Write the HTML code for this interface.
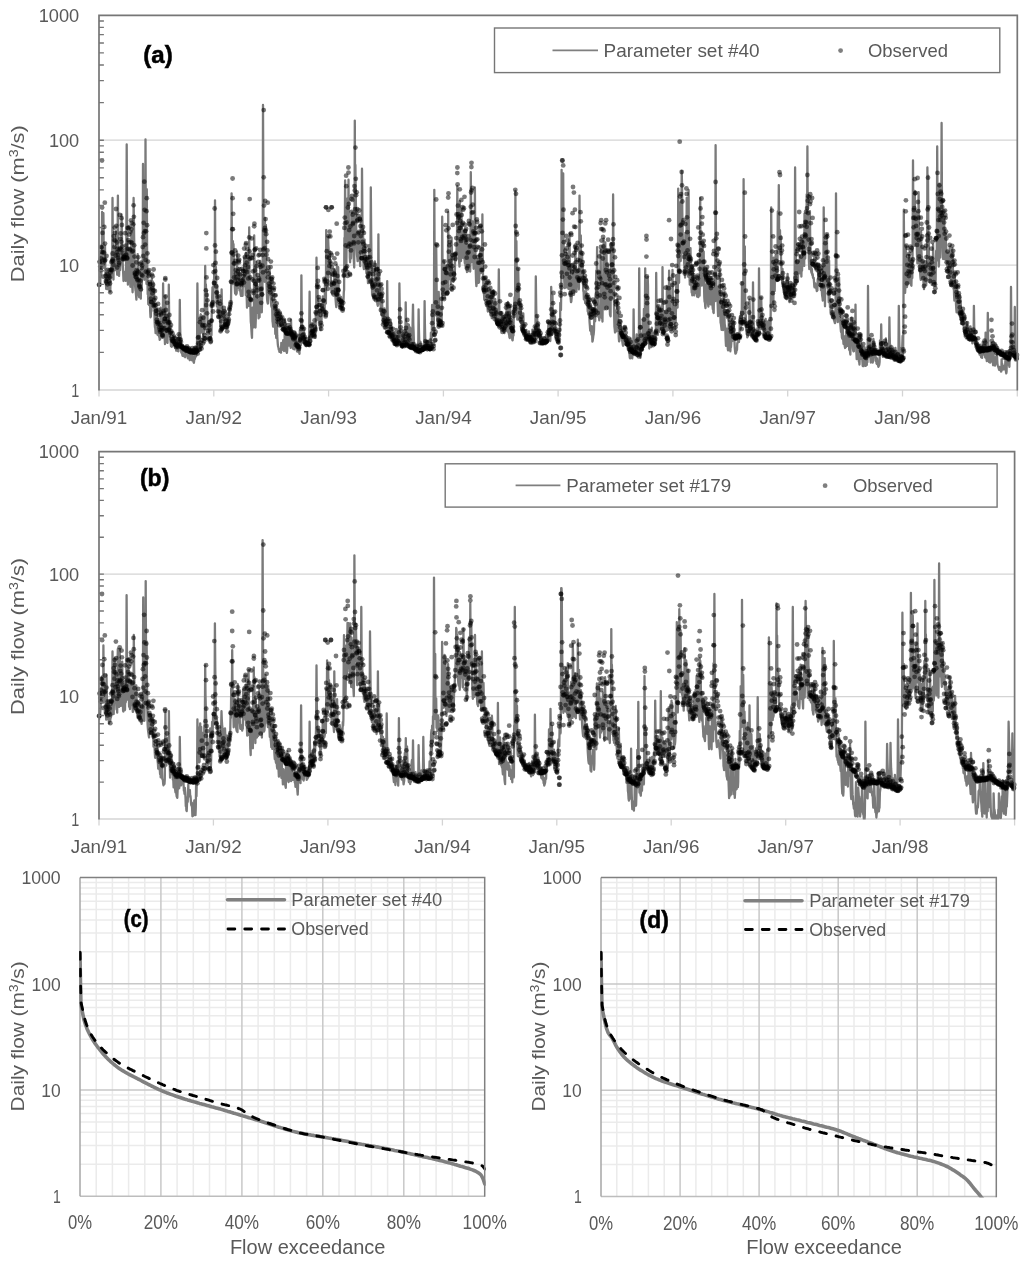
<!DOCTYPE html><html><head><meta charset="utf-8"><title>Figure</title><style>html,body{margin:0;padding:0;background:#fff}svg{display:block}text{font-family:"Liberation Sans",sans-serif}</style></head><body>
<svg width="1024" height="1263" viewBox="0 0 1024 1263">
<rect width="1024" height="1263" fill="#fff"/>
<line x1="99.0" x2="1017.3" y1="265.1" y2="265.1" stroke="#d4d4d4" stroke-width="1.2"/>
<line x1="99.0" x2="1017.3" y1="140.2" y2="140.2" stroke="#d4d4d4" stroke-width="1.2"/>
<line x1="99.0" x2="1017.3" y1="390.0" y2="390.0" stroke="#d4d4d4" stroke-width="1.4"/>
<line x1="99.0" x2="99.0" y1="390.0" y2="396.5" stroke="#d4d4d4" stroke-width="1.3"/>
<line x1="213.8" x2="213.8" y1="390.0" y2="396.5" stroke="#d4d4d4" stroke-width="1.3"/>
<line x1="328.6" x2="328.6" y1="390.0" y2="396.5" stroke="#d4d4d4" stroke-width="1.3"/>
<line x1="443.4" x2="443.4" y1="390.0" y2="396.5" stroke="#d4d4d4" stroke-width="1.3"/>
<line x1="558.1" x2="558.1" y1="390.0" y2="396.5" stroke="#d4d4d4" stroke-width="1.3"/>
<line x1="672.9" x2="672.9" y1="390.0" y2="396.5" stroke="#d4d4d4" stroke-width="1.3"/>
<line x1="787.7" x2="787.7" y1="390.0" y2="396.5" stroke="#d4d4d4" stroke-width="1.3"/>
<line x1="902.5" x2="902.5" y1="390.0" y2="396.5" stroke="#d4d4d4" stroke-width="1.3"/>
<line x1="1017.3" x2="1017.3" y1="390.0" y2="396.5" stroke="#d4d4d4" stroke-width="1.3"/>
<clipPath id="cpa"><rect x="99.0" y="15.3" width="918.3" height="375.3"/></clipPath>
<polyline clip-path="url(#cpa)" points="99,279.8 99.3,285.4 99.6,284.5 99.9,282.8 100.3,284 100.6,253.9 100.9,264 101.2,274.7 101.5,270.7 101.8,271.6 102.1,211.9 102.5,243.8 102.8,256.7 103.1,266.6 103.4,213.2 103.7,248.4 104,268.1 104.3,248.3 104.7,261.2 105,245.6 105.3,269.6 105.6,275.5 105.9,283.3 106.2,289 106.5,278.9 106.9,284.1 107.2,285.7 107.5,289.1 107.8,284.9 108.1,286.7 108.4,289.3 108.7,281.7 109.1,283.1 109.4,288.8 109.7,291.1 110,291.5 110.3,291.4 110.6,274 110.9,275.9 111.3,277.8 111.6,262.5 111.9,254.6 112.2,266.4 112.5,198 112.8,241.8 113.1,265.7 113.5,279.6 113.8,247 114.1,254.7 114.4,265.3 114.7,255.3 115,270.3 115.3,265.1 115.7,267.1 116,231.4 116.3,235.8 116.6,262.4 116.9,268 117.2,274.8 117.5,257.6 117.9,195.6 118.2,234.9 118.5,256.3 118.8,269.3 119.1,275.9 119.4,257.1 119.7,263.8 120.1,270.1 120.4,263.4 120.7,249.6 121,258.9 121.3,259.3 121.6,214.5 121.9,235.1 122.3,248.6 122.6,261.3 122.9,267.3 123.2,273.7 123.5,281 123.8,277.8 124.1,279.2 124.5,278.5 124.8,271.8 125.1,276.4 125.4,278.1 125.7,280.9 126,269.6 126.3,249.2 126.7,144.5 127,207.9 127.3,243.5 127.6,265.3 127.9,284.7 128.2,262.6 128.5,252.5 128.9,269.9 129.2,265 129.5,276.3 129.8,280 130.1,280.1 130.4,286.8 130.7,249.6 131.1,262.8 131.4,231.9 131.7,247.2 132,275 132.3,287.1 132.6,292.3 132.9,278.6 133.3,272.3 133.6,198 133.9,219.6 134.2,241.6 134.5,251.9 134.8,278.4 135.1,286 135.5,290.4 135.8,291.5 136.1,296 136.4,299.6 136.7,291.3 137,269.9 137.3,286 137.7,254.1 138,266.2 138.3,272.1 138.6,291.5 138.9,295.8 139.2,297.2 139.5,289 139.9,294.3 140.2,286.5 140.5,296.1 140.8,298.7 141.1,269.4 141.4,289 141.7,290.5 142.1,268.2 142.4,269.7 142.7,264.9 143,164 143.3,225 143.6,259.6 143.9,265.9 144.3,279.8 144.6,209.5 144.9,242.9 145.2,263 145.5,139.4 145.8,215 146.1,257.7 146.5,283.9 146.8,189.2 147.1,250.7 147.4,278.2 147.7,294.2 148,293.6 148.3,304.2 148.7,298.4 149,305 149.3,283 149.6,301.5 149.9,299.5 150.2,311.7 150.5,317.3 150.9,316.4 151.2,303.1 151.5,311.4 151.8,278.4 152.1,286.1 152.4,300 152.7,281.4 153.1,296.7 153.4,282.7 153.7,302.4 154,289.6 154.3,306.8 154.6,320.8 154.9,327 155.3,328.4 155.6,333.1 155.9,331 156.2,331.5 156.5,307.4 156.8,314.5 157.1,327.5 157.5,334.8 157.8,328.7 158.1,318.9 158.4,329.3 158.7,328.6 159,336.8 159.3,334.8 159.7,339.8 160,339.4 160.3,338.6 160.6,307.7 160.9,316.7 161.2,331.6 161.5,335.1 161.9,331.8 162.2,335.9 162.5,337.9 162.8,331.7 163.1,283.5 163.4,312.5 163.7,307.3 164.1,322.3 164.4,329.3 164.7,338.3 165,344.1 165.3,295.9 165.6,305.3 165.9,326.2 166.3,331.8 166.6,333.5 166.9,337.4 167.2,342.5 167.5,342.9 167.8,325.5 168.1,329.9 168.5,332.1 168.8,284.7 169.1,313.2 169.4,329 169.7,328.6 170,337 170.3,338.1 170.7,342.3 171,346.2 171.3,346.5 171.6,346.8 171.9,346.7 172.2,343.3 172.5,345.4 172.9,343.5 173.2,343.7 173.5,343.9 173.8,343.8 174.1,337.1 174.4,340.4 174.7,347 175.1,348 175.4,342.8 175.7,346.5 176,349 176.3,350.7 176.6,350.5 176.9,338.2 177.3,345.5 177.6,349.5 177.9,351.1 178.2,350.7 178.5,351.3 178.8,336.5 179.1,334.7 179.5,339.7 179.8,299.9 180.1,325 180.4,337.6 180.7,335.7 181,347.6 181.3,352.7 181.7,352 182,351.4 182.3,354.9 182.6,355.8 182.9,355.4 183.2,353.3 183.5,356.2 183.9,354.9 184.2,355.2 184.5,355.5 184.8,356.4 185.1,357.2 185.4,355.3 185.7,352.3 186.1,352.3 186.4,354.1 186.7,351.8 187,352.1 187.3,352.8 187.6,356.2 187.9,358.4 188.3,355.6 188.6,357.5 188.9,353.7 189.2,355.1 189.5,358.8 189.8,360.2 190.1,359.2 190.5,350.6 190.8,354.5 191.1,357.6 191.4,359.6 191.7,359.4 192,360.3 192.3,356.1 192.7,355 193,358.4 193.3,360.2 193.6,362.2 193.9,362.8 194.2,360.4 194.5,358.5 194.9,358.6 195.2,356 195.5,351.2 195.8,354.3 196.1,356.3 196.4,354.1 196.7,353 197.1,338.5 197.4,283.5 197.7,316 198,333.7 198.3,341 198.6,323.4 198.9,327.8 199.3,332.3 199.6,341.3 199.9,321.2 200.2,333 200.5,315.3 200.8,314.3 201.1,324.2 201.5,329.4 201.8,321.2 202.1,332.7 202.4,315.8 202.7,326.4 203,328.1 203.3,335 203.7,323.1 204,332.4 204.3,324 204.6,329 204.9,294.2 205.2,265.9 205.5,299.1 205.9,284.5 206.2,298.5 206.5,310.1 206.8,290.7 207.1,302.9 207.4,316.1 207.7,325.2 208.1,320.9 208.4,325.1 208.7,328.4 209,329.6 209.3,332.6 209.6,329.2 209.9,322.8 210.3,334 210.6,324.9 210.9,338.2 211.2,319.3 211.5,335.2 211.8,306.5 212.1,299.8 212.5,287.4 212.8,293 213.1,291 213.4,303.9 213.7,279.9 214,286.9 214.3,262.4 214.7,274.5 215,200.3 215.3,253 215.6,282.3 215.9,267 216.2,283.7 216.5,301.8 216.9,306.3 217.2,285.2 217.5,304.1 217.8,308.5 218.1,312.6 218.4,312.1 218.7,314.9 219.1,304.9 219.4,309 219.7,306.9 220,318.6 220.3,326.5 220.6,322.8 220.9,313.6 221.3,310.5 221.6,289.4 221.9,302 222.2,309.1 222.5,313.3 222.8,317.5 223.1,314.8 223.5,317 223.8,311.6 224.1,314.1 224.4,320.3 224.7,324.4 225,311.2 225.3,321.7 225.7,310.7 226,314.3 226.3,320.5 226.6,318.3 226.9,318.4 227.2,317.4 227.5,324.8 227.9,320.7 228.2,320.8 228.5,316.2 228.8,316.9 229.1,312.1 229.4,311.5 229.7,309.4 230.1,306.8 230.4,306.1 230.7,306.4 231,304.5 231.3,278.9 231.6,193.3 231.9,244.1 232.3,271.8 232.6,284 232.9,241.1 233.2,257.6 233.5,244.1 233.8,259 234.1,273.8 234.5,275.5 234.8,287.5 235.1,293.5 235.4,283.7 235.7,292.7 236,294.5 236.3,294.1 236.7,293.1 237,251.7 237.3,272.2 237.6,278 237.9,283.4 238.2,287.8 238.5,268.4 238.9,268.7 239.2,279 239.5,290.4 239.8,286.4 240.1,288 240.4,291.7 240.7,294.6 241.1,295.9 241.4,294.7 241.7,294.9 242,290.4 242.3,291.5 242.6,295.8 242.9,278.1 243.3,286.8 243.6,278.2 243.9,283 244.2,257.5 244.5,268.5 244.8,259.7 245.1,270.3 245.5,284.6 245.8,295.2 246.1,252.6 246.4,275.7 246.7,297.5 247,307.7 247.3,257.6 247.7,277 248,302.5 248.3,293.1 248.6,293.2 248.9,305.9 249.2,227.3 249.5,277.5 249.9,293.9 250.2,288.3 250.5,311.2 250.8,321.9 251.1,324.2 251.4,329.4 251.7,334.7 252,337.8 252.4,307.6 252.7,319.8 253,312.6 253.3,323.6 253.6,327.4 253.9,308.1 254.2,235.5 254.6,275.5 254.9,305.2 255.2,317.5 255.5,327.5 255.8,318.6 256.1,262 256.4,281.7 256.8,286.8 257.1,298.4 257.4,308.8 257.7,312.9 258,299.3 258.3,308.6 258.6,318.4 259,307.9 259.3,312.3 259.6,317.2 259.9,287.7 260.2,261 260.5,280.9 260.8,302.4 261.2,305.8 261.5,308.4 261.8,312.3 262.1,299.6 262.4,290.4 262.7,263.4 263,104.9 263.4,199.4 263.7,251.4 264,218.3 264.3,261.6 264.6,281.8 264.9,217.8 265.2,267 265.6,245.1 265.9,224.9 266.2,268.2 266.5,282.7 266.8,291.6 267.1,299.3 267.4,301.7 267.8,303.6 268.1,303.1 268.4,297.8 268.7,294.4 269,279.7 269.3,295.1 269.6,269.6 270,282.4 270.3,291.6 270.6,281.1 270.9,291 271.2,305.2 271.5,306.9 271.8,291.9 272.2,307.5 272.5,321 272.8,323.2 273.1,326.7 273.4,304.2 273.7,308.2 274,308.9 274.4,326.8 274.7,317.4 275,322.8 275.3,334 275.6,306.3 275.9,320.2 276.2,337.9 276.6,310.5 276.9,322.1 277.2,335.7 277.5,339.8 277.8,344.1 278.1,346.7 278.4,347.2 278.8,349.9 279.1,349.9 279.4,351.9 279.7,351.8 280,349.3 280.3,349 280.6,351.1 281,352.6 281.3,342.8 281.6,346.4 281.9,345.9 282.2,349.8 282.5,348.6 282.8,348.3 283.2,340.1 283.5,343.4 283.8,350.3 284.1,351 284.4,350.4 284.7,331.6 285,319.2 285.4,336.9 285.7,341.9 286,346.4 286.3,351.8 286.6,351.8 286.9,352.8 287.2,350.2 287.6,336.6 287.9,337.4 288.2,337.6 288.5,335.3 288.8,342.2 289.1,345.7 289.4,345.1 289.8,330.1 290.1,338.8 290.4,343.9 290.7,347.9 291,319.7 291.3,330.2 291.6,339.2 292,343.3 292.3,345.6 292.6,346.9 292.9,346.9 293.2,348.9 293.5,349 293.8,334.6 294.2,341.5 294.5,349.4 294.8,335.8 295.1,333.5 295.4,345 295.7,344.3 296,336.5 296.4,344.5 296.7,347.6 297,351.2 297.3,351.6 297.6,351.3 297.9,345 298.2,347.6 298.6,349.9 298.9,351.5 299.2,352.6 299.5,353.8 299.8,330.4 300.1,332.7 300.4,341.5 300.8,345.3 301.1,326.7 301.4,275.3 301.7,309.9 302,322.5 302.3,332.3 302.6,340.9 303,332.6 303.3,343.2 303.6,340.6 303.9,329 304.2,336.4 304.5,341.6 304.8,337.6 305.2,340.4 305.5,340.9 305.8,342.5 306.1,346.1 306.4,346.2 306.7,345.1 307,345.1 307.4,344.5 307.7,341.8 308,341.5 308.3,342.4 308.6,340.5 308.9,343.5 309.2,330.6 309.6,291.7 309.9,314.7 310.2,327.1 310.5,334.4 310.8,331.2 311.1,334.4 311.4,334.1 311.8,329.8 312.1,332.6 312.4,325.6 312.7,324.1 313,328.3 313.3,329.6 313.6,333.7 314,335.9 314.3,337.4 314.6,334.8 314.9,336.7 315.2,337.7 315.5,337.8 315.8,314.7 316.2,316.8 316.5,257.7 316.8,293 317.1,312.4 317.4,285.4 317.7,300.9 318,320 318.4,308.3 318.7,313.4 319,325 319.3,316.7 319.6,323.8 319.9,328.2 320.2,328.7 320.6,330.1 320.9,316.9 321.2,322.4 321.5,320.9 321.8,308.5 322.1,311.7 322.4,311.1 322.8,296.4 323.1,308.9 323.4,311.8 323.7,310.4 324,309.7 324.3,310.5 324.6,315.3 325,278.3 325.3,290.9 325.6,297.8 325.9,303.6 326.2,230.1 326.5,266.1 326.8,278.9 327.2,274.6 327.5,279.7 327.8,286 328.1,237 328.4,245.9 328.7,250.2 329,254.2 329.4,273.5 329.7,251.2 330,263.8 330.3,270.9 330.6,277.9 330.9,277.6 331.2,287.6 331.6,292.3 331.9,292.2 332.2,294.1 332.5,294.7 332.8,295.3 333.1,286 333.4,282.4 333.8,290.8 334.1,295.9 334.4,269.2 334.7,282.8 335,290.9 335.3,294.7 335.6,299.4 336,304.6 336.3,307.1 336.6,304.9 336.9,265.2 337.2,277.7 337.5,291.1 337.8,294.5 338.2,267.1 338.5,282.2 338.8,298.3 339.1,301.4 339.4,294.8 339.7,302 340,301.6 340.4,302.4 340.7,306.1 341,296.9 341.3,299.5 341.6,302.7 341.9,301.4 342.2,307.3 342.6,305.6 342.9,300.6 343.2,301.4 343.5,301.1 343.8,292.1 344.1,289.9 344.4,238 344.8,241.4 345.1,180.4 345.4,229.7 345.7,251.3 346,256.4 346.3,270.1 346.6,245 347,198.6 347.3,225.9 347.6,247.3 347.9,200 348.2,236.1 348.5,179.7 348.8,219.5 349.2,225.8 349.5,239.4 349.8,257.2 350.1,262.3 350.4,229.6 350.7,246.3 351,258.5 351.4,214.8 351.7,238.6 352,248.5 352.3,212.3 352.6,229.6 352.9,241.5 353.2,241 353.6,256.1 353.9,261.8 354.2,267.5 354.5,233.3 354.8,120.6 355.1,187.8 355.4,165 355.8,196.6 356.1,219.9 356.4,243.6 356.7,248.4 357,255.1 357.3,257.4 357.6,261.1 358,248.5 358.3,254.1 358.6,232 358.9,247.7 359.2,242.4 359.5,245.4 359.8,257.7 360.2,266.2 360.5,233 360.8,220.3 361.1,236.8 361.4,252.4 361.7,247.5 362,168.7 362.4,216.5 362.7,243.6 363,229 363.3,254.4 363.6,267.1 363.9,269.2 364.2,264.6 364.6,239.6 364.9,249.7 365.2,248.3 365.5,258.8 365.8,257.4 366.1,263 366.4,273.1 366.8,267.8 367.1,259.4 367.4,272.6 367.7,276.6 368,283.1 368.3,282.8 368.6,278.9 369,245.1 369.3,265.1 369.6,272.4 369.9,260.6 370.2,265.5 370.5,266.6 370.8,187.4 371.2,235.7 371.5,263 371.8,279.9 372.1,294.7 372.4,292.8 372.7,296.3 373,282.2 373.4,289.7 373.7,297.3 374,286.9 374.3,295.6 374.6,290.5 374.9,261.4 375.2,281 375.6,291.7 375.9,273 376.2,277.8 376.5,284.7 376.8,292.1 377.1,299.4 377.4,304.3 377.8,305.8 378.1,289.1 378.4,234.3 378.7,270.4 379,291.1 379.3,274.8 379.6,294.2 380,297.1 380.3,305 380.6,304.9 380.9,311.5 381.2,313.5 381.5,315.1 381.8,293.4 382.2,305.2 382.5,314 382.8,321.5 383.1,321.6 383.4,311.6 383.7,317.4 384,320.5 384.4,308.3 384.7,319.8 385,325 385.3,312.8 385.6,319.4 385.9,326.6 386.2,322.3 386.6,326.1 386.9,313.8 387.2,281.2 387.5,305.4 387.8,319.2 388.1,327.8 388.4,326.8 388.8,331.9 389.1,320.5 389.4,323.2 389.7,328.4 390,330.5 390.3,335.9 390.6,319.6 391,323.2 391.3,329 391.6,330.3 391.9,335.7 392.2,336.1 392.5,339.6 392.8,331.5 393.2,334.4 393.5,335.7 393.8,335.7 394.1,335.6 394.4,340.1 394.7,332.1 395,336.3 395.4,333.2 395.7,336.1 396,328.9 396.3,331.7 396.6,332.5 396.9,337.7 397.2,336.7 397.6,341.1 397.9,329.5 398.2,337.4 398.5,336.4 398.8,336.2 399.1,330.6 399.4,283.5 399.8,311.9 400.1,327.8 400.4,332.7 400.7,338.7 401,341.8 401.3,345.3 401.6,347.4 402,345.9 402.3,347.8 402.6,345.9 402.9,332.8 403.2,334.4 403.5,341.2 403.8,341.8 404.2,340.4 404.5,344.6 404.8,345.9 405.1,346.5 405.4,337.3 405.7,302.3 406,323.4 406.4,335.2 406.7,342.3 407,340.6 407.3,344.9 407.6,324 407.9,333.4 408.2,342.5 408.6,344.5 408.9,324.7 409.2,335.5 409.5,326.9 409.8,334.8 410.1,337 410.4,343.9 410.8,328.3 411.1,331 411.4,336.9 411.7,335.8 412,343.1 412.3,345.4 412.6,323.2 413,304.6 413.3,324.5 413.6,331.7 413.9,340.8 414.2,345.4 414.5,348.7 414.8,346.5 415.2,347.2 415.5,347.9 415.8,348.5 416.1,350.2 416.4,350 416.7,349.1 417,349.2 417.4,348.6 417.7,347.7 418,344.2 418.3,341.7 418.6,309.3 418.9,328.7 419.2,339.5 419.6,345.9 419.9,346.8 420.2,345.7 420.5,341.9 420.8,345.5 421.1,349 421.4,350.7 421.8,349.6 422.1,349.8 422.4,350.3 422.7,350.5 423,349.3 423.3,349.3 423.6,349.5 424,348 424.3,339.3 424.6,301.1 424.9,324 425.2,336.7 425.5,344.3 425.8,347.8 426.2,347.3 426.5,347.4 426.8,341.5 427.1,344.1 427.4,345.5 427.7,341 428,345.5 428.4,345.8 428.7,345.4 429,347.6 429.3,348.6 429.6,348.1 429.9,350.6 430.2,349.3 430.6,348 430.9,332.7 431.2,335.5 431.5,337.5 431.8,337.8 432.1,305 432.4,308.5 432.8,321.8 433.1,325.5 433.4,332.8 433.7,335.5 434,302.6 434.3,189.8 434.6,256.6 435,293 435.3,314.3 435.6,309.5 435.9,315.4 436.2,245.3 436.5,273.2 436.8,311.2 437.2,313.6 437.5,322.4 437.8,325.3 438.1,322.2 438.4,325.4 438.7,291.9 439,301.1 439.4,310.5 439.7,319.8 440,324.5 440.3,320.6 440.6,317.7 440.9,321.6 441.2,317.4 441.6,323 441.9,290.4 442.2,216.7 442.5,260 442.8,283.4 443.1,290.6 443.4,293.7 443.8,261 444.1,279.7 444.4,287.5 444.7,281.3 445,287.3 445.3,292.6 445.6,294.6 446,265.3 446.3,269.2 446.6,276.6 446.9,281.5 447.2,290.7 447.5,290.2 447.8,291 448.2,212.2 448.5,260.5 448.8,267.4 449.1,279.2 449.4,260.8 449.7,275.6 450,274.2 450.4,269.4 450.7,283.9 451,242.3 451.3,259.8 451.6,237.7 451.9,249.8 452.2,272.5 452.6,273.3 452.9,281.6 453.2,279.3 453.5,281.8 453.8,270.8 454.1,274 454.4,274.2 454.8,275.6 455.1,258.7 455.4,260.2 455.7,260.9 456,255.2 456.3,258.6 456.6,248.6 457,240.7 457.3,186.2 457.6,224.8 457.9,246.5 458.2,218.6 458.5,229.9 458.8,248.2 459.2,262.7 459.5,266.6 459.8,201 460.1,215.5 460.4,241.4 460.7,251.9 461,261 461.4,210.1 461.7,224 462,238 462.3,248.5 462.6,243.9 462.9,253 463.2,257.9 463.6,258.3 463.9,230.8 464.2,247.2 464.5,256.4 464.8,263.1 465.1,248.2 465.4,264.7 465.8,267.6 466.1,232.3 466.4,248.1 466.7,268.6 467,272.1 467.3,244.1 467.6,255.3 468,263.1 468.3,267.2 468.6,268.3 468.9,271.2 469.2,244.9 469.5,257.8 469.8,264.7 470.2,271.5 470.5,255.9 470.8,172.2 471.1,208.5 471.4,244.5 471.7,262 472,249.5 472.4,256.5 472.7,221.3 473,251.3 473.3,260.2 473.6,268.8 473.9,262.8 474.2,257.6 474.6,261.6 474.9,187.4 475.2,232.1 475.5,257 475.8,272.1 476.1,282.4 476.4,286.1 476.8,282.7 477.1,281.1 477.4,282.2 477.7,259.4 478,275.2 478.3,278.8 478.6,282.9 479,282.3 479.3,276.3 479.6,254.9 479.9,264.7 480.2,250.4 480.5,261 480.8,273.2 481.2,258.7 481.5,267 481.8,255.2 482.1,254.9 482.4,214.4 482.7,252.2 483,273.9 483.4,287.2 483.7,293 484,294.3 484.3,299.8 484.6,291 484.9,297.9 485.2,278.4 485.6,286.3 485.9,297.6 486.2,299.4 486.5,293.7 486.8,287.7 487.1,300.3 487.4,306.2 487.8,311.5 488.1,291.1 488.4,304 488.7,309.7 489,293.1 489.3,304.9 489.6,304.7 490,312.5 490.3,290.3 490.6,305.6 490.9,306.9 491.2,310.1 491.5,313.7 491.8,318.2 492.2,297.9 492.5,304.5 492.8,297.6 493.1,303.6 493.4,290.4 493.7,304.9 494,312.7 494.4,316.7 494.7,309 495,304.4 495.3,299.2 495.6,307.2 495.9,317.2 496.2,323 496.6,321.7 496.9,321.7 497.2,324.6 497.5,319.6 497.8,323.6 498.1,316.7 498.4,314.3 498.8,269.5 499.1,296.8 499.4,312.3 499.7,320.2 500,324.3 500.3,317.9 500.6,319.8 501,325.6 501.3,312 501.6,318.6 501.9,324.2 502.2,327.9 502.5,327.9 502.8,319.2 503.2,318.2 503.5,322.5 503.8,327 504.1,329.2 504.4,333.1 504.7,322.1 505,318 505.4,326.1 505.7,323.6 506,322.1 506.3,330.7 506.6,305.5 506.9,316.1 507.2,325.6 507.6,331.7 507.9,302 508.2,318.7 508.5,327.7 508.8,334 509.1,334 509.4,337.2 509.8,338.1 510.1,306.2 510.4,323.4 510.7,328 511,331.8 511.3,332.7 511.6,333.6 512,335.4 512.3,339.8 512.6,340.3 512.9,337.3 513.2,335.4 513.5,335.5 513.8,309.9 514.2,306.5 514.5,297.5 514.8,310.1 515.1,299.4 515.4,190.9 515.7,255 516,290.6 516.4,241.1 516.7,277.4 517,307.7 517.3,319.6 517.6,311.2 517.9,314.4 518.2,268.6 518.6,288.5 518.9,310.3 519.2,315.6 519.5,313.3 519.8,318.4 520.1,321.7 520.4,321.6 520.8,304.7 521.1,319.9 521.4,323.4 521.7,322.4 522,324.4 522.3,325.6 522.6,326.4 523,329.8 523.3,313.5 523.6,323.6 523.9,325.2 524.2,330.4 524.5,331.3 524.8,332.7 525.2,335.1 525.5,338 525.8,339.1 526.1,339.6 526.4,329.8 526.7,333.8 527,336.8 527.4,338.3 527.7,339.2 528,337.8 528.3,339.8 528.6,337.7 528.9,331.4 529.2,336.9 529.6,336.5 529.9,338.8 530.2,336.3 530.5,336.6 530.8,336.9 531.1,338.4 531.4,336.4 531.8,337 532.1,338 532.4,329.6 532.7,330.7 533,333.1 533.3,337.4 533.6,339.8 534,338.4 534.3,337.3 534.6,338 534.9,340.8 535.2,327 535.5,325.7 535.8,276.5 536.2,306 536.5,322.5 536.8,332.4 537.1,316.1 537.4,323.4 537.7,327.6 538,326.3 538.4,335.5 538.7,325.7 539,332.2 539.3,330.4 539.6,336.1 539.9,337.1 540.2,339.5 540.6,340.1 540.9,334.3 541.2,336.8 541.5,340.6 541.8,341.1 542.1,339.7 542.4,339.6 542.8,340.2 543.1,339.3 543.4,339.4 543.7,340.8 544,342 544.3,337.4 544.6,338.4 545,337.9 545.3,338.1 545.6,340.3 545.9,340.8 546.2,342.7 546.5,342.4 546.8,340.9 547.2,342.6 547.5,342.6 547.8,342.4 548.1,333.9 548.4,322.6 548.7,330 549,331.1 549.4,338.8 549.7,323.1 550,335.4 550.3,341 550.6,330.5 550.9,329.2 551.2,287 551.6,312.3 551.9,326.4 552.2,334.8 552.5,296.2 552.8,319.3 553.1,330.2 553.4,333.4 553.8,328.5 554.1,327.2 554.4,329.6 554.7,332.6 555,316.5 555.3,329.5 555.6,337.4 556,338.2 556.3,339.3 556.6,333.2 556.9,337.7 557.2,336.9 557.5,340.2 557.8,340.5 558.1,333.3 558.5,341.6 558.8,340.1 559.1,338.3 559.4,336.7 559.7,331.3 560,329.7 560.3,302.8 560.7,307.3 561,310.1 561.3,285.8 561.6,169.8 561.9,237.3 562.2,273.1 562.5,250 562.9,260 563.2,173.4 563.5,233.9 563.8,260.4 564.1,276.4 564.4,283.4 564.7,288.2 565.1,273.8 565.4,255.6 565.7,268.8 566,280.7 566.3,287.3 566.6,253.1 566.9,267.4 567.3,287.4 567.6,276 567.9,264.8 568.2,274.7 568.5,289.1 568.8,266.8 569.1,259.1 569.5,233.1 569.8,264.1 570.1,281.3 570.4,291.6 570.7,298.6 571,302.1 571.3,301.6 571.7,297.5 572,280.6 572.3,293.4 572.6,274 572.9,286.7 573.2,289.4 573.5,293.6 573.9,294.9 574.2,293.1 574.5,261.9 574.8,283.2 575.1,276.3 575.4,248 575.7,269.7 576.1,281.1 576.4,291.8 576.7,269.6 577,278.5 577.3,282.7 577.6,285.8 577.9,276.6 578.3,281.4 578.6,284.7 578.9,289.4 579.2,270.6 579.5,195.6 579.8,240.3 580.1,265 580.5,277.9 580.8,235.4 581.1,270.5 581.4,275.7 581.7,280.5 582,253.8 582.3,260.4 582.7,268.9 583,282.9 583.3,291.1 583.6,291.5 583.9,299.4 584.2,291.2 584.5,297.8 584.9,299.1 585.2,303.1 585.5,299.3 585.8,291.3 586.1,301.3 586.4,292.5 586.7,297.5 587.1,305.6 587.4,302.7 587.7,311.2 588,311.6 588.3,314.5 588.6,300.5 588.9,311.1 589.3,316.6 589.6,322.4 589.9,326.2 590.2,330.7 590.5,329.3 590.8,330.5 591.1,330.2 591.5,334.7 591.8,326.1 592.1,333.5 592.4,341.7 592.7,340.7 593,338.7 593.3,335.9 593.7,334 594,330.3 594.3,317.5 594.6,312.4 594.9,321.5 595.2,320.9 595.5,294.8 595.9,299.6 596.2,270.7 596.5,293.3 596.8,271.6 597.1,247.2 597.4,279 597.7,296.9 598.1,307.8 598.4,316.9 598.7,314.8 599,316.8 599.3,320.3 599.6,315.3 599.9,312.4 600.3,313.7 600.6,249.6 600.9,275.2 601.2,295.5 601.5,311.3 601.8,318.2 602.1,315.8 602.5,321.6 602.8,275.4 603.1,286.7 603.4,263.7 603.7,238.6 604,284.4 604.3,305.7 604.7,309.4 605,298.3 605.3,242.5 605.6,259.9 605.9,278.8 606.2,304.8 606.5,253.7 606.9,281.6 607.2,298.7 607.5,308.7 607.8,264.8 608.1,295 608.4,306.7 608.7,290.7 609.1,270.3 609.4,282.7 609.7,307.8 610,314.8 610.3,315.4 610.6,316.3 610.9,243 611.3,256.4 611.6,255.4 611.9,290.7 612.2,271.3 612.5,297.7 612.8,296.7 613.1,194.5 613.5,256.5 613.8,291.4 614.1,312.8 614.4,326.3 614.7,329 615,332.5 615.3,310.6 615.7,322.6 616,329.4 616.3,331.4 616.6,330.1 616.9,307 617.2,298.9 617.5,310.2 617.9,319.3 618.2,316.9 618.5,325.6 618.8,337.8 619.1,341.4 619.4,340.8 619.7,331 620.1,332.4 620.4,332.5 620.7,323.9 621,331.7 621.3,337.1 621.6,337.5 621.9,338.8 622.3,341.3 622.6,343.5 622.9,345.3 623.2,345.7 623.5,334.7 623.8,341.2 624.1,340.9 624.5,335.9 624.8,341.2 625.1,344 625.4,340 625.7,345 626,335.9 626.3,338.7 626.7,341 627,336.2 627.3,340.7 627.6,347.4 627.9,349.8 628.2,338.4 628.5,343 628.9,339.7 629.2,349.2 629.5,354.2 629.8,357.7 630.1,358.4 630.4,347.7 630.7,338.4 631.1,352.9 631.4,353.9 631.7,355.6 632,354.8 632.3,358.4 632.6,350.4 632.9,351.9 633.3,348.8 633.6,309.3 633.9,333 634.2,346.2 634.5,352.8 634.8,350.2 635.1,351.1 635.5,348.7 635.8,350.6 636.1,353.4 636.4,339.2 636.7,334.3 637,341.2 637.3,344.9 637.7,352.3 638,335.4 638.3,347.9 638.6,349.2 638.9,337.9 639.2,268.3 639.5,309.7 639.9,332.5 640.2,346 640.5,357.8 640.8,333.5 641.1,347.6 641.4,348.9 641.7,347.8 642.1,350 642.4,349.7 642.7,319.5 643,333.7 643.3,334.2 643.6,339 643.9,308.9 644.3,322.7 644.6,329.5 644.9,310.2 645.2,268.3 645.5,306.8 645.8,328.1 646.1,338.2 646.5,343.5 646.8,288.2 647.1,317.2 647.4,297.7 647.7,277 648,286 648.3,323.9 648.7,334 649,340.5 649.3,348.5 649.6,329.8 649.9,339.5 650.2,344.8 650.5,346.7 650.9,346.4 651.2,347 651.5,347 651.8,327.7 652.1,333.6 652.4,338.2 652.7,342.9 653.1,334.5 653.4,340 653.7,342.7 654,334.6 654.3,336.9 654.6,343.1 654.9,344.8 655.3,341.9 655.6,342.7 655.9,327.7 656.2,273 656.5,305.6 656.8,323.6 657.1,324.1 657.5,330.5 657.8,334.9 658.1,306.6 658.4,320.4 658.7,312.4 659,329 659.3,331.8 659.7,322.3 660,329.2 660.3,329.2 660.6,328.8 660.9,307.9 661.2,313.8 661.5,314.6 661.9,323.2 662.2,322.5 662.5,267.1 662.8,300.1 663.1,318.3 663.4,329 663.7,334.1 664.1,332.3 664.4,311.2 664.7,323.1 665,314.4 665.3,322.2 665.6,327.6 665.9,329.4 666.3,331.1 666.6,331.1 666.9,286 667.2,307.6 667.5,318.1 667.8,320.8 668.1,326.6 668.5,329.8 668.8,320.4 669.1,270.6 669.4,300.4 669.7,283.3 670,314.9 670.3,317.6 670.7,326.8 671,313.5 671.3,324 671.6,328.2 671.9,327.4 672.2,327.4 672.5,269.9 672.9,305.4 673.2,309.5 673.5,305.7 673.8,314.2 674.1,316.5 674.4,324.2 674.7,307.9 675.1,314 675.4,322.3 675.7,322 676,306.7 676.3,275.2 676.6,283.8 676.9,296.5 677.3,303 677.6,307.6 677.9,281.2 678.2,188.6 678.5,241.3 678.8,268.4 679.1,282.8 679.5,202.6 679.8,229.9 680.1,217.4 680.4,251 680.7,261.1 681,230.3 681.3,243.5 681.7,171 682,183.3 682.3,212.4 682.6,230.5 682.9,243.3 683.2,253.5 683.5,240.7 683.9,254.9 684.2,263.2 684.5,270.5 684.8,271 685.1,277.6 685.4,232.9 685.7,254.1 686.1,266 686.4,269.8 686.7,197.8 687,231.2 687.3,249.2 687.6,264.8 687.9,275.1 688.3,276.8 688.6,189.9 688.9,246.1 689.2,266.5 689.5,275.8 689.8,284.6 690.1,262.5 690.5,248.1 690.8,268.9 691.1,278.9 691.4,286.6 691.7,292.7 692,291.2 692.3,295.3 692.7,265.9 693,283.9 693.3,282.3 693.6,283.8 693.9,290.6 694.2,295.4 694.5,285.6 694.9,289.4 695.2,292.8 695.5,286.6 695.8,290 696.1,281 696.4,287.2 696.7,292.3 697.1,296.6 697.4,295.7 697.7,293.5 698,294.6 698.3,297.2 698.6,279 698.9,283.6 699.3,293.9 699.6,295.7 699.9,279.1 700.2,198 700.5,247.2 700.8,258.7 701.1,269.1 701.5,275.6 701.8,285.7 702.1,251 702.4,267.3 702.7,246.1 703,259.8 703.3,251.4 703.7,251.6 704,284.2 704.3,297.4 704.6,301.8 704.9,300.9 705.2,306.4 705.5,308 705.9,299.5 706.2,284.3 706.5,296.4 706.8,268.4 707.1,277 707.4,289.8 707.7,294.8 708.1,304.5 708.4,306.6 708.7,281.2 709,288.9 709.3,293.4 709.6,282.7 709.9,292.9 710.3,299.8 710.6,304.4 710.9,288.8 711.2,293.3 711.5,303.1 711.8,286.6 712.1,300.6 712.5,305.6 712.8,309.1 713.1,308.1 713.4,312.5 713.7,313 714,287.8 714.3,290.1 714.7,300 715,301.2 715.3,259.1 715.6,145.2 715.9,224.5 716.2,268.8 716.5,295.5 716.9,300.9 717.2,286.4 717.5,297.8 717.8,308.5 718.1,316.2 718.4,309.2 718.7,314.2 719.1,314.8 719.4,290.8 719.7,270.3 720,294.7 720.3,313 720.6,322.6 720.9,323.7 721.3,327.2 721.6,329.8 721.9,320.5 722.2,305.9 722.5,321.3 722.8,327.1 723.1,330.1 723.5,303 723.8,316.5 724.1,292.8 724.4,316.3 724.7,324.2 725,325.8 725.3,328.8 725.7,340.4 726,345.9 726.3,345.9 726.6,343.1 726.9,328.6 727.2,338.5 727.5,343.4 727.9,349.8 728.2,350.3 728.5,333.8 728.8,320.8 729.1,321.5 729.4,335.3 729.7,338.6 730.1,340.8 730.4,351.4 730.7,342.9 731,347.3 731.3,342.6 731.6,338 731.9,318.7 732.3,332.4 732.6,340.8 732.9,321.9 733.2,334.5 733.5,337.9 733.8,321.7 734.1,332.9 734.5,341.7 734.8,348.2 735.1,351.3 735.4,353.7 735.7,353.5 736,353 736.3,351.9 736.7,348.3 737,350 737.3,343 737.6,342.8 737.9,341.2 738.2,338.4 738.5,340.6 738.9,342 739.2,339.3 739.5,337.6 739.8,317.6 740.1,324.5 740.4,324.2 740.7,329 741.1,311.3 741.4,315.9 741.7,325.4 742,282.4 742.3,292.9 742.6,306 742.9,314.7 743.3,299.9 743.6,179.2 743.9,251.6 744.2,291.7 744.5,281.1 744.8,246.3 745.1,293.7 745.5,319.2 745.8,315.1 746.1,329 746.4,330.7 746.7,334.1 747,332.2 747.3,337.4 747.7,332.4 748,336.3 748.3,333.9 748.6,333.9 748.9,328 749.2,330.9 749.5,299.7 749.9,315 750.2,326.7 750.5,330.6 750.8,331.1 751.1,321.4 751.4,324.8 751.7,326.6 752.1,334.7 752.4,331.9 752.7,323.9 753,282.3 753.3,307.2 753.6,321 753.9,329.2 754.3,335.2 754.6,336.1 754.9,334.5 755.2,332.6 755.5,335.6 755.8,335.9 756.1,336.5 756.5,334.4 756.8,337.3 757.1,332.3 757.4,328.3 757.7,331.2 758,325 758.3,329.4 758.7,319.3 759,268.3 759.3,298.5 759.6,314.7 759.9,324.1 760.2,314.9 760.5,320.8 760.9,323 761.2,297.6 761.5,308.5 761.8,315.5 762.1,322.9 762.4,324.5 762.7,326.2 763.1,323.3 763.4,325.6 763.7,327 764,321.8 764.3,331.4 764.6,321.6 764.9,326.7 765.3,321.3 765.6,318.9 765.9,332.6 766.2,324.2 766.5,333.2 766.8,324.7 767.1,321.6 767.5,332.4 767.8,329.6 768.1,322.7 768.4,331.3 768.7,320.9 769,326.9 769.3,333.2 769.7,338.3 770,336.1 770.3,329.5 770.6,323.4 770.9,287.6 771.2,207.3 771.5,254.4 771.9,279.7 772.2,260.2 772.5,282.3 772.8,298.5 773.1,300.1 773.4,304.1 773.7,257.7 774.1,284.9 774.4,289.7 774.7,291.1 775,266.2 775.3,275.5 775.6,255.2 775.9,272 776.3,274.8 776.6,276.8 776.9,281.1 777.2,280.5 777.5,261.9 777.8,211.5 778.1,225.2 778.5,235.8 778.8,185.1 779.1,229.3 779.4,245.7 779.7,251.3 780,230.2 780.3,247.5 780.7,235.8 781,257.2 781.3,264.9 781.6,271.8 781.9,276.1 782.2,282.7 782.5,268.8 782.9,280.2 783.2,282.4 783.5,287.6 783.8,287.5 784.1,289.6 784.4,291 784.7,293.5 785.1,293.2 785.4,295.1 785.7,296.4 786,297.3 786.3,299 786.6,299.3 786.9,279 787.3,277.9 787.6,273.8 787.9,287.9 788.2,295.7 788.5,290.2 788.8,296.6 789.1,301.4 789.5,302 789.8,296 790.1,285.6 790.4,295.4 790.7,295 791,296.8 791.3,298.7 791.7,294.2 792,294.4 792.3,294.8 792.6,294.1 792.9,293.1 793.2,292.8 793.5,297.2 793.9,293.1 794.2,293.3 794.5,294.8 794.8,253.5 795.1,167.5 795.4,219 795.7,247.5 796.1,264.5 796.4,283.9 796.7,281 797,278.6 797.3,281 797.6,281.9 797.9,281.4 798.3,264.2 798.6,267.1 798.9,268.3 799.2,270.7 799.5,273.3 799.8,255.1 800.1,256.2 800.5,263.5 800.8,272.8 801.1,271.2 801.4,276.6 801.7,258.6 802,270.8 802.3,263.6 802.7,257 803,238.9 803.3,245.8 803.6,257.3 803.9,263.7 804.2,265.9 804.5,213.6 804.9,244.5 805.2,258.5 805.5,240.3 805.8,228.1 806.1,246.5 806.4,241.9 806.7,194.3 807.1,227.7 807.4,146.4 807.7,206.2 808,230.9 808.3,215.9 808.6,235.6 808.9,260.1 809.3,269.1 809.6,219.1 809.9,211.1 810.2,238.8 810.5,248.4 810.8,262.5 811.1,270.8 811.5,272.7 811.8,268.8 812.1,273.9 812.4,275.1 812.7,274.1 813,277.7 813.3,278.2 813.7,277.8 814,281.5 814.3,286.3 814.6,287.3 814.9,284.7 815.2,283.3 815.5,285.3 815.9,286.5 816.2,288.3 816.5,289.1 816.8,291.1 817.1,290.6 817.4,290.4 817.7,279.2 818.1,282.2 818.4,266.2 818.7,266.7 819,273 819.3,276.7 819.6,283 819.9,271.8 820.3,281.8 820.6,284.1 820.9,290.2 821.2,286.3 821.5,286.5 821.8,290.1 822.1,295.2 822.5,297.5 822.8,300.6 823.1,268.7 823.4,279.9 823.7,207.3 824,251.4 824.3,276.2 824.7,291.5 825,306.3 825.3,279.9 825.6,242.5 825.9,257.8 826.2,272.3 826.5,239.3 826.9,234.6 827.2,265.5 827.5,281 827.8,288.2 828.1,275.2 828.4,290.5 828.7,302.2 829.1,260.5 829.4,294.8 829.7,300.9 830,307.3 830.3,301.8 830.6,312.7 830.9,314.4 831.3,312.5 831.6,313 831.9,304.3 832.2,311.8 832.5,311.8 832.8,313.6 833.1,315.3 833.5,316.5 833.8,318.3 834.1,320.8 834.4,320.3 834.7,322.7 835,323.1 835.3,321.9 835.7,291.8 836,193.3 836.3,252.8 836.6,286.2 836.9,306.6 837.2,314.5 837.5,316.9 837.9,322.2 838.2,304.1 838.5,310.9 838.8,319.3 839.1,277.5 839.4,305.4 839.7,317.2 840.1,320.2 840.4,324.7 840.7,328.7 841,332 841.3,328.3 841.6,332.2 841.9,337.3 842.3,338.6 842.6,325 842.9,331.1 843.2,339.5 843.5,344 843.8,341.5 844.1,344 844.5,340.8 844.8,346.6 845.1,348 845.4,335.9 845.7,343.2 846,346.9 846.3,332.1 846.7,322.6 847,329.9 847.3,327 847.6,344.2 847.9,345.8 848.2,327.5 848.5,337.7 848.9,343.3 849.2,349.7 849.5,350.3 849.8,348.4 850.1,352.5 850.4,354.6 850.7,322.5 851.1,335.8 851.4,317.8 851.7,318 852,325.6 852.3,338.7 852.6,341.6 852.9,348.6 853.3,350.8 853.6,351.3 853.9,351.2 854.2,322.3 854.5,329.5 854.8,341 855.1,345.8 855.5,304.6 855.8,329.7 856.1,343.9 856.4,352.6 856.7,359.2 857,351.8 857.3,357.8 857.7,334.1 858,343.2 858.3,350.4 858.6,358.4 858.9,361.5 859.2,362.1 859.5,364.5 859.9,351.3 860.2,359.2 860.5,334.9 860.8,342.6 861.1,352.1 861.4,344.2 861.7,348.7 862.1,351.6 862.4,361 862.7,366 863,362.6 863.3,365.8 863.6,366.1 863.9,360.8 864.2,356.8 864.6,362.7 864.9,364.1 865.2,365.2 865.5,365.3 865.8,365.8 866.1,357 866.4,361.7 866.8,365 867.1,356.7 867.4,362.2 867.7,348.2 868,285.9 868.3,323.2 868.6,343.8 869,356.1 869.3,355.2 869.6,356.7 869.9,340.5 870.2,355.8 870.5,358.6 870.8,362.5 871.2,357.8 871.5,349.2 871.8,356.7 872.1,347.2 872.4,356.7 872.7,362.6 873,360.7 873.4,338.8 873.7,341.9 874,343.4 874.3,351.5 874.6,357.1 874.9,351.7 875.2,354.1 875.6,360.5 875.9,361.3 876.2,357.4 876.5,363.4 876.8,363.8 877.1,358.5 877.4,361.6 877.8,364.4 878.1,365.7 878.4,366.8 878.7,364.5 879,365.8 879.3,364.3 879.6,361.8 880,340.3 880.3,341.1 880.6,347.4 880.9,343.9 881.2,324.5 881.5,341.2 881.8,350 882.2,353.4 882.5,351.9 882.8,356.8 883.1,348.1 883.4,351.9 883.7,352.5 884,352.7 884.4,353.5 884.7,356.1 885,343.4 885.3,346.8 885.6,349.4 885.9,338.5 886.2,345.9 886.6,349.3 886.9,355.4 887.2,355.8 887.5,355.8 887.8,344.1 888.1,350 888.4,355.4 888.8,357.5 889.1,348.5 889.4,317.5 889.7,336.1 890,346.4 890.3,344.8 890.6,349 891,351.8 891.3,353.2 891.6,349.8 891.9,351.2 892.2,351.9 892.5,353.1 892.8,356.4 893.2,350.8 893.5,348.7 893.8,352.8 894.1,357.5 894.4,358.8 894.7,360.2 895,358.8 895.4,347.9 895.7,352.6 896,354.5 896.3,356.9 896.6,358.5 896.9,357.6 897.2,357.3 897.6,355.9 897.9,358.9 898.2,358.1 898.5,347.5 898.8,305.8 899.1,330.9 899.4,345 899.8,353.5 900.1,354 900.4,354.2 900.7,357.7 901,355.2 901.3,347.8 901.6,351.7 902,352.9 902.3,345.3 902.6,336 902.9,357.3 903.2,345.3 903.5,299.7 903.8,209.7 904.2,261.1 904.5,287.6 904.8,285.1 905.1,292.9 905.4,286.8 905.7,245.7 906,257.1 906.4,272.1 906.7,278.5 907,287 907.3,272.8 907.6,266.7 907.9,283.7 908.2,258.5 908.6,275.6 908.9,282.7 909.2,254.8 909.5,265.8 909.8,272.5 910.1,282 910.4,281.7 910.8,284.6 911.1,284.9 911.4,285.7 911.7,274 912,278.4 912.3,277.9 912.6,250.9 913,160.5 913.3,213.6 913.6,242.2 913.9,234.9 914.2,226.1 914.5,245.8 914.8,191 915.2,219.8 915.5,229.6 915.8,242 916.1,211.3 916.4,229.8 916.7,241.3 917,254.6 917.4,263.4 917.7,262.3 918,221.7 918.3,240.1 918.6,192.1 918.9,231.2 919.2,253.4 919.6,267.1 919.9,270.8 920.2,274 920.5,277.9 920.8,279.9 921.1,231.7 921.4,250.1 921.8,260.3 922.1,256.9 922.4,266.3 922.7,267 923,276.7 923.3,278.4 923.6,284.8 924,289.2 924.3,279.6 924.6,285.6 924.9,284.9 925.2,269.5 925.5,275.1 925.8,282.4 926.2,285.3 926.5,277.2 926.8,274.6 927.1,261.1 927.4,167.5 927.7,223.7 928,175.5 928.4,236.4 928.7,234.4 929,260.9 929.3,273.1 929.6,280.9 929.9,282.5 930.2,271.1 930.6,270.8 930.9,276.5 931.2,260.9 931.5,275.6 931.8,284.9 932.1,272 932.4,268.4 932.8,277.7 933.1,244.6 933.4,260.6 933.7,264.8 934,279.2 934.3,281.8 934.6,283.1 935,284 935.3,283.3 935.6,282.3 935.9,259.4 936.2,250.7 936.5,260.6 936.8,249.7 937.2,146.4 937.5,199.1 937.8,204 938.1,245 938.4,248.8 938.7,266.6 939,264.8 939.4,183.6 939.7,209.2 940,245.3 940.3,257.5 940.6,203.8 940.9,220.1 941.2,232.3 941.6,123 941.9,187.6 942.2,222.7 942.5,243.1 942.8,252.1 943.1,259 943.4,221.5 943.8,237.8 944.1,219.7 944.4,232.7 944.7,247.4 945,259.4 945.3,257.2 945.6,233.9 946,245.2 946.3,248.8 946.6,257.8 946.9,264.8 947.2,266.3 947.5,252.7 947.8,260.4 948.2,265 948.5,273.7 948.8,273.9 949.1,269.1 949.4,271.6 949.7,246.7 950,261.5 950.4,270.3 950.7,276.1 951,276.1 951.3,279.1 951.6,285.1 951.9,268.8 952.2,248.3 952.6,257.6 952.9,268.2 953.2,273.9 953.5,289 953.8,284.9 954.1,295.8 954.4,300.7 954.8,273.8 955.1,292.7 955.4,300.9 955.7,289.9 956,304.1 956.3,309 956.6,312.3 957,284.8 957.3,303 957.6,309.9 957.9,310.4 958.2,312.5 958.5,313.8 958.8,306.2 959.2,313.1 959.5,305.4 959.8,294.9 960.1,306.5 960.4,316.5 960.7,300.2 961,315.1 961.4,323.8 961.7,320.2 962,310 962.3,319.6 962.6,315.3 962.9,320.3 963.2,325 963.6,322.2 963.9,331 964.2,329.7 964.5,333.4 964.8,336.7 965.1,335.4 965.4,335.1 965.8,337.9 966.1,338.3 966.4,337 966.7,322.2 967,327.1 967.3,330.5 967.6,333.1 968,337.7 968.3,328.3 968.6,330.2 968.9,337.2 969.2,337.5 969.5,338 969.8,340.4 970.2,339.7 970.5,326.5 970.8,330.4 971.1,331.8 971.4,333.8 971.7,338.4 972,338.1 972.4,343.4 972.7,330.8 973,334.9 973.3,339.2 973.6,337.9 973.9,305.8 974.2,325.4 974.6,336.7 974.9,343.7 975.2,340.6 975.5,343.5 975.8,339 976.1,341.5 976.4,345.8 976.8,347.2 977.1,351.2 977.4,350.4 977.7,346.3 978,350.1 978.3,351.4 978.6,350.8 979,349.9 979.3,351.8 979.6,354.6 979.9,351 980.2,344.6 980.5,351.2 980.8,355.5 981.2,357.1 981.5,353.2 981.8,354.3 982.1,357.9 982.4,353.6 982.7,342 983,343.9 983.4,346 983.7,349.9 984,351.5 984.3,354.7 984.6,354.9 984.9,354 985.2,357.5 985.6,332.6 985.9,347.9 986.2,351.7 986.5,358.5 986.8,361.2 987.1,356.9 987.4,353.2 987.8,312.8 988.1,337.6 988.4,347 988.7,354.5 989,362 989.3,362.3 989.6,352.6 990,355.3 990.3,362.7 990.6,361.8 990.9,351.6 991.2,357.4 991.5,343.2 991.8,347.3 992.2,353.3 992.5,358.1 992.8,360.7 993.1,365.3 993.4,348.4 993.7,358.6 994,363.2 994.4,358.4 994.7,363.6 995,365.7 995.3,363.7 995.6,357.2 995.9,358.2 996.2,359.4 996.6,362 996.9,351.8 997.2,359.5 997.5,364.2 997.8,365.3 998.1,366.3 998.4,367.4 998.8,368.7 999.1,369.8 999.4,367 999.7,367.4 1000,368.1 1000.3,369.9 1000.6,369.8 1001,371.6 1001.3,371.5 1001.6,359.3 1001.9,365.5 1002.2,363.8 1002.5,366.9 1002.8,369.6 1003.2,366.8 1003.5,367.7 1003.8,368.8 1004.1,369.4 1004.4,365.7 1004.7,369 1005,368.5 1005.4,360.7 1005.7,366.4 1006,372.1 1006.3,373.4 1006.6,371.5 1006.9,356.4 1007.2,363.1 1007.6,356.7 1007.9,364.7 1008.2,354.8 1008.5,362.6 1008.8,364.1 1009.1,364.2 1009.4,366.8 1009.8,350 1010.1,358.5 1010.4,358.5 1010.7,346.3 1011,287 1011.3,321.6 1011.6,340 1012,349.4 1012.3,352.8 1012.6,353.2 1012.9,347.2 1013.2,348.5 1013.5,352.4 1013.8,345.9 1014.2,350.7 1014.5,345.8 1014.8,307 1015.1,331 1015.4,344.4 1015.7,352.5 1016,351.2 1016.4,355.9 1016.7,356.1 1017,353.7" fill="none" stroke="#7a7a7a" stroke-width="2.3" stroke-linejoin="round"/>
<g fill="#000" fill-opacity="0.52">
<circle cx="99" cy="284.7" r="2.4"/><circle cx="99.3" cy="285.1" r="2.4"/><circle cx="99.6" cy="262.1" r="2.4"/><circle cx="99.9" cy="261.5" r="2.4"/><circle cx="100.3" cy="266.6" r="2.4"/><circle cx="100.6" cy="270.1" r="2.4"/><circle cx="100.9" cy="258.4" r="2.4"/><circle cx="101.2" cy="246.9" r="2.4"/><circle cx="101.5" cy="247.6" r="2.4"/><circle cx="101.8" cy="251.9" r="2.4"/><circle cx="102.1" cy="207.6" r="2.4"/><circle cx="102.5" cy="232.9" r="2.4"/><circle cx="102.8" cy="252.3" r="2.4"/><circle cx="103.1" cy="263.5" r="2.4"/><circle cx="103.4" cy="276.7" r="2.4"/><circle cx="103.7" cy="259.5" r="2.4"/><circle cx="104" cy="252.6" r="2.4"/><circle cx="104.3" cy="226.9" r="2.4"/><circle cx="104.7" cy="260.7" r="2.4"/><circle cx="105" cy="243.6" r="2.4"/><circle cx="105.3" cy="260" r="2.4"/><circle cx="105.6" cy="275.9" r="2.4"/><circle cx="105.9" cy="280.9" r="2.4"/><circle cx="106.2" cy="282.5" r="2.4"/><circle cx="106.5" cy="255.9" r="2.4"/><circle cx="106.9" cy="274.2" r="2.4"/><circle cx="107.2" cy="278.9" r="2.4"/><circle cx="107.5" cy="284.3" r="2.4"/><circle cx="107.8" cy="270" r="2.4"/><circle cx="108.1" cy="274.4" r="2.4"/><circle cx="108.4" cy="278.1" r="2.4"/><circle cx="108.7" cy="275.9" r="2.4"/><circle cx="109.1" cy="281.3" r="2.4"/><circle cx="109.4" cy="270.4" r="2.4"/><circle cx="109.7" cy="277.2" r="2.4"/><circle cx="110" cy="283.5" r="2.4"/><circle cx="110.3" cy="292.3" r="2.4"/><circle cx="110.6" cy="272.5" r="2.4"/><circle cx="110.9" cy="270.1" r="2.4"/><circle cx="111.3" cy="262.1" r="2.4"/><circle cx="111.6" cy="269.1" r="2.4"/><circle cx="111.9" cy="270.2" r="2.4"/><circle cx="112.2" cy="261" r="2.4"/><circle cx="112.5" cy="253.5" r="2.4"/><circle cx="112.8" cy="259.3" r="2.4"/><circle cx="113.1" cy="260.9" r="2.4"/><circle cx="113.5" cy="264.9" r="2.4"/><circle cx="113.8" cy="236.1" r="2.4"/><circle cx="114.1" cy="240.1" r="2.4"/><circle cx="114.4" cy="246.9" r="2.4"/><circle cx="114.7" cy="227.6" r="2.4"/><circle cx="115" cy="232.9" r="2.4"/><circle cx="115.3" cy="240.6" r="2.4"/><circle cx="115.7" cy="255.6" r="2.4"/><circle cx="116" cy="209" r="2.4"/><circle cx="116.3" cy="225.8" r="2.4"/><circle cx="116.6" cy="242.5" r="2.4"/><circle cx="116.9" cy="252.3" r="2.4"/><circle cx="117.2" cy="267.5" r="2.4"/><circle cx="117.5" cy="248.8" r="2.4"/><circle cx="117.9" cy="254.8" r="2.4"/><circle cx="118.2" cy="257.8" r="2.4"/><circle cx="118.5" cy="259.7" r="2.4"/><circle cx="118.8" cy="264.7" r="2.4"/><circle cx="119.1" cy="262.8" r="2.4"/><circle cx="119.4" cy="249.7" r="2.4"/><circle cx="119.7" cy="214.9" r="2.4"/><circle cx="120.1" cy="248.4" r="2.4"/><circle cx="120.4" cy="238.8" r="2.4"/><circle cx="120.7" cy="233.5" r="2.4"/><circle cx="121" cy="249.4" r="2.4"/><circle cx="121.3" cy="241.8" r="2.4"/><circle cx="121.6" cy="218.2" r="2.4"/><circle cx="121.9" cy="225" r="2.4"/><circle cx="122.3" cy="246.4" r="2.4"/><circle cx="122.6" cy="253.1" r="2.4"/><circle cx="122.9" cy="258.8" r="2.4"/><circle cx="123.2" cy="259.4" r="2.4"/><circle cx="123.5" cy="257.1" r="2.4"/><circle cx="123.8" cy="257.7" r="2.4"/><circle cx="124.1" cy="256.3" r="2.4"/><circle cx="124.5" cy="258.9" r="2.4"/><circle cx="124.8" cy="257.2" r="2.4"/><circle cx="125.1" cy="233.2" r="2.4"/><circle cx="125.4" cy="250.1" r="2.4"/><circle cx="125.7" cy="254.9" r="2.4"/><circle cx="126" cy="245.7" r="2.4"/><circle cx="126.3" cy="254.4" r="2.4"/><circle cx="126.7" cy="258.2" r="2.4"/><circle cx="127" cy="257.5" r="2.4"/><circle cx="127.3" cy="258.5" r="2.4"/><circle cx="127.6" cy="227.9" r="2.4"/><circle cx="127.9" cy="248.8" r="2.4"/><circle cx="128.2" cy="240.1" r="2.4"/><circle cx="128.5" cy="228.2" r="2.4"/><circle cx="128.9" cy="242.4" r="2.4"/><circle cx="129.2" cy="234.6" r="2.4"/><circle cx="129.5" cy="248.8" r="2.4"/><circle cx="129.8" cy="227" r="2.4"/><circle cx="130.1" cy="250" r="2.4"/><circle cx="130.4" cy="231.7" r="2.4"/><circle cx="130.7" cy="242.1" r="2.4"/><circle cx="131.1" cy="220.3" r="2.4"/><circle cx="131.4" cy="229.1" r="2.4"/><circle cx="131.7" cy="222.9" r="2.4"/><circle cx="132" cy="242.9" r="2.4"/><circle cx="132.3" cy="251.7" r="2.4"/><circle cx="132.6" cy="265.5" r="2.4"/><circle cx="132.9" cy="250.7" r="2.4"/><circle cx="133.3" cy="224.3" r="2.4"/><circle cx="133.6" cy="205.3" r="2.4"/><circle cx="133.9" cy="216.8" r="2.4"/><circle cx="134.2" cy="245.3" r="2.4"/><circle cx="134.5" cy="256.6" r="2.4"/><circle cx="134.8" cy="273" r="2.4"/><circle cx="135.1" cy="274.6" r="2.4"/><circle cx="135.5" cy="273.6" r="2.4"/><circle cx="135.8" cy="276.8" r="2.4"/><circle cx="136.1" cy="277.2" r="2.4"/><circle cx="136.4" cy="262.3" r="2.4"/><circle cx="136.7" cy="270.2" r="2.4"/><circle cx="137" cy="273.7" r="2.4"/><circle cx="137.3" cy="279.3" r="2.4"/><circle cx="137.7" cy="280.6" r="2.4"/><circle cx="138" cy="271.2" r="2.4"/><circle cx="138.3" cy="257.3" r="2.4"/><circle cx="138.6" cy="272.3" r="2.4"/><circle cx="138.9" cy="280" r="2.4"/><circle cx="139.2" cy="285" r="2.4"/><circle cx="139.5" cy="286.4" r="2.4"/><circle cx="139.9" cy="286.9" r="2.4"/><circle cx="140.2" cy="264.2" r="2.4"/><circle cx="140.5" cy="280.8" r="2.4"/><circle cx="140.8" cy="289.3" r="2.4"/><circle cx="141.1" cy="262.7" r="2.4"/><circle cx="141.4" cy="274.7" r="2.4"/><circle cx="141.7" cy="268" r="2.4"/><circle cx="142.1" cy="265.5" r="2.4"/><circle cx="142.4" cy="275.6" r="2.4"/><circle cx="142.7" cy="247.1" r="2.4"/><circle cx="143" cy="237.2" r="2.4"/><circle cx="143.3" cy="255.9" r="2.4"/><circle cx="143.6" cy="222.8" r="2.4"/><circle cx="143.9" cy="232.9" r="2.4"/><circle cx="144.3" cy="181.7" r="2.4"/><circle cx="144.6" cy="209.8" r="2.4"/><circle cx="144.9" cy="231.1" r="2.4"/><circle cx="145.2" cy="244.6" r="2.4"/><circle cx="145.5" cy="259.9" r="2.4"/><circle cx="145.8" cy="271.7" r="2.4"/><circle cx="146.1" cy="231.3" r="2.4"/><circle cx="146.5" cy="211.2" r="2.4"/><circle cx="146.8" cy="198.2" r="2.4"/><circle cx="147.1" cy="225.2" r="2.4"/><circle cx="147.4" cy="253.3" r="2.4"/><circle cx="147.7" cy="272.6" r="2.4"/><circle cx="148" cy="261.6" r="2.4"/><circle cx="148.3" cy="271.6" r="2.4"/><circle cx="148.7" cy="276.2" r="2.4"/><circle cx="149" cy="270.2" r="2.4"/><circle cx="149.3" cy="274.3" r="2.4"/><circle cx="149.6" cy="281.8" r="2.4"/><circle cx="149.9" cy="284.6" r="2.4"/><circle cx="150.2" cy="284" r="2.4"/><circle cx="150.5" cy="289.3" r="2.4"/><circle cx="150.9" cy="298.7" r="2.4"/><circle cx="151.2" cy="301.9" r="2.4"/><circle cx="151.5" cy="302.2" r="2.4"/><circle cx="151.8" cy="274.6" r="2.4"/><circle cx="152.1" cy="288.4" r="2.4"/><circle cx="152.4" cy="293.4" r="2.4"/><circle cx="152.7" cy="276.3" r="2.4"/><circle cx="153.1" cy="284.7" r="2.4"/><circle cx="153.4" cy="290.3" r="2.4"/><circle cx="153.7" cy="304.9" r="2.4"/><circle cx="154" cy="306.2" r="2.4"/><circle cx="154.3" cy="300" r="2.4"/><circle cx="154.6" cy="304.6" r="2.4"/><circle cx="154.9" cy="291" r="2.4"/><circle cx="155.3" cy="298" r="2.4"/><circle cx="155.6" cy="305.2" r="2.4"/><circle cx="155.9" cy="310.8" r="2.4"/><circle cx="156.2" cy="313.8" r="2.4"/><circle cx="156.5" cy="310.7" r="2.4"/><circle cx="156.8" cy="319.7" r="2.4"/><circle cx="157.1" cy="322.2" r="2.4"/><circle cx="157.5" cy="322.2" r="2.4"/><circle cx="157.8" cy="323.9" r="2.4"/><circle cx="158.1" cy="303.9" r="2.4"/><circle cx="158.4" cy="309.8" r="2.4"/><circle cx="158.7" cy="315" r="2.4"/><circle cx="159" cy="323" r="2.4"/><circle cx="159.3" cy="327.4" r="2.4"/><circle cx="159.7" cy="329.8" r="2.4"/><circle cx="160" cy="331.8" r="2.4"/><circle cx="160.3" cy="325.2" r="2.4"/><circle cx="160.6" cy="312.7" r="2.4"/><circle cx="160.9" cy="314.3" r="2.4"/><circle cx="161.2" cy="330.5" r="2.4"/><circle cx="161.5" cy="327.6" r="2.4"/><circle cx="161.9" cy="330.5" r="2.4"/><circle cx="162.2" cy="334.9" r="2.4"/><circle cx="162.5" cy="335" r="2.4"/><circle cx="162.8" cy="335.9" r="2.4"/><circle cx="163.1" cy="328.4" r="2.4"/><circle cx="163.4" cy="311" r="2.4"/><circle cx="163.7" cy="313" r="2.4"/><circle cx="164.1" cy="321.5" r="2.4"/><circle cx="164.4" cy="328.2" r="2.4"/><circle cx="164.7" cy="318.8" r="2.4"/><circle cx="165" cy="318.9" r="2.4"/><circle cx="165.3" cy="279.6" r="2.4"/><circle cx="165.6" cy="296.5" r="2.4"/><circle cx="165.9" cy="310" r="2.4"/><circle cx="166.3" cy="316.1" r="2.4"/><circle cx="166.6" cy="330.5" r="2.4"/><circle cx="166.9" cy="330.5" r="2.4"/><circle cx="167.2" cy="302.8" r="2.4"/><circle cx="167.5" cy="318.9" r="2.4"/><circle cx="167.8" cy="321.7" r="2.4"/><circle cx="168.1" cy="323.1" r="2.4"/><circle cx="168.5" cy="329.8" r="2.4"/><circle cx="168.8" cy="322.5" r="2.4"/><circle cx="169.1" cy="329.4" r="2.4"/><circle cx="169.4" cy="315" r="2.4"/><circle cx="169.7" cy="322.5" r="2.4"/><circle cx="170" cy="327.5" r="2.4"/><circle cx="170.3" cy="333.1" r="2.4"/><circle cx="170.7" cy="332.3" r="2.4"/><circle cx="171" cy="325.1" r="2.4"/><circle cx="171.3" cy="331.3" r="2.4"/><circle cx="171.6" cy="336.6" r="2.4"/><circle cx="171.9" cy="339.5" r="2.4"/><circle cx="172.2" cy="341" r="2.4"/><circle cx="172.5" cy="333.5" r="2.4"/><circle cx="172.9" cy="339.2" r="2.4"/><circle cx="173.2" cy="341.3" r="2.4"/><circle cx="173.5" cy="341" r="2.4"/><circle cx="173.8" cy="341.7" r="2.4"/><circle cx="174.1" cy="336.6" r="2.4"/><circle cx="174.4" cy="338" r="2.4"/><circle cx="174.7" cy="343.7" r="2.4"/><circle cx="175.1" cy="344.7" r="2.4"/><circle cx="175.4" cy="341.5" r="2.4"/><circle cx="175.7" cy="344.3" r="2.4"/><circle cx="176" cy="342.6" r="2.4"/><circle cx="176.3" cy="347.1" r="2.4"/><circle cx="176.6" cy="345.6" r="2.4"/><circle cx="176.9" cy="344.9" r="2.4"/><circle cx="177.3" cy="345.8" r="2.4"/><circle cx="177.6" cy="345.3" r="2.4"/><circle cx="177.9" cy="347" r="2.4"/><circle cx="178.2" cy="339.2" r="2.4"/><circle cx="178.5" cy="344" r="2.4"/><circle cx="178.8" cy="334.3" r="2.4"/><circle cx="179.1" cy="338.8" r="2.4"/><circle cx="179.5" cy="342.4" r="2.4"/><circle cx="179.8" cy="344.4" r="2.4"/><circle cx="180.1" cy="345.7" r="2.4"/><circle cx="180.4" cy="346.5" r="2.4"/><circle cx="180.7" cy="339.7" r="2.4"/><circle cx="181" cy="342.1" r="2.4"/><circle cx="181.3" cy="346.6" r="2.4"/><circle cx="181.7" cy="346.3" r="2.4"/><circle cx="182" cy="346" r="2.4"/><circle cx="182.3" cy="347.6" r="2.4"/><circle cx="182.6" cy="347" r="2.4"/><circle cx="182.9" cy="348.4" r="2.4"/><circle cx="183.2" cy="347.8" r="2.4"/><circle cx="183.5" cy="348.2" r="2.4"/><circle cx="183.9" cy="348.2" r="2.4"/><circle cx="184.2" cy="348.7" r="2.4"/><circle cx="184.5" cy="349.5" r="2.4"/><circle cx="184.8" cy="350.2" r="2.4"/><circle cx="185.1" cy="347.9" r="2.4"/><circle cx="185.4" cy="348.9" r="2.4"/><circle cx="185.7" cy="350.8" r="2.4"/><circle cx="186.1" cy="347.8" r="2.4"/><circle cx="186.4" cy="349.9" r="2.4"/><circle cx="186.7" cy="348.6" r="2.4"/><circle cx="187" cy="346.5" r="2.4"/><circle cx="187.3" cy="350.7" r="2.4"/><circle cx="187.6" cy="349.7" r="2.4"/><circle cx="187.9" cy="351" r="2.4"/><circle cx="188.3" cy="349.9" r="2.4"/><circle cx="188.6" cy="348.2" r="2.4"/><circle cx="188.9" cy="349.1" r="2.4"/><circle cx="189.2" cy="351.6" r="2.4"/><circle cx="189.5" cy="351.8" r="2.4"/><circle cx="189.8" cy="351.2" r="2.4"/><circle cx="190.1" cy="351.8" r="2.4"/><circle cx="190.5" cy="350.9" r="2.4"/><circle cx="190.8" cy="352.6" r="2.4"/><circle cx="191.1" cy="352" r="2.4"/><circle cx="191.4" cy="350.5" r="2.4"/><circle cx="191.7" cy="351.2" r="2.4"/><circle cx="192" cy="351" r="2.4"/><circle cx="192.3" cy="348.2" r="2.4"/><circle cx="192.7" cy="351.1" r="2.4"/><circle cx="193" cy="352.1" r="2.4"/><circle cx="193.3" cy="352.5" r="2.4"/><circle cx="193.6" cy="352.4" r="2.4"/><circle cx="193.9" cy="352.6" r="2.4"/><circle cx="194.2" cy="349.6" r="2.4"/><circle cx="194.5" cy="350.5" r="2.4"/><circle cx="194.9" cy="352.4" r="2.4"/><circle cx="195.2" cy="347.9" r="2.4"/><circle cx="195.5" cy="350.3" r="2.4"/><circle cx="195.8" cy="352.4" r="2.4"/><circle cx="196.1" cy="348" r="2.4"/><circle cx="196.4" cy="349.7" r="2.4"/><circle cx="196.7" cy="351.6" r="2.4"/><circle cx="197.1" cy="351.2" r="2.4"/><circle cx="197.4" cy="350.8" r="2.4"/><circle cx="197.7" cy="353.6" r="2.4"/><circle cx="198" cy="337.7" r="2.4"/><circle cx="198.3" cy="343.2" r="2.4"/><circle cx="198.6" cy="337.1" r="2.4"/><circle cx="198.9" cy="344.7" r="2.4"/><circle cx="199.3" cy="349.4" r="2.4"/><circle cx="199.6" cy="349.7" r="2.4"/><circle cx="199.9" cy="322.2" r="2.4"/><circle cx="200.2" cy="347.1" r="2.4"/><circle cx="200.5" cy="318.7" r="2.4"/><circle cx="200.8" cy="342.6" r="2.4"/><circle cx="201.1" cy="345.8" r="2.4"/><circle cx="201.5" cy="348.5" r="2.4"/><circle cx="201.8" cy="340.4" r="2.4"/><circle cx="202.1" cy="310.2" r="2.4"/><circle cx="202.4" cy="325.7" r="2.4"/><circle cx="202.7" cy="325.1" r="2.4"/><circle cx="203" cy="343.3" r="2.4"/><circle cx="203.3" cy="317.8" r="2.4"/><circle cx="203.7" cy="338.2" r="2.4"/><circle cx="204" cy="341.3" r="2.4"/><circle cx="204.3" cy="335.1" r="2.4"/><circle cx="204.6" cy="338.7" r="2.4"/><circle cx="204.9" cy="325.4" r="2.4"/><circle cx="205.2" cy="338.3" r="2.4"/><circle cx="205.5" cy="328.2" r="2.4"/><circle cx="205.9" cy="290.3" r="2.4"/><circle cx="206.2" cy="305.1" r="2.4"/><circle cx="206.5" cy="277.4" r="2.4"/><circle cx="206.8" cy="295.1" r="2.4"/><circle cx="207.1" cy="313.3" r="2.4"/><circle cx="207.4" cy="300.3" r="2.4"/><circle cx="207.7" cy="333.4" r="2.4"/><circle cx="208.1" cy="331.1" r="2.4"/><circle cx="208.4" cy="337.9" r="2.4"/><circle cx="208.7" cy="339.3" r="2.4"/><circle cx="209" cy="325.3" r="2.4"/><circle cx="209.3" cy="322.5" r="2.4"/><circle cx="209.6" cy="329.9" r="2.4"/><circle cx="209.9" cy="338.7" r="2.4"/><circle cx="210.3" cy="338.4" r="2.4"/><circle cx="210.6" cy="342" r="2.4"/><circle cx="210.9" cy="341" r="2.4"/><circle cx="211.2" cy="320.6" r="2.4"/><circle cx="211.5" cy="305.5" r="2.4"/><circle cx="211.8" cy="320.8" r="2.4"/><circle cx="212.1" cy="304" r="2.4"/><circle cx="212.5" cy="305.4" r="2.4"/><circle cx="212.8" cy="302.3" r="2.4"/><circle cx="213.1" cy="311.5" r="2.4"/><circle cx="213.4" cy="265.1" r="2.4"/><circle cx="213.7" cy="272.2" r="2.4"/><circle cx="214" cy="283" r="2.4"/><circle cx="214.3" cy="283.1" r="2.4"/><circle cx="214.7" cy="208.5" r="2.4"/><circle cx="215" cy="245.4" r="2.4"/><circle cx="215.3" cy="271.1" r="2.4"/><circle cx="215.6" cy="263" r="2.4"/><circle cx="215.9" cy="251.7" r="2.4"/><circle cx="216.2" cy="286.4" r="2.4"/><circle cx="216.5" cy="292.8" r="2.4"/><circle cx="216.9" cy="292.3" r="2.4"/><circle cx="217.2" cy="278" r="2.4"/><circle cx="217.5" cy="296.8" r="2.4"/><circle cx="217.8" cy="302.4" r="2.4"/><circle cx="218.1" cy="311.5" r="2.4"/><circle cx="218.4" cy="316.4" r="2.4"/><circle cx="218.7" cy="317.1" r="2.4"/><circle cx="219.1" cy="296.4" r="2.4"/><circle cx="219.4" cy="300.9" r="2.4"/><circle cx="219.7" cy="312.2" r="2.4"/><circle cx="220" cy="303.8" r="2.4"/><circle cx="220.3" cy="316.4" r="2.4"/><circle cx="220.6" cy="331.3" r="2.4"/><circle cx="220.9" cy="330" r="2.4"/><circle cx="221.3" cy="321.3" r="2.4"/><circle cx="221.6" cy="326.7" r="2.4"/><circle cx="221.9" cy="328.8" r="2.4"/><circle cx="222.2" cy="328.7" r="2.4"/><circle cx="222.5" cy="327.7" r="2.4"/><circle cx="222.8" cy="327" r="2.4"/><circle cx="223.1" cy="312.6" r="2.4"/><circle cx="223.5" cy="315.2" r="2.4"/><circle cx="223.8" cy="307.9" r="2.4"/><circle cx="224.1" cy="311.2" r="2.4"/><circle cx="224.4" cy="319.1" r="2.4"/><circle cx="224.7" cy="324.7" r="2.4"/><circle cx="225" cy="323.8" r="2.4"/><circle cx="225.3" cy="324.7" r="2.4"/><circle cx="225.7" cy="327" r="2.4"/><circle cx="226" cy="320.7" r="2.4"/><circle cx="226.3" cy="325.2" r="2.4"/><circle cx="226.6" cy="327.3" r="2.4"/><circle cx="226.9" cy="326.9" r="2.4"/><circle cx="227.2" cy="331.3" r="2.4"/><circle cx="227.5" cy="324.8" r="2.4"/><circle cx="227.9" cy="323.9" r="2.4"/><circle cx="228.2" cy="322.7" r="2.4"/><circle cx="228.5" cy="321.1" r="2.4"/><circle cx="228.8" cy="319.4" r="2.4"/><circle cx="229.1" cy="314.2" r="2.4"/><circle cx="229.4" cy="308.6" r="2.4"/><circle cx="229.7" cy="309.8" r="2.4"/><circle cx="230.1" cy="306.8" r="2.4"/><circle cx="230.4" cy="304.4" r="2.4"/><circle cx="230.7" cy="302.4" r="2.4"/><circle cx="231" cy="281.6" r="2.4"/><circle cx="231.3" cy="282.1" r="2.4"/><circle cx="231.6" cy="253" r="2.4"/><circle cx="231.9" cy="252.3" r="2.4"/><circle cx="232.3" cy="229.2" r="2.4"/><circle cx="232.6" cy="198.2" r="2.4"/><circle cx="232.9" cy="229.2" r="2.4"/><circle cx="233.2" cy="213.8" r="2.4"/><circle cx="233.5" cy="254.5" r="2.4"/><circle cx="233.8" cy="263.4" r="2.4"/><circle cx="234.1" cy="277.3" r="2.4"/><circle cx="234.5" cy="263.5" r="2.4"/><circle cx="234.8" cy="281.4" r="2.4"/><circle cx="235.1" cy="250.5" r="2.4"/><circle cx="235.4" cy="260.9" r="2.4"/><circle cx="235.7" cy="270.1" r="2.4"/><circle cx="236" cy="273.8" r="2.4"/><circle cx="236.3" cy="277.4" r="2.4"/><circle cx="236.7" cy="284.4" r="2.4"/><circle cx="237" cy="283.9" r="2.4"/><circle cx="237.3" cy="283.6" r="2.4"/><circle cx="237.6" cy="271.2" r="2.4"/><circle cx="237.9" cy="279.8" r="2.4"/><circle cx="238.2" cy="255.6" r="2.4"/><circle cx="238.5" cy="261" r="2.4"/><circle cx="238.9" cy="262.4" r="2.4"/><circle cx="239.2" cy="259.8" r="2.4"/><circle cx="239.5" cy="269.1" r="2.4"/><circle cx="239.8" cy="274.2" r="2.4"/><circle cx="240.1" cy="275" r="2.4"/><circle cx="240.4" cy="279.3" r="2.4"/><circle cx="240.7" cy="283.4" r="2.4"/><circle cx="241.1" cy="283.4" r="2.4"/><circle cx="241.4" cy="285" r="2.4"/><circle cx="241.7" cy="283.4" r="2.4"/><circle cx="242" cy="269" r="2.4"/><circle cx="242.3" cy="281" r="2.4"/><circle cx="242.6" cy="279.8" r="2.4"/><circle cx="242.9" cy="270.8" r="2.4"/><circle cx="243.3" cy="271.1" r="2.4"/><circle cx="243.6" cy="276" r="2.4"/><circle cx="243.9" cy="282.6" r="2.4"/><circle cx="244.2" cy="248.6" r="2.4"/><circle cx="244.5" cy="274.3" r="2.4"/><circle cx="244.8" cy="257.1" r="2.4"/><circle cx="245.1" cy="265.3" r="2.4"/><circle cx="245.5" cy="270.7" r="2.4"/><circle cx="245.8" cy="244.7" r="2.4"/><circle cx="246.1" cy="243.1" r="2.4"/><circle cx="246.4" cy="254.5" r="2.4"/><circle cx="246.7" cy="262.7" r="2.4"/><circle cx="247" cy="271.9" r="2.4"/><circle cx="247.3" cy="248.9" r="2.4"/><circle cx="247.7" cy="256.8" r="2.4"/><circle cx="248" cy="267" r="2.4"/><circle cx="248.3" cy="278.4" r="2.4"/><circle cx="248.6" cy="291.9" r="2.4"/><circle cx="248.9" cy="296.2" r="2.4"/><circle cx="249.2" cy="237.4" r="2.4"/><circle cx="249.5" cy="251.3" r="2.4"/><circle cx="249.9" cy="258.8" r="2.4"/><circle cx="250.2" cy="277.5" r="2.4"/><circle cx="250.5" cy="299.1" r="2.4"/><circle cx="250.8" cy="299.6" r="2.4"/><circle cx="251.1" cy="300.1" r="2.4"/><circle cx="251.4" cy="257.7" r="2.4"/><circle cx="251.7" cy="238.4" r="2.4"/><circle cx="252" cy="258.2" r="2.4"/><circle cx="252.4" cy="279.5" r="2.4"/><circle cx="252.7" cy="254.9" r="2.4"/><circle cx="253" cy="271.3" r="2.4"/><circle cx="253.3" cy="291" r="2.4"/><circle cx="253.6" cy="293" r="2.4"/><circle cx="253.9" cy="280.9" r="2.4"/><circle cx="254.2" cy="226.3" r="2.4"/><circle cx="254.6" cy="250" r="2.4"/><circle cx="254.9" cy="270.5" r="2.4"/><circle cx="255.2" cy="249.3" r="2.4"/><circle cx="255.5" cy="283.7" r="2.4"/><circle cx="255.8" cy="284.3" r="2.4"/><circle cx="256.1" cy="248.3" r="2.4"/><circle cx="256.4" cy="266.2" r="2.4"/><circle cx="256.8" cy="287.4" r="2.4"/><circle cx="257.1" cy="290.4" r="2.4"/><circle cx="257.4" cy="296.3" r="2.4"/><circle cx="257.7" cy="275.1" r="2.4"/><circle cx="258" cy="280.6" r="2.4"/><circle cx="258.3" cy="261.9" r="2.4"/><circle cx="258.6" cy="255.3" r="2.4"/><circle cx="259" cy="278.4" r="2.4"/><circle cx="259.3" cy="280.4" r="2.4"/><circle cx="259.6" cy="254.6" r="2.4"/><circle cx="259.9" cy="264.6" r="2.4"/><circle cx="260.2" cy="249.9" r="2.4"/><circle cx="260.5" cy="266.9" r="2.4"/><circle cx="260.8" cy="289.4" r="2.4"/><circle cx="261.2" cy="302.8" r="2.4"/><circle cx="261.5" cy="288.7" r="2.4"/><circle cx="261.8" cy="294.4" r="2.4"/><circle cx="262.1" cy="294.5" r="2.4"/><circle cx="262.4" cy="265.7" r="2.4"/><circle cx="262.7" cy="255.1" r="2.4"/><circle cx="263" cy="272.3" r="2.4"/><circle cx="263.4" cy="249.4" r="2.4"/><circle cx="263.7" cy="177.3" r="2.4"/><circle cx="264" cy="205.6" r="2.4"/><circle cx="264.3" cy="230.4" r="2.4"/><circle cx="264.6" cy="248.2" r="2.4"/><circle cx="264.9" cy="228" r="2.4"/><circle cx="265.2" cy="201" r="2.4"/><circle cx="265.6" cy="219.1" r="2.4"/><circle cx="265.9" cy="230.4" r="2.4"/><circle cx="266.2" cy="234.2" r="2.4"/><circle cx="266.5" cy="254.8" r="2.4"/><circle cx="266.8" cy="270.8" r="2.4"/><circle cx="267.1" cy="241.8" r="2.4"/><circle cx="267.4" cy="250.5" r="2.4"/><circle cx="267.8" cy="277.3" r="2.4"/><circle cx="268.1" cy="259.1" r="2.4"/><circle cx="268.4" cy="267.5" r="2.4"/><circle cx="268.7" cy="273.5" r="2.4"/><circle cx="269" cy="283.6" r="2.4"/><circle cx="269.3" cy="286.4" r="2.4"/><circle cx="269.6" cy="290" r="2.4"/><circle cx="270" cy="292.3" r="2.4"/><circle cx="270.3" cy="287" r="2.4"/><circle cx="270.6" cy="267.1" r="2.4"/><circle cx="270.9" cy="261.6" r="2.4"/><circle cx="271.2" cy="278.6" r="2.4"/><circle cx="271.5" cy="282" r="2.4"/><circle cx="271.8" cy="279.4" r="2.4"/><circle cx="272.2" cy="277.4" r="2.4"/><circle cx="272.5" cy="288.4" r="2.4"/><circle cx="272.8" cy="294.6" r="2.4"/><circle cx="273.1" cy="298.9" r="2.4"/><circle cx="273.4" cy="283.6" r="2.4"/><circle cx="273.7" cy="290.1" r="2.4"/><circle cx="274" cy="288.1" r="2.4"/><circle cx="274.4" cy="300.9" r="2.4"/><circle cx="274.7" cy="295.3" r="2.4"/><circle cx="275" cy="305.8" r="2.4"/><circle cx="275.3" cy="308.4" r="2.4"/><circle cx="275.6" cy="295.3" r="2.4"/><circle cx="275.9" cy="306.8" r="2.4"/><circle cx="276.2" cy="314.4" r="2.4"/><circle cx="276.6" cy="303.4" r="2.4"/><circle cx="276.9" cy="311.4" r="2.4"/><circle cx="277.2" cy="316" r="2.4"/><circle cx="277.5" cy="319.2" r="2.4"/><circle cx="277.8" cy="322.2" r="2.4"/><circle cx="278.1" cy="310.6" r="2.4"/><circle cx="278.4" cy="314.2" r="2.4"/><circle cx="278.8" cy="319" r="2.4"/><circle cx="279.1" cy="321.1" r="2.4"/><circle cx="279.4" cy="325.3" r="2.4"/><circle cx="279.7" cy="313" r="2.4"/><circle cx="280" cy="314.3" r="2.4"/><circle cx="280.3" cy="317.3" r="2.4"/><circle cx="280.6" cy="317.6" r="2.4"/><circle cx="281" cy="320.6" r="2.4"/><circle cx="281.3" cy="324.8" r="2.4"/><circle cx="281.6" cy="324.2" r="2.4"/><circle cx="281.9" cy="325.4" r="2.4"/><circle cx="282.2" cy="317.4" r="2.4"/><circle cx="282.5" cy="320.4" r="2.4"/><circle cx="282.8" cy="329.3" r="2.4"/><circle cx="283.2" cy="329.4" r="2.4"/><circle cx="283.5" cy="329.1" r="2.4"/><circle cx="283.8" cy="321.2" r="2.4"/><circle cx="284.1" cy="328.6" r="2.4"/><circle cx="284.4" cy="330.5" r="2.4"/><circle cx="284.7" cy="324.1" r="2.4"/><circle cx="285" cy="328.2" r="2.4"/><circle cx="285.4" cy="330.2" r="2.4"/><circle cx="285.7" cy="331" r="2.4"/><circle cx="286" cy="332.8" r="2.4"/><circle cx="286.3" cy="332.3" r="2.4"/><circle cx="286.6" cy="333.6" r="2.4"/><circle cx="286.9" cy="333.4" r="2.4"/><circle cx="287.2" cy="333.6" r="2.4"/><circle cx="287.6" cy="328.1" r="2.4"/><circle cx="287.9" cy="333.6" r="2.4"/><circle cx="288.2" cy="325.2" r="2.4"/><circle cx="288.5" cy="328.6" r="2.4"/><circle cx="288.8" cy="329.1" r="2.4"/><circle cx="289.1" cy="333.9" r="2.4"/><circle cx="289.4" cy="319.8" r="2.4"/><circle cx="289.8" cy="327.4" r="2.4"/><circle cx="290.1" cy="332.9" r="2.4"/><circle cx="290.4" cy="329.4" r="2.4"/><circle cx="290.7" cy="331.3" r="2.4"/><circle cx="291" cy="333.1" r="2.4"/><circle cx="291.3" cy="334.8" r="2.4"/><circle cx="291.6" cy="331.9" r="2.4"/><circle cx="292" cy="333.8" r="2.4"/><circle cx="292.3" cy="334.8" r="2.4"/><circle cx="292.6" cy="336.9" r="2.4"/><circle cx="292.9" cy="335.7" r="2.4"/><circle cx="293.2" cy="338" r="2.4"/><circle cx="293.5" cy="339.3" r="2.4"/><circle cx="293.8" cy="332.5" r="2.4"/><circle cx="294.2" cy="337.7" r="2.4"/><circle cx="294.5" cy="336.3" r="2.4"/><circle cx="294.8" cy="333.5" r="2.4"/><circle cx="295.1" cy="338.5" r="2.4"/><circle cx="295.4" cy="336.9" r="2.4"/><circle cx="295.7" cy="345.1" r="2.4"/><circle cx="296" cy="335.6" r="2.4"/><circle cx="296.4" cy="343" r="2.4"/><circle cx="296.7" cy="344.1" r="2.4"/><circle cx="297" cy="345.2" r="2.4"/><circle cx="297.3" cy="346.5" r="2.4"/><circle cx="297.6" cy="345.8" r="2.4"/><circle cx="297.9" cy="345.6" r="2.4"/><circle cx="298.2" cy="347.2" r="2.4"/><circle cx="298.6" cy="346.7" r="2.4"/><circle cx="298.9" cy="349.1" r="2.4"/><circle cx="299.2" cy="347.4" r="2.4"/><circle cx="299.5" cy="335.9" r="2.4"/><circle cx="299.8" cy="340" r="2.4"/><circle cx="300.1" cy="340.5" r="2.4"/><circle cx="300.4" cy="339" r="2.4"/><circle cx="300.8" cy="320.1" r="2.4"/><circle cx="301.1" cy="328.8" r="2.4"/><circle cx="301.4" cy="313.3" r="2.4"/><circle cx="301.7" cy="320.8" r="2.4"/><circle cx="302" cy="327.2" r="2.4"/><circle cx="302.3" cy="326.8" r="2.4"/><circle cx="302.6" cy="335.2" r="2.4"/><circle cx="303" cy="337.7" r="2.4"/><circle cx="303.3" cy="338.5" r="2.4"/><circle cx="303.6" cy="334.3" r="2.4"/><circle cx="303.9" cy="328.8" r="2.4"/><circle cx="304.2" cy="338.7" r="2.4"/><circle cx="304.5" cy="341.8" r="2.4"/><circle cx="304.8" cy="337.1" r="2.4"/><circle cx="305.2" cy="342.2" r="2.4"/><circle cx="305.5" cy="342.6" r="2.4"/><circle cx="305.8" cy="344.5" r="2.4"/><circle cx="306.1" cy="344.3" r="2.4"/><circle cx="306.4" cy="343.3" r="2.4"/><circle cx="306.7" cy="343" r="2.4"/><circle cx="307" cy="339.4" r="2.4"/><circle cx="307.4" cy="343.7" r="2.4"/><circle cx="307.7" cy="343.1" r="2.4"/><circle cx="308" cy="344.1" r="2.4"/><circle cx="308.3" cy="344.7" r="2.4"/><circle cx="308.6" cy="344" r="2.4"/><circle cx="308.9" cy="344.2" r="2.4"/><circle cx="309.2" cy="345.1" r="2.4"/><circle cx="309.6" cy="344.2" r="2.4"/><circle cx="309.9" cy="341.4" r="2.4"/><circle cx="310.2" cy="340.8" r="2.4"/><circle cx="310.5" cy="337.6" r="2.4"/><circle cx="310.8" cy="336.4" r="2.4"/><circle cx="311.1" cy="326.1" r="2.4"/><circle cx="311.4" cy="332.9" r="2.4"/><circle cx="311.8" cy="332" r="2.4"/><circle cx="312.1" cy="330.6" r="2.4"/><circle cx="312.4" cy="335.1" r="2.4"/><circle cx="312.7" cy="324.4" r="2.4"/><circle cx="313" cy="331.3" r="2.4"/><circle cx="313.3" cy="330.8" r="2.4"/><circle cx="313.6" cy="334" r="2.4"/><circle cx="314" cy="335.2" r="2.4"/><circle cx="314.3" cy="336.5" r="2.4"/><circle cx="314.6" cy="320.4" r="2.4"/><circle cx="314.9" cy="327" r="2.4"/><circle cx="315.2" cy="330.4" r="2.4"/><circle cx="315.5" cy="328.8" r="2.4"/><circle cx="315.8" cy="312.2" r="2.4"/><circle cx="316.2" cy="313.5" r="2.4"/><circle cx="316.5" cy="306.9" r="2.4"/><circle cx="316.8" cy="306.8" r="2.4"/><circle cx="317.1" cy="286.8" r="2.4"/><circle cx="317.4" cy="284.8" r="2.4"/><circle cx="317.7" cy="267.9" r="2.4"/><circle cx="318" cy="280.9" r="2.4"/><circle cx="318.4" cy="287.1" r="2.4"/><circle cx="318.7" cy="297.1" r="2.4"/><circle cx="319" cy="305.1" r="2.4"/><circle cx="319.3" cy="300" r="2.4"/><circle cx="319.6" cy="311.2" r="2.4"/><circle cx="319.9" cy="304.9" r="2.4"/><circle cx="320.2" cy="311.1" r="2.4"/><circle cx="320.6" cy="315" r="2.4"/><circle cx="320.9" cy="322.8" r="2.4"/><circle cx="321.2" cy="328.9" r="2.4"/><circle cx="321.5" cy="325.3" r="2.4"/><circle cx="321.8" cy="305.6" r="2.4"/><circle cx="322.1" cy="308.3" r="2.4"/><circle cx="322.4" cy="309.3" r="2.4"/><circle cx="322.8" cy="290.2" r="2.4"/><circle cx="323.1" cy="290.1" r="2.4"/><circle cx="323.4" cy="300.4" r="2.4"/><circle cx="323.7" cy="300.8" r="2.4"/><circle cx="324" cy="311.9" r="2.4"/><circle cx="324.3" cy="278.8" r="2.4"/><circle cx="324.6" cy="281.7" r="2.4"/><circle cx="325" cy="280.5" r="2.4"/><circle cx="325.3" cy="312" r="2.4"/><circle cx="325.6" cy="316.4" r="2.4"/><circle cx="325.9" cy="314.9" r="2.4"/><circle cx="326.2" cy="312.8" r="2.4"/><circle cx="326.5" cy="284.3" r="2.4"/><circle cx="326.8" cy="251.2" r="2.4"/><circle cx="327.2" cy="257" r="2.4"/><circle cx="327.5" cy="281.5" r="2.4"/><circle cx="327.8" cy="288.8" r="2.4"/><circle cx="328.1" cy="273" r="2.4"/><circle cx="328.4" cy="209.9" r="2.4"/><circle cx="328.7" cy="236.2" r="2.4"/><circle cx="329" cy="257.8" r="2.4"/><circle cx="329.4" cy="265.9" r="2.4"/><circle cx="329.7" cy="231.7" r="2.4"/><circle cx="330" cy="261.5" r="2.4"/><circle cx="330.3" cy="236.4" r="2.4"/><circle cx="330.6" cy="253.2" r="2.4"/><circle cx="330.9" cy="263.6" r="2.4"/><circle cx="331.2" cy="284.6" r="2.4"/><circle cx="331.6" cy="255" r="2.4"/><circle cx="331.9" cy="267.1" r="2.4"/><circle cx="332.2" cy="274" r="2.4"/><circle cx="332.5" cy="282.7" r="2.4"/><circle cx="332.8" cy="292.4" r="2.4"/><circle cx="333.1" cy="274.8" r="2.4"/><circle cx="333.4" cy="270.6" r="2.4"/><circle cx="333.8" cy="283.6" r="2.4"/><circle cx="334.1" cy="283.4" r="2.4"/><circle cx="334.4" cy="258.3" r="2.4"/><circle cx="334.7" cy="273" r="2.4"/><circle cx="335" cy="274.7" r="2.4"/><circle cx="335.3" cy="263.5" r="2.4"/><circle cx="335.6" cy="280.9" r="2.4"/><circle cx="336" cy="290" r="2.4"/><circle cx="336.3" cy="293.5" r="2.4"/><circle cx="336.6" cy="294.4" r="2.4"/><circle cx="336.9" cy="294.7" r="2.4"/><circle cx="337.2" cy="253.6" r="2.4"/><circle cx="337.5" cy="275.9" r="2.4"/><circle cx="337.8" cy="289.4" r="2.4"/><circle cx="338.2" cy="290.2" r="2.4"/><circle cx="338.5" cy="290.2" r="2.4"/><circle cx="338.8" cy="299.1" r="2.4"/><circle cx="339.1" cy="281.9" r="2.4"/><circle cx="339.4" cy="299.8" r="2.4"/><circle cx="339.7" cy="302.1" r="2.4"/><circle cx="340" cy="305.1" r="2.4"/><circle cx="340.4" cy="306.9" r="2.4"/><circle cx="340.7" cy="308.2" r="2.4"/><circle cx="341" cy="300.9" r="2.4"/><circle cx="341.3" cy="301.7" r="2.4"/><circle cx="341.6" cy="302.2" r="2.4"/><circle cx="341.9" cy="305.7" r="2.4"/><circle cx="342.2" cy="308.6" r="2.4"/><circle cx="342.6" cy="310.6" r="2.4"/><circle cx="342.9" cy="308.8" r="2.4"/><circle cx="343.2" cy="302.8" r="2.4"/><circle cx="343.5" cy="270.9" r="2.4"/><circle cx="343.8" cy="275.7" r="2.4"/><circle cx="344.1" cy="274.9" r="2.4"/><circle cx="344.4" cy="227.9" r="2.4"/><circle cx="344.8" cy="217.6" r="2.4"/><circle cx="345.1" cy="223.2" r="2.4"/><circle cx="345.4" cy="269.7" r="2.4"/><circle cx="345.7" cy="245.5" r="2.4"/><circle cx="346" cy="267.8" r="2.4"/><circle cx="346.3" cy="186.2" r="2.4"/><circle cx="346.6" cy="222.4" r="2.4"/><circle cx="347" cy="266.4" r="2.4"/><circle cx="347.3" cy="271.8" r="2.4"/><circle cx="347.6" cy="275.9" r="2.4"/><circle cx="347.9" cy="207.5" r="2.4"/><circle cx="348.2" cy="246.6" r="2.4"/><circle cx="348.5" cy="172.6" r="2.4"/><circle cx="348.8" cy="203.9" r="2.4"/><circle cx="349.2" cy="230.1" r="2.4"/><circle cx="349.5" cy="243.7" r="2.4"/><circle cx="349.8" cy="273.8" r="2.4"/><circle cx="350.1" cy="274.8" r="2.4"/><circle cx="350.4" cy="226.5" r="2.4"/><circle cx="350.7" cy="244.6" r="2.4"/><circle cx="351" cy="250.4" r="2.4"/><circle cx="351.4" cy="198.9" r="2.4"/><circle cx="351.7" cy="211.8" r="2.4"/><circle cx="352" cy="196" r="2.4"/><circle cx="352.3" cy="199.9" r="2.4"/><circle cx="352.6" cy="214.7" r="2.4"/><circle cx="352.9" cy="224" r="2.4"/><circle cx="353.2" cy="222.8" r="2.4"/><circle cx="353.6" cy="242.1" r="2.4"/><circle cx="353.9" cy="243.4" r="2.4"/><circle cx="354.2" cy="236" r="2.4"/><circle cx="354.5" cy="186.1" r="2.4"/><circle cx="354.8" cy="190.5" r="2.4"/><circle cx="355.1" cy="209.1" r="2.4"/><circle cx="355.4" cy="147.6" r="2.4"/><circle cx="355.8" cy="178.8" r="2.4"/><circle cx="356.1" cy="195.2" r="2.4"/><circle cx="356.4" cy="213.1" r="2.4"/><circle cx="356.7" cy="192.3" r="2.4"/><circle cx="357" cy="221" r="2.4"/><circle cx="357.3" cy="209.1" r="2.4"/><circle cx="357.6" cy="220" r="2.4"/><circle cx="358" cy="233.3" r="2.4"/><circle cx="358.3" cy="242.3" r="2.4"/><circle cx="358.6" cy="216.1" r="2.4"/><circle cx="358.9" cy="232" r="2.4"/><circle cx="359.2" cy="210.5" r="2.4"/><circle cx="359.5" cy="218.9" r="2.4"/><circle cx="359.8" cy="218.8" r="2.4"/><circle cx="360.2" cy="220.4" r="2.4"/><circle cx="360.5" cy="226.1" r="2.4"/><circle cx="360.8" cy="236.1" r="2.4"/><circle cx="361.1" cy="252.4" r="2.4"/><circle cx="361.4" cy="258.3" r="2.4"/><circle cx="361.7" cy="258" r="2.4"/><circle cx="362" cy="258.1" r="2.4"/><circle cx="362.4" cy="231.2" r="2.4"/><circle cx="362.7" cy="241.9" r="2.4"/><circle cx="363" cy="227" r="2.4"/><circle cx="363.3" cy="243.8" r="2.4"/><circle cx="363.6" cy="251.2" r="2.4"/><circle cx="363.9" cy="232.9" r="2.4"/><circle cx="364.2" cy="248.2" r="2.4"/><circle cx="364.6" cy="261" r="2.4"/><circle cx="364.9" cy="251.3" r="2.4"/><circle cx="365.2" cy="257.2" r="2.4"/><circle cx="365.5" cy="259.3" r="2.4"/><circle cx="365.8" cy="245.9" r="2.4"/><circle cx="366.1" cy="263.2" r="2.4"/><circle cx="366.4" cy="265.1" r="2.4"/><circle cx="366.8" cy="259.2" r="2.4"/><circle cx="367.1" cy="266.9" r="2.4"/><circle cx="367.4" cy="268.2" r="2.4"/><circle cx="367.7" cy="276.2" r="2.4"/><circle cx="368" cy="277.1" r="2.4"/><circle cx="368.3" cy="257.4" r="2.4"/><circle cx="368.6" cy="273.5" r="2.4"/><circle cx="369" cy="250.3" r="2.4"/><circle cx="369.3" cy="263" r="2.4"/><circle cx="369.6" cy="265.4" r="2.4"/><circle cx="369.9" cy="257.2" r="2.4"/><circle cx="370.2" cy="273.9" r="2.4"/><circle cx="370.5" cy="281.1" r="2.4"/><circle cx="370.8" cy="282.1" r="2.4"/><circle cx="371.2" cy="262.2" r="2.4"/><circle cx="371.5" cy="266.5" r="2.4"/><circle cx="371.8" cy="279.9" r="2.4"/><circle cx="372.1" cy="283.8" r="2.4"/><circle cx="372.4" cy="285.3" r="2.4"/><circle cx="372.7" cy="287.5" r="2.4"/><circle cx="373" cy="274.2" r="2.4"/><circle cx="373.4" cy="270.4" r="2.4"/><circle cx="373.7" cy="286.3" r="2.4"/><circle cx="374" cy="295.4" r="2.4"/><circle cx="374.3" cy="296.9" r="2.4"/><circle cx="374.6" cy="298.6" r="2.4"/><circle cx="374.9" cy="264.9" r="2.4"/><circle cx="375.2" cy="284.4" r="2.4"/><circle cx="375.6" cy="297.3" r="2.4"/><circle cx="375.9" cy="300" r="2.4"/><circle cx="376.2" cy="270" r="2.4"/><circle cx="376.5" cy="279.7" r="2.4"/><circle cx="376.8" cy="269" r="2.4"/><circle cx="377.1" cy="290.4" r="2.4"/><circle cx="377.4" cy="269.2" r="2.4"/><circle cx="377.8" cy="278.6" r="2.4"/><circle cx="378.1" cy="284.6" r="2.4"/><circle cx="378.4" cy="299.5" r="2.4"/><circle cx="378.7" cy="274.1" r="2.4"/><circle cx="379" cy="294.8" r="2.4"/><circle cx="379.3" cy="299.1" r="2.4"/><circle cx="379.6" cy="293.7" r="2.4"/><circle cx="380" cy="271.3" r="2.4"/><circle cx="380.3" cy="285.3" r="2.4"/><circle cx="380.6" cy="297.2" r="2.4"/><circle cx="380.9" cy="310" r="2.4"/><circle cx="381.2" cy="284.4" r="2.4"/><circle cx="381.5" cy="289" r="2.4"/><circle cx="381.8" cy="296" r="2.4"/><circle cx="382.2" cy="293.4" r="2.4"/><circle cx="382.5" cy="301.2" r="2.4"/><circle cx="382.8" cy="314.4" r="2.4"/><circle cx="383.1" cy="324.6" r="2.4"/><circle cx="383.4" cy="310.8" r="2.4"/><circle cx="383.7" cy="320.3" r="2.4"/><circle cx="384" cy="322.5" r="2.4"/><circle cx="384.4" cy="311.5" r="2.4"/><circle cx="384.7" cy="318.3" r="2.4"/><circle cx="385" cy="327.6" r="2.4"/><circle cx="385.3" cy="322" r="2.4"/><circle cx="385.6" cy="324.7" r="2.4"/><circle cx="385.9" cy="327.2" r="2.4"/><circle cx="386.2" cy="324" r="2.4"/><circle cx="386.6" cy="320.9" r="2.4"/><circle cx="386.9" cy="323.9" r="2.4"/><circle cx="387.2" cy="332.2" r="2.4"/><circle cx="387.5" cy="332" r="2.4"/><circle cx="387.8" cy="332.6" r="2.4"/><circle cx="388.1" cy="318.9" r="2.4"/><circle cx="388.4" cy="321" r="2.4"/><circle cx="388.8" cy="331.9" r="2.4"/><circle cx="389.1" cy="332.8" r="2.4"/><circle cx="389.4" cy="333.2" r="2.4"/><circle cx="389.7" cy="335.9" r="2.4"/><circle cx="390" cy="336.7" r="2.4"/><circle cx="390.3" cy="323.9" r="2.4"/><circle cx="390.6" cy="327.3" r="2.4"/><circle cx="391" cy="329.1" r="2.4"/><circle cx="391.3" cy="333.1" r="2.4"/><circle cx="391.6" cy="335.5" r="2.4"/><circle cx="391.9" cy="337.1" r="2.4"/><circle cx="392.2" cy="339.6" r="2.4"/><circle cx="392.5" cy="335.9" r="2.4"/><circle cx="392.8" cy="328.8" r="2.4"/><circle cx="393.2" cy="334.4" r="2.4"/><circle cx="393.5" cy="341" r="2.4"/><circle cx="393.8" cy="338.8" r="2.4"/><circle cx="394.1" cy="340.5" r="2.4"/><circle cx="394.4" cy="341.1" r="2.4"/><circle cx="394.7" cy="343.7" r="2.4"/><circle cx="395" cy="343.8" r="2.4"/><circle cx="395.4" cy="340.3" r="2.4"/><circle cx="395.7" cy="343.5" r="2.4"/><circle cx="396" cy="344" r="2.4"/><circle cx="396.3" cy="337.1" r="2.4"/><circle cx="396.6" cy="343.4" r="2.4"/><circle cx="396.9" cy="345.2" r="2.4"/><circle cx="397.2" cy="344.1" r="2.4"/><circle cx="397.6" cy="340.8" r="2.4"/><circle cx="397.9" cy="341.2" r="2.4"/><circle cx="398.2" cy="337.1" r="2.4"/><circle cx="398.5" cy="341.2" r="2.4"/><circle cx="398.8" cy="343.3" r="2.4"/><circle cx="399.1" cy="332.4" r="2.4"/><circle cx="399.4" cy="342.8" r="2.4"/><circle cx="399.8" cy="317.8" r="2.4"/><circle cx="400.1" cy="309.4" r="2.4"/><circle cx="400.4" cy="322.1" r="2.4"/><circle cx="400.7" cy="327.3" r="2.4"/><circle cx="401" cy="330.8" r="2.4"/><circle cx="401.3" cy="344.1" r="2.4"/><circle cx="401.6" cy="345.7" r="2.4"/><circle cx="402" cy="345.3" r="2.4"/><circle cx="402.3" cy="346.1" r="2.4"/><circle cx="402.6" cy="345.5" r="2.4"/><circle cx="402.9" cy="335.5" r="2.4"/><circle cx="403.2" cy="340" r="2.4"/><circle cx="403.5" cy="342.9" r="2.4"/><circle cx="403.8" cy="345" r="2.4"/><circle cx="404.2" cy="346.2" r="2.4"/><circle cx="404.5" cy="336.4" r="2.4"/><circle cx="404.8" cy="331.5" r="2.4"/><circle cx="405.1" cy="339.4" r="2.4"/><circle cx="405.4" cy="342.4" r="2.4"/><circle cx="405.7" cy="344.9" r="2.4"/><circle cx="406" cy="327.9" r="2.4"/><circle cx="406.4" cy="333.9" r="2.4"/><circle cx="406.7" cy="343.8" r="2.4"/><circle cx="407" cy="345.5" r="2.4"/><circle cx="407.3" cy="320" r="2.4"/><circle cx="407.6" cy="342.3" r="2.4"/><circle cx="407.9" cy="345.4" r="2.4"/><circle cx="408.2" cy="336" r="2.4"/><circle cx="408.6" cy="338" r="2.4"/><circle cx="408.9" cy="346.6" r="2.4"/><circle cx="409.2" cy="335.2" r="2.4"/><circle cx="409.5" cy="339.6" r="2.4"/><circle cx="409.8" cy="346" r="2.4"/><circle cx="410.1" cy="347.2" r="2.4"/><circle cx="410.4" cy="346.7" r="2.4"/><circle cx="410.8" cy="347.2" r="2.4"/><circle cx="411.1" cy="347.6" r="2.4"/><circle cx="411.4" cy="347.9" r="2.4"/><circle cx="411.7" cy="344.2" r="2.4"/><circle cx="412" cy="347.1" r="2.4"/><circle cx="412.3" cy="345.9" r="2.4"/><circle cx="412.6" cy="347.1" r="2.4"/><circle cx="413" cy="347" r="2.4"/><circle cx="413.3" cy="348.3" r="2.4"/><circle cx="413.6" cy="344.1" r="2.4"/><circle cx="413.9" cy="347.7" r="2.4"/><circle cx="414.2" cy="347.3" r="2.4"/><circle cx="414.5" cy="348.8" r="2.4"/><circle cx="414.8" cy="348.3" r="2.4"/><circle cx="415.2" cy="349.1" r="2.4"/><circle cx="415.5" cy="349.7" r="2.4"/><circle cx="415.8" cy="349.5" r="2.4"/><circle cx="416.1" cy="351.1" r="2.4"/><circle cx="416.4" cy="349.3" r="2.4"/><circle cx="416.7" cy="347" r="2.4"/><circle cx="417" cy="345.8" r="2.4"/><circle cx="417.4" cy="349.5" r="2.4"/><circle cx="417.7" cy="351.3" r="2.4"/><circle cx="418" cy="349.3" r="2.4"/><circle cx="418.3" cy="351.6" r="2.4"/><circle cx="418.6" cy="350.9" r="2.4"/><circle cx="418.9" cy="351.1" r="2.4"/><circle cx="419.2" cy="351.1" r="2.4"/><circle cx="419.6" cy="350.9" r="2.4"/><circle cx="419.9" cy="352.2" r="2.4"/><circle cx="420.2" cy="350.5" r="2.4"/><circle cx="420.5" cy="344.9" r="2.4"/><circle cx="420.8" cy="350.1" r="2.4"/><circle cx="421.1" cy="347.1" r="2.4"/><circle cx="421.4" cy="349.8" r="2.4"/><circle cx="421.8" cy="350.2" r="2.4"/><circle cx="422.1" cy="349.8" r="2.4"/><circle cx="422.4" cy="349.8" r="2.4"/><circle cx="422.7" cy="349.5" r="2.4"/><circle cx="423" cy="349.3" r="2.4"/><circle cx="423.3" cy="348.1" r="2.4"/><circle cx="423.6" cy="349.3" r="2.4"/><circle cx="424" cy="347.5" r="2.4"/><circle cx="424.3" cy="347.5" r="2.4"/><circle cx="424.6" cy="348.6" r="2.4"/><circle cx="424.9" cy="348.8" r="2.4"/><circle cx="425.2" cy="346.4" r="2.4"/><circle cx="425.5" cy="341.2" r="2.4"/><circle cx="425.8" cy="346" r="2.4"/><circle cx="426.2" cy="348.1" r="2.4"/><circle cx="426.5" cy="342.3" r="2.4"/><circle cx="426.8" cy="346" r="2.4"/><circle cx="427.1" cy="348.1" r="2.4"/><circle cx="427.4" cy="349.3" r="2.4"/><circle cx="427.7" cy="342.4" r="2.4"/><circle cx="428" cy="346.2" r="2.4"/><circle cx="428.4" cy="346.4" r="2.4"/><circle cx="428.7" cy="348.7" r="2.4"/><circle cx="429" cy="348" r="2.4"/><circle cx="429.3" cy="348.2" r="2.4"/><circle cx="429.6" cy="348.3" r="2.4"/><circle cx="429.9" cy="348.9" r="2.4"/><circle cx="430.2" cy="349" r="2.4"/><circle cx="430.6" cy="340.6" r="2.4"/><circle cx="430.9" cy="348.7" r="2.4"/><circle cx="431.2" cy="344.4" r="2.4"/><circle cx="431.5" cy="346.9" r="2.4"/><circle cx="431.8" cy="348.1" r="2.4"/><circle cx="432.1" cy="323.2" r="2.4"/><circle cx="432.4" cy="314.8" r="2.4"/><circle cx="432.8" cy="311.4" r="2.4"/><circle cx="433.1" cy="344.2" r="2.4"/><circle cx="433.4" cy="349.2" r="2.4"/><circle cx="433.7" cy="346.1" r="2.4"/><circle cx="434" cy="329.2" r="2.4"/><circle cx="434.3" cy="334.9" r="2.4"/><circle cx="434.6" cy="334.3" r="2.4"/><circle cx="435" cy="340.6" r="2.4"/><circle cx="435.3" cy="339.9" r="2.4"/><circle cx="435.6" cy="332" r="2.4"/><circle cx="435.9" cy="302.4" r="2.4"/><circle cx="436.2" cy="199.5" r="2.4"/><circle cx="436.5" cy="244.3" r="2.4"/><circle cx="436.8" cy="279.9" r="2.4"/><circle cx="437.2" cy="245.4" r="2.4"/><circle cx="437.5" cy="313.1" r="2.4"/><circle cx="437.8" cy="306.7" r="2.4"/><circle cx="438.1" cy="313.6" r="2.4"/><circle cx="438.4" cy="320" r="2.4"/><circle cx="438.7" cy="326.5" r="2.4"/><circle cx="439" cy="323.7" r="2.4"/><circle cx="439.4" cy="325.1" r="2.4"/><circle cx="439.7" cy="321" r="2.4"/><circle cx="440" cy="322.1" r="2.4"/><circle cx="440.3" cy="325.2" r="2.4"/><circle cx="440.6" cy="314.5" r="2.4"/><circle cx="440.9" cy="321.7" r="2.4"/><circle cx="441.2" cy="324.9" r="2.4"/><circle cx="441.6" cy="298.8" r="2.4"/><circle cx="441.9" cy="307.8" r="2.4"/><circle cx="442.2" cy="325.7" r="2.4"/><circle cx="442.5" cy="323.1" r="2.4"/><circle cx="442.8" cy="289.6" r="2.4"/><circle cx="443.1" cy="283.1" r="2.4"/><circle cx="443.4" cy="293.7" r="2.4"/><circle cx="443.8" cy="297.4" r="2.4"/><circle cx="444.1" cy="299.1" r="2.4"/><circle cx="444.4" cy="261.5" r="2.4"/><circle cx="444.7" cy="269.1" r="2.4"/><circle cx="445" cy="269.4" r="2.4"/><circle cx="445.3" cy="282.1" r="2.4"/><circle cx="445.6" cy="225.2" r="2.4"/><circle cx="446" cy="272.7" r="2.4"/><circle cx="446.3" cy="230.3" r="2.4"/><circle cx="446.6" cy="273.2" r="2.4"/><circle cx="446.9" cy="293.8" r="2.4"/><circle cx="447.2" cy="293.1" r="2.4"/><circle cx="447.5" cy="292.6" r="2.4"/><circle cx="447.8" cy="266.4" r="2.4"/><circle cx="448.2" cy="197.5" r="2.4"/><circle cx="448.5" cy="228.3" r="2.4"/><circle cx="448.8" cy="251.7" r="2.4"/><circle cx="449.1" cy="236.8" r="2.4"/><circle cx="449.4" cy="245.3" r="2.4"/><circle cx="449.7" cy="241.9" r="2.4"/><circle cx="450" cy="261.1" r="2.4"/><circle cx="450.4" cy="265" r="2.4"/><circle cx="450.7" cy="274.4" r="2.4"/><circle cx="451" cy="269.4" r="2.4"/><circle cx="451.3" cy="288.6" r="2.4"/><circle cx="451.6" cy="285.8" r="2.4"/><circle cx="451.9" cy="289.6" r="2.4"/><circle cx="452.2" cy="266.2" r="2.4"/><circle cx="452.6" cy="255.2" r="2.4"/><circle cx="452.9" cy="258.2" r="2.4"/><circle cx="453.2" cy="279.8" r="2.4"/><circle cx="453.5" cy="287.7" r="2.4"/><circle cx="453.8" cy="273.4" r="2.4"/><circle cx="454.1" cy="274.5" r="2.4"/><circle cx="454.4" cy="278.6" r="2.4"/><circle cx="454.8" cy="254.4" r="2.4"/><circle cx="455.1" cy="255" r="2.4"/><circle cx="455.4" cy="258.9" r="2.4"/><circle cx="455.7" cy="253.7" r="2.4"/><circle cx="456" cy="244.4" r="2.4"/><circle cx="456.3" cy="238.1" r="2.4"/><circle cx="456.6" cy="214.5" r="2.4"/><circle cx="457" cy="223" r="2.4"/><circle cx="457.3" cy="173.1" r="2.4"/><circle cx="457.6" cy="184.4" r="2.4"/><circle cx="457.9" cy="205.7" r="2.4"/><circle cx="458.2" cy="214.2" r="2.4"/><circle cx="458.5" cy="217.7" r="2.4"/><circle cx="458.8" cy="231.1" r="2.4"/><circle cx="459.2" cy="216.6" r="2.4"/><circle cx="459.5" cy="227.8" r="2.4"/><circle cx="459.8" cy="189.3" r="2.4"/><circle cx="460.1" cy="220.8" r="2.4"/><circle cx="460.4" cy="228" r="2.4"/><circle cx="460.7" cy="239.2" r="2.4"/><circle cx="461" cy="240.9" r="2.4"/><circle cx="461.4" cy="200" r="2.4"/><circle cx="461.7" cy="215.1" r="2.4"/><circle cx="462" cy="224.7" r="2.4"/><circle cx="462.3" cy="236.9" r="2.4"/><circle cx="462.6" cy="207.1" r="2.4"/><circle cx="462.9" cy="223" r="2.4"/><circle cx="463.2" cy="209.7" r="2.4"/><circle cx="463.6" cy="237.8" r="2.4"/><circle cx="463.9" cy="208.2" r="2.4"/><circle cx="464.2" cy="235.8" r="2.4"/><circle cx="464.5" cy="196.8" r="2.4"/><circle cx="464.8" cy="224.7" r="2.4"/><circle cx="465.1" cy="231.1" r="2.4"/><circle cx="465.4" cy="230.6" r="2.4"/><circle cx="465.8" cy="239.7" r="2.4"/><circle cx="466.1" cy="228.8" r="2.4"/><circle cx="466.4" cy="242.6" r="2.4"/><circle cx="466.7" cy="257.7" r="2.4"/><circle cx="467" cy="268.4" r="2.4"/><circle cx="467.3" cy="239.6" r="2.4"/><circle cx="467.6" cy="253" r="2.4"/><circle cx="468" cy="266.1" r="2.4"/><circle cx="468.3" cy="236.2" r="2.4"/><circle cx="468.6" cy="252.2" r="2.4"/><circle cx="468.9" cy="220.9" r="2.4"/><circle cx="469.2" cy="223.6" r="2.4"/><circle cx="469.5" cy="224.7" r="2.4"/><circle cx="469.8" cy="246.7" r="2.4"/><circle cx="470.2" cy="245.6" r="2.4"/><circle cx="470.5" cy="239.8" r="2.4"/><circle cx="470.8" cy="206.7" r="2.4"/><circle cx="471.1" cy="192.5" r="2.4"/><circle cx="471.4" cy="167.1" r="2.4"/><circle cx="471.7" cy="190.3" r="2.4"/><circle cx="472" cy="212.8" r="2.4"/><circle cx="472.4" cy="188" r="2.4"/><circle cx="472.7" cy="204.7" r="2.4"/><circle cx="473" cy="212.1" r="2.4"/><circle cx="473.3" cy="231.4" r="2.4"/><circle cx="473.6" cy="240.9" r="2.4"/><circle cx="473.9" cy="233.5" r="2.4"/><circle cx="474.2" cy="247.2" r="2.4"/><circle cx="474.6" cy="257" r="2.4"/><circle cx="474.9" cy="232.7" r="2.4"/><circle cx="475.2" cy="241.1" r="2.4"/><circle cx="475.5" cy="233.3" r="2.4"/><circle cx="475.8" cy="249.9" r="2.4"/><circle cx="476.1" cy="227.8" r="2.4"/><circle cx="476.4" cy="239.8" r="2.4"/><circle cx="476.8" cy="219.5" r="2.4"/><circle cx="477.1" cy="222" r="2.4"/><circle cx="477.4" cy="239.3" r="2.4"/><circle cx="477.7" cy="246.8" r="2.4"/><circle cx="478" cy="257.1" r="2.4"/><circle cx="478.3" cy="262.7" r="2.4"/><circle cx="478.6" cy="232.3" r="2.4"/><circle cx="479" cy="247.6" r="2.4"/><circle cx="479.3" cy="262.8" r="2.4"/><circle cx="479.6" cy="227.8" r="2.4"/><circle cx="479.9" cy="255.5" r="2.4"/><circle cx="480.2" cy="226.3" r="2.4"/><circle cx="480.5" cy="225.6" r="2.4"/><circle cx="480.8" cy="255.1" r="2.4"/><circle cx="481.2" cy="260" r="2.4"/><circle cx="481.5" cy="270" r="2.4"/><circle cx="481.8" cy="231.3" r="2.4"/><circle cx="482.1" cy="249.4" r="2.4"/><circle cx="482.4" cy="270" r="2.4"/><circle cx="482.7" cy="262.2" r="2.4"/><circle cx="483" cy="278.4" r="2.4"/><circle cx="483.4" cy="287.7" r="2.4"/><circle cx="483.7" cy="289.7" r="2.4"/><circle cx="484" cy="290" r="2.4"/><circle cx="484.3" cy="291.5" r="2.4"/><circle cx="484.6" cy="278.2" r="2.4"/><circle cx="484.9" cy="244.5" r="2.4"/><circle cx="485.2" cy="266.6" r="2.4"/><circle cx="485.6" cy="277.7" r="2.4"/><circle cx="485.9" cy="285.2" r="2.4"/><circle cx="486.2" cy="290" r="2.4"/><circle cx="486.5" cy="301.1" r="2.4"/><circle cx="486.8" cy="303.3" r="2.4"/><circle cx="487.1" cy="305.1" r="2.4"/><circle cx="487.4" cy="282.6" r="2.4"/><circle cx="487.8" cy="296.3" r="2.4"/><circle cx="488.1" cy="281.5" r="2.4"/><circle cx="488.4" cy="289.4" r="2.4"/><circle cx="488.7" cy="302.8" r="2.4"/><circle cx="489" cy="283.2" r="2.4"/><circle cx="489.3" cy="302.3" r="2.4"/><circle cx="489.6" cy="308.4" r="2.4"/><circle cx="490" cy="305.5" r="2.4"/><circle cx="490.3" cy="288" r="2.4"/><circle cx="490.6" cy="297.4" r="2.4"/><circle cx="490.9" cy="301.8" r="2.4"/><circle cx="491.2" cy="311.3" r="2.4"/><circle cx="491.5" cy="314.4" r="2.4"/><circle cx="491.8" cy="297.1" r="2.4"/><circle cx="492.2" cy="292.2" r="2.4"/><circle cx="492.5" cy="293.1" r="2.4"/><circle cx="492.8" cy="294.7" r="2.4"/><circle cx="493.1" cy="308" r="2.4"/><circle cx="493.4" cy="292" r="2.4"/><circle cx="493.7" cy="308.7" r="2.4"/><circle cx="494" cy="314.1" r="2.4"/><circle cx="494.4" cy="316.3" r="2.4"/><circle cx="494.7" cy="319.1" r="2.4"/><circle cx="495" cy="293.5" r="2.4"/><circle cx="495.3" cy="303.4" r="2.4"/><circle cx="495.6" cy="310" r="2.4"/><circle cx="495.9" cy="312.3" r="2.4"/><circle cx="496.2" cy="313.7" r="2.4"/><circle cx="496.6" cy="319.9" r="2.4"/><circle cx="496.9" cy="321.6" r="2.4"/><circle cx="497.2" cy="322.8" r="2.4"/><circle cx="497.5" cy="323.6" r="2.4"/><circle cx="497.8" cy="324" r="2.4"/><circle cx="498.1" cy="323.6" r="2.4"/><circle cx="498.4" cy="324.6" r="2.4"/><circle cx="498.8" cy="320.6" r="2.4"/><circle cx="499.1" cy="323.7" r="2.4"/><circle cx="499.4" cy="325.5" r="2.4"/><circle cx="499.7" cy="327.3" r="2.4"/><circle cx="500" cy="301.3" r="2.4"/><circle cx="500.3" cy="313.3" r="2.4"/><circle cx="500.6" cy="321.7" r="2.4"/><circle cx="501" cy="324.4" r="2.4"/><circle cx="501.3" cy="313.5" r="2.4"/><circle cx="501.6" cy="320.7" r="2.4"/><circle cx="501.9" cy="327.6" r="2.4"/><circle cx="502.2" cy="329.5" r="2.4"/><circle cx="502.5" cy="331.9" r="2.4"/><circle cx="502.8" cy="321.7" r="2.4"/><circle cx="503.2" cy="317.5" r="2.4"/><circle cx="503.5" cy="324.1" r="2.4"/><circle cx="503.8" cy="328.7" r="2.4"/><circle cx="504.1" cy="330.5" r="2.4"/><circle cx="504.4" cy="317" r="2.4"/><circle cx="504.7" cy="327.8" r="2.4"/><circle cx="505" cy="319.4" r="2.4"/><circle cx="505.4" cy="326.2" r="2.4"/><circle cx="505.7" cy="316" r="2.4"/><circle cx="506" cy="307.6" r="2.4"/><circle cx="506.3" cy="323.4" r="2.4"/><circle cx="506.6" cy="304.3" r="2.4"/><circle cx="506.9" cy="313.7" r="2.4"/><circle cx="507.2" cy="322.4" r="2.4"/><circle cx="507.6" cy="324.3" r="2.4"/><circle cx="507.9" cy="304.2" r="2.4"/><circle cx="508.2" cy="320.3" r="2.4"/><circle cx="508.5" cy="306.3" r="2.4"/><circle cx="508.8" cy="313.5" r="2.4"/><circle cx="509.1" cy="316.3" r="2.4"/><circle cx="509.4" cy="317.7" r="2.4"/><circle cx="509.8" cy="322.5" r="2.4"/><circle cx="510.1" cy="305.8" r="2.4"/><circle cx="510.4" cy="294.8" r="2.4"/><circle cx="510.7" cy="320.1" r="2.4"/><circle cx="511" cy="323" r="2.4"/><circle cx="511.3" cy="327.8" r="2.4"/><circle cx="511.6" cy="328.2" r="2.4"/><circle cx="512" cy="328.8" r="2.4"/><circle cx="512.3" cy="330.6" r="2.4"/><circle cx="512.6" cy="331.2" r="2.4"/><circle cx="512.9" cy="326.9" r="2.4"/><circle cx="513.2" cy="331.2" r="2.4"/><circle cx="513.5" cy="312.1" r="2.4"/><circle cx="513.8" cy="316" r="2.4"/><circle cx="514.2" cy="313.3" r="2.4"/><circle cx="514.5" cy="310.6" r="2.4"/><circle cx="514.8" cy="306.8" r="2.4"/><circle cx="515.1" cy="308.6" r="2.4"/><circle cx="515.4" cy="303.9" r="2.4"/><circle cx="515.7" cy="226" r="2.4"/><circle cx="516" cy="193.8" r="2.4"/><circle cx="516.4" cy="232.3" r="2.4"/><circle cx="516.7" cy="260.5" r="2.4"/><circle cx="517" cy="234.5" r="2.4"/><circle cx="517.3" cy="259.7" r="2.4"/><circle cx="517.6" cy="290.3" r="2.4"/><circle cx="517.9" cy="288" r="2.4"/><circle cx="518.2" cy="268.8" r="2.4"/><circle cx="518.6" cy="285" r="2.4"/><circle cx="518.9" cy="288.8" r="2.4"/><circle cx="519.2" cy="302.8" r="2.4"/><circle cx="519.5" cy="303.9" r="2.4"/><circle cx="519.8" cy="300.3" r="2.4"/><circle cx="520.1" cy="312.8" r="2.4"/><circle cx="520.4" cy="319.4" r="2.4"/><circle cx="520.8" cy="305.3" r="2.4"/><circle cx="521.1" cy="308.2" r="2.4"/><circle cx="521.4" cy="316.8" r="2.4"/><circle cx="521.7" cy="321.9" r="2.4"/><circle cx="522" cy="326.5" r="2.4"/><circle cx="522.3" cy="328.8" r="2.4"/><circle cx="522.6" cy="329.8" r="2.4"/><circle cx="523" cy="330.7" r="2.4"/><circle cx="523.3" cy="330.8" r="2.4"/><circle cx="523.6" cy="331.9" r="2.4"/><circle cx="523.9" cy="326.2" r="2.4"/><circle cx="524.2" cy="333.1" r="2.4"/><circle cx="524.5" cy="334.6" r="2.4"/><circle cx="524.8" cy="331.5" r="2.4"/><circle cx="525.2" cy="324.3" r="2.4"/><circle cx="525.5" cy="334.4" r="2.4"/><circle cx="525.8" cy="336.4" r="2.4"/><circle cx="526.1" cy="339.3" r="2.4"/><circle cx="526.4" cy="336.8" r="2.4"/><circle cx="526.7" cy="338.4" r="2.4"/><circle cx="527" cy="336.1" r="2.4"/><circle cx="527.4" cy="338" r="2.4"/><circle cx="527.7" cy="337.8" r="2.4"/><circle cx="528" cy="339.7" r="2.4"/><circle cx="528.3" cy="339.5" r="2.4"/><circle cx="528.6" cy="337.3" r="2.4"/><circle cx="528.9" cy="335.2" r="2.4"/><circle cx="529.2" cy="338" r="2.4"/><circle cx="529.6" cy="339.1" r="2.4"/><circle cx="529.9" cy="337" r="2.4"/><circle cx="530.2" cy="341.7" r="2.4"/><circle cx="530.5" cy="337.7" r="2.4"/><circle cx="530.8" cy="341.5" r="2.4"/><circle cx="531.1" cy="342.7" r="2.4"/><circle cx="531.4" cy="338.8" r="2.4"/><circle cx="531.8" cy="339.8" r="2.4"/><circle cx="532.1" cy="336.8" r="2.4"/><circle cx="532.4" cy="340.3" r="2.4"/><circle cx="532.7" cy="335.2" r="2.4"/><circle cx="533" cy="340.4" r="2.4"/><circle cx="533.3" cy="342.2" r="2.4"/><circle cx="533.6" cy="341.6" r="2.4"/><circle cx="534" cy="333.5" r="2.4"/><circle cx="534.3" cy="339.8" r="2.4"/><circle cx="534.6" cy="331.4" r="2.4"/><circle cx="534.9" cy="326.7" r="2.4"/><circle cx="535.2" cy="333.5" r="2.4"/><circle cx="535.5" cy="341" r="2.4"/><circle cx="535.8" cy="334.7" r="2.4"/><circle cx="536.2" cy="327.9" r="2.4"/><circle cx="536.5" cy="337.1" r="2.4"/><circle cx="536.8" cy="330.4" r="2.4"/><circle cx="537.1" cy="316.1" r="2.4"/><circle cx="537.4" cy="325.3" r="2.4"/><circle cx="537.7" cy="332.7" r="2.4"/><circle cx="538" cy="323.7" r="2.4"/><circle cx="538.4" cy="335.3" r="2.4"/><circle cx="538.7" cy="330.7" r="2.4"/><circle cx="539" cy="334.5" r="2.4"/><circle cx="539.3" cy="331.3" r="2.4"/><circle cx="539.6" cy="335.9" r="2.4"/><circle cx="539.9" cy="343.1" r="2.4"/><circle cx="540.2" cy="342.8" r="2.4"/><circle cx="540.6" cy="333.4" r="2.4"/><circle cx="540.9" cy="339.9" r="2.4"/><circle cx="541.2" cy="338.3" r="2.4"/><circle cx="541.5" cy="341.7" r="2.4"/><circle cx="541.8" cy="343.4" r="2.4"/><circle cx="542.1" cy="342.6" r="2.4"/><circle cx="542.4" cy="343.2" r="2.4"/><circle cx="542.8" cy="341.8" r="2.4"/><circle cx="543.1" cy="342.6" r="2.4"/><circle cx="543.4" cy="343.1" r="2.4"/><circle cx="543.7" cy="341.4" r="2.4"/><circle cx="544" cy="342.9" r="2.4"/><circle cx="544.3" cy="338.4" r="2.4"/><circle cx="544.6" cy="341.2" r="2.4"/><circle cx="545" cy="341.4" r="2.4"/><circle cx="545.3" cy="343.1" r="2.4"/><circle cx="545.6" cy="342.1" r="2.4"/><circle cx="545.9" cy="342.1" r="2.4"/><circle cx="546.2" cy="341.4" r="2.4"/><circle cx="546.5" cy="341.1" r="2.4"/><circle cx="546.8" cy="340.9" r="2.4"/><circle cx="547.2" cy="335.9" r="2.4"/><circle cx="547.5" cy="340.4" r="2.4"/><circle cx="547.8" cy="332.3" r="2.4"/><circle cx="548.1" cy="321.7" r="2.4"/><circle cx="548.4" cy="321.8" r="2.4"/><circle cx="548.7" cy="333" r="2.4"/><circle cx="549" cy="330.3" r="2.4"/><circle cx="549.4" cy="334.5" r="2.4"/><circle cx="549.7" cy="323.1" r="2.4"/><circle cx="550" cy="329.8" r="2.4"/><circle cx="550.3" cy="333" r="2.4"/><circle cx="550.6" cy="329.8" r="2.4"/><circle cx="550.9" cy="334" r="2.4"/><circle cx="551.2" cy="309.5" r="2.4"/><circle cx="551.6" cy="328.4" r="2.4"/><circle cx="551.9" cy="314.2" r="2.4"/><circle cx="552.2" cy="324" r="2.4"/><circle cx="552.5" cy="321.8" r="2.4"/><circle cx="552.8" cy="315" r="2.4"/><circle cx="553.1" cy="303.2" r="2.4"/><circle cx="553.4" cy="293" r="2.4"/><circle cx="553.8" cy="312.4" r="2.4"/><circle cx="554.1" cy="322.6" r="2.4"/><circle cx="554.4" cy="331.1" r="2.4"/><circle cx="554.7" cy="330.3" r="2.4"/><circle cx="555" cy="311.6" r="2.4"/><circle cx="555.3" cy="328.6" r="2.4"/><circle cx="555.6" cy="323.3" r="2.4"/><circle cx="556" cy="331.4" r="2.4"/><circle cx="556.3" cy="333.7" r="2.4"/><circle cx="556.6" cy="336.8" r="2.4"/><circle cx="556.9" cy="338.9" r="2.4"/><circle cx="557.2" cy="334.5" r="2.4"/><circle cx="557.5" cy="331.9" r="2.4"/><circle cx="557.8" cy="341.1" r="2.4"/><circle cx="558.1" cy="341.8" r="2.4"/><circle cx="558.5" cy="342.6" r="2.4"/><circle cx="558.8" cy="339.7" r="2.4"/><circle cx="559.1" cy="334.9" r="2.4"/><circle cx="559.4" cy="330" r="2.4"/><circle cx="559.7" cy="324.3" r="2.4"/><circle cx="560" cy="320.5" r="2.4"/><circle cx="560.3" cy="292.6" r="2.4"/><circle cx="560.7" cy="295.5" r="2.4"/><circle cx="561" cy="285" r="2.4"/><circle cx="561.3" cy="287.5" r="2.4"/><circle cx="561.6" cy="272.7" r="2.4"/><circle cx="561.9" cy="255.3" r="2.4"/><circle cx="562.2" cy="276.8" r="2.4"/><circle cx="562.5" cy="232.9" r="2.4"/><circle cx="562.9" cy="219.6" r="2.4"/><circle cx="563.2" cy="165.4" r="2.4"/><circle cx="563.5" cy="209.7" r="2.4"/><circle cx="563.8" cy="242.2" r="2.4"/><circle cx="564.1" cy="260.7" r="2.4"/><circle cx="564.4" cy="263.6" r="2.4"/><circle cx="564.7" cy="294.2" r="2.4"/><circle cx="565.1" cy="263.8" r="2.4"/><circle cx="565.4" cy="250.7" r="2.4"/><circle cx="565.7" cy="253.9" r="2.4"/><circle cx="566" cy="262.9" r="2.4"/><circle cx="566.3" cy="236" r="2.4"/><circle cx="566.6" cy="248.5" r="2.4"/><circle cx="566.9" cy="273.8" r="2.4"/><circle cx="567.3" cy="240.3" r="2.4"/><circle cx="567.6" cy="257.2" r="2.4"/><circle cx="567.9" cy="262" r="2.4"/><circle cx="568.2" cy="265.3" r="2.4"/><circle cx="568.5" cy="244.9" r="2.4"/><circle cx="568.8" cy="265.1" r="2.4"/><circle cx="569.1" cy="244" r="2.4"/><circle cx="569.5" cy="268.4" r="2.4"/><circle cx="569.8" cy="277.5" r="2.4"/><circle cx="570.1" cy="284.7" r="2.4"/><circle cx="570.4" cy="293.2" r="2.4"/><circle cx="570.7" cy="294.8" r="2.4"/><circle cx="571" cy="233.3" r="2.4"/><circle cx="571.3" cy="234.9" r="2.4"/><circle cx="571.7" cy="265.6" r="2.4"/><circle cx="572" cy="272.4" r="2.4"/><circle cx="572.3" cy="271.3" r="2.4"/><circle cx="572.6" cy="255.5" r="2.4"/><circle cx="572.9" cy="265" r="2.4"/><circle cx="573.2" cy="291.7" r="2.4"/><circle cx="573.5" cy="268.9" r="2.4"/><circle cx="573.9" cy="192.6" r="2.4"/><circle cx="574.2" cy="226.7" r="2.4"/><circle cx="574.5" cy="252.9" r="2.4"/><circle cx="574.8" cy="267.3" r="2.4"/><circle cx="575.1" cy="247.1" r="2.4"/><circle cx="575.4" cy="227.1" r="2.4"/><circle cx="575.7" cy="245.6" r="2.4"/><circle cx="576.1" cy="249.9" r="2.4"/><circle cx="576.4" cy="262.1" r="2.4"/><circle cx="576.7" cy="248.1" r="2.4"/><circle cx="577" cy="271.2" r="2.4"/><circle cx="577.3" cy="277.5" r="2.4"/><circle cx="577.6" cy="243" r="2.4"/><circle cx="577.9" cy="259.9" r="2.4"/><circle cx="578.3" cy="270.5" r="2.4"/><circle cx="578.6" cy="278.8" r="2.4"/><circle cx="578.9" cy="280.7" r="2.4"/><circle cx="579.2" cy="280.4" r="2.4"/><circle cx="579.5" cy="280.3" r="2.4"/><circle cx="579.8" cy="278.3" r="2.4"/><circle cx="580.1" cy="260.6" r="2.4"/><circle cx="580.5" cy="212.2" r="2.4"/><circle cx="580.8" cy="221.3" r="2.4"/><circle cx="581.1" cy="252.7" r="2.4"/><circle cx="581.4" cy="264.8" r="2.4"/><circle cx="581.7" cy="245.6" r="2.4"/><circle cx="582" cy="265.4" r="2.4"/><circle cx="582.3" cy="253.5" r="2.4"/><circle cx="582.7" cy="262.1" r="2.4"/><circle cx="583" cy="272.1" r="2.4"/><circle cx="583.3" cy="278" r="2.4"/><circle cx="583.6" cy="280.8" r="2.4"/><circle cx="583.9" cy="282.8" r="2.4"/><circle cx="584.2" cy="271.5" r="2.4"/><circle cx="584.5" cy="278.4" r="2.4"/><circle cx="584.9" cy="275.8" r="2.4"/><circle cx="585.2" cy="285.6" r="2.4"/><circle cx="585.5" cy="283.6" r="2.4"/><circle cx="585.8" cy="279.9" r="2.4"/><circle cx="586.1" cy="281.1" r="2.4"/><circle cx="586.4" cy="286.9" r="2.4"/><circle cx="586.7" cy="297" r="2.4"/><circle cx="587.1" cy="288.4" r="2.4"/><circle cx="587.4" cy="295.2" r="2.4"/><circle cx="587.7" cy="304.3" r="2.4"/><circle cx="588" cy="302.1" r="2.4"/><circle cx="588.3" cy="297.4" r="2.4"/><circle cx="588.6" cy="299.5" r="2.4"/><circle cx="588.9" cy="303" r="2.4"/><circle cx="589.3" cy="306.8" r="2.4"/><circle cx="589.6" cy="300" r="2.4"/><circle cx="589.9" cy="305.4" r="2.4"/><circle cx="590.2" cy="307.6" r="2.4"/><circle cx="590.5" cy="313.6" r="2.4"/><circle cx="590.8" cy="315" r="2.4"/><circle cx="591.1" cy="317.5" r="2.4"/><circle cx="591.5" cy="317.4" r="2.4"/><circle cx="591.8" cy="311.5" r="2.4"/><circle cx="592.1" cy="314.2" r="2.4"/><circle cx="592.4" cy="309.1" r="2.4"/><circle cx="592.7" cy="310.6" r="2.4"/><circle cx="593" cy="299.6" r="2.4"/><circle cx="593.3" cy="309.5" r="2.4"/><circle cx="593.7" cy="310.9" r="2.4"/><circle cx="594" cy="313.3" r="2.4"/><circle cx="594.3" cy="301.6" r="2.4"/><circle cx="594.6" cy="302.3" r="2.4"/><circle cx="594.9" cy="309.8" r="2.4"/><circle cx="595.2" cy="315.2" r="2.4"/><circle cx="595.5" cy="304.2" r="2.4"/><circle cx="595.9" cy="311.4" r="2.4"/><circle cx="596.2" cy="263.5" r="2.4"/><circle cx="596.5" cy="283.4" r="2.4"/><circle cx="596.8" cy="288.4" r="2.4"/><circle cx="597.1" cy="293.5" r="2.4"/><circle cx="597.4" cy="296.6" r="2.4"/><circle cx="597.7" cy="312.9" r="2.4"/><circle cx="598.1" cy="287.1" r="2.4"/><circle cx="598.4" cy="271.8" r="2.4"/><circle cx="598.7" cy="273" r="2.4"/><circle cx="599" cy="283.8" r="2.4"/><circle cx="599.3" cy="256.4" r="2.4"/><circle cx="599.6" cy="277.3" r="2.4"/><circle cx="599.9" cy="295.4" r="2.4"/><circle cx="600.3" cy="278.8" r="2.4"/><circle cx="600.6" cy="223.1" r="2.4"/><circle cx="600.9" cy="247" r="2.4"/><circle cx="601.2" cy="229.1" r="2.4"/><circle cx="601.5" cy="240.6" r="2.4"/><circle cx="601.8" cy="251.5" r="2.4"/><circle cx="602.1" cy="283.2" r="2.4"/><circle cx="602.5" cy="229.1" r="2.4"/><circle cx="602.8" cy="258.5" r="2.4"/><circle cx="603.1" cy="236.9" r="2.4"/><circle cx="603.4" cy="246.5" r="2.4"/><circle cx="603.7" cy="230.4" r="2.4"/><circle cx="604" cy="252.6" r="2.4"/><circle cx="604.3" cy="293.8" r="2.4"/><circle cx="604.7" cy="297.3" r="2.4"/><circle cx="605" cy="284.5" r="2.4"/><circle cx="605.3" cy="223.4" r="2.4"/><circle cx="605.6" cy="250.7" r="2.4"/><circle cx="605.9" cy="270" r="2.4"/><circle cx="606.2" cy="284.6" r="2.4"/><circle cx="606.5" cy="308" r="2.4"/><circle cx="606.9" cy="272.3" r="2.4"/><circle cx="607.2" cy="264.7" r="2.4"/><circle cx="607.5" cy="287.5" r="2.4"/><circle cx="607.8" cy="250.5" r="2.4"/><circle cx="608.1" cy="239.7" r="2.4"/><circle cx="608.4" cy="251.5" r="2.4"/><circle cx="608.7" cy="251.9" r="2.4"/><circle cx="609.1" cy="275.7" r="2.4"/><circle cx="609.4" cy="285.9" r="2.4"/><circle cx="609.7" cy="271" r="2.4"/><circle cx="610" cy="279.3" r="2.4"/><circle cx="610.3" cy="284.9" r="2.4"/><circle cx="610.6" cy="291.2" r="2.4"/><circle cx="610.9" cy="298.5" r="2.4"/><circle cx="611.3" cy="244.9" r="2.4"/><circle cx="611.6" cy="249.2" r="2.4"/><circle cx="611.9" cy="264.9" r="2.4"/><circle cx="612.2" cy="264.5" r="2.4"/><circle cx="612.5" cy="272.2" r="2.4"/><circle cx="612.8" cy="243.9" r="2.4"/><circle cx="613.1" cy="239.1" r="2.4"/><circle cx="613.5" cy="224.3" r="2.4"/><circle cx="613.8" cy="250.7" r="2.4"/><circle cx="614.1" cy="270.4" r="2.4"/><circle cx="614.4" cy="283" r="2.4"/><circle cx="614.7" cy="293.8" r="2.4"/><circle cx="615" cy="257.3" r="2.4"/><circle cx="615.3" cy="276.9" r="2.4"/><circle cx="615.7" cy="301.8" r="2.4"/><circle cx="616" cy="304.4" r="2.4"/><circle cx="616.3" cy="295.3" r="2.4"/><circle cx="616.6" cy="301.1" r="2.4"/><circle cx="616.9" cy="287.1" r="2.4"/><circle cx="617.2" cy="280.2" r="2.4"/><circle cx="617.5" cy="289" r="2.4"/><circle cx="617.9" cy="303.6" r="2.4"/><circle cx="618.2" cy="308" r="2.4"/><circle cx="618.5" cy="287.9" r="2.4"/><circle cx="618.8" cy="312.3" r="2.4"/><circle cx="619.1" cy="324.2" r="2.4"/><circle cx="619.4" cy="297.9" r="2.4"/><circle cx="619.7" cy="321.2" r="2.4"/><circle cx="620.1" cy="327.5" r="2.4"/><circle cx="620.4" cy="321.7" r="2.4"/><circle cx="620.7" cy="315.8" r="2.4"/><circle cx="621" cy="331.3" r="2.4"/><circle cx="621.3" cy="333.2" r="2.4"/><circle cx="621.6" cy="333.2" r="2.4"/><circle cx="621.9" cy="334.4" r="2.4"/><circle cx="622.3" cy="335.2" r="2.4"/><circle cx="622.6" cy="335.8" r="2.4"/><circle cx="622.9" cy="336.9" r="2.4"/><circle cx="623.2" cy="336.7" r="2.4"/><circle cx="623.5" cy="330.2" r="2.4"/><circle cx="623.8" cy="337.2" r="2.4"/><circle cx="624.1" cy="337.2" r="2.4"/><circle cx="624.5" cy="327.9" r="2.4"/><circle cx="624.8" cy="327.1" r="2.4"/><circle cx="625.1" cy="336" r="2.4"/><circle cx="625.4" cy="329" r="2.4"/><circle cx="625.7" cy="332.8" r="2.4"/><circle cx="626" cy="340.3" r="2.4"/><circle cx="626.3" cy="340" r="2.4"/><circle cx="626.7" cy="344" r="2.4"/><circle cx="627" cy="341.6" r="2.4"/><circle cx="627.3" cy="344" r="2.4"/><circle cx="627.6" cy="344.5" r="2.4"/><circle cx="627.9" cy="344.7" r="2.4"/><circle cx="628.2" cy="343.8" r="2.4"/><circle cx="628.5" cy="338.3" r="2.4"/><circle cx="628.9" cy="343.4" r="2.4"/><circle cx="629.2" cy="346.9" r="2.4"/><circle cx="629.5" cy="349" r="2.4"/><circle cx="629.8" cy="349.7" r="2.4"/><circle cx="630.1" cy="351.8" r="2.4"/><circle cx="630.4" cy="350.2" r="2.4"/><circle cx="630.7" cy="342" r="2.4"/><circle cx="631.1" cy="347.1" r="2.4"/><circle cx="631.4" cy="349" r="2.4"/><circle cx="631.7" cy="349.9" r="2.4"/><circle cx="632" cy="350.7" r="2.4"/><circle cx="632.3" cy="351.4" r="2.4"/><circle cx="632.6" cy="352.1" r="2.4"/><circle cx="632.9" cy="352" r="2.4"/><circle cx="633.3" cy="352.6" r="2.4"/><circle cx="633.6" cy="346.6" r="2.4"/><circle cx="633.9" cy="350" r="2.4"/><circle cx="634.2" cy="351.6" r="2.4"/><circle cx="634.5" cy="353.8" r="2.4"/><circle cx="634.8" cy="351.7" r="2.4"/><circle cx="635.1" cy="353.6" r="2.4"/><circle cx="635.5" cy="352.2" r="2.4"/><circle cx="635.8" cy="352.6" r="2.4"/><circle cx="636.1" cy="353.2" r="2.4"/><circle cx="636.4" cy="347.2" r="2.4"/><circle cx="636.7" cy="340.8" r="2.4"/><circle cx="637" cy="348.2" r="2.4"/><circle cx="637.3" cy="355" r="2.4"/><circle cx="637.7" cy="354.7" r="2.4"/><circle cx="638" cy="339.5" r="2.4"/><circle cx="638.3" cy="345.3" r="2.4"/><circle cx="638.6" cy="348.8" r="2.4"/><circle cx="638.9" cy="356.4" r="2.4"/><circle cx="639.2" cy="353.1" r="2.4"/><circle cx="639.5" cy="354.5" r="2.4"/><circle cx="639.9" cy="353.7" r="2.4"/><circle cx="640.2" cy="327.5" r="2.4"/><circle cx="640.5" cy="327.2" r="2.4"/><circle cx="640.8" cy="335.7" r="2.4"/><circle cx="641.1" cy="349.5" r="2.4"/><circle cx="641.4" cy="348.9" r="2.4"/><circle cx="641.7" cy="349.5" r="2.4"/><circle cx="642.1" cy="347" r="2.4"/><circle cx="642.4" cy="345.6" r="2.4"/><circle cx="642.7" cy="345.6" r="2.4"/><circle cx="643" cy="345.2" r="2.4"/><circle cx="643.3" cy="345.7" r="2.4"/><circle cx="643.6" cy="343.9" r="2.4"/><circle cx="643.9" cy="319.5" r="2.4"/><circle cx="644.3" cy="335.7" r="2.4"/><circle cx="644.6" cy="340" r="2.4"/><circle cx="644.9" cy="343.4" r="2.4"/><circle cx="645.2" cy="343.4" r="2.4"/><circle cx="645.5" cy="341.1" r="2.4"/><circle cx="645.8" cy="339.1" r="2.4"/><circle cx="646.1" cy="295.9" r="2.4"/><circle cx="646.5" cy="239.6" r="2.4"/><circle cx="646.8" cy="276.5" r="2.4"/><circle cx="647.1" cy="303.2" r="2.4"/><circle cx="647.4" cy="298.1" r="2.4"/><circle cx="647.7" cy="315.6" r="2.4"/><circle cx="648" cy="333.3" r="2.4"/><circle cx="648.3" cy="337.4" r="2.4"/><circle cx="648.7" cy="333.6" r="2.4"/><circle cx="649" cy="336.9" r="2.4"/><circle cx="649.3" cy="338.8" r="2.4"/><circle cx="649.6" cy="322.8" r="2.4"/><circle cx="649.9" cy="330.6" r="2.4"/><circle cx="650.2" cy="338.6" r="2.4"/><circle cx="650.5" cy="341.5" r="2.4"/><circle cx="650.9" cy="340.4" r="2.4"/><circle cx="651.2" cy="343.2" r="2.4"/><circle cx="651.5" cy="339.7" r="2.4"/><circle cx="651.8" cy="337.5" r="2.4"/><circle cx="652.1" cy="342.8" r="2.4"/><circle cx="652.4" cy="343.2" r="2.4"/><circle cx="652.7" cy="342.7" r="2.4"/><circle cx="653.1" cy="343.2" r="2.4"/><circle cx="653.4" cy="345" r="2.4"/><circle cx="653.7" cy="337.5" r="2.4"/><circle cx="654" cy="340.4" r="2.4"/><circle cx="654.3" cy="343.8" r="2.4"/><circle cx="654.6" cy="343.8" r="2.4"/><circle cx="654.9" cy="340.4" r="2.4"/><circle cx="655.3" cy="338.7" r="2.4"/><circle cx="655.6" cy="332.2" r="2.4"/><circle cx="655.9" cy="333.1" r="2.4"/><circle cx="656.2" cy="331" r="2.4"/><circle cx="656.5" cy="313.6" r="2.4"/><circle cx="656.8" cy="323.7" r="2.4"/><circle cx="657.1" cy="314.6" r="2.4"/><circle cx="657.5" cy="317.7" r="2.4"/><circle cx="657.8" cy="317.7" r="2.4"/><circle cx="658.1" cy="317.9" r="2.4"/><circle cx="658.4" cy="306.4" r="2.4"/><circle cx="658.7" cy="300.9" r="2.4"/><circle cx="659" cy="309.7" r="2.4"/><circle cx="659.3" cy="319.6" r="2.4"/><circle cx="659.7" cy="310.6" r="2.4"/><circle cx="660" cy="323.4" r="2.4"/><circle cx="660.3" cy="318.3" r="2.4"/><circle cx="660.6" cy="322.8" r="2.4"/><circle cx="660.9" cy="300.5" r="2.4"/><circle cx="661.2" cy="310.2" r="2.4"/><circle cx="661.5" cy="315.8" r="2.4"/><circle cx="661.9" cy="324.1" r="2.4"/><circle cx="662.2" cy="328.7" r="2.4"/><circle cx="662.5" cy="329.3" r="2.4"/><circle cx="662.8" cy="334.1" r="2.4"/><circle cx="663.1" cy="332.2" r="2.4"/><circle cx="663.4" cy="331.2" r="2.4"/><circle cx="663.7" cy="332.6" r="2.4"/><circle cx="664.1" cy="302.7" r="2.4"/><circle cx="664.4" cy="320.1" r="2.4"/><circle cx="664.7" cy="325.5" r="2.4"/><circle cx="665" cy="319" r="2.4"/><circle cx="665.3" cy="321.9" r="2.4"/><circle cx="665.6" cy="287.7" r="2.4"/><circle cx="665.9" cy="301.8" r="2.4"/><circle cx="666.3" cy="311.9" r="2.4"/><circle cx="666.6" cy="335.7" r="2.4"/><circle cx="666.9" cy="338.6" r="2.4"/><circle cx="667.2" cy="338.4" r="2.4"/><circle cx="667.5" cy="338.5" r="2.4"/><circle cx="667.8" cy="340.5" r="2.4"/><circle cx="668.1" cy="340.7" r="2.4"/><circle cx="668.5" cy="319.9" r="2.4"/><circle cx="668.8" cy="288.2" r="2.4"/><circle cx="669.1" cy="309.7" r="2.4"/><circle cx="669.4" cy="296.9" r="2.4"/><circle cx="669.7" cy="278.9" r="2.4"/><circle cx="670" cy="326.6" r="2.4"/><circle cx="670.3" cy="318.8" r="2.4"/><circle cx="670.7" cy="324.2" r="2.4"/><circle cx="671" cy="324.3" r="2.4"/><circle cx="671.3" cy="328.9" r="2.4"/><circle cx="671.6" cy="331.3" r="2.4"/><circle cx="671.9" cy="313.3" r="2.4"/><circle cx="672.2" cy="265.1" r="2.4"/><circle cx="672.5" cy="285.1" r="2.4"/><circle cx="672.9" cy="301.3" r="2.4"/><circle cx="673.2" cy="275.5" r="2.4"/><circle cx="673.5" cy="299" r="2.4"/><circle cx="673.8" cy="317.5" r="2.4"/><circle cx="674.1" cy="328" r="2.4"/><circle cx="674.4" cy="317.5" r="2.4"/><circle cx="674.7" cy="283.1" r="2.4"/><circle cx="675.1" cy="304.2" r="2.4"/><circle cx="675.4" cy="327.3" r="2.4"/><circle cx="675.7" cy="331.7" r="2.4"/><circle cx="676" cy="324.4" r="2.4"/><circle cx="676.3" cy="265.8" r="2.4"/><circle cx="676.6" cy="291.5" r="2.4"/><circle cx="676.9" cy="301.2" r="2.4"/><circle cx="677.3" cy="291.5" r="2.4"/><circle cx="677.6" cy="245" r="2.4"/><circle cx="677.9" cy="250.5" r="2.4"/><circle cx="678.2" cy="256" r="2.4"/><circle cx="678.5" cy="246" r="2.4"/><circle cx="678.8" cy="252.1" r="2.4"/><circle cx="679.1" cy="270.7" r="2.4"/><circle cx="679.5" cy="271.8" r="2.4"/><circle cx="679.8" cy="271.5" r="2.4"/><circle cx="680.1" cy="196.5" r="2.4"/><circle cx="680.4" cy="225.5" r="2.4"/><circle cx="680.7" cy="234.6" r="2.4"/><circle cx="681" cy="194.1" r="2.4"/><circle cx="681.3" cy="224.7" r="2.4"/><circle cx="681.7" cy="172" r="2.4"/><circle cx="682" cy="185.3" r="2.4"/><circle cx="682.3" cy="201.5" r="2.4"/><circle cx="682.6" cy="243.1" r="2.4"/><circle cx="682.9" cy="222.7" r="2.4"/><circle cx="683.2" cy="243.1" r="2.4"/><circle cx="683.5" cy="220.2" r="2.4"/><circle cx="683.9" cy="241.6" r="2.4"/><circle cx="684.2" cy="257" r="2.4"/><circle cx="684.5" cy="271.4" r="2.4"/><circle cx="684.8" cy="273.6" r="2.4"/><circle cx="685.1" cy="271.8" r="2.4"/><circle cx="685.4" cy="224.1" r="2.4"/><circle cx="685.7" cy="253.3" r="2.4"/><circle cx="686.1" cy="267.3" r="2.4"/><circle cx="686.4" cy="188.5" r="2.4"/><circle cx="686.7" cy="193.9" r="2.4"/><circle cx="687" cy="217.3" r="2.4"/><circle cx="687.3" cy="232.2" r="2.4"/><circle cx="687.6" cy="250.3" r="2.4"/><circle cx="687.9" cy="264.5" r="2.4"/><circle cx="688.3" cy="255" r="2.4"/><circle cx="688.6" cy="258.8" r="2.4"/><circle cx="688.9" cy="271.3" r="2.4"/><circle cx="689.2" cy="259.3" r="2.4"/><circle cx="689.5" cy="257.1" r="2.4"/><circle cx="689.8" cy="273.5" r="2.4"/><circle cx="690.1" cy="238.8" r="2.4"/><circle cx="690.5" cy="260.6" r="2.4"/><circle cx="690.8" cy="258.7" r="2.4"/><circle cx="691.1" cy="269.6" r="2.4"/><circle cx="691.4" cy="267.1" r="2.4"/><circle cx="691.7" cy="273.2" r="2.4"/><circle cx="692" cy="280.8" r="2.4"/><circle cx="692.3" cy="266.2" r="2.4"/><circle cx="692.7" cy="279.2" r="2.4"/><circle cx="693" cy="270.1" r="2.4"/><circle cx="693.3" cy="275" r="2.4"/><circle cx="693.6" cy="277.3" r="2.4"/><circle cx="693.9" cy="281.8" r="2.4"/><circle cx="694.2" cy="288" r="2.4"/><circle cx="694.5" cy="279.3" r="2.4"/><circle cx="694.9" cy="286.5" r="2.4"/><circle cx="695.2" cy="288.1" r="2.4"/><circle cx="695.5" cy="285.2" r="2.4"/><circle cx="695.8" cy="283.3" r="2.4"/><circle cx="696.1" cy="264.5" r="2.4"/><circle cx="696.4" cy="262.9" r="2.4"/><circle cx="696.7" cy="263.7" r="2.4"/><circle cx="697.1" cy="277.5" r="2.4"/><circle cx="697.4" cy="284.9" r="2.4"/><circle cx="697.7" cy="275.6" r="2.4"/><circle cx="698" cy="278.5" r="2.4"/><circle cx="698.3" cy="227.4" r="2.4"/><circle cx="698.6" cy="255.1" r="2.4"/><circle cx="698.9" cy="255" r="2.4"/><circle cx="699.3" cy="261.5" r="2.4"/><circle cx="699.6" cy="268.8" r="2.4"/><circle cx="699.9" cy="238.1" r="2.4"/><circle cx="700.2" cy="243.1" r="2.4"/><circle cx="700.5" cy="208.4" r="2.4"/><circle cx="700.8" cy="232.6" r="2.4"/><circle cx="701.1" cy="250.3" r="2.4"/><circle cx="701.5" cy="198.5" r="2.4"/><circle cx="701.8" cy="223.7" r="2.4"/><circle cx="702.1" cy="242.7" r="2.4"/><circle cx="702.4" cy="217.1" r="2.4"/><circle cx="702.7" cy="234.7" r="2.4"/><circle cx="703" cy="244.6" r="2.4"/><circle cx="703.3" cy="261.9" r="2.4"/><circle cx="703.7" cy="240.8" r="2.4"/><circle cx="704" cy="245.9" r="2.4"/><circle cx="704.3" cy="261.7" r="2.4"/><circle cx="704.6" cy="269" r="2.4"/><circle cx="704.9" cy="270.5" r="2.4"/><circle cx="705.2" cy="273.3" r="2.4"/><circle cx="705.5" cy="275.2" r="2.4"/><circle cx="705.9" cy="276" r="2.4"/><circle cx="706.2" cy="277.1" r="2.4"/><circle cx="706.5" cy="278.5" r="2.4"/><circle cx="706.8" cy="280" r="2.4"/><circle cx="707.1" cy="267.1" r="2.4"/><circle cx="707.4" cy="271.7" r="2.4"/><circle cx="707.7" cy="275.5" r="2.4"/><circle cx="708.1" cy="279.8" r="2.4"/><circle cx="708.4" cy="282.6" r="2.4"/><circle cx="708.7" cy="280.7" r="2.4"/><circle cx="709" cy="282.6" r="2.4"/><circle cx="709.3" cy="282.6" r="2.4"/><circle cx="709.6" cy="272.9" r="2.4"/><circle cx="709.9" cy="277.9" r="2.4"/><circle cx="710.3" cy="279.9" r="2.4"/><circle cx="710.6" cy="285.6" r="2.4"/><circle cx="710.9" cy="288.1" r="2.4"/><circle cx="711.2" cy="278.2" r="2.4"/><circle cx="711.5" cy="284.1" r="2.4"/><circle cx="711.8" cy="272.5" r="2.4"/><circle cx="712.1" cy="280.3" r="2.4"/><circle cx="712.5" cy="283.4" r="2.4"/><circle cx="712.8" cy="285.5" r="2.4"/><circle cx="713.1" cy="283.7" r="2.4"/><circle cx="713.4" cy="254.1" r="2.4"/><circle cx="713.7" cy="240.8" r="2.4"/><circle cx="714" cy="250.8" r="2.4"/><circle cx="714.3" cy="267.1" r="2.4"/><circle cx="714.7" cy="275.2" r="2.4"/><circle cx="715" cy="274.1" r="2.4"/><circle cx="715.3" cy="212.7" r="2.4"/><circle cx="715.6" cy="182" r="2.4"/><circle cx="715.9" cy="212.8" r="2.4"/><circle cx="716.2" cy="238.3" r="2.4"/><circle cx="716.5" cy="255.2" r="2.4"/><circle cx="716.9" cy="233.9" r="2.4"/><circle cx="717.2" cy="253.1" r="2.4"/><circle cx="717.5" cy="260.6" r="2.4"/><circle cx="717.8" cy="277.5" r="2.4"/><circle cx="718.1" cy="248.6" r="2.4"/><circle cx="718.4" cy="266.3" r="2.4"/><circle cx="718.7" cy="249" r="2.4"/><circle cx="719.1" cy="264.1" r="2.4"/><circle cx="719.4" cy="269.9" r="2.4"/><circle cx="719.7" cy="262.5" r="2.4"/><circle cx="720" cy="274.7" r="2.4"/><circle cx="720.3" cy="286.5" r="2.4"/><circle cx="720.6" cy="291.8" r="2.4"/><circle cx="720.9" cy="293.9" r="2.4"/><circle cx="721.3" cy="302" r="2.4"/><circle cx="721.6" cy="302.6" r="2.4"/><circle cx="721.9" cy="279.9" r="2.4"/><circle cx="722.2" cy="286" r="2.4"/><circle cx="722.5" cy="300.2" r="2.4"/><circle cx="722.8" cy="295.3" r="2.4"/><circle cx="723.1" cy="306.7" r="2.4"/><circle cx="723.5" cy="285.1" r="2.4"/><circle cx="723.8" cy="303.4" r="2.4"/><circle cx="724.1" cy="288.5" r="2.4"/><circle cx="724.4" cy="293.4" r="2.4"/><circle cx="724.7" cy="300.9" r="2.4"/><circle cx="725" cy="311.1" r="2.4"/><circle cx="725.3" cy="313.7" r="2.4"/><circle cx="725.7" cy="295.7" r="2.4"/><circle cx="726" cy="303.9" r="2.4"/><circle cx="726.3" cy="305.8" r="2.4"/><circle cx="726.6" cy="314.4" r="2.4"/><circle cx="726.9" cy="305.4" r="2.4"/><circle cx="727.2" cy="311.5" r="2.4"/><circle cx="727.5" cy="300.9" r="2.4"/><circle cx="727.9" cy="311.7" r="2.4"/><circle cx="728.2" cy="317.3" r="2.4"/><circle cx="728.5" cy="315.9" r="2.4"/><circle cx="728.8" cy="304" r="2.4"/><circle cx="729.1" cy="310.2" r="2.4"/><circle cx="729.4" cy="315.7" r="2.4"/><circle cx="729.7" cy="320.1" r="2.4"/><circle cx="730.1" cy="306" r="2.4"/><circle cx="730.4" cy="324.9" r="2.4"/><circle cx="730.7" cy="328.7" r="2.4"/><circle cx="731" cy="331.8" r="2.4"/><circle cx="731.3" cy="328.3" r="2.4"/><circle cx="731.6" cy="330.8" r="2.4"/><circle cx="731.9" cy="315.1" r="2.4"/><circle cx="732.3" cy="322.2" r="2.4"/><circle cx="732.6" cy="326.6" r="2.4"/><circle cx="732.9" cy="333.8" r="2.4"/><circle cx="733.2" cy="336.7" r="2.4"/><circle cx="733.5" cy="329.9" r="2.4"/><circle cx="733.8" cy="318.1" r="2.4"/><circle cx="734.1" cy="323" r="2.4"/><circle cx="734.5" cy="336.1" r="2.4"/><circle cx="734.8" cy="337.9" r="2.4"/><circle cx="735.1" cy="338.5" r="2.4"/><circle cx="735.4" cy="336.2" r="2.4"/><circle cx="735.7" cy="337.9" r="2.4"/><circle cx="736" cy="338.3" r="2.4"/><circle cx="736.3" cy="338.2" r="2.4"/><circle cx="736.7" cy="336.7" r="2.4"/><circle cx="737" cy="337" r="2.4"/><circle cx="737.3" cy="334.4" r="2.4"/><circle cx="737.6" cy="334.8" r="2.4"/><circle cx="737.9" cy="336.4" r="2.4"/><circle cx="738.2" cy="336.4" r="2.4"/><circle cx="738.5" cy="336.6" r="2.4"/><circle cx="738.9" cy="336.8" r="2.4"/><circle cx="739.2" cy="336.8" r="2.4"/><circle cx="739.5" cy="336.8" r="2.4"/><circle cx="739.8" cy="337.7" r="2.4"/><circle cx="740.1" cy="335.9" r="2.4"/><circle cx="740.4" cy="322.3" r="2.4"/><circle cx="740.7" cy="320.1" r="2.4"/><circle cx="741.1" cy="316.8" r="2.4"/><circle cx="741.4" cy="322.4" r="2.4"/><circle cx="741.7" cy="329.1" r="2.4"/><circle cx="742" cy="283.4" r="2.4"/><circle cx="742.3" cy="313.2" r="2.4"/><circle cx="742.6" cy="322" r="2.4"/><circle cx="742.9" cy="323.4" r="2.4"/><circle cx="743.3" cy="322.2" r="2.4"/><circle cx="743.6" cy="321.9" r="2.4"/><circle cx="743.9" cy="319.3" r="2.4"/><circle cx="744.2" cy="264.5" r="2.4"/><circle cx="744.5" cy="273.7" r="2.4"/><circle cx="744.8" cy="192.7" r="2.4"/><circle cx="745.1" cy="236.5" r="2.4"/><circle cx="745.5" cy="270.9" r="2.4"/><circle cx="745.8" cy="290.7" r="2.4"/><circle cx="746.1" cy="307.6" r="2.4"/><circle cx="746.4" cy="324" r="2.4"/><circle cx="746.7" cy="325.9" r="2.4"/><circle cx="747" cy="303.6" r="2.4"/><circle cx="747.3" cy="322.9" r="2.4"/><circle cx="747.7" cy="326" r="2.4"/><circle cx="748" cy="330.7" r="2.4"/><circle cx="748.3" cy="333.9" r="2.4"/><circle cx="748.6" cy="326" r="2.4"/><circle cx="748.9" cy="331" r="2.4"/><circle cx="749.2" cy="312.5" r="2.4"/><circle cx="749.5" cy="297.8" r="2.4"/><circle cx="749.9" cy="322.5" r="2.4"/><circle cx="750.2" cy="327.7" r="2.4"/><circle cx="750.5" cy="328.7" r="2.4"/><circle cx="750.8" cy="321.7" r="2.4"/><circle cx="751.1" cy="327.3" r="2.4"/><circle cx="751.4" cy="331.4" r="2.4"/><circle cx="751.7" cy="323.5" r="2.4"/><circle cx="752.1" cy="334.1" r="2.4"/><circle cx="752.4" cy="335.3" r="2.4"/><circle cx="752.7" cy="336.5" r="2.4"/><circle cx="753" cy="317.1" r="2.4"/><circle cx="753.3" cy="299.6" r="2.4"/><circle cx="753.6" cy="329.7" r="2.4"/><circle cx="753.9" cy="336.6" r="2.4"/><circle cx="754.3" cy="337.9" r="2.4"/><circle cx="754.6" cy="338.5" r="2.4"/><circle cx="754.9" cy="331.5" r="2.4"/><circle cx="755.2" cy="337.7" r="2.4"/><circle cx="755.5" cy="339.6" r="2.4"/><circle cx="755.8" cy="339.9" r="2.4"/><circle cx="756.1" cy="339.3" r="2.4"/><circle cx="756.5" cy="340.6" r="2.4"/><circle cx="756.8" cy="334.5" r="2.4"/><circle cx="757.1" cy="335.1" r="2.4"/><circle cx="757.4" cy="334.1" r="2.4"/><circle cx="757.7" cy="335.4" r="2.4"/><circle cx="758" cy="321.5" r="2.4"/><circle cx="758.3" cy="324.1" r="2.4"/><circle cx="758.7" cy="331.9" r="2.4"/><circle cx="759" cy="333.3" r="2.4"/><circle cx="759.3" cy="333.6" r="2.4"/><circle cx="759.6" cy="310.3" r="2.4"/><circle cx="759.9" cy="325.9" r="2.4"/><circle cx="760.2" cy="321.3" r="2.4"/><circle cx="760.5" cy="327.5" r="2.4"/><circle cx="760.9" cy="323.2" r="2.4"/><circle cx="761.2" cy="297.7" r="2.4"/><circle cx="761.5" cy="309.5" r="2.4"/><circle cx="761.8" cy="317.6" r="2.4"/><circle cx="762.1" cy="324.4" r="2.4"/><circle cx="762.4" cy="315" r="2.4"/><circle cx="762.7" cy="325.7" r="2.4"/><circle cx="763.1" cy="321.5" r="2.4"/><circle cx="763.4" cy="328" r="2.4"/><circle cx="763.7" cy="325.1" r="2.4"/><circle cx="764" cy="329.7" r="2.4"/><circle cx="764.3" cy="333.9" r="2.4"/><circle cx="764.6" cy="336.5" r="2.4"/><circle cx="764.9" cy="334.7" r="2.4"/><circle cx="765.3" cy="335.8" r="2.4"/><circle cx="765.6" cy="337.5" r="2.4"/><circle cx="765.9" cy="337.1" r="2.4"/><circle cx="766.2" cy="337.8" r="2.4"/><circle cx="766.5" cy="338.4" r="2.4"/><circle cx="766.8" cy="337.9" r="2.4"/><circle cx="767.1" cy="338.1" r="2.4"/><circle cx="767.5" cy="337.6" r="2.4"/><circle cx="767.8" cy="333.3" r="2.4"/><circle cx="768.1" cy="335.9" r="2.4"/><circle cx="768.4" cy="337" r="2.4"/><circle cx="768.7" cy="337.7" r="2.4"/><circle cx="769" cy="339" r="2.4"/><circle cx="769.3" cy="339.7" r="2.4"/><circle cx="769.7" cy="337.6" r="2.4"/><circle cx="770" cy="337.5" r="2.4"/><circle cx="770.3" cy="338" r="2.4"/><circle cx="770.6" cy="319.2" r="2.4"/><circle cx="770.9" cy="328.7" r="2.4"/><circle cx="771.2" cy="336.1" r="2.4"/><circle cx="771.5" cy="306" r="2.4"/><circle cx="771.9" cy="210.6" r="2.4"/><circle cx="772.2" cy="251.6" r="2.4"/><circle cx="772.5" cy="277.2" r="2.4"/><circle cx="772.8" cy="293.2" r="2.4"/><circle cx="773.1" cy="236.4" r="2.4"/><circle cx="773.4" cy="262.1" r="2.4"/><circle cx="773.7" cy="269.3" r="2.4"/><circle cx="774.1" cy="302.7" r="2.4"/><circle cx="774.4" cy="309.8" r="2.4"/><circle cx="774.7" cy="306.3" r="2.4"/><circle cx="775" cy="263.8" r="2.4"/><circle cx="775.3" cy="275.6" r="2.4"/><circle cx="775.6" cy="246.5" r="2.4"/><circle cx="775.9" cy="252.2" r="2.4"/><circle cx="776.3" cy="260.8" r="2.4"/><circle cx="776.6" cy="267.8" r="2.4"/><circle cx="776.9" cy="270.6" r="2.4"/><circle cx="777.2" cy="279.5" r="2.4"/><circle cx="777.5" cy="279.2" r="2.4"/><circle cx="777.8" cy="279.3" r="2.4"/><circle cx="778.1" cy="279.3" r="2.4"/><circle cx="778.5" cy="278.2" r="2.4"/><circle cx="778.8" cy="276.2" r="2.4"/><circle cx="779.1" cy="276.3" r="2.4"/><circle cx="779.4" cy="262.4" r="2.4"/><circle cx="779.7" cy="247.9" r="2.4"/><circle cx="780" cy="175" r="2.4"/><circle cx="780.3" cy="213.6" r="2.4"/><circle cx="780.7" cy="237.9" r="2.4"/><circle cx="781" cy="253.3" r="2.4"/><circle cx="781.3" cy="263.8" r="2.4"/><circle cx="781.6" cy="278.4" r="2.4"/><circle cx="781.9" cy="250.4" r="2.4"/><circle cx="782.2" cy="245.6" r="2.4"/><circle cx="782.5" cy="262.7" r="2.4"/><circle cx="782.9" cy="273.2" r="2.4"/><circle cx="783.2" cy="277.5" r="2.4"/><circle cx="783.5" cy="283.5" r="2.4"/><circle cx="783.8" cy="285.1" r="2.4"/><circle cx="784.1" cy="286.3" r="2.4"/><circle cx="784.4" cy="288.2" r="2.4"/><circle cx="784.7" cy="290.7" r="2.4"/><circle cx="785.1" cy="292.5" r="2.4"/><circle cx="785.4" cy="294" r="2.4"/><circle cx="785.7" cy="296.7" r="2.4"/><circle cx="786" cy="294.6" r="2.4"/><circle cx="786.3" cy="297.5" r="2.4"/><circle cx="786.6" cy="286.6" r="2.4"/><circle cx="786.9" cy="282.1" r="2.4"/><circle cx="787.3" cy="288" r="2.4"/><circle cx="787.6" cy="278.7" r="2.4"/><circle cx="787.9" cy="287.1" r="2.4"/><circle cx="788.2" cy="287.8" r="2.4"/><circle cx="788.5" cy="289.8" r="2.4"/><circle cx="788.8" cy="291.4" r="2.4"/><circle cx="789.1" cy="292" r="2.4"/><circle cx="789.5" cy="296.7" r="2.4"/><circle cx="789.8" cy="285.6" r="2.4"/><circle cx="790.1" cy="287.4" r="2.4"/><circle cx="790.4" cy="283.1" r="2.4"/><circle cx="790.7" cy="294.3" r="2.4"/><circle cx="791" cy="295" r="2.4"/><circle cx="791.3" cy="300.5" r="2.4"/><circle cx="791.7" cy="288.3" r="2.4"/><circle cx="792" cy="288.7" r="2.4"/><circle cx="792.3" cy="293.3" r="2.4"/><circle cx="792.6" cy="284.9" r="2.4"/><circle cx="792.9" cy="286.3" r="2.4"/><circle cx="793.2" cy="290.4" r="2.4"/><circle cx="793.5" cy="292.9" r="2.4"/><circle cx="793.9" cy="296.1" r="2.4"/><circle cx="794.2" cy="294.1" r="2.4"/><circle cx="794.5" cy="302.9" r="2.4"/><circle cx="794.8" cy="284.6" r="2.4"/><circle cx="795.1" cy="289.8" r="2.4"/><circle cx="795.4" cy="277.9" r="2.4"/><circle cx="795.7" cy="281.1" r="2.4"/><circle cx="796.1" cy="273.4" r="2.4"/><circle cx="796.4" cy="281.2" r="2.4"/><circle cx="796.7" cy="254.2" r="2.4"/><circle cx="797" cy="262" r="2.4"/><circle cx="797.3" cy="250.8" r="2.4"/><circle cx="797.6" cy="261.3" r="2.4"/><circle cx="797.9" cy="249.3" r="2.4"/><circle cx="798.3" cy="244.6" r="2.4"/><circle cx="798.6" cy="244.3" r="2.4"/><circle cx="798.9" cy="247.3" r="2.4"/><circle cx="799.2" cy="212" r="2.4"/><circle cx="799.5" cy="226.4" r="2.4"/><circle cx="799.8" cy="238.8" r="2.4"/><circle cx="800.1" cy="245.3" r="2.4"/><circle cx="800.5" cy="247.2" r="2.4"/><circle cx="800.8" cy="250.1" r="2.4"/><circle cx="801.1" cy="256.6" r="2.4"/><circle cx="801.4" cy="226.2" r="2.4"/><circle cx="801.7" cy="241.3" r="2.4"/><circle cx="802" cy="236.7" r="2.4"/><circle cx="802.3" cy="242.5" r="2.4"/><circle cx="802.7" cy="246.7" r="2.4"/><circle cx="803" cy="247.4" r="2.4"/><circle cx="803.3" cy="252.9" r="2.4"/><circle cx="803.6" cy="254" r="2.4"/><circle cx="803.9" cy="252.7" r="2.4"/><circle cx="804.2" cy="252.9" r="2.4"/><circle cx="804.5" cy="225.4" r="2.4"/><circle cx="804.9" cy="234.4" r="2.4"/><circle cx="805.2" cy="236.6" r="2.4"/><circle cx="805.5" cy="221.9" r="2.4"/><circle cx="805.8" cy="235.4" r="2.4"/><circle cx="806.1" cy="211.7" r="2.4"/><circle cx="806.4" cy="222.6" r="2.4"/><circle cx="806.7" cy="226.8" r="2.4"/><circle cx="807.1" cy="208.1" r="2.4"/><circle cx="807.4" cy="175" r="2.4"/><circle cx="807.7" cy="200.8" r="2.4"/><circle cx="808" cy="213.1" r="2.4"/><circle cx="808.3" cy="196.5" r="2.4"/><circle cx="808.6" cy="239.6" r="2.4"/><circle cx="808.9" cy="249" r="2.4"/><circle cx="809.3" cy="252.3" r="2.4"/><circle cx="809.6" cy="197.5" r="2.4"/><circle cx="809.9" cy="204.2" r="2.4"/><circle cx="810.2" cy="194.2" r="2.4"/><circle cx="810.5" cy="201.7" r="2.4"/><circle cx="810.8" cy="223.2" r="2.4"/><circle cx="811.1" cy="243.7" r="2.4"/><circle cx="811.5" cy="239.1" r="2.4"/><circle cx="811.8" cy="243" r="2.4"/><circle cx="812.1" cy="261.1" r="2.4"/><circle cx="812.4" cy="263.6" r="2.4"/><circle cx="812.7" cy="264.2" r="2.4"/><circle cx="813" cy="264.3" r="2.4"/><circle cx="813.3" cy="252.8" r="2.4"/><circle cx="813.7" cy="254.8" r="2.4"/><circle cx="814" cy="260.8" r="2.4"/><circle cx="814.3" cy="265.7" r="2.4"/><circle cx="814.6" cy="265" r="2.4"/><circle cx="814.9" cy="253" r="2.4"/><circle cx="815.2" cy="259" r="2.4"/><circle cx="815.5" cy="263.6" r="2.4"/><circle cx="815.9" cy="267.1" r="2.4"/><circle cx="816.2" cy="254" r="2.4"/><circle cx="816.5" cy="267.9" r="2.4"/><circle cx="816.8" cy="269.4" r="2.4"/><circle cx="817.1" cy="250.4" r="2.4"/><circle cx="817.4" cy="257.5" r="2.4"/><circle cx="817.7" cy="265.3" r="2.4"/><circle cx="818.1" cy="264.6" r="2.4"/><circle cx="818.4" cy="253.6" r="2.4"/><circle cx="818.7" cy="271.4" r="2.4"/><circle cx="819" cy="265.7" r="2.4"/><circle cx="819.3" cy="274.8" r="2.4"/><circle cx="819.6" cy="278.4" r="2.4"/><circle cx="819.9" cy="269.3" r="2.4"/><circle cx="820.3" cy="274.7" r="2.4"/><circle cx="820.6" cy="285.1" r="2.4"/><circle cx="820.9" cy="285.2" r="2.4"/><circle cx="821.2" cy="267.8" r="2.4"/><circle cx="821.5" cy="271.5" r="2.4"/><circle cx="821.8" cy="279.7" r="2.4"/><circle cx="822.1" cy="279.7" r="2.4"/><circle cx="822.5" cy="285.3" r="2.4"/><circle cx="822.8" cy="286.4" r="2.4"/><circle cx="823.1" cy="260.4" r="2.4"/><circle cx="823.4" cy="265.2" r="2.4"/><circle cx="823.7" cy="273.4" r="2.4"/><circle cx="824" cy="278.2" r="2.4"/><circle cx="824.3" cy="277.4" r="2.4"/><circle cx="824.7" cy="276.6" r="2.4"/><circle cx="825" cy="276.4" r="2.4"/><circle cx="825.3" cy="243.2" r="2.4"/><circle cx="825.6" cy="219.9" r="2.4"/><circle cx="825.9" cy="237.3" r="2.4"/><circle cx="826.2" cy="252.6" r="2.4"/><circle cx="826.5" cy="261.7" r="2.4"/><circle cx="826.9" cy="234.5" r="2.4"/><circle cx="827.2" cy="236.5" r="2.4"/><circle cx="827.5" cy="251.8" r="2.4"/><circle cx="827.8" cy="257.7" r="2.4"/><circle cx="828.1" cy="280.4" r="2.4"/><circle cx="828.4" cy="285.6" r="2.4"/><circle cx="828.7" cy="293.5" r="2.4"/><circle cx="829.1" cy="284.2" r="2.4"/><circle cx="829.4" cy="292.9" r="2.4"/><circle cx="829.7" cy="291.3" r="2.4"/><circle cx="830" cy="284.6" r="2.4"/><circle cx="830.3" cy="292.3" r="2.4"/><circle cx="830.6" cy="277.6" r="2.4"/><circle cx="830.9" cy="290.7" r="2.4"/><circle cx="831.3" cy="300.5" r="2.4"/><circle cx="831.6" cy="288.4" r="2.4"/><circle cx="831.9" cy="300.8" r="2.4"/><circle cx="832.2" cy="306.7" r="2.4"/><circle cx="832.5" cy="312.5" r="2.4"/><circle cx="832.8" cy="314.6" r="2.4"/><circle cx="833.1" cy="316.7" r="2.4"/><circle cx="833.5" cy="317.3" r="2.4"/><circle cx="833.8" cy="293.6" r="2.4"/><circle cx="834.1" cy="292.9" r="2.4"/><circle cx="834.4" cy="305.1" r="2.4"/><circle cx="834.7" cy="304.8" r="2.4"/><circle cx="835" cy="278" r="2.4"/><circle cx="835.3" cy="289.8" r="2.4"/><circle cx="835.7" cy="280.5" r="2.4"/><circle cx="836" cy="255.4" r="2.4"/><circle cx="836.3" cy="256.2" r="2.4"/><circle cx="836.6" cy="270.7" r="2.4"/><circle cx="836.9" cy="279.6" r="2.4"/><circle cx="837.2" cy="232.2" r="2.4"/><circle cx="837.5" cy="256.3" r="2.4"/><circle cx="837.9" cy="274.2" r="2.4"/><circle cx="838.2" cy="284.6" r="2.4"/><circle cx="838.5" cy="301.5" r="2.4"/><circle cx="838.8" cy="301.5" r="2.4"/><circle cx="839.1" cy="290.6" r="2.4"/><circle cx="839.4" cy="298.6" r="2.4"/><circle cx="839.7" cy="304" r="2.4"/><circle cx="840.1" cy="309.2" r="2.4"/><circle cx="840.4" cy="311.2" r="2.4"/><circle cx="840.7" cy="313.1" r="2.4"/><circle cx="841" cy="310.1" r="2.4"/><circle cx="841.3" cy="299.4" r="2.4"/><circle cx="841.6" cy="311.4" r="2.4"/><circle cx="841.9" cy="316.3" r="2.4"/><circle cx="842.3" cy="311.8" r="2.4"/><circle cx="842.6" cy="312" r="2.4"/><circle cx="842.9" cy="320.4" r="2.4"/><circle cx="843.2" cy="322.8" r="2.4"/><circle cx="843.5" cy="323.6" r="2.4"/><circle cx="843.8" cy="321.6" r="2.4"/><circle cx="844.1" cy="323.9" r="2.4"/><circle cx="844.5" cy="325.6" r="2.4"/><circle cx="844.8" cy="326.5" r="2.4"/><circle cx="845.1" cy="326.2" r="2.4"/><circle cx="845.4" cy="322.2" r="2.4"/><circle cx="845.7" cy="327.2" r="2.4"/><circle cx="846" cy="315.5" r="2.4"/><circle cx="846.3" cy="321.7" r="2.4"/><circle cx="846.7" cy="316.1" r="2.4"/><circle cx="847" cy="320" r="2.4"/><circle cx="847.3" cy="323" r="2.4"/><circle cx="847.6" cy="328.2" r="2.4"/><circle cx="847.9" cy="331.9" r="2.4"/><circle cx="848.2" cy="331" r="2.4"/><circle cx="848.5" cy="328.6" r="2.4"/><circle cx="848.9" cy="333.3" r="2.4"/><circle cx="849.2" cy="332.5" r="2.4"/><circle cx="849.5" cy="335.5" r="2.4"/><circle cx="849.8" cy="334.3" r="2.4"/><circle cx="850.1" cy="333.5" r="2.4"/><circle cx="850.4" cy="325.2" r="2.4"/><circle cx="850.7" cy="327.4" r="2.4"/><circle cx="851.1" cy="325.7" r="2.4"/><circle cx="851.4" cy="335.4" r="2.4"/><circle cx="851.7" cy="319" r="2.4"/><circle cx="852" cy="336" r="2.4"/><circle cx="852.3" cy="334.1" r="2.4"/><circle cx="852.6" cy="329.3" r="2.4"/><circle cx="852.9" cy="335.5" r="2.4"/><circle cx="853.3" cy="339.1" r="2.4"/><circle cx="853.6" cy="328.2" r="2.4"/><circle cx="853.9" cy="322.5" r="2.4"/><circle cx="854.2" cy="329.3" r="2.4"/><circle cx="854.5" cy="333.3" r="2.4"/><circle cx="854.8" cy="339.6" r="2.4"/><circle cx="855.1" cy="340.5" r="2.4"/><circle cx="855.5" cy="340.3" r="2.4"/><circle cx="855.8" cy="339.9" r="2.4"/><circle cx="856.1" cy="341.8" r="2.4"/><circle cx="856.4" cy="340.1" r="2.4"/><circle cx="856.7" cy="341.3" r="2.4"/><circle cx="857" cy="341.2" r="2.4"/><circle cx="857.3" cy="341.6" r="2.4"/><circle cx="857.7" cy="328.6" r="2.4"/><circle cx="858" cy="342" r="2.4"/><circle cx="858.3" cy="344.9" r="2.4"/><circle cx="858.6" cy="346.1" r="2.4"/><circle cx="858.9" cy="346.8" r="2.4"/><circle cx="859.2" cy="338.1" r="2.4"/><circle cx="859.5" cy="334.2" r="2.4"/><circle cx="859.9" cy="347.2" r="2.4"/><circle cx="860.2" cy="336.5" r="2.4"/><circle cx="860.5" cy="334.8" r="2.4"/><circle cx="860.8" cy="339.6" r="2.4"/><circle cx="861.1" cy="350.5" r="2.4"/><circle cx="861.4" cy="351" r="2.4"/><circle cx="861.7" cy="351.5" r="2.4"/><circle cx="862.1" cy="352.6" r="2.4"/><circle cx="862.4" cy="354.6" r="2.4"/><circle cx="862.7" cy="354.3" r="2.4"/><circle cx="863" cy="352.1" r="2.4"/><circle cx="863.3" cy="344.1" r="2.4"/><circle cx="863.6" cy="348.2" r="2.4"/><circle cx="863.9" cy="354.2" r="2.4"/><circle cx="864.2" cy="352.8" r="2.4"/><circle cx="864.6" cy="354.1" r="2.4"/><circle cx="864.9" cy="356.9" r="2.4"/><circle cx="865.2" cy="356.4" r="2.4"/><circle cx="865.5" cy="357.6" r="2.4"/><circle cx="865.8" cy="355.5" r="2.4"/><circle cx="866.1" cy="358" r="2.4"/><circle cx="866.4" cy="351.2" r="2.4"/><circle cx="866.8" cy="351.6" r="2.4"/><circle cx="867.1" cy="353.2" r="2.4"/><circle cx="867.4" cy="354.4" r="2.4"/><circle cx="867.7" cy="355.7" r="2.4"/><circle cx="868" cy="354.7" r="2.4"/><circle cx="868.3" cy="352.8" r="2.4"/><circle cx="868.6" cy="347.7" r="2.4"/><circle cx="869" cy="339.4" r="2.4"/><circle cx="869.3" cy="349.2" r="2.4"/><circle cx="869.6" cy="353.6" r="2.4"/><circle cx="869.9" cy="339.6" r="2.4"/><circle cx="870.2" cy="346.6" r="2.4"/><circle cx="870.5" cy="352.2" r="2.4"/><circle cx="870.8" cy="354.4" r="2.4"/><circle cx="871.2" cy="349.8" r="2.4"/><circle cx="871.5" cy="335.2" r="2.4"/><circle cx="871.8" cy="349.3" r="2.4"/><circle cx="872.1" cy="352.3" r="2.4"/><circle cx="872.4" cy="352.3" r="2.4"/><circle cx="872.7" cy="353.7" r="2.4"/><circle cx="873" cy="353.5" r="2.4"/><circle cx="873.4" cy="343" r="2.4"/><circle cx="873.7" cy="344.9" r="2.4"/><circle cx="874" cy="351.7" r="2.4"/><circle cx="874.3" cy="346.8" r="2.4"/><circle cx="874.6" cy="349.8" r="2.4"/><circle cx="874.9" cy="351" r="2.4"/><circle cx="875.2" cy="353.5" r="2.4"/><circle cx="875.6" cy="352" r="2.4"/><circle cx="875.9" cy="352.9" r="2.4"/><circle cx="876.2" cy="350.4" r="2.4"/><circle cx="876.5" cy="353.1" r="2.4"/><circle cx="876.8" cy="352.3" r="2.4"/><circle cx="877.1" cy="352.5" r="2.4"/><circle cx="877.4" cy="352.9" r="2.4"/><circle cx="877.8" cy="352.1" r="2.4"/><circle cx="878.1" cy="352.9" r="2.4"/><circle cx="878.4" cy="353.5" r="2.4"/><circle cx="878.7" cy="351.9" r="2.4"/><circle cx="879" cy="353.4" r="2.4"/><circle cx="879.3" cy="353.8" r="2.4"/><circle cx="879.6" cy="352.3" r="2.4"/><circle cx="880" cy="353" r="2.4"/><circle cx="880.3" cy="352.5" r="2.4"/><circle cx="880.6" cy="350.9" r="2.4"/><circle cx="880.9" cy="351.9" r="2.4"/><circle cx="881.2" cy="343.9" r="2.4"/><circle cx="881.5" cy="343.5" r="2.4"/><circle cx="881.8" cy="347.4" r="2.4"/><circle cx="882.2" cy="348.8" r="2.4"/><circle cx="882.5" cy="351.1" r="2.4"/><circle cx="882.8" cy="343.1" r="2.4"/><circle cx="883.1" cy="350.3" r="2.4"/><circle cx="883.4" cy="353.8" r="2.4"/><circle cx="883.7" cy="353.4" r="2.4"/><circle cx="884" cy="353.3" r="2.4"/><circle cx="884.4" cy="355.4" r="2.4"/><circle cx="884.7" cy="353.6" r="2.4"/><circle cx="885" cy="341" r="2.4"/><circle cx="885.3" cy="355.3" r="2.4"/><circle cx="885.6" cy="354.5" r="2.4"/><circle cx="885.9" cy="344" r="2.4"/><circle cx="886.2" cy="350.2" r="2.4"/><circle cx="886.6" cy="356.4" r="2.4"/><circle cx="886.9" cy="355.6" r="2.4"/><circle cx="887.2" cy="356.7" r="2.4"/><circle cx="887.5" cy="353.2" r="2.4"/><circle cx="887.8" cy="348.8" r="2.4"/><circle cx="888.1" cy="356.1" r="2.4"/><circle cx="888.4" cy="356.3" r="2.4"/><circle cx="888.8" cy="352.1" r="2.4"/><circle cx="889.1" cy="355.5" r="2.4"/><circle cx="889.4" cy="350.3" r="2.4"/><circle cx="889.7" cy="356.7" r="2.4"/><circle cx="890" cy="356.7" r="2.4"/><circle cx="890.3" cy="353.8" r="2.4"/><circle cx="890.6" cy="354" r="2.4"/><circle cx="891" cy="357.6" r="2.4"/><circle cx="891.3" cy="347.3" r="2.4"/><circle cx="891.6" cy="350" r="2.4"/><circle cx="891.9" cy="352.6" r="2.4"/><circle cx="892.2" cy="355.2" r="2.4"/><circle cx="892.5" cy="357.3" r="2.4"/><circle cx="892.8" cy="356.2" r="2.4"/><circle cx="893.2" cy="351.6" r="2.4"/><circle cx="893.5" cy="355.3" r="2.4"/><circle cx="893.8" cy="355.9" r="2.4"/><circle cx="894.1" cy="357.7" r="2.4"/><circle cx="894.4" cy="357.6" r="2.4"/><circle cx="894.7" cy="359.5" r="2.4"/><circle cx="895" cy="358.8" r="2.4"/><circle cx="895.4" cy="351.8" r="2.4"/><circle cx="895.7" cy="355.9" r="2.4"/><circle cx="896" cy="358.1" r="2.4"/><circle cx="896.3" cy="357.4" r="2.4"/><circle cx="896.6" cy="357.9" r="2.4"/><circle cx="896.9" cy="359.8" r="2.4"/><circle cx="897.2" cy="358.6" r="2.4"/><circle cx="897.6" cy="354.6" r="2.4"/><circle cx="897.9" cy="354.3" r="2.4"/><circle cx="898.2" cy="358.7" r="2.4"/><circle cx="898.5" cy="360.6" r="2.4"/><circle cx="898.8" cy="360.8" r="2.4"/><circle cx="899.1" cy="359.7" r="2.4"/><circle cx="899.4" cy="359.9" r="2.4"/><circle cx="899.8" cy="360.9" r="2.4"/><circle cx="900.1" cy="360.1" r="2.4"/><circle cx="900.4" cy="361.3" r="2.4"/><circle cx="900.7" cy="361" r="2.4"/><circle cx="901" cy="356.8" r="2.4"/><circle cx="901.3" cy="357.2" r="2.4"/><circle cx="901.6" cy="356.5" r="2.4"/><circle cx="902" cy="358.3" r="2.4"/><circle cx="902.3" cy="359.7" r="2.4"/><circle cx="902.6" cy="359.7" r="2.4"/><circle cx="902.9" cy="358.2" r="2.4"/><circle cx="903.2" cy="349.5" r="2.4"/><circle cx="903.5" cy="358" r="2.4"/><circle cx="903.8" cy="351.4" r="2.4"/><circle cx="904.2" cy="306" r="2.4"/><circle cx="904.5" cy="332.2" r="2.4"/><circle cx="904.8" cy="326.6" r="2.4"/><circle cx="905.1" cy="316.7" r="2.4"/><circle cx="905.4" cy="235.7" r="2.4"/><circle cx="905.7" cy="211.3" r="2.4"/><circle cx="906" cy="235.4" r="2.4"/><circle cx="906.4" cy="245.7" r="2.4"/><circle cx="906.7" cy="274" r="2.4"/><circle cx="907" cy="283.4" r="2.4"/><circle cx="907.3" cy="264.8" r="2.4"/><circle cx="907.6" cy="247.9" r="2.4"/><circle cx="907.9" cy="234.7" r="2.4"/><circle cx="908.2" cy="256.2" r="2.4"/><circle cx="908.6" cy="271.2" r="2.4"/><circle cx="908.9" cy="276.1" r="2.4"/><circle cx="909.2" cy="253.9" r="2.4"/><circle cx="909.5" cy="266.1" r="2.4"/><circle cx="909.8" cy="272.1" r="2.4"/><circle cx="910.1" cy="259.7" r="2.4"/><circle cx="910.4" cy="246.6" r="2.4"/><circle cx="910.8" cy="250.5" r="2.4"/><circle cx="911.1" cy="264.3" r="2.4"/><circle cx="911.4" cy="272.3" r="2.4"/><circle cx="911.7" cy="248.1" r="2.4"/><circle cx="912" cy="261.8" r="2.4"/><circle cx="912.3" cy="268.5" r="2.4"/><circle cx="912.6" cy="266.1" r="2.4"/><circle cx="913" cy="259.5" r="2.4"/><circle cx="913.3" cy="217.9" r="2.4"/><circle cx="913.6" cy="227.3" r="2.4"/><circle cx="913.9" cy="210.1" r="2.4"/><circle cx="914.2" cy="208.2" r="2.4"/><circle cx="914.5" cy="217.7" r="2.4"/><circle cx="914.8" cy="179.2" r="2.4"/><circle cx="915.2" cy="193.3" r="2.4"/><circle cx="915.5" cy="193" r="2.4"/><circle cx="915.8" cy="218.8" r="2.4"/><circle cx="916.1" cy="225.9" r="2.4"/><circle cx="916.4" cy="234.2" r="2.4"/><circle cx="916.7" cy="238" r="2.4"/><circle cx="917" cy="244.9" r="2.4"/><circle cx="917.4" cy="234.6" r="2.4"/><circle cx="917.7" cy="234" r="2.4"/><circle cx="918" cy="202" r="2.4"/><circle cx="918.3" cy="211.2" r="2.4"/><circle cx="918.6" cy="217.7" r="2.4"/><circle cx="918.9" cy="240.2" r="2.4"/><circle cx="919.2" cy="256.4" r="2.4"/><circle cx="919.6" cy="259.5" r="2.4"/><circle cx="919.9" cy="266.8" r="2.4"/><circle cx="920.2" cy="269.7" r="2.4"/><circle cx="920.5" cy="270.3" r="2.4"/><circle cx="920.8" cy="217.7" r="2.4"/><circle cx="921.1" cy="238.8" r="2.4"/><circle cx="921.4" cy="223.8" r="2.4"/><circle cx="921.8" cy="228.8" r="2.4"/><circle cx="922.1" cy="236.4" r="2.4"/><circle cx="922.4" cy="246.8" r="2.4"/><circle cx="922.7" cy="261.4" r="2.4"/><circle cx="923" cy="267" r="2.4"/><circle cx="923.3" cy="278.2" r="2.4"/><circle cx="923.6" cy="269" r="2.4"/><circle cx="924" cy="286" r="2.4"/><circle cx="924.3" cy="266.6" r="2.4"/><circle cx="924.6" cy="248.4" r="2.4"/><circle cx="924.9" cy="271.1" r="2.4"/><circle cx="925.2" cy="262.4" r="2.4"/><circle cx="925.5" cy="266.6" r="2.4"/><circle cx="925.8" cy="279.6" r="2.4"/><circle cx="926.2" cy="245.7" r="2.4"/><circle cx="926.5" cy="257.1" r="2.4"/><circle cx="926.8" cy="222.5" r="2.4"/><circle cx="927.1" cy="235.6" r="2.4"/><circle cx="927.4" cy="240.5" r="2.4"/><circle cx="927.7" cy="209.4" r="2.4"/><circle cx="928" cy="177.7" r="2.4"/><circle cx="928.4" cy="207.5" r="2.4"/><circle cx="928.7" cy="233.6" r="2.4"/><circle cx="929" cy="227.5" r="2.4"/><circle cx="929.3" cy="264.8" r="2.4"/><circle cx="929.6" cy="274.1" r="2.4"/><circle cx="929.9" cy="280.9" r="2.4"/><circle cx="930.2" cy="237.8" r="2.4"/><circle cx="930.6" cy="258" r="2.4"/><circle cx="930.9" cy="268.6" r="2.4"/><circle cx="931.2" cy="274.6" r="2.4"/><circle cx="931.5" cy="248.7" r="2.4"/><circle cx="931.8" cy="262.3" r="2.4"/><circle cx="932.1" cy="258.6" r="2.4"/><circle cx="932.4" cy="242" r="2.4"/><circle cx="932.8" cy="268.5" r="2.4"/><circle cx="933.1" cy="267.9" r="2.4"/><circle cx="933.4" cy="272.5" r="2.4"/><circle cx="933.7" cy="282.2" r="2.4"/><circle cx="934" cy="284.4" r="2.4"/><circle cx="934.3" cy="292.1" r="2.4"/><circle cx="934.6" cy="291.8" r="2.4"/><circle cx="935" cy="284.5" r="2.4"/><circle cx="935.3" cy="288.2" r="2.4"/><circle cx="935.6" cy="239.9" r="2.4"/><circle cx="935.9" cy="238.3" r="2.4"/><circle cx="936.2" cy="238.4" r="2.4"/><circle cx="936.5" cy="238.2" r="2.4"/><circle cx="936.8" cy="231" r="2.4"/><circle cx="937.2" cy="231.4" r="2.4"/><circle cx="937.5" cy="172.9" r="2.4"/><circle cx="937.8" cy="194" r="2.4"/><circle cx="938.1" cy="208.9" r="2.4"/><circle cx="938.4" cy="220.1" r="2.4"/><circle cx="938.7" cy="236.1" r="2.4"/><circle cx="939" cy="210.4" r="2.4"/><circle cx="939.4" cy="185.3" r="2.4"/><circle cx="939.7" cy="199" r="2.4"/><circle cx="940" cy="216.4" r="2.4"/><circle cx="940.3" cy="220.1" r="2.4"/><circle cx="940.6" cy="191.6" r="2.4"/><circle cx="940.9" cy="212.6" r="2.4"/><circle cx="941.2" cy="193.7" r="2.4"/><circle cx="941.6" cy="201.7" r="2.4"/><circle cx="941.9" cy="215.6" r="2.4"/><circle cx="942.2" cy="206.9" r="2.4"/><circle cx="942.5" cy="213" r="2.4"/><circle cx="942.8" cy="200.5" r="2.4"/><circle cx="943.1" cy="200.6" r="2.4"/><circle cx="943.4" cy="211.3" r="2.4"/><circle cx="943.8" cy="217.6" r="2.4"/><circle cx="944.1" cy="222.4" r="2.4"/><circle cx="944.4" cy="228.8" r="2.4"/><circle cx="944.7" cy="233.7" r="2.4"/><circle cx="945" cy="210.6" r="2.4"/><circle cx="945.3" cy="215" r="2.4"/><circle cx="945.6" cy="217.8" r="2.4"/><circle cx="946" cy="231.6" r="2.4"/><circle cx="946.3" cy="238.5" r="2.4"/><circle cx="946.6" cy="262.3" r="2.4"/><circle cx="946.9" cy="269.2" r="2.4"/><circle cx="947.2" cy="271.3" r="2.4"/><circle cx="947.5" cy="251.6" r="2.4"/><circle cx="947.8" cy="271.2" r="2.4"/><circle cx="948.2" cy="276.9" r="2.4"/><circle cx="948.5" cy="276.8" r="2.4"/><circle cx="948.8" cy="262.6" r="2.4"/><circle cx="949.1" cy="267.8" r="2.4"/><circle cx="949.4" cy="235.6" r="2.4"/><circle cx="949.7" cy="244.9" r="2.4"/><circle cx="950" cy="265.7" r="2.4"/><circle cx="950.4" cy="272.4" r="2.4"/><circle cx="950.7" cy="281.6" r="2.4"/><circle cx="951" cy="283.3" r="2.4"/><circle cx="951.3" cy="284.9" r="2.4"/><circle cx="951.6" cy="285" r="2.4"/><circle cx="951.9" cy="256.3" r="2.4"/><circle cx="952.2" cy="245.8" r="2.4"/><circle cx="952.6" cy="255" r="2.4"/><circle cx="952.9" cy="261.9" r="2.4"/><circle cx="953.2" cy="250.8" r="2.4"/><circle cx="953.5" cy="265.1" r="2.4"/><circle cx="953.8" cy="276.4" r="2.4"/><circle cx="954.1" cy="282.3" r="2.4"/><circle cx="954.4" cy="260.6" r="2.4"/><circle cx="954.8" cy="264.3" r="2.4"/><circle cx="955.1" cy="272.7" r="2.4"/><circle cx="955.4" cy="286.9" r="2.4"/><circle cx="955.7" cy="274.2" r="2.4"/><circle cx="956" cy="281.6" r="2.4"/><circle cx="956.3" cy="286" r="2.4"/><circle cx="956.6" cy="292.2" r="2.4"/><circle cx="957" cy="294.9" r="2.4"/><circle cx="957.3" cy="297" r="2.4"/><circle cx="957.6" cy="272.3" r="2.4"/><circle cx="957.9" cy="287.2" r="2.4"/><circle cx="958.2" cy="285.4" r="2.4"/><circle cx="958.5" cy="301.7" r="2.4"/><circle cx="958.8" cy="293.2" r="2.4"/><circle cx="959.2" cy="301.6" r="2.4"/><circle cx="959.5" cy="297.2" r="2.4"/><circle cx="959.8" cy="307.5" r="2.4"/><circle cx="960.1" cy="312.4" r="2.4"/><circle cx="960.4" cy="314.2" r="2.4"/><circle cx="960.7" cy="312.4" r="2.4"/><circle cx="961" cy="315.9" r="2.4"/><circle cx="961.4" cy="318.8" r="2.4"/><circle cx="961.7" cy="313" r="2.4"/><circle cx="962" cy="319.6" r="2.4"/><circle cx="962.3" cy="323.2" r="2.4"/><circle cx="962.6" cy="313" r="2.4"/><circle cx="962.9" cy="308.9" r="2.4"/><circle cx="963.2" cy="323.1" r="2.4"/><circle cx="963.6" cy="319.3" r="2.4"/><circle cx="963.9" cy="315.5" r="2.4"/><circle cx="964.2" cy="318.9" r="2.4"/><circle cx="964.5" cy="317.4" r="2.4"/><circle cx="964.8" cy="329" r="2.4"/><circle cx="965.1" cy="331.3" r="2.4"/><circle cx="965.4" cy="332.4" r="2.4"/><circle cx="965.8" cy="331.9" r="2.4"/><circle cx="966.1" cy="334.5" r="2.4"/><circle cx="966.4" cy="334.8" r="2.4"/><circle cx="966.7" cy="329.8" r="2.4"/><circle cx="967" cy="323.1" r="2.4"/><circle cx="967.3" cy="326.9" r="2.4"/><circle cx="967.6" cy="331.7" r="2.4"/><circle cx="968" cy="336.9" r="2.4"/><circle cx="968.3" cy="336.5" r="2.4"/><circle cx="968.6" cy="338.5" r="2.4"/><circle cx="968.9" cy="337.6" r="2.4"/><circle cx="969.2" cy="338.9" r="2.4"/><circle cx="969.5" cy="337.2" r="2.4"/><circle cx="969.8" cy="336.2" r="2.4"/><circle cx="970.2" cy="339.5" r="2.4"/><circle cx="970.5" cy="335.1" r="2.4"/><circle cx="970.8" cy="330.4" r="2.4"/><circle cx="971.1" cy="333.3" r="2.4"/><circle cx="971.4" cy="335.7" r="2.4"/><circle cx="971.7" cy="336.8" r="2.4"/><circle cx="972" cy="337.9" r="2.4"/><circle cx="972.4" cy="339.3" r="2.4"/><circle cx="972.7" cy="339.3" r="2.4"/><circle cx="973" cy="338.8" r="2.4"/><circle cx="973.3" cy="329.6" r="2.4"/><circle cx="973.6" cy="338.1" r="2.4"/><circle cx="973.9" cy="337.6" r="2.4"/><circle cx="974.2" cy="337.7" r="2.4"/><circle cx="974.6" cy="338.7" r="2.4"/><circle cx="974.9" cy="339.4" r="2.4"/><circle cx="975.2" cy="332.2" r="2.4"/><circle cx="975.5" cy="331.9" r="2.4"/><circle cx="975.8" cy="339.3" r="2.4"/><circle cx="976.1" cy="343.1" r="2.4"/><circle cx="976.4" cy="345.4" r="2.4"/><circle cx="976.8" cy="343.7" r="2.4"/><circle cx="977.1" cy="347.3" r="2.4"/><circle cx="977.4" cy="345.4" r="2.4"/><circle cx="977.7" cy="349.1" r="2.4"/><circle cx="978" cy="338.3" r="2.4"/><circle cx="978.3" cy="346.5" r="2.4"/><circle cx="978.6" cy="349" r="2.4"/><circle cx="979" cy="350.2" r="2.4"/><circle cx="979.3" cy="351.3" r="2.4"/><circle cx="979.6" cy="349.5" r="2.4"/><circle cx="979.9" cy="351.6" r="2.4"/><circle cx="980.2" cy="348.8" r="2.4"/><circle cx="980.5" cy="351.2" r="2.4"/><circle cx="980.8" cy="348.2" r="2.4"/><circle cx="981.2" cy="350.2" r="2.4"/><circle cx="981.5" cy="348.4" r="2.4"/><circle cx="981.8" cy="350.9" r="2.4"/><circle cx="982.1" cy="348" r="2.4"/><circle cx="982.4" cy="349.2" r="2.4"/><circle cx="982.7" cy="349.7" r="2.4"/><circle cx="983" cy="350.8" r="2.4"/><circle cx="983.4" cy="351" r="2.4"/><circle cx="983.7" cy="349.6" r="2.4"/><circle cx="984" cy="350.3" r="2.4"/><circle cx="984.3" cy="345.7" r="2.4"/><circle cx="984.6" cy="340.7" r="2.4"/><circle cx="984.9" cy="348.7" r="2.4"/><circle cx="985.2" cy="342.6" r="2.4"/><circle cx="985.6" cy="348" r="2.4"/><circle cx="985.9" cy="349.8" r="2.4"/><circle cx="986.2" cy="350.7" r="2.4"/><circle cx="986.5" cy="349.7" r="2.4"/><circle cx="986.8" cy="349.8" r="2.4"/><circle cx="987.1" cy="349.1" r="2.4"/><circle cx="987.4" cy="349.9" r="2.4"/><circle cx="987.8" cy="349.5" r="2.4"/><circle cx="988.1" cy="348.1" r="2.4"/><circle cx="988.4" cy="350.2" r="2.4"/><circle cx="988.7" cy="349.9" r="2.4"/><circle cx="989" cy="348.8" r="2.4"/><circle cx="989.3" cy="348.5" r="2.4"/><circle cx="989.6" cy="347.8" r="2.4"/><circle cx="990" cy="348.6" r="2.4"/><circle cx="990.3" cy="348.4" r="2.4"/><circle cx="990.6" cy="349.9" r="2.4"/><circle cx="990.9" cy="348" r="2.4"/><circle cx="991.2" cy="348.7" r="2.4"/><circle cx="991.5" cy="330.6" r="2.4"/><circle cx="991.8" cy="340.8" r="2.4"/><circle cx="992.2" cy="346.4" r="2.4"/><circle cx="992.5" cy="336.3" r="2.4"/><circle cx="992.8" cy="347.9" r="2.4"/><circle cx="993.1" cy="343.2" r="2.4"/><circle cx="993.4" cy="346.6" r="2.4"/><circle cx="993.7" cy="347.6" r="2.4"/><circle cx="994" cy="347.4" r="2.4"/><circle cx="994.4" cy="349.5" r="2.4"/><circle cx="994.7" cy="344.3" r="2.4"/><circle cx="995" cy="350.2" r="2.4"/><circle cx="995.3" cy="350.6" r="2.4"/><circle cx="995.6" cy="346.2" r="2.4"/><circle cx="995.9" cy="349.8" r="2.4"/><circle cx="996.2" cy="350" r="2.4"/><circle cx="996.6" cy="353.3" r="2.4"/><circle cx="996.9" cy="347.8" r="2.4"/><circle cx="997.2" cy="350.2" r="2.4"/><circle cx="997.5" cy="349.9" r="2.4"/><circle cx="997.8" cy="351.7" r="2.4"/><circle cx="998.1" cy="352.7" r="2.4"/><circle cx="998.4" cy="352.2" r="2.4"/><circle cx="998.8" cy="351.9" r="2.4"/><circle cx="999.1" cy="351.6" r="2.4"/><circle cx="999.4" cy="353.1" r="2.4"/><circle cx="999.7" cy="352.4" r="2.4"/><circle cx="1000" cy="352.3" r="2.4"/><circle cx="1000.3" cy="354.1" r="2.4"/><circle cx="1000.6" cy="353.1" r="2.4"/><circle cx="1001" cy="354.1" r="2.4"/><circle cx="1001.3" cy="354.9" r="2.4"/><circle cx="1001.6" cy="350.9" r="2.4"/><circle cx="1001.9" cy="352.9" r="2.4"/><circle cx="1002.2" cy="354.1" r="2.4"/><circle cx="1002.5" cy="354.7" r="2.4"/><circle cx="1002.8" cy="354.3" r="2.4"/><circle cx="1003.2" cy="355.1" r="2.4"/><circle cx="1003.5" cy="354.7" r="2.4"/><circle cx="1003.8" cy="354.3" r="2.4"/><circle cx="1004.1" cy="357.7" r="2.4"/><circle cx="1004.4" cy="355.5" r="2.4"/><circle cx="1004.7" cy="355.5" r="2.4"/><circle cx="1005" cy="356.6" r="2.4"/><circle cx="1005.4" cy="352.4" r="2.4"/><circle cx="1005.7" cy="357.6" r="2.4"/><circle cx="1006" cy="356.8" r="2.4"/><circle cx="1006.3" cy="357.8" r="2.4"/><circle cx="1006.6" cy="356.8" r="2.4"/><circle cx="1006.9" cy="353.8" r="2.4"/><circle cx="1007.2" cy="357.3" r="2.4"/><circle cx="1007.6" cy="352.3" r="2.4"/><circle cx="1007.9" cy="357.5" r="2.4"/><circle cx="1008.2" cy="358.4" r="2.4"/><circle cx="1008.5" cy="358.5" r="2.4"/><circle cx="1008.8" cy="359.5" r="2.4"/><circle cx="1009.1" cy="358.1" r="2.4"/><circle cx="1009.4" cy="357.6" r="2.4"/><circle cx="1009.8" cy="351.2" r="2.4"/><circle cx="1010.1" cy="353.3" r="2.4"/><circle cx="1010.4" cy="354.7" r="2.4"/><circle cx="1010.7" cy="354.1" r="2.4"/><circle cx="1011" cy="347.8" r="2.4"/><circle cx="1011.3" cy="341.6" r="2.4"/><circle cx="1011.6" cy="336.3" r="2.4"/><circle cx="1012" cy="323.6" r="2.4"/><circle cx="1012.3" cy="334.7" r="2.4"/><circle cx="1012.6" cy="342.3" r="2.4"/><circle cx="1012.9" cy="347" r="2.4"/><circle cx="1013.2" cy="355.3" r="2.4"/><circle cx="1013.5" cy="354.9" r="2.4"/><circle cx="1013.8" cy="350.2" r="2.4"/><circle cx="1014.2" cy="352.8" r="2.4"/><circle cx="1014.5" cy="356.1" r="2.4"/><circle cx="1014.8" cy="356.5" r="2.4"/><circle cx="1015.1" cy="354.3" r="2.4"/><circle cx="1015.4" cy="357.1" r="2.4"/><circle cx="1015.7" cy="356.9" r="2.4"/><circle cx="1016" cy="359.4" r="2.4"/><circle cx="1016.4" cy="358.7" r="2.4"/><circle cx="1016.7" cy="358.1" r="2.4"/><circle cx="1017" cy="355" r="2.4"/><circle cx="102" cy="160.5" r="2.4"/><circle cx="263.7" cy="110.1" r="2.4"/><circle cx="104.8" cy="202.7" r="2.4"/><circle cx="206.3" cy="233.1" r="2.4"/><circle cx="206.3" cy="248.4" r="2.4"/><circle cx="232.6" cy="178.5" r="2.4"/><circle cx="249.7" cy="199.1" r="2.4"/><circle cx="254.4" cy="223.7" r="2.4"/><circle cx="267.7" cy="202.7" r="2.4"/><circle cx="153.6" cy="269.5" r="2.4"/><circle cx="165.3" cy="278.1" r="2.4"/><circle cx="325.9" cy="207.3" r="2.4"/><circle cx="331.7" cy="207.3" r="2.4"/><circle cx="326.2" cy="207.3" r="2.4"/><circle cx="331.6" cy="207.3" r="2.4"/><circle cx="336.7" cy="223.7" r="2.4"/><circle cx="348.4" cy="167.5" r="2.4"/><circle cx="346.1" cy="175.7" r="2.4"/><circle cx="448.5" cy="193.3" r="2.4"/><circle cx="446.9" cy="210.9" r="2.4"/><circle cx="452.7" cy="224.9" r="2.4"/><circle cx="457.4" cy="167.5" r="2.4"/><circle cx="471.5" cy="162.8" r="2.4"/><circle cx="515.3" cy="189.8" r="2.4"/><circle cx="562.2" cy="160.5" r="2.4"/><circle cx="560.5" cy="348" r="2.4"/><circle cx="560.5" cy="355" r="2.4"/><circle cx="562.5" cy="160.5" r="2.4"/><circle cx="573" cy="187" r="2.4"/><circle cx="572.6" cy="213.2" r="2.4"/><circle cx="574.9" cy="209.7" r="2.4"/><circle cx="601.2" cy="220.2" r="2.4"/><circle cx="606.1" cy="220.2" r="2.4"/><circle cx="646.4" cy="235.9" r="2.4"/><circle cx="646.4" cy="256.6" r="2.4"/><circle cx="669.1" cy="220.2" r="2.4"/><circle cx="671" cy="239" r="2.4"/><circle cx="679.7" cy="141.7" r="2.4"/><circle cx="779.5" cy="172.2" r="2.4"/><circle cx="560.9" cy="348" r="2.4"/><circle cx="560.9" cy="355" r="2.4"/><circle cx="667.5" cy="344.5" r="2.4"/><circle cx="675.7" cy="335.1" r="2.4"/><circle cx="667.5" cy="337.4" r="2.4"/><circle cx="812.1" cy="198" r="2.4"/><circle cx="812.6" cy="217.9" r="2.4"/><circle cx="905.9" cy="200.3" r="2.4"/><circle cx="917.6" cy="178" r="2.4"/><circle cx="847.7" cy="307.4" r="2.4"/><circle cx="852.4" cy="310.9" r="2.4"/><circle cx="991.4" cy="319.8" r="2.4"/>
</g>
<path d="M99.0 390.5V15.3H1017.3V390.5" fill="none" stroke="#767676" stroke-width="1.7"/>
<path d="M99.0 352.4h4.9M99.0 330.4h4.9M99.0 314.8h4.9M99.0 302.7h4.9M99.0 292.8h4.9M99.0 284.4h4.9M99.0 277.2h4.9M99.0 270.8h4.9M99.0 227.5h4.9M99.0 205.5h4.9M99.0 189.9h4.9M99.0 177.8h4.9M99.0 167.9h4.9M99.0 159.5h4.9M99.0 152.3h4.9M99.0 145.9h4.9M99.0 102.6h4.9M99.0 80.6h4.9M99.0 65.0h4.9M99.0 52.9h4.9M99.0 43.0h4.9M99.0 34.6h4.9M99.0 27.4h4.9M99.0 21.0h4.9M99.0 265.1h4.9M99.0 140.2h4.9" stroke="#767676" stroke-width="1.4" fill="none"/>
<text x="79.2" y="21.9" font-size="18" text-anchor="end" textLength="40.5" lengthAdjust="spacingAndGlyphs" fill="#595959">1000</text>
<text x="79.2" y="146.8" font-size="18" text-anchor="end" textLength="30.3" lengthAdjust="spacingAndGlyphs" fill="#595959">100</text>
<text x="79.2" y="271.7" font-size="18" text-anchor="end" textLength="20.2" lengthAdjust="spacingAndGlyphs" fill="#595959">10</text>
<text x="79.2" y="396.6" font-size="18" text-anchor="end" textLength="8" lengthAdjust="spacingAndGlyphs" fill="#595959">1</text>
<text x="99.0" y="423.6" font-size="18.5" text-anchor="middle" textLength="56.5" lengthAdjust="spacingAndGlyphs" fill="#595959">Jan/91</text>
<text x="213.8" y="423.6" font-size="18.5" text-anchor="middle" textLength="56.5" lengthAdjust="spacingAndGlyphs" fill="#595959">Jan/92</text>
<text x="328.6" y="423.6" font-size="18.5" text-anchor="middle" textLength="56.5" lengthAdjust="spacingAndGlyphs" fill="#595959">Jan/93</text>
<text x="443.4" y="423.6" font-size="18.5" text-anchor="middle" textLength="56.5" lengthAdjust="spacingAndGlyphs" fill="#595959">Jan/94</text>
<text x="558.1" y="423.6" font-size="18.5" text-anchor="middle" textLength="56.5" lengthAdjust="spacingAndGlyphs" fill="#595959">Jan/95</text>
<text x="672.9" y="423.6" font-size="18.5" text-anchor="middle" textLength="56.5" lengthAdjust="spacingAndGlyphs" fill="#595959">Jan/96</text>
<text x="787.7" y="423.6" font-size="18.5" text-anchor="middle" textLength="56.5" lengthAdjust="spacingAndGlyphs" fill="#595959">Jan/97</text>
<text x="902.5" y="423.6" font-size="18.5" text-anchor="middle" textLength="56.5" lengthAdjust="spacingAndGlyphs" fill="#595959">Jan/98</text>
<g transform="translate(23.6 203.7) rotate(-90)"><text x="0" y="0" font-size="18.5" text-anchor="middle" textLength="157" lengthAdjust="spacingAndGlyphs" fill="#595959">Daily flow (m<tspan font-size="12" dy="-6">3</tspan><tspan dy="6">/s)</tspan></text></g>
<text x="143.3" y="62.8" font-size="23.5" textLength="29.5" lengthAdjust="spacingAndGlyphs" font-weight="bold" fill="#000" stroke="#000" stroke-width="0.5">(a)</text>
<rect x="494.5" y="28" width="505.29999999999995" height="44.599999999999994" fill="#fff" stroke="#767676" stroke-width="1.4"/>
<line x1="552.5" x2="598" y1="50.3" y2="50.3" stroke="#7f7f7f" stroke-width="1.7"/>
<text x="603.6" y="56.9" font-size="18.5" textLength="156" lengthAdjust="spacingAndGlyphs" fill="#595959">Parameter set #40</text>
<circle cx="840.6" cy="50.599999999999994" r="2.4" fill="#7f7f7f"/>
<text x="868" y="56.9" font-size="18.5" textLength="80" lengthAdjust="spacingAndGlyphs" fill="#595959">Observed</text>
<line x1="99.0" x2="1014.6" y1="696.6" y2="696.6" stroke="#d4d4d4" stroke-width="1.2"/>
<line x1="99.0" x2="1014.6" y1="574.1" y2="574.1" stroke="#d4d4d4" stroke-width="1.2"/>
<line x1="99.0" x2="1014.6" y1="819.0" y2="819.0" stroke="#d4d4d4" stroke-width="1.4"/>
<line x1="99.0" x2="99.0" y1="819.0" y2="825.5" stroke="#d4d4d4" stroke-width="1.3"/>
<line x1="213.4" x2="213.4" y1="819.0" y2="825.5" stroke="#d4d4d4" stroke-width="1.3"/>
<line x1="327.9" x2="327.9" y1="819.0" y2="825.5" stroke="#d4d4d4" stroke-width="1.3"/>
<line x1="442.4" x2="442.4" y1="819.0" y2="825.5" stroke="#d4d4d4" stroke-width="1.3"/>
<line x1="556.8" x2="556.8" y1="819.0" y2="825.5" stroke="#d4d4d4" stroke-width="1.3"/>
<line x1="671.2" x2="671.2" y1="819.0" y2="825.5" stroke="#d4d4d4" stroke-width="1.3"/>
<line x1="785.7" x2="785.7" y1="819.0" y2="825.5" stroke="#d4d4d4" stroke-width="1.3"/>
<line x1="900.1" x2="900.1" y1="819.0" y2="825.5" stroke="#d4d4d4" stroke-width="1.3"/>
<line x1="1014.6" x2="1014.6" y1="819.0" y2="825.5" stroke="#d4d4d4" stroke-width="1.3"/>
<clipPath id="cpb"><rect x="99.0" y="451.7" width="915.6" height="367.90000000000003"/></clipPath>
<polyline clip-path="url(#cpb)" points="99,720.1 99.3,714.8 99.6,713.4 99.9,716.7 100.3,712 100.6,707.8 100.9,701.1 101.2,693.6 101.5,687.2 101.8,702.7 102.1,676.5 102.4,685.4 102.8,686.4 103.1,702.7 103.4,645.5 103.7,680 104,684.2 104.3,686.7 104.6,701.7 105,692.3 105.3,699.6 105.6,703.5 105.9,712.9 106.2,719.7 106.5,674.7 106.8,691 107.1,708.3 107.5,716.4 107.8,716.5 108.1,719.3 108.4,718.3 108.7,718.7 109,723.4 109.3,722.3 109.7,712.3 110,721 110.3,720.6 110.6,713.1 110.9,717.8 111.2,712.9 111.5,715.7 111.8,710.3 112.2,697.9 112.5,651.4 112.8,684.2 113.1,702 113.4,712.4 113.7,714.1 114,696.5 114.4,700.7 114.7,658.5 115,680.9 115.3,690.7 115.6,686.4 115.9,696.1 116.2,703.9 116.5,709.5 116.9,706.7 117.2,712.7 117.5,673.1 117.8,649.1 118.1,678.9 118.4,695.1 118.7,704.9 119.1,706.9 119.4,703.1 119.7,648.9 120,666.9 120.3,664.8 120.6,692.1 120.9,705.9 121.2,697.3 121.6,697.9 121.9,702 122.2,661.6 122.5,681.6 122.8,702.7 123.1,710.8 123.4,711.5 123.8,689.5 124.1,694.8 124.4,700.2 124.7,706.5 125,710.2 125.3,692 125.6,702.6 125.9,700.8 126.3,684.2 126.6,595.2 126.9,648.6 127.2,673.1 127.5,681.7 127.8,699.7 128.1,682.6 128.5,667.4 128.8,692.9 129.1,706.7 129.4,706.8 129.7,705.6 130,709.1 130.3,682.7 130.6,689.3 131,680.6 131.3,693.1 131.6,703.5 131.9,697.1 132.2,704.7 132.5,706.3 132.8,711.9 133.2,711.5 133.5,697.6 133.8,635 134.1,665.3 134.4,685.8 134.7,693.2 135,706.3 135.3,706.1 135.7,705.7 136,706.3 136.3,685.4 136.6,699.8 136.9,708.7 137.2,712.7 137.5,717.6 137.9,715.4 138.2,717.9 138.5,711.8 138.8,713.6 139.1,703.1 139.4,715.7 139.7,720 140,706 140.4,717.8 140.7,716.5 141,709.5 141.3,721.3 141.6,723.9 141.9,719 142.2,717.8 142.6,721 142.9,696.5 143.2,597.5 143.5,657.4 143.8,691.2 144.1,709.1 144.4,720.8 144.7,698 145.1,704.1 145.4,663.6 145.7,581.1 146,650.5 146.3,689.5 146.6,641.4 146.9,676.1 147.3,708.4 147.6,724.4 147.9,729 148.2,731.5 148.5,733.7 148.8,735.9 149.1,737.4 149.4,717.3 149.8,714.7 150.1,723.9 150.4,732.3 150.7,732.8 151,716.2 151.3,727.8 151.6,732.6 152,725.8 152.3,720.7 152.6,719.2 152.9,726.9 153.2,733.3 153.5,746.7 153.8,744.9 154.1,746.5 154.5,746.1 154.8,753.2 155.1,757.8 155.4,757.3 155.7,755.4 156,754 156.3,749.5 156.7,757.6 157,744.4 157.3,757.8 157.6,761.1 157.9,763.3 158.2,768.6 158.5,759.6 158.8,762.8 159.2,766 159.5,769.7 159.8,769.9 160.1,774.2 160.4,773.2 160.7,777.3 161,777.3 161.4,771.3 161.7,757.6 162,770.8 162.3,778.8 162.6,779.3 162.9,780.1 163.2,784 163.5,785.3 163.9,782.9 164.2,779.9 164.5,784 164.8,779.4 165.1,745.7 165.4,712.3 165.7,742 166.1,757.3 166.4,765.5 166.7,738 167,750.9 167.3,759.3 167.6,760.1 167.9,762.3 168.2,762.6 168.6,756.9 168.9,711.2 169.2,739.8 169.5,756.7 169.8,767.6 170.1,777.7 170.4,764.8 170.8,770.5 171.1,771.9 171.4,754.9 171.7,763.4 172,774.1 172.3,773.3 172.6,769.2 172.9,779.6 173.3,780.3 173.6,787.4 173.9,766.6 174.2,763.2 174.5,779 174.8,779.4 175.1,789.4 175.5,792.4 175.8,773.3 176.1,782 176.4,794.4 176.7,796.5 177,796.9 177.3,797.8 177.7,788.1 178,772.3 178.3,785.3 178.6,788.7 178.9,774.3 179.2,788.2 179.5,782.6 179.8,737 180.2,763.1 180.5,776.6 180.8,783.9 181.1,785.4 181.4,782.6 181.7,777.6 182,779.7 182.4,781.3 182.7,781.9 183,781 183.3,780.8 183.6,785.1 183.9,790.9 184.2,790 184.5,793.8 184.9,788 185.2,792 185.5,797.6 185.8,806.2 186.1,805 186.4,810.4 186.7,811.1 187.1,801.7 187.4,797.4 187.7,801.9 188,793.8 188.3,784.5 188.6,793.9 188.9,796.4 189.2,792.4 189.6,791.3 189.9,790.2 190.2,796.5 190.5,795.9 190.8,799.9 191.1,803.9 191.4,805.4 191.8,802.6 192.1,808.1 192.4,816.3 192.7,815.9 193,804.6 193.3,810.4 193.6,815.5 193.9,809.5 194.3,800.4 194.6,806.6 194.9,807.8 195.2,810.9 195.5,815.2 195.8,807.1 196.1,783.9 196.5,796.3 196.8,779.5 197.1,770.7 197.4,719.4 197.7,734.3 198,730.1 198.3,727.4 198.6,748.3 199,748 199.3,762.4 199.6,761.6 199.9,733 200.2,723.4 200.5,729.7 200.8,750.6 201.2,726.8 201.5,756.9 201.8,732.5 202.1,740.3 202.4,740.8 202.7,757 203,734 203.3,750.3 203.7,742 204,757.7 204.3,725.3 204.6,734.9 204.9,714.3 205.2,665.5 205.5,694.9 205.9,711.3 206.2,721.2 206.5,731.8 206.8,735.9 207.1,762.6 207.4,738.3 207.7,759.4 208,755 208.4,751.2 208.7,752.3 209,750.6 209.3,760.1 209.6,752.1 209.9,749 210.2,728.5 210.6,742.7 210.9,767.2 211.2,758 211.5,733.4 211.8,740 212.1,722 212.4,734 212.7,730.2 213.1,714.5 213.4,724.2 213.7,721.8 214,708.8 214.3,724 214.6,698.9 214.9,623.3 215.3,670.8 215.6,696.6 215.9,712.3 216.2,723.2 216.5,720.7 216.8,719.3 217.1,722.9 217.4,726.9 217.8,741.6 218.1,737.7 218.4,746.1 218.7,738.2 219,752.2 219.3,735.8 219.6,756.5 220,757 220.3,754.8 220.6,743.3 220.9,736.2 221.2,725 221.5,711.2 221.8,719.8 222.1,724.8 222.5,728.1 222.8,738.1 223.1,749.1 223.4,728.8 223.7,737.4 224,742.3 224.3,729.8 224.7,740.4 225,728.5 225.3,735 225.6,748.3 225.9,736.3 226.2,747.3 226.5,755.5 226.8,735.6 227.2,757.8 227.5,750.5 227.8,740.9 228.1,740.9 228.4,746.1 228.7,745 229,741.2 229.4,742.7 229.7,735.8 230,737.4 230.3,728.1 230.6,711 230.9,718 231.2,688.2 231.5,695.8 231.9,686 232.2,650.2 232.5,688.9 232.8,710.1 233.1,698.9 233.4,716.1 233.7,727.3 234.1,711.6 234.4,713.9 234.7,698.7 235,711.6 235.3,721.2 235.6,720.6 235.9,724.6 236.2,728.1 236.6,730.5 236.9,731.4 237.2,725.7 237.5,732.2 237.8,684.2 238.1,710.1 238.4,716.4 238.8,722.4 239.1,705.4 239.4,715.4 239.7,718.2 240,724 240.3,728.8 240.6,728 240.9,727 241.3,725.5 241.6,728.5 241.9,728.3 242.2,730.7 242.5,724.6 242.8,728.9 243.1,689.7 243.5,701.6 243.8,713.8 244.1,688.7 244.4,701.5 244.7,706.4 245,712.1 245.3,719.9 245.6,703.2 246,725.5 246.3,684.3 246.6,706.5 246.9,727.7 247.2,735.7 247.5,731.7 247.8,733.7 248.2,735 248.5,670.2 248.8,685.2 249.1,723.1 249.4,720.6 249.7,726.1 250,735.1 250.3,748.1 250.7,755.1 251,710.4 251.3,713.6 251.6,743.1 251.9,739.1 252.2,724.3 252.5,732.6 252.9,748.3 253.2,688.1 253.5,708.4 253.8,667.3 254.1,703.7 254.4,677.2 254.7,713 255,732.2 255.4,743.1 255.7,698.9 256,720.5 256.3,716.7 256.6,733.6 256.9,737.6 257.2,708.7 257.6,728.3 257.9,736 258.2,735.8 258.5,720.5 258.8,731.4 259.1,734.5 259.4,689.3 259.7,699.9 260.1,707.8 260.4,713.2 260.7,721.8 261,731.5 261.3,732.5 261.6,733.6 261.9,737.5 262.3,687.4 262.6,540.1 262.9,627.9 263.2,676.3 263.5,704.9 263.8,731.7 264.1,731.2 264.4,730.6 264.8,724.1 265.1,723 265.4,674.9 265.7,680.7 266,705.3 266.3,708.7 266.6,716 267,715.9 267.3,722.7 267.6,724.1 267.9,727.1 268.2,685.3 268.5,705.8 268.8,711 269.1,721.1 269.5,729.5 269.8,736.9 270.1,724 270.4,726.3 270.7,739.8 271,741.6 271.3,747.1 271.7,730.3 272,738.9 272.3,748.9 272.6,747 272.9,730.4 273.2,742.7 273.5,727.5 273.8,740.6 274.2,750 274.5,755.2 274.8,759.1 275.1,757.9 275.4,752.8 275.7,760.8 276,762.8 276.4,757.3 276.7,762.1 277,766.9 277.3,768.6 277.6,746.6 277.9,756.6 278.2,761.9 278.5,768.9 278.9,776.7 279.2,752.8 279.5,759.7 279.8,771.9 280.1,771.7 280.4,767.6 280.7,774.2 281.1,773.5 281.4,777.9 281.7,753.6 282,771.5 282.3,770.1 282.6,778.4 282.9,784.4 283.2,769.1 283.6,769.5 283.9,776.9 284.2,784.1 284.5,781 284.8,780.6 285.1,783.6 285.4,786 285.8,787.8 286.1,756.5 286.4,775 286.7,779.1 287,772.6 287.3,751.5 287.6,766.9 287.9,780.4 288.3,781.2 288.6,782.1 288.9,754.9 289.2,770.6 289.5,780.7 289.8,769.9 290.1,773.4 290.5,779.2 290.8,778.8 291.1,781.2 291.4,778.4 291.7,778.3 292,771.3 292.3,774.7 292.6,779.2 293,779.9 293.3,778.8 293.6,776.1 293.9,779.9 294.2,773 294.5,775.7 294.8,782.4 295.2,783.2 295.5,786.8 295.8,778.3 296.1,774.4 296.4,780.8 296.7,783.3 297,785.8 297.3,789.6 297.7,794.6 298,787.9 298.3,772.8 298.6,780.4 298.9,775.8 299.2,781.5 299.5,780.5 299.9,779.4 300.2,780.9 300.5,783.2 300.8,740.1 301.1,705.3 301.4,742.4 301.7,762.4 302,773.2 302.4,770.7 302.7,778.9 303,779.4 303.3,777.5 303.6,780.5 303.9,778.9 304.2,766.1 304.6,770.8 304.9,773.2 305.2,774.8 305.5,773.7 305.8,773.5 306.1,775.9 306.4,775.5 306.7,779.9 307.1,772.7 307.4,774.2 307.7,778.5 308,772.3 308.3,776.8 308.6,774.5 308.9,774.8 309.3,762.2 309.6,721.7 309.9,744 310.2,754.8 310.5,759.9 310.8,763.9 311.1,757.4 311.4,758.3 311.8,755.2 312.1,757.1 312.4,765.8 312.7,751.2 313,765.1 313.3,758.7 313.6,750.3 314,761.4 314.3,741.8 314.6,760.9 314.9,751.6 315.2,749.4 315.5,740.8 315.8,740.1 316.1,725.6 316.5,665.5 316.8,701.2 317.1,718 317.4,728.9 317.7,739.1 318,738.4 318.3,739.2 318.7,737.7 319,730.6 319.3,737.3 319.6,737.8 319.9,744.4 320.2,749 320.5,755.4 320.8,740.9 321.2,749 321.5,739.5 321.8,746.5 322.1,745.9 322.4,737.6 322.7,723.8 323,719.4 323.4,740.2 323.7,731.8 324,717.1 324.3,737.3 324.6,735.9 324.9,734.2 325.2,733.1 325.5,731.5 325.9,733 326.2,688.6 326.5,702 326.8,704.1 327.1,660.3 327.4,693.7 327.7,711.9 328.1,665.4 328.4,681.6 328.7,690.5 329,680.1 329.3,695.9 329.6,692.8 329.9,705 330.3,709.3 330.6,686.3 330.9,701.3 331.2,707.7 331.5,718.4 331.8,724.6 332.1,720.1 332.4,713.6 332.8,717.8 333.1,725.1 333.4,726.4 333.7,728.2 334,732 334.3,671.5 334.6,699.2 335,710.5 335.3,704.7 335.6,713 335.9,724 336.2,724.6 336.5,729.4 336.8,729.4 337.1,699.2 337.5,722.6 337.8,732.4 338.1,731.8 338.4,728.7 338.7,734.8 339,740 339.3,735.2 339.7,725 340,728.2 340.3,730.8 340.6,729.8 340.9,738.2 341.2,739.8 341.5,736.6 341.8,728.6 342.2,733.2 342.5,730.3 342.8,722.1 343.1,725.8 343.4,719.3 343.7,665 344,635.1 344.4,665.8 344.7,690.7 345,645.5 345.3,678.5 345.6,696 345.9,668 346.2,673.7 346.5,654.1 346.9,673 347.2,647.4 347.5,622.9 347.8,641.6 348.1,664.8 348.4,668.1 348.7,623.1 349.1,654.9 349.4,671.5 349.7,667.7 350,681.6 350.3,623.5 350.6,654.5 350.9,675.5 351.2,687 351.6,637.7 351.9,667.9 352.2,676.3 352.5,684.4 352.8,682.9 353.1,688.3 353.4,688.2 353.8,696.2 354.1,663.3 354.4,555.3 354.7,619.7 355,635.2 355.3,651.4 355.6,661.4 355.9,623.9 356.3,643.2 356.6,657.2 356.9,676.5 357.2,685.1 357.5,684.6 357.8,647.5 358.1,660.7 358.5,674.2 358.8,679.9 359.1,656.5 359.4,667.5 359.7,662.9 360,674.1 360.3,687.5 360.6,687.5 361,676.7 361.3,606.9 361.6,649.3 361.9,673.4 362.2,666.6 362.5,675.7 362.8,680.5 363.2,688.3 363.5,690.5 363.8,698.9 364.1,698.5 364.4,701.9 364.7,701 365,684.7 365.3,696.8 365.7,698.4 366,699.5 366.3,701.2 366.6,699.2 366.9,705.3 367.2,705.4 367.5,699.2 367.9,701.4 368.2,705.2 368.5,706.5 368.8,703.5 369.1,711.4 369.4,709.7 369.7,694.3 370,631.5 370.4,671.5 370.7,694.3 371,708.1 371.3,712.8 371.6,716.4 371.9,722.3 372.2,711.1 372.6,714.2 372.9,715.8 373.2,724.7 373.5,727.4 373.8,724.3 374.1,705.9 374.4,707.2 374.7,723.7 375.1,728.2 375.4,716.5 375.7,715.5 376,725.5 376.3,727.7 376.6,734.1 376.9,717.5 377.3,727.4 377.6,722 377.9,671.3 378.2,702.6 378.5,718.6 378.8,714.9 379.1,706 379.4,717.7 379.8,731.3 380.1,731.1 380.4,734.2 380.7,727.5 381,735.3 381.3,741.8 381.6,727.5 382,741.3 382.3,744.6 382.6,739.3 382.9,736.8 383.2,746.6 383.5,752.3 383.8,745.6 384.1,746.6 384.5,739.1 384.8,746.1 385.1,754.6 385.4,755.6 385.7,754.4 386,741.9 386.3,749.5 386.7,713.5 387,736.1 387.3,749.1 387.6,757.3 387.9,759.2 388.2,761.4 388.5,762 388.8,765.3 389.2,763.3 389.5,758.8 389.8,762.2 390.1,763.9 390.4,763.1 390.7,765.8 391,763.3 391.4,759 391.7,767.3 392,771.2 392.3,771.3 392.6,764.8 392.9,770.6 393.2,775.3 393.5,778.5 393.9,782 394.2,772.6 394.5,770.2 394.8,779.2 395.1,780.7 395.4,785 395.7,780.6 396.1,780.3 396.4,765.4 396.7,772.4 397,780.9 397.3,765.3 397.6,774.7 397.9,779.4 398.2,785.7 398.6,770 398.9,718.2 399.2,749.2 399.5,748.8 399.8,759.9 400.1,766.7 400.4,770 400.8,774.8 401.1,768 401.4,774.3 401.7,779.5 402,771.5 402.3,773.6 402.6,775 402.9,776.4 403.3,780.9 403.6,784.3 403.9,782.3 404.2,780.8 404.5,767.4 404.8,753 405.1,763.7 405.5,763 405.8,738.1 406.1,759.8 406.4,771.8 406.7,767.1 407,746.3 407.3,756.9 407.6,764.5 408,773.4 408.3,770.2 408.6,779.6 408.9,782.2 409.2,780 409.5,780.2 409.8,782.7 410.2,784 410.5,773.3 410.8,774.6 411.1,781.8 411.4,768.6 411.7,762.2 412,760 412.3,768.9 412.7,760.9 413,740.5 413.3,759.6 413.6,770 413.9,775.5 414.2,774.7 414.5,776.2 414.9,777.8 415.2,777.9 415.5,772.1 415.8,777.5 416.1,776.1 416.4,779.2 416.7,780 417,779.5 417.4,780 417.7,780.4 418,777.8 418.3,771.5 418.6,745.2 418.9,761 419.2,769.8 419.6,775 419.9,775 420.2,771.8 420.5,774.7 420.8,774.1 421.1,776.9 421.4,770.5 421.7,771.9 422.1,774.2 422.4,777.1 422.7,777.3 423,769.5 423.3,737 423.6,756.5 423.9,767.3 424.3,773.8 424.6,778.4 424.9,779.4 425.2,778.9 425.5,776.4 425.8,773.9 426.1,773.9 426.4,774.7 426.8,777.2 427.1,769.5 427.4,773.3 427.7,777.2 428,776.5 428.3,778.1 428.6,776.2 429,777.3 429.3,771.9 429.6,761.5 429.9,774 430.2,773.7 430.5,770.3 430.8,758 431.1,733.8 431.5,729.8 431.8,750.7 432.1,725.7 432.4,737.4 432.7,742 433,716.3 433.3,738.9 433.7,687.7 434,577.6 434.3,643.7 434.6,680.6 434.9,702.8 435.2,653.9 435.5,719.2 435.8,713.3 436.2,698.3 436.5,727.6 436.8,728.1 437.1,720.1 437.4,731.2 437.7,722.5 438,715.3 438.4,717.6 438.7,730.5 439,724.9 439.3,742.7 439.6,747.3 439.9,726.5 440.2,747.6 440.5,723.6 440.9,754.1 441.2,740.8 441.5,732.2 441.8,701.2 442.1,642 442.4,677.3 442.7,696.6 443.1,707.9 443.4,687.7 443.7,694.3 444,700.6 444.3,707.4 444.6,654.8 444.9,665 445.2,665 445.6,682.5 445.9,703.8 446.2,708.8 446.5,715.9 446.8,700.2 447.1,703.8 447.4,712 447.8,666.9 448.1,664.2 448.4,687.6 448.7,696.4 449,689.1 449.3,691.7 449.6,711.7 449.9,702 450.3,686.8 450.6,708.4 450.9,708.2 451.2,704.5 451.5,705.4 451.8,709.9 452.1,704.1 452.5,689.6 452.8,708.8 453.1,690.6 453.4,699.4 453.7,710.7 454,696 454.3,684.4 454.6,687.6 455,675.2 455.3,674.6 455.6,659.1 455.9,671.6 456.2,628 456.5,629.2 456.8,639.3 457.2,634.8 457.5,653.7 457.8,671.5 458.1,680.4 458.4,683.5 458.7,685.7 459,682.4 459.3,683.1 459.7,689.8 460,685.6 460.3,659.9 460.6,662.5 460.9,672.5 461.2,677.7 461.5,664.9 461.9,674.4 462.2,654.8 462.5,675.2 462.8,687.4 463.1,685.4 463.4,628.7 463.7,654.3 464,674 464.4,672.5 464.7,676.9 465,678.8 465.3,665.2 465.6,661 465.9,675.4 466.2,683.4 466.6,692 466.9,700.2 467.2,684.9 467.5,690.8 467.8,661.2 468.1,661.6 468.4,668.8 468.7,680.2 469.1,637.2 469.4,651 469.7,646.1 470,654.6 470.3,603.4 470.6,649.7 470.9,665.7 471.3,622.4 471.6,653.5 471.9,667.2 472.2,684.9 472.5,690.4 472.8,698.8 473.1,695.9 473.4,696.7 473.8,690.8 474.1,693.8 474.4,696.8 474.7,690.6 475,635 475.3,668.5 475.6,687.3 476,655.5 476.3,672.1 476.6,692.7 476.9,695.5 477.2,702.1 477.5,704.6 477.8,702.3 478.1,706.2 478.5,681.7 478.8,693.7 479.1,693.6 479.4,666.5 479.7,692.2 480,698.7 480.3,697 480.7,703.3 481,704.6 481.3,710.4 481.6,692.7 481.9,651.4 482.2,682.9 482.5,701.1 482.9,709.1 483.2,709.3 483.5,682.8 483.8,696 484.1,697.8 484.4,710.4 484.7,714.6 485,708.4 485.4,715.9 485.7,720.7 486,728.2 486.3,708.6 486.6,723 486.9,728.5 487.2,717.6 487.6,729.1 487.9,736 488.2,739.7 488.5,742.3 488.8,743.6 489.1,728.7 489.4,734.4 489.7,737.5 490.1,737.8 490.4,741.3 490.7,735.1 491,734.5 491.3,735.9 491.6,728.3 491.9,715.7 492.3,723.9 492.6,738.9 492.9,743.7 493.2,747.9 493.5,747.8 493.8,751.6 494.1,751.9 494.4,746.3 494.8,743.2 495.1,749.6 495.4,748.1 495.7,747.2 496,750.6 496.3,751.6 496.6,755 497,755.5 497.3,755 497.6,746 497.9,703 498.2,729.4 498.5,744.7 498.8,754.2 499.1,764.2 499.5,763 499.8,763.4 500.1,737.4 500.4,747.6 500.7,756.8 501,758.5 501.3,765.7 501.7,760.4 502,767.6 502.3,762.9 502.6,771.1 502.9,774.3 503.2,752.9 503.5,738.2 503.8,765.2 504.2,772.4 504.5,779.3 504.8,782.2 505.1,784.2 505.4,750.9 505.7,760.9 506,760.2 506.4,762.1 506.7,763.2 507,769.3 507.3,767.9 507.6,769.5 507.9,762.7 508.2,766.3 508.5,763 508.9,768.6 509.2,775.9 509.5,765.8 509.8,771.8 510.1,769.5 510.4,770.9 510.7,771.8 511.1,779.2 511.4,778.8 511.7,775.2 512,775.3 512.3,782.3 512.6,760.3 512.9,767.7 513.2,766.2 513.6,765.9 513.9,777.4 514.2,725.4 514.5,741.1 514.8,606.9 515.1,654.6 515.4,699.4 515.8,697.5 516.1,726.6 516.4,698.4 516.7,731.3 517,705.8 517.3,745.1 517.6,754 517.9,756 518.3,756.2 518.6,755.3 518.9,749.2 519.2,750.4 519.5,743.8 519.8,747.7 520.1,747 520.5,748.2 520.8,750.1 521.1,755.7 521.4,754.6 521.7,757.7 522,753.9 522.3,760.8 522.6,755.7 523,757.5 523.3,758.7 523.6,760.1 523.9,761.6 524.2,764.4 524.5,760.3 524.8,763.2 525.2,763.9 525.5,763.5 525.8,767.7 526.1,765 526.4,768.2 526.7,767.2 527,765.8 527.3,764.4 527.7,765.5 528,765.6 528.3,769.7 528.6,771.2 528.9,768.9 529.2,763 529.5,766.8 529.9,770 530.2,771.4 530.5,772.5 530.8,774.5 531.1,776.4 531.4,765.8 531.7,770.2 532,770.5 532.4,769.6 532.7,772.7 533,775.2 533.3,767.6 533.6,772.7 533.9,773.8 534.2,772.4 534.6,762.8 534.9,714.7 535.2,743 535.5,758.3 535.8,767.1 536.1,758.9 536.4,761.8 536.7,767 537.1,769.1 537.4,765.9 537.7,767.5 538,760.7 538.3,757.4 538.6,766.4 538.9,765.4 539.3,761.3 539.6,767.2 539.9,769.8 540.2,772.7 540.5,774.4 540.8,773.9 541.1,776.5 541.4,778.1 541.8,778.2 542.1,768.1 542.4,776 542.7,779.7 543,776.3 543.3,777.4 543.6,783 544,783.6 544.3,785.6 544.6,784.3 544.9,783.5 545.2,782 545.5,778 545.8,777.8 546.1,778.8 546.5,766 546.8,768.9 547.1,765.9 547.4,762.4 547.7,755.1 548,756.5 548.3,756.4 548.7,758.4 549,729.4 549.3,734.2 549.6,744.2 549.9,753.5 550.2,741.5 550.5,708.8 550.8,733.5 551.2,747.4 551.5,753.6 551.8,725.8 552.1,744.3 552.4,750 552.7,753.9 553,760.8 553.4,760 553.7,758 554,749.7 554.3,758.5 554.6,760.9 554.9,752.6 555.2,763.7 555.5,762.6 555.9,763.9 556.2,761 556.5,756.6 556.8,763.5 557.1,767.3 557.4,763.6 557.7,759.8 558.1,744 558.4,740.7 558.7,739.3 559,744.5 559.3,746.3 559.6,726.8 559.9,729.6 560.2,728.8 560.6,733.4 560.9,705.6 561.2,588.1 561.5,588.1 561.8,593.9 562.1,647.1 562.4,666.9 562.8,702.1 563.1,709.3 563.4,712.8 563.7,705.6 564,706.5 564.3,709.8 564.6,680.2 564.9,704.7 565.3,701.9 565.6,711.5 565.9,668.2 566.2,689.1 566.5,700.4 566.8,711.1 567.1,713.7 567.5,702.8 567.8,663.1 568.1,691.6 568.4,707.5 568.7,717 569,720.5 569.3,720.2 569.6,725 570,692.4 570.3,710.7 570.6,716.9 570.9,719.9 571.2,681.9 571.5,689 571.8,709.4 572.2,713.8 572.5,717.9 572.8,644 573.1,656.3 573.4,680 573.7,694.2 574,706.6 574.3,714.8 574.7,716.7 575,673.2 575.3,690 575.6,708.2 575.9,718.3 576.2,680.8 576.5,685.3 576.9,699.2 577.2,686 577.5,701.8 577.8,639.7 578.1,678.8 578.4,700.5 578.7,700.4 579,669.8 579.4,698.5 579.7,714.1 580,719.5 580.3,718.6 580.6,701.3 580.9,690.2 581.2,701.6 581.6,710.6 581.9,719.4 582.2,727 582.5,729.7 582.8,733.4 583.1,736.2 583.4,735.1 583.7,736.5 584.1,734.8 584.4,737.4 584.7,721 585,724.2 585.3,731.6 585.6,724.5 585.9,733.4 586.3,739.1 586.6,738.8 586.9,724 587.2,734.4 587.5,744.9 587.8,752.1 588.1,756.7 588.4,760.9 588.8,763.2 589.1,759.4 589.4,763.8 589.7,743.1 590,752.9 590.3,760.6 590.6,770.8 591,758.7 591.3,771.7 591.6,757.2 591.9,756.4 592.2,756 592.5,758.9 592.8,749.8 593.1,753.9 593.5,759.2 593.8,764.4 594.1,769.8 594.4,763.4 594.7,715.8 595,728.8 595.3,731.3 595.7,737.1 596,736.2 596.3,749.3 596.6,740.1 596.9,683.5 597.2,708.2 597.5,727.5 597.8,689.7 598.2,722.5 598.5,686.6 598.8,718.9 599.1,684.9 599.4,704 599.7,731.3 600,737.5 600.4,698.3 600.7,721.2 601,732.7 601.3,706.2 601.6,715.7 601.9,715 602.2,727.8 602.5,730.7 602.9,692.3 603.2,711.6 603.5,729.7 603.8,730.3 604.1,734.8 604.4,740.8 604.7,733 605.1,677.2 605.4,710.4 605.7,725.9 606,713.3 606.3,717.7 606.6,724.6 606.9,707.3 607.2,706.8 607.6,726.9 607.9,739.4 608.2,737.1 608.5,738.7 608.8,728.1 609.1,727.4 609.4,736.4 609.8,743 610.1,721.6 610.4,729.7 610.7,733.9 611,717.6 611.3,629.1 611.6,682.8 611.9,664.7 612.3,690.3 612.6,701.5 612.9,721.2 613.2,730.7 613.5,740.1 613.8,740.2 614.1,742.8 614.5,742.2 614.8,734.6 615.1,741.5 615.4,745.1 615.7,705.9 616,731.4 616.3,738.7 616.6,745.3 617,751.3 617.3,753.8 617.6,754.1 617.9,753.6 618.2,732 618.5,745.7 618.8,728.5 619.2,744.7 619.5,748.2 619.8,752.8 620.1,745.2 620.4,748.7 620.7,744 621,757 621.3,760.5 621.7,761.2 622,760.7 622.3,765.6 622.6,768.3 622.9,766.8 623.2,772.1 623.5,774 623.9,760.3 624.2,764.4 624.5,768.6 624.8,773.1 625.1,771.4 625.4,766.9 625.7,771.7 626,774 626.4,782.8 626.7,781.2 627,770.1 627.3,778.5 627.6,779.5 627.9,791 628.2,792.4 628.6,798.9 628.9,800.5 629.2,798.7 629.5,799.2 629.8,771.8 630.1,789.2 630.4,798 630.7,795.8 631.1,748.7 631.4,777.2 631.7,793.3 632,803.2 632.3,809.1 632.6,808.6 632.9,804 633.3,801.7 633.6,805.3 633.9,810.7 634.2,803.2 634.5,803.5 634.8,784.1 635.1,780.2 635.5,799.4 635.8,805.8 636.1,805 636.4,795.3 636.7,786.9 637,775.6 637.3,749.8 637.6,770 638,779 638.3,701.8 638.6,746.5 638.9,770.1 639.2,783.3 639.5,792.6 639.8,774.3 640.2,791 640.5,794.5 640.8,795.6 641.1,791 641.4,786.6 641.7,790.8 642,790.7 642.3,778.9 642.7,782.5 643,770.8 643.3,777.3 643.6,779.2 643.9,784.4 644.2,762.9 644.5,676 644.9,726.1 645.2,752.2 645.5,766.5 645.8,729.5 646.1,748.8 646.4,758.9 646.7,764.3 647,762.5 647.4,762.7 647.7,764.4 648,765.9 648.3,763.5 648.6,765.8 648.9,764.2 649.2,769 649.6,764.4 649.9,757.6 650.2,766.4 650.5,758.1 650.8,771.5 651.1,767.1 651.4,767.9 651.7,760.9 652.1,757 652.4,768.9 652.7,766.9 653,766.4 653.3,765.3 653.6,760.3 653.9,752.3 654.3,758.5 654.6,752.6 654.9,744.8 655.2,700.6 655.5,727 655.8,741.6 656.1,735.5 656.4,747.2 656.8,749.3 657.1,753.8 657.4,746.8 657.7,746.8 658,740.8 658.3,747.3 658.6,754.3 659,752.4 659.3,750.9 659.6,746.3 659.9,756 660.2,744.4 660.5,740.6 660.8,691.2 661.1,720.8 661.5,737.1 661.8,746.9 662.1,757.3 662.4,737.6 662.7,740.9 663,749.9 663.3,748.5 663.7,754.9 664,753.1 664.3,741.9 664.6,755.7 664.9,756.6 665.2,751.8 665.5,753.1 665.8,744.4 666.2,756.2 666.5,754.9 666.8,757.2 667.1,757.8 667.4,759.2 667.7,768.4 668,763.6 668.4,747.9 668.7,707.4 669,744.1 669.3,744.8 669.6,746.3 669.9,753.4 670.2,741.5 670.5,704.5 670.9,723.2 671.2,739.4 671.5,700.6 671.8,720.7 672.1,703 672.4,724.4 672.7,736 673.1,716.6 673.4,736.4 673.7,739.1 674,743.2 674.3,748 674.6,743.1 674.9,744.6 675.2,741.9 675.6,734.1 675.9,699.3 676.2,703.4 676.5,708.1 676.8,622.1 677.1,671.9 677.4,698 677.8,712.5 678.1,694.9 678.4,670.5 678.7,667.2 679,675.5 679.3,609.2 679.6,657.2 679.9,682.5 680.3,692.2 680.6,630.1 680.9,663.5 681.2,675.2 681.5,683.7 681.8,691.4 682.1,694.9 682.5,695 682.8,699.4 683.1,700.9 683.4,702.2 683.7,710.6 684,697.8 684.3,702.2 684.6,648.2 685,665.3 685.3,687.9 685.6,693.9 685.9,705.4 686.2,660.5 686.5,678.4 686.8,704.3 687.2,680.8 687.5,698.1 687.8,710.7 688.1,669.9 688.4,688.5 688.7,709.8 689,715.8 689.3,720.4 689.7,704.3 690,711 690.3,714.7 690.6,709.4 690.9,710.3 691.2,712.3 691.5,717.6 691.9,711.5 692.2,714.8 692.5,716 692.8,715.3 693.1,718.9 693.4,719.5 693.7,710.5 694,709.5 694.4,692.1 694.7,703 695,709 695.3,715.6 695.6,689.6 695.9,696.5 696.2,713.8 696.6,675.9 696.9,695.7 697.2,708.7 697.5,714.5 697.8,715.3 698.1,677 698.4,692.9 698.7,709 699.1,717.7 699.4,721.9 699.7,658.5 700,672.5 700.3,660.8 700.6,668.6 700.9,690.8 701.3,706.3 701.6,717.9 701.9,720.5 702.2,697.5 702.5,717 702.8,725.8 703.1,730 703.4,736.8 703.8,736.3 704.1,733.6 704.4,738.9 704.7,739.2 705,741 705.3,726.1 705.6,733.9 706,732 706.3,718 706.6,728.6 706.9,708.6 707.2,714.1 707.5,726.7 707.8,734.2 708.1,712.3 708.5,726.2 708.8,743.7 709.1,749.1 709.4,739.3 709.7,734.6 710,726.5 710.3,731.5 710.7,745.2 711,745.5 711.3,744 711.6,749.3 711.9,715.2 712.2,732.1 712.5,737.6 712.8,737.8 713.2,741.3 713.5,663.3 713.8,696 714.1,662.7 714.4,594 714.7,666.1 715,706 715.4,729.7 715.7,724.5 716,730 716.3,741.4 716.6,743.5 716.9,747.1 717.2,742.4 717.5,744.9 717.9,742.7 718.2,744.8 718.5,740.5 718.8,745.7 719.1,743.4 719.4,748.7 719.7,749 720.1,755.3 720.4,758.4 720.7,750 721,742.9 721.3,747.6 721.6,718.9 721.9,732.5 722.2,749.2 722.6,733.4 722.9,745.8 723.2,752 723.5,766 723.8,767.6 724.1,770.2 724.4,760.1 724.8,752.4 725.1,768 725.4,766.7 725.7,762 726,764.9 726.3,771.1 726.6,776.1 726.9,777.1 727.3,779.5 727.6,742 727.9,753.2 728.2,776 728.5,781.2 728.8,789.3 729.1,798.1 729.5,795.6 729.8,794.1 730.1,790.8 730.4,795.6 730.7,758.5 731,780.2 731.3,790.8 731.6,794.2 732,750.1 732.3,756.7 732.6,756.6 732.9,776 733.2,786.8 733.5,788.9 733.8,788.3 734.2,794.6 734.5,792.1 734.8,797.9 735.1,792.3 735.4,758.9 735.7,780.8 736,789.5 736.3,787.4 736.7,789 737,765.8 737.3,774.9 737.6,784.8 737.9,787.1 738.2,782 738.5,753.5 738.9,762.6 739.2,764.3 739.5,763.5 739.8,730.8 740.1,740 740.4,748.2 740.7,686.2 741,711.1 741.4,727.1 741.7,727 742,599.8 742.3,674.3 742.6,712.8 742.9,720.8 743.2,674.8 743.6,705.4 743.9,729.7 744.2,751.6 744.5,711.7 744.8,728.1 745.1,732.7 745.4,744.2 745.7,747 746.1,756.6 746.4,754.8 746.7,750.3 747,754.5 747.3,734 747.6,722.8 747.9,744.7 748.3,751.9 748.6,754.2 748.9,753.2 749.2,747.1 749.5,705.3 749.8,730.3 750.1,744.1 750.4,752.3 750.8,756.2 751.1,735.3 751.4,734.2 751.7,746 752,754.9 752.3,755.7 752.6,751.8 753,746.1 753.3,755 753.6,763 753.9,762.5 754.2,765.2 754.5,756.3 754.8,753.7 755.1,761.1 755.5,764 755.8,753.7 756.1,748.5 756.4,747.9 756.7,750.3 757,756.7 757.3,742.5 757.7,697.1 758,724.3 758.3,739.3 758.6,744.4 758.9,748.8 759.2,747.5 759.5,742.3 759.8,734.2 760.2,745.7 760.5,746.9 760.8,753.7 761.1,749.9 761.4,759.5 761.7,763.6 762,765.1 762.4,752.4 762.7,751.8 763,761.3 763.3,751.9 763.6,761.7 763.9,765.7 764.2,755.1 764.5,767.4 764.9,753.6 765.2,762.9 765.5,765 765.8,753.9 766.1,759.4 766.4,754.7 766.7,756 767.1,753.3 767.4,749.6 767.7,758.2 768,765.1 768.3,753.6 768.6,722.1 768.9,637.3 769.2,687 769.6,713.7 769.9,723.2 770.2,710.7 770.5,724.1 770.8,733.1 771.1,726.3 771.4,684.4 771.8,691 772.1,692 772.4,715.4 772.7,720.2 773,715.1 773.3,712.8 773.6,716.7 773.9,692.3 774.3,705.1 774.6,707.2 774.9,712.9 775.2,710.9 775.5,710.9 775.8,712.5 776.1,690.1 776.5,603.4 776.8,654.2 777.1,635.6 777.4,677.2 777.7,684.8 778,689.8 778.3,672.8 778.6,680 779,702.4 779.3,708.8 779.6,708.8 779.9,709.7 780.2,711 780.5,714.4 780.8,711.4 781.2,712.5 781.5,719.5 781.8,720.4 782.1,724.2 782.4,721.6 782.7,721 783,724 783.3,721.6 783.7,720.6 784,725 784.3,726.4 784.6,727.5 784.9,719.4 785.2,722.2 785.5,725.2 785.9,723.8 786.2,716.3 786.5,723.4 786.8,724.3 787.1,726.2 787.4,726.4 787.7,718.2 788.1,718.6 788.4,724.4 788.7,727.6 789,730.9 789.3,721 789.6,723.4 789.9,717.4 790.2,721.2 790.6,716.7 790.9,719.3 791.2,707.1 791.5,714.8 791.8,705.1 792.1,729.9 792.4,682.5 792.8,606.9 793.1,652.3 793.4,677.5 793.7,692.6 794,707.3 794.3,705.2 794.6,702.6 794.9,700.5 795.3,691.3 795.6,686.9 795.9,690.4 796.2,692.3 796.5,692.7 796.8,692.7 797.1,699.9 797.5,700.4 797.8,703.1 798.1,706.3 798.4,703.7 798.7,706.8 799,708.2 799.3,708.4 799.6,703 800,679.9 800.3,686.3 800.6,664.7 800.9,675.6 801.2,680.7 801.5,697.4 801.8,699 802.2,697.8 802.5,697.9 802.8,704 803.1,708.5 803.4,683.8 803.7,684.5 804,671.1 804.3,681 804.7,697.6 805,681.2 805.3,636.3 805.6,601 805.9,622.1 806.2,636.4 806.5,652.3 806.9,679.5 807.2,683.5 807.5,687.6 807.8,697.9 808.1,628.9 808.4,665.6 808.7,668.8 809,687.3 809.4,695.3 809.7,700.1 810,695 810.3,697 810.6,696.8 810.9,702.3 811.2,699.3 811.6,699.6 811.9,703.8 812.2,702.9 812.5,710.4 812.8,710.9 813.1,713.4 813.4,714.5 813.7,709.2 814.1,694.8 814.4,684.7 814.7,695.6 815,701.8 815.3,701.6 815.6,705.5 815.9,710 816.3,712.8 816.6,707.8 816.9,714.3 817.2,714.2 817.5,716.6 817.8,718 818.1,721.6 818.4,720.9 818.8,719.7 819.1,718.4 819.4,711 819.7,712.5 820,716.7 820.3,713.5 820.6,713.2 821,716.6 821.3,719.2 821.6,725 821.9,722.2 822.2,709.7 822.5,647.9 822.8,685.5 823.1,706.9 823.5,720 823.8,705.3 824.1,718.3 824.4,724.2 824.7,658.1 825,703.1 825.3,721.1 825.7,715.5 826,722.8 826.3,726.8 826.6,729.9 826.9,731.8 827.2,731.2 827.5,728.1 827.8,732.3 828.2,720.5 828.5,716.5 828.8,723.3 829.1,732.5 829.4,736 829.7,738.4 830,739.9 830.4,742.7 830.7,744.1 831,746 831.3,747.7 831.6,748 831.9,726.4 832.2,726.8 832.5,733 832.9,735.6 833.2,738.9 833.5,727.1 833.8,640.9 834.1,684.8 834.4,704.3 834.7,718.2 835.1,739.5 835.4,698.2 835.7,718.4 836,732.8 836.3,746.8 836.6,756.6 836.9,755.2 837.2,756.6 837.6,760 837.9,760 838.2,762.3 838.5,763 838.8,764.6 839.1,737.6 839.4,756.1 839.8,756.2 840.1,763.3 840.4,767.9 840.7,771.2 841,749.4 841.3,768 841.6,778.3 841.9,786.8 842.3,793.6 842.6,792.6 842.9,793.7 843.2,795.7 843.5,791.6 843.8,749.5 844.1,764.2 844.5,766.2 844.8,765.5 845.1,774.6 845.4,784.6 845.7,784.8 846,773.7 846.3,772.7 846.6,777.6 847,777.5 847.3,781.1 847.6,781.8 847.9,786.6 848.2,761.9 848.5,771.9 848.8,766.3 849.2,775.7 849.5,757.9 849.8,773.3 850.1,744.4 850.4,773.7 850.7,788.7 851,796.4 851.3,799 851.7,767 852,764.8 852.3,786.5 852.6,794.9 852.9,796.9 853.2,804.1 853.5,805.1 853.9,808.6 854.2,802.8 854.5,802.6 854.8,811.4 855.1,815.6 855.4,816.3 855.7,796.8 856,782.1 856.4,796.6 856.7,805.8 857,815.8 857.3,813.5 857.6,816.6 857.9,804.6 858.2,787.6 858.6,792.8 858.9,797.6 859.2,802.1 859.5,798.6 859.8,809.9 860.1,816.5 860.4,813.4 860.7,811.6 861.1,811.8 861.4,796.6 861.7,804.3 862,788.5 862.3,790 862.6,799.8 862.9,811.6 863.3,814.6 863.6,815.2 863.9,819.3 864.2,819.3 864.5,819.9 864.8,816 865.1,796.4 865.4,721.7 865.8,766.5 866.1,784.3 866.4,795.5 866.7,794.5 867,793 867.3,797.9 867.6,798.4 868,780.4 868.3,787.4 868.6,788.4 868.9,790.4 869.2,774.6 869.5,779.8 869.8,789.5 870.1,792.2 870.5,788.8 870.8,777.4 871.1,790.3 871.4,788.5 871.7,791.8 872,793.4 872.3,795.8 872.7,794.5 873,803.1 873.3,807.7 873.6,803.4 873.9,798.6 874.2,780 874.5,794.3 874.8,797.4 875.2,809.7 875.5,812.3 875.8,811.5 876.1,812.5 876.4,817.5 876.7,813.7 877,813.1 877.4,810.8 877.7,772.9 878,792 878.3,792.3 878.6,804.5 878.9,811.4 879.2,807.7 879.5,807.9 879.9,792.4 880.2,790.1 880.5,787.5 880.8,785 881.1,783.6 881.4,781.6 881.7,784.2 882.1,782.4 882.4,779.2 882.7,782.6 883,782.5 883.3,776 883.6,772.7 883.9,775.4 884.2,781.9 884.6,781.5 884.9,784.1 885.2,781 885.5,775.5 885.8,778.6 886.1,777.8 886.4,778.6 886.8,769.7 887.1,744 887.4,759.5 887.7,768.1 888,773.3 888.3,781.4 888.6,781 888.9,775 889.3,774.5 889.6,775.7 889.9,776.1 890.2,769.9 890.5,742.8 890.8,759.1 891.1,768.2 891.5,773.6 891.8,787.1 892.1,783.8 892.4,783.7 892.7,784.3 893,778.7 893.3,785.6 893.6,786.2 894,778.4 894.3,783.2 894.6,789.7 894.9,774.8 895.2,779.6 895.5,779.1 895.8,779.5 896.2,785.8 896.5,782.7 896.8,782.6 897.1,779.3 897.4,786.7 897.7,766.3 898,719.4 898.3,747.4 898.7,762.8 899,771.9 899.3,779.1 899.6,780.9 899.9,776.5 900.2,779.9 900.5,777.8 900.9,763.3 901.2,761.4 901.5,758.6 901.8,750.7 902.1,697.4 902.4,612.7 902.7,663.4 903,664.8 903.4,670.3 903.7,663.8 904,696.6 904.3,699.4 904.6,704 904.9,702.6 905.2,707.5 905.6,688.8 905.9,708.6 906.2,707.5 906.5,703.6 906.8,699.1 907.1,706 907.4,706.8 907.7,698.3 908.1,686.6 908.4,689.6 908.7,693.7 909,694.9 909.3,685.8 909.6,695.1 909.9,695.7 910.3,688.3 910.6,679.8 910.9,592.8 911.2,644.4 911.5,656.6 911.8,668.8 912.1,688.6 912.4,651.9 912.8,615.6 913.1,652.2 913.4,663 913.7,675.8 914,684.8 914.3,687.3 914.6,689.3 915,690.3 915.3,692.8 915.6,698.2 915.9,645.9 916.2,659.3 916.5,642.8 916.8,672.2 917.1,682.3 917.5,623.3 917.8,659.4 918.1,679.8 918.4,658.5 918.7,685.3 919,693.5 919.3,677.9 919.7,674.4 920,696.2 920.3,700 920.6,700.6 920.9,706.5 921.2,711.1 921.5,684.1 921.8,693.4 922.2,708.5 922.5,710.7 922.8,697.2 923.1,679.8 923.4,686.8 923.7,690.3 924,701.1 924.4,660.8 924.7,677.7 925,677.7 925.3,601 925.6,653.5 925.9,634.4 926.2,669.4 926.5,671.2 926.9,686.4 927.2,688.4 927.5,697 927.8,700.8 928.1,693 928.4,705 928.7,711.4 929.1,713.7 929.4,706.8 929.7,689.5 930,671 930.3,690.2 930.6,706.8 930.9,709.7 931.2,714.3 931.6,714 931.9,718.5 932.2,687.7 932.5,701.4 932.8,711.2 933.1,686.6 933.4,686.2 933.8,700.5 934.1,680.7 934.4,579.9 934.7,642.7 935,676.8 935.3,631.5 935.6,656.3 935.9,683.8 936.3,695.4 936.6,685.1 936.9,693.5 937.2,644.4 937.5,666.5 937.8,692.8 938.1,692.7 938.5,697.7 938.8,641.1 939.1,563.5 939.4,626.3 939.7,660.3 940,676.3 940.3,644.3 940.7,668.5 941,669.5 941.3,676.1 941.6,682.6 941.9,686.8 942.2,681 942.5,645.7 942.8,661.2 943.2,667.8 943.5,674.2 943.8,677.5 944.1,682.4 944.4,674.2 944.7,685.3 945,689.4 945.4,683 945.7,682.1 946,695.9 946.3,697.2 946.6,698.5 946.9,708.1 947.2,689.8 947.5,700.9 947.9,691.2 948.2,709.4 948.5,704.2 948.8,703.1 949.1,708.3 949.4,710.4 949.7,676.5 950.1,686.9 950.4,700.9 950.7,694.4 951,701.5 951.3,702.4 951.6,709.9 951.9,711.6 952.2,698.9 952.6,702.6 952.9,710.9 953.2,706.3 953.5,714.4 953.8,721.7 954.1,721.5 954.4,723.6 954.8,725.4 955.1,695.8 955.4,711.7 955.7,724.9 956,732.3 956.3,731.6 956.6,738.1 956.9,737.6 957.3,725.2 957.6,734.8 957.9,741.4 958.2,745.2 958.5,742.7 958.8,746.6 959.1,746.9 959.5,752.1 959.8,754.3 960.1,758.2 960.4,756.8 960.7,757.7 961,763.6 961.3,762.7 961.6,756.5 962,762.3 962.3,760.9 962.6,762.4 962.9,768.4 963.2,767.8 963.5,772.7 963.8,773.3 964.2,760.6 964.5,768.5 964.8,772.3 965.1,778 965.4,778.6 965.7,781 966,781 966.3,782.8 966.7,785.5 967,776.3 967.3,780.4 967.6,780.4 967.9,783.9 968.2,783 968.5,771 968.9,770.7 969.2,774 969.5,779.5 969.8,781.9 970.1,784.5 970.4,789.4 970.7,794 971,753 971.4,765.6 971.7,776.2 972,778.9 972.3,786.1 972.6,798.1 972.9,802.3 973.2,798.9 973.6,787.4 973.9,796.9 974.2,799.9 974.5,776.8 974.8,777.2 975.1,788 975.4,801.9 975.7,809 976.1,813.6 976.4,809.9 976.7,813.7 977,809.5 977.3,807.5 977.6,806.1 977.9,807.3 978.3,801.5 978.6,791.2 978.9,790.8 979.2,790 979.5,792.9 979.8,780.6 980.1,783.8 980.4,781.4 980.8,794.4 981.1,801.5 981.4,805 981.7,811.5 982,811.7 982.3,816.7 982.6,791.8 983,798.7 983.3,763.1 983.6,774.3 983.9,797.4 984.2,805.6 984.5,813.5 984.8,811.1 985.1,780.3 985.5,793.9 985.8,801.6 986.1,807 986.4,810.5 986.7,817.5 987,803.3 987.3,806.9 987.7,811.3 988,761 988.3,782.8 988.6,786.8 988.9,794.2 989.2,800.7 989.5,807.2 989.8,775.5 990.2,786.2 990.5,798.2 990.8,810.2 991.1,814.3 991.4,816.6 991.7,817.5 992,815.5 992.4,820 992.7,824.5 993,821.6 993.3,826.9 993.6,793.3 993.9,801.5 994.2,812 994.5,809.6 994.9,813 995.2,816.6 995.5,818.3 995.8,820.7 996.1,815.4 996.4,821.5 996.7,824.2 997.1,819.6 997.4,821.3 997.7,826.6 998,825.1 998.3,809.6 998.6,818.3 998.9,793.4 999.2,800.1 999.6,817.3 999.9,805.7 1000.2,813.9 1000.5,815.8 1000.8,818.2 1001.1,814.5 1001.4,805.4 1001.8,796.5 1002.1,811 1002.4,809.3 1002.7,780.1 1003,793.5 1003.3,806.7 1003.6,807.1 1003.9,813.6 1004.3,798.2 1004.6,806.7 1004.9,790.4 1005.2,802.1 1005.5,807.6 1005.8,814.9 1006.1,807.9 1006.5,793.1 1006.8,806.7 1007.1,799.4 1007.4,792.3 1007.7,779.7 1008,775.8 1008.3,754.7 1008.6,721.7 1009,738.7 1009.3,748.4 1009.6,754.3 1009.9,772 1010.2,762.7 1010.5,759.8 1010.8,762.6 1011.2,762.6 1011.5,758.5 1011.8,770.5 1012.1,754.8 1012.4,733.4 1012.7,746.4 1013,753.8 1013.3,758.4 1013.7,785.6 1014,784.8 1014.3,778.4" fill="none" stroke="#7a7a7a" stroke-width="2.3" stroke-linejoin="round"/>
<g fill="#000" fill-opacity="0.52">
<circle cx="99" cy="715.8" r="2.4"/><circle cx="99.3" cy="716.2" r="2.4"/><circle cx="99.6" cy="693.7" r="2.4"/><circle cx="99.9" cy="693" r="2.4"/><circle cx="100.3" cy="698" r="2.4"/><circle cx="100.6" cy="701.4" r="2.4"/><circle cx="100.9" cy="690" r="2.4"/><circle cx="101.2" cy="678.7" r="2.4"/><circle cx="101.5" cy="679.4" r="2.4"/><circle cx="101.8" cy="683.6" r="2.4"/><circle cx="102.1" cy="640.2" r="2.4"/><circle cx="102.4" cy="665" r="2.4"/><circle cx="102.8" cy="684" r="2.4"/><circle cx="103.1" cy="695" r="2.4"/><circle cx="103.4" cy="708" r="2.4"/><circle cx="103.7" cy="691.1" r="2.4"/><circle cx="104" cy="684.3" r="2.4"/><circle cx="104.3" cy="659.2" r="2.4"/><circle cx="104.6" cy="692.3" r="2.4"/><circle cx="105" cy="675.5" r="2.4"/><circle cx="105.3" cy="691.6" r="2.4"/><circle cx="105.6" cy="707.2" r="2.4"/><circle cx="105.9" cy="712" r="2.4"/><circle cx="106.2" cy="713.6" r="2.4"/><circle cx="106.5" cy="687.6" r="2.4"/><circle cx="106.8" cy="705.5" r="2.4"/><circle cx="107.1" cy="710.1" r="2.4"/><circle cx="107.5" cy="715.4" r="2.4"/><circle cx="107.8" cy="701.4" r="2.4"/><circle cx="108.1" cy="705.7" r="2.4"/><circle cx="108.4" cy="709.3" r="2.4"/><circle cx="108.7" cy="707.2" r="2.4"/><circle cx="109" cy="712.5" r="2.4"/><circle cx="109.3" cy="701.8" r="2.4"/><circle cx="109.7" cy="708.4" r="2.4"/><circle cx="110" cy="714.6" r="2.4"/><circle cx="110.3" cy="723.2" r="2.4"/><circle cx="110.6" cy="703.8" r="2.4"/><circle cx="110.9" cy="701.4" r="2.4"/><circle cx="111.2" cy="693.6" r="2.4"/><circle cx="111.5" cy="700.5" r="2.4"/><circle cx="111.8" cy="701.6" r="2.4"/><circle cx="112.2" cy="692.5" r="2.4"/><circle cx="112.5" cy="685.2" r="2.4"/><circle cx="112.8" cy="690.9" r="2.4"/><circle cx="113.1" cy="692.5" r="2.4"/><circle cx="113.4" cy="696.3" r="2.4"/><circle cx="113.7" cy="668.1" r="2.4"/><circle cx="114" cy="672" r="2.4"/><circle cx="114.4" cy="678.7" r="2.4"/><circle cx="114.7" cy="659.8" r="2.4"/><circle cx="115" cy="665" r="2.4"/><circle cx="115.3" cy="672.5" r="2.4"/><circle cx="115.6" cy="687.2" r="2.4"/><circle cx="115.9" cy="641.6" r="2.4"/><circle cx="116.2" cy="658.1" r="2.4"/><circle cx="116.5" cy="674.4" r="2.4"/><circle cx="116.9" cy="684" r="2.4"/><circle cx="117.2" cy="698.9" r="2.4"/><circle cx="117.5" cy="680.5" r="2.4"/><circle cx="117.8" cy="686.4" r="2.4"/><circle cx="118.1" cy="689.4" r="2.4"/><circle cx="118.4" cy="691.3" r="2.4"/><circle cx="118.7" cy="696.2" r="2.4"/><circle cx="119.1" cy="694.3" r="2.4"/><circle cx="119.4" cy="681.5" r="2.4"/><circle cx="119.7" cy="647.3" r="2.4"/><circle cx="120" cy="680.2" r="2.4"/><circle cx="120.3" cy="670.8" r="2.4"/><circle cx="120.6" cy="665.6" r="2.4"/><circle cx="120.9" cy="681.2" r="2.4"/><circle cx="121.2" cy="673.7" r="2.4"/><circle cx="121.6" cy="650.6" r="2.4"/><circle cx="121.9" cy="657.3" r="2.4"/><circle cx="122.2" cy="678.2" r="2.4"/><circle cx="122.5" cy="684.8" r="2.4"/><circle cx="122.8" cy="690.4" r="2.4"/><circle cx="123.1" cy="691" r="2.4"/><circle cx="123.4" cy="688.7" r="2.4"/><circle cx="123.8" cy="689.3" r="2.4"/><circle cx="124.1" cy="687.9" r="2.4"/><circle cx="124.4" cy="690.5" r="2.4"/><circle cx="124.7" cy="688.8" r="2.4"/><circle cx="125" cy="665.3" r="2.4"/><circle cx="125.3" cy="681.8" r="2.4"/><circle cx="125.6" cy="686.6" r="2.4"/><circle cx="125.9" cy="677.6" r="2.4"/><circle cx="126.3" cy="686.1" r="2.4"/><circle cx="126.6" cy="689.8" r="2.4"/><circle cx="126.9" cy="689.1" r="2.4"/><circle cx="127.2" cy="690.1" r="2.4"/><circle cx="127.5" cy="660.1" r="2.4"/><circle cx="127.8" cy="680.6" r="2.4"/><circle cx="128.1" cy="672" r="2.4"/><circle cx="128.5" cy="660.4" r="2.4"/><circle cx="128.8" cy="674.3" r="2.4"/><circle cx="129.1" cy="666.6" r="2.4"/><circle cx="129.4" cy="680.6" r="2.4"/><circle cx="129.7" cy="659.2" r="2.4"/><circle cx="130" cy="681.7" r="2.4"/><circle cx="130.3" cy="663.8" r="2.4"/><circle cx="130.6" cy="674" r="2.4"/><circle cx="131" cy="652.6" r="2.4"/><circle cx="131.3" cy="661.3" r="2.4"/><circle cx="131.6" cy="655.2" r="2.4"/><circle cx="131.9" cy="674.9" r="2.4"/><circle cx="132.2" cy="683.4" r="2.4"/><circle cx="132.5" cy="697" r="2.4"/><circle cx="132.8" cy="682.4" r="2.4"/><circle cx="133.2" cy="656.6" r="2.4"/><circle cx="133.5" cy="637.9" r="2.4"/><circle cx="133.8" cy="649.2" r="2.4"/><circle cx="134.1" cy="677.1" r="2.4"/><circle cx="134.4" cy="688.2" r="2.4"/><circle cx="134.7" cy="704.4" r="2.4"/><circle cx="135" cy="705.9" r="2.4"/><circle cx="135.3" cy="704.9" r="2.4"/><circle cx="135.7" cy="708.1" r="2.4"/><circle cx="136" cy="708.5" r="2.4"/><circle cx="136.3" cy="693.8" r="2.4"/><circle cx="136.6" cy="701.6" r="2.4"/><circle cx="136.9" cy="705" r="2.4"/><circle cx="137.2" cy="710.5" r="2.4"/><circle cx="137.5" cy="711.8" r="2.4"/><circle cx="137.9" cy="702.5" r="2.4"/><circle cx="138.2" cy="688.9" r="2.4"/><circle cx="138.5" cy="703.6" r="2.4"/><circle cx="138.8" cy="711.1" r="2.4"/><circle cx="139.1" cy="716" r="2.4"/><circle cx="139.4" cy="717.4" r="2.4"/><circle cx="139.7" cy="717.9" r="2.4"/><circle cx="140" cy="695.7" r="2.4"/><circle cx="140.4" cy="712" r="2.4"/><circle cx="140.7" cy="720.3" r="2.4"/><circle cx="141" cy="694.2" r="2.4"/><circle cx="141.3" cy="705.9" r="2.4"/><circle cx="141.6" cy="699.4" r="2.4"/><circle cx="141.9" cy="696.9" r="2.4"/><circle cx="142.2" cy="706.8" r="2.4"/><circle cx="142.6" cy="678.9" r="2.4"/><circle cx="142.9" cy="669.2" r="2.4"/><circle cx="143.2" cy="687.6" r="2.4"/><circle cx="143.5" cy="655.1" r="2.4"/><circle cx="143.8" cy="665" r="2.4"/><circle cx="144.1" cy="614.8" r="2.4"/><circle cx="144.4" cy="642.4" r="2.4"/><circle cx="144.7" cy="663.2" r="2.4"/><circle cx="145.1" cy="676.5" r="2.4"/><circle cx="145.4" cy="691.5" r="2.4"/><circle cx="145.7" cy="703.1" r="2.4"/><circle cx="146" cy="663.4" r="2.4"/><circle cx="146.3" cy="643.7" r="2.4"/><circle cx="146.6" cy="631" r="2.4"/><circle cx="146.9" cy="657.5" r="2.4"/><circle cx="147.3" cy="685" r="2.4"/><circle cx="147.6" cy="704" r="2.4"/><circle cx="147.9" cy="693.2" r="2.4"/><circle cx="148.2" cy="702.9" r="2.4"/><circle cx="148.5" cy="707.5" r="2.4"/><circle cx="148.8" cy="701.6" r="2.4"/><circle cx="149.1" cy="705.6" r="2.4"/><circle cx="149.4" cy="712.9" r="2.4"/><circle cx="149.8" cy="715.7" r="2.4"/><circle cx="150.1" cy="715.1" r="2.4"/><circle cx="150.4" cy="720.3" r="2.4"/><circle cx="150.7" cy="729.5" r="2.4"/><circle cx="151" cy="732.7" r="2.4"/><circle cx="151.3" cy="732.9" r="2.4"/><circle cx="151.6" cy="705.9" r="2.4"/><circle cx="152" cy="719.4" r="2.4"/><circle cx="152.3" cy="724.3" r="2.4"/><circle cx="152.6" cy="707.5" r="2.4"/><circle cx="152.9" cy="715.8" r="2.4"/><circle cx="153.2" cy="721.3" r="2.4"/><circle cx="153.5" cy="735.6" r="2.4"/><circle cx="153.8" cy="736.9" r="2.4"/><circle cx="154.1" cy="730.8" r="2.4"/><circle cx="154.5" cy="735.3" r="2.4"/><circle cx="154.8" cy="722" r="2.4"/><circle cx="155.1" cy="728.8" r="2.4"/><circle cx="155.4" cy="735.9" r="2.4"/><circle cx="155.7" cy="741.3" r="2.4"/><circle cx="156" cy="744.3" r="2.4"/><circle cx="156.3" cy="741.3" r="2.4"/><circle cx="156.7" cy="750" r="2.4"/><circle cx="157" cy="752.5" r="2.4"/><circle cx="157.3" cy="752.5" r="2.4"/><circle cx="157.6" cy="754.2" r="2.4"/><circle cx="157.9" cy="734.6" r="2.4"/><circle cx="158.2" cy="740.4" r="2.4"/><circle cx="158.5" cy="745.5" r="2.4"/><circle cx="158.8" cy="753.3" r="2.4"/><circle cx="159.2" cy="757.6" r="2.4"/><circle cx="159.5" cy="760" r="2.4"/><circle cx="159.8" cy="761.9" r="2.4"/><circle cx="160.1" cy="755.4" r="2.4"/><circle cx="160.4" cy="743.2" r="2.4"/><circle cx="160.7" cy="744.8" r="2.4"/><circle cx="161" cy="760.7" r="2.4"/><circle cx="161.4" cy="757.8" r="2.4"/><circle cx="161.7" cy="760.7" r="2.4"/><circle cx="162" cy="765" r="2.4"/><circle cx="162.3" cy="765.1" r="2.4"/><circle cx="162.6" cy="766" r="2.4"/><circle cx="162.9" cy="758.6" r="2.4"/><circle cx="163.2" cy="741.6" r="2.4"/><circle cx="163.5" cy="743.6" r="2.4"/><circle cx="163.9" cy="751.8" r="2.4"/><circle cx="164.2" cy="758.4" r="2.4"/><circle cx="164.5" cy="749.2" r="2.4"/><circle cx="164.8" cy="749.3" r="2.4"/><circle cx="165.1" cy="710.8" r="2.4"/><circle cx="165.4" cy="727.4" r="2.4"/><circle cx="165.7" cy="740.5" r="2.4"/><circle cx="166.1" cy="746.6" r="2.4"/><circle cx="166.4" cy="760.7" r="2.4"/><circle cx="166.7" cy="760.7" r="2.4"/><circle cx="167" cy="733.5" r="2.4"/><circle cx="167.3" cy="749.3" r="2.4"/><circle cx="167.6" cy="752" r="2.4"/><circle cx="167.9" cy="753.4" r="2.4"/><circle cx="168.2" cy="760" r="2.4"/><circle cx="168.6" cy="752.9" r="2.4"/><circle cx="168.9" cy="759.6" r="2.4"/><circle cx="169.2" cy="745.5" r="2.4"/><circle cx="169.5" cy="752.8" r="2.4"/><circle cx="169.8" cy="757.7" r="2.4"/><circle cx="170.1" cy="763.2" r="2.4"/><circle cx="170.4" cy="762.5" r="2.4"/><circle cx="170.8" cy="755.4" r="2.4"/><circle cx="171.1" cy="761.5" r="2.4"/><circle cx="171.4" cy="766.6" r="2.4"/><circle cx="171.7" cy="769.5" r="2.4"/><circle cx="172" cy="771" r="2.4"/><circle cx="172.3" cy="763.6" r="2.4"/><circle cx="172.6" cy="769.2" r="2.4"/><circle cx="172.9" cy="771.3" r="2.4"/><circle cx="173.3" cy="771" r="2.4"/><circle cx="173.6" cy="771.6" r="2.4"/><circle cx="173.9" cy="766.7" r="2.4"/><circle cx="174.2" cy="768" r="2.4"/><circle cx="174.5" cy="773.6" r="2.4"/><circle cx="174.8" cy="774.6" r="2.4"/><circle cx="175.1" cy="771.5" r="2.4"/><circle cx="175.5" cy="774.2" r="2.4"/><circle cx="175.8" cy="772.5" r="2.4"/><circle cx="176.1" cy="776.9" r="2.4"/><circle cx="176.4" cy="775.5" r="2.4"/><circle cx="176.7" cy="774.8" r="2.4"/><circle cx="177" cy="775.7" r="2.4"/><circle cx="177.3" cy="775.2" r="2.4"/><circle cx="177.7" cy="776.9" r="2.4"/><circle cx="178" cy="769.3" r="2.4"/><circle cx="178.3" cy="773.9" r="2.4"/><circle cx="178.6" cy="764.4" r="2.4"/><circle cx="178.9" cy="768.8" r="2.4"/><circle cx="179.2" cy="772.4" r="2.4"/><circle cx="179.5" cy="774.3" r="2.4"/><circle cx="179.8" cy="775.5" r="2.4"/><circle cx="180.2" cy="776.4" r="2.4"/><circle cx="180.5" cy="769.7" r="2.4"/><circle cx="180.8" cy="772" r="2.4"/><circle cx="181.1" cy="776.5" r="2.4"/><circle cx="181.4" cy="776.1" r="2.4"/><circle cx="181.7" cy="775.9" r="2.4"/><circle cx="182" cy="777.5" r="2.4"/><circle cx="182.4" cy="776.8" r="2.4"/><circle cx="182.7" cy="778.3" r="2.4"/><circle cx="183" cy="777.6" r="2.4"/><circle cx="183.3" cy="778.1" r="2.4"/><circle cx="183.6" cy="778" r="2.4"/><circle cx="183.9" cy="778.5" r="2.4"/><circle cx="184.2" cy="779.3" r="2.4"/><circle cx="184.5" cy="780" r="2.4"/><circle cx="184.9" cy="777.7" r="2.4"/><circle cx="185.2" cy="778.7" r="2.4"/><circle cx="185.5" cy="780.6" r="2.4"/><circle cx="185.8" cy="777.6" r="2.4"/><circle cx="186.1" cy="779.7" r="2.4"/><circle cx="186.4" cy="778.4" r="2.4"/><circle cx="186.7" cy="776.3" r="2.4"/><circle cx="187.1" cy="780.5" r="2.4"/><circle cx="187.4" cy="779.5" r="2.4"/><circle cx="187.7" cy="780.7" r="2.4"/><circle cx="188" cy="779.6" r="2.4"/><circle cx="188.3" cy="778.1" r="2.4"/><circle cx="188.6" cy="778.9" r="2.4"/><circle cx="188.9" cy="781.4" r="2.4"/><circle cx="189.2" cy="781.5" r="2.4"/><circle cx="189.6" cy="781" r="2.4"/><circle cx="189.9" cy="781.6" r="2.4"/><circle cx="190.2" cy="780.7" r="2.4"/><circle cx="190.5" cy="782.3" r="2.4"/><circle cx="190.8" cy="781.8" r="2.4"/><circle cx="191.1" cy="780.3" r="2.4"/><circle cx="191.4" cy="781" r="2.4"/><circle cx="191.8" cy="780.8" r="2.4"/><circle cx="192.1" cy="778.1" r="2.4"/><circle cx="192.4" cy="780.9" r="2.4"/><circle cx="192.7" cy="781.8" r="2.4"/><circle cx="193" cy="782.3" r="2.4"/><circle cx="193.3" cy="782.2" r="2.4"/><circle cx="193.6" cy="782.4" r="2.4"/><circle cx="193.9" cy="779.3" r="2.4"/><circle cx="194.3" cy="780.3" r="2.4"/><circle cx="194.6" cy="782.2" r="2.4"/><circle cx="194.9" cy="777.7" r="2.4"/><circle cx="195.2" cy="780.1" r="2.4"/><circle cx="195.5" cy="782.1" r="2.4"/><circle cx="195.8" cy="777.9" r="2.4"/><circle cx="196.1" cy="779.5" r="2.4"/><circle cx="196.5" cy="781.4" r="2.4"/><circle cx="196.8" cy="781" r="2.4"/><circle cx="197.1" cy="780.6" r="2.4"/><circle cx="197.4" cy="783.3" r="2.4"/><circle cx="197.7" cy="767.7" r="2.4"/><circle cx="198" cy="773.1" r="2.4"/><circle cx="198.3" cy="767.1" r="2.4"/><circle cx="198.6" cy="774.6" r="2.4"/><circle cx="199" cy="779.2" r="2.4"/><circle cx="199.3" cy="779.5" r="2.4"/><circle cx="199.6" cy="752.6" r="2.4"/><circle cx="199.9" cy="777" r="2.4"/><circle cx="200.2" cy="749.1" r="2.4"/><circle cx="200.5" cy="772.5" r="2.4"/><circle cx="200.8" cy="775.6" r="2.4"/><circle cx="201.2" cy="778.4" r="2.4"/><circle cx="201.5" cy="770.3" r="2.4"/><circle cx="201.8" cy="740.7" r="2.4"/><circle cx="202.1" cy="755.9" r="2.4"/><circle cx="202.4" cy="755.4" r="2.4"/><circle cx="202.7" cy="773.3" r="2.4"/><circle cx="203" cy="748.2" r="2.4"/><circle cx="203.3" cy="768.2" r="2.4"/><circle cx="203.7" cy="771.3" r="2.4"/><circle cx="204" cy="765.2" r="2.4"/><circle cx="204.3" cy="768.7" r="2.4"/><circle cx="204.6" cy="755.7" r="2.4"/><circle cx="204.9" cy="768.4" r="2.4"/><circle cx="205.2" cy="758.4" r="2.4"/><circle cx="205.5" cy="721.2" r="2.4"/><circle cx="205.9" cy="735.8" r="2.4"/><circle cx="206.2" cy="708.7" r="2.4"/><circle cx="206.5" cy="726" r="2.4"/><circle cx="206.8" cy="743.8" r="2.4"/><circle cx="207.1" cy="731.1" r="2.4"/><circle cx="207.4" cy="763.5" r="2.4"/><circle cx="207.7" cy="761.3" r="2.4"/><circle cx="208" cy="768" r="2.4"/><circle cx="208.4" cy="769.3" r="2.4"/><circle cx="208.7" cy="755.6" r="2.4"/><circle cx="209" cy="752.9" r="2.4"/><circle cx="209.3" cy="760.1" r="2.4"/><circle cx="209.6" cy="768.7" r="2.4"/><circle cx="209.9" cy="768.4" r="2.4"/><circle cx="210.2" cy="771.9" r="2.4"/><circle cx="210.6" cy="771" r="2.4"/><circle cx="210.9" cy="750.9" r="2.4"/><circle cx="211.2" cy="736.2" r="2.4"/><circle cx="211.5" cy="751.2" r="2.4"/><circle cx="211.8" cy="734.7" r="2.4"/><circle cx="212.1" cy="736" r="2.4"/><circle cx="212.4" cy="733" r="2.4"/><circle cx="212.7" cy="742" r="2.4"/><circle cx="213.1" cy="696.5" r="2.4"/><circle cx="213.4" cy="703.5" r="2.4"/><circle cx="213.7" cy="714.1" r="2.4"/><circle cx="214" cy="714.2" r="2.4"/><circle cx="214.3" cy="641.1" r="2.4"/><circle cx="214.6" cy="677.2" r="2.4"/><circle cx="214.9" cy="702.5" r="2.4"/><circle cx="215.3" cy="694.5" r="2.4"/><circle cx="215.6" cy="683.4" r="2.4"/><circle cx="215.9" cy="717.4" r="2.4"/><circle cx="216.2" cy="723.7" r="2.4"/><circle cx="216.5" cy="723.3" r="2.4"/><circle cx="216.8" cy="709.2" r="2.4"/><circle cx="217.1" cy="727.6" r="2.4"/><circle cx="217.4" cy="733.1" r="2.4"/><circle cx="217.8" cy="742.1" r="2.4"/><circle cx="218.1" cy="746.8" r="2.4"/><circle cx="218.4" cy="747.5" r="2.4"/><circle cx="218.7" cy="727.2" r="2.4"/><circle cx="219" cy="731.7" r="2.4"/><circle cx="219.3" cy="742.7" r="2.4"/><circle cx="219.6" cy="734.5" r="2.4"/><circle cx="220" cy="746.8" r="2.4"/><circle cx="220.3" cy="761.4" r="2.4"/><circle cx="220.6" cy="760.1" r="2.4"/><circle cx="220.9" cy="751.6" r="2.4"/><circle cx="221.2" cy="756.9" r="2.4"/><circle cx="221.5" cy="759" r="2.4"/><circle cx="221.8" cy="758.9" r="2.4"/><circle cx="222.1" cy="758" r="2.4"/><circle cx="222.5" cy="757.3" r="2.4"/><circle cx="222.8" cy="743.1" r="2.4"/><circle cx="223.1" cy="745.7" r="2.4"/><circle cx="223.4" cy="738.5" r="2.4"/><circle cx="223.7" cy="741.8" r="2.4"/><circle cx="224" cy="749.5" r="2.4"/><circle cx="224.3" cy="755" r="2.4"/><circle cx="224.7" cy="754.1" r="2.4"/><circle cx="225" cy="755" r="2.4"/><circle cx="225.3" cy="757.3" r="2.4"/><circle cx="225.6" cy="751.1" r="2.4"/><circle cx="225.9" cy="755.5" r="2.4"/><circle cx="226.2" cy="757.5" r="2.4"/><circle cx="226.5" cy="757.1" r="2.4"/><circle cx="226.8" cy="761.5" r="2.4"/><circle cx="227.2" cy="755.1" r="2.4"/><circle cx="227.5" cy="754.2" r="2.4"/><circle cx="227.8" cy="753" r="2.4"/><circle cx="228.1" cy="751.5" r="2.4"/><circle cx="228.4" cy="749.8" r="2.4"/><circle cx="228.7" cy="744.7" r="2.4"/><circle cx="229" cy="739.2" r="2.4"/><circle cx="229.4" cy="740.4" r="2.4"/><circle cx="229.7" cy="737.4" r="2.4"/><circle cx="230" cy="735.1" r="2.4"/><circle cx="230.3" cy="733.1" r="2.4"/><circle cx="230.6" cy="712.7" r="2.4"/><circle cx="230.9" cy="713.3" r="2.4"/><circle cx="231.2" cy="684.7" r="2.4"/><circle cx="231.5" cy="684" r="2.4"/><circle cx="231.9" cy="661.3" r="2.4"/><circle cx="232.2" cy="631" r="2.4"/><circle cx="232.5" cy="661.4" r="2.4"/><circle cx="232.8" cy="646.3" r="2.4"/><circle cx="233.1" cy="686.2" r="2.4"/><circle cx="233.4" cy="694.9" r="2.4"/><circle cx="233.7" cy="708.6" r="2.4"/><circle cx="234.1" cy="695" r="2.4"/><circle cx="234.4" cy="712.5" r="2.4"/><circle cx="234.7" cy="682.3" r="2.4"/><circle cx="235" cy="692.4" r="2.4"/><circle cx="235.3" cy="701.5" r="2.4"/><circle cx="235.6" cy="705.1" r="2.4"/><circle cx="235.9" cy="708.7" r="2.4"/><circle cx="236.2" cy="715.5" r="2.4"/><circle cx="236.6" cy="715" r="2.4"/><circle cx="236.9" cy="714.7" r="2.4"/><circle cx="237.2" cy="702.5" r="2.4"/><circle cx="237.5" cy="711" r="2.4"/><circle cx="237.8" cy="687.3" r="2.4"/><circle cx="238.1" cy="692.5" r="2.4"/><circle cx="238.4" cy="693.9" r="2.4"/><circle cx="238.8" cy="691.4" r="2.4"/><circle cx="239.1" cy="700.5" r="2.4"/><circle cx="239.4" cy="705.5" r="2.4"/><circle cx="239.7" cy="706.3" r="2.4"/><circle cx="240" cy="710.5" r="2.4"/><circle cx="240.3" cy="714.5" r="2.4"/><circle cx="240.6" cy="714.5" r="2.4"/><circle cx="240.9" cy="716.1" r="2.4"/><circle cx="241.3" cy="714.5" r="2.4"/><circle cx="241.6" cy="700.3" r="2.4"/><circle cx="241.9" cy="712.2" r="2.4"/><circle cx="242.2" cy="711" r="2.4"/><circle cx="242.5" cy="702.2" r="2.4"/><circle cx="242.8" cy="702.4" r="2.4"/><circle cx="243.1" cy="707.3" r="2.4"/><circle cx="243.5" cy="713.8" r="2.4"/><circle cx="243.8" cy="680.4" r="2.4"/><circle cx="244.1" cy="705.6" r="2.4"/><circle cx="244.4" cy="688.7" r="2.4"/><circle cx="244.7" cy="696.8" r="2.4"/><circle cx="245" cy="702" r="2.4"/><circle cx="245.3" cy="676.6" r="2.4"/><circle cx="245.6" cy="675" r="2.4"/><circle cx="246" cy="686.2" r="2.4"/><circle cx="246.3" cy="694.2" r="2.4"/><circle cx="246.6" cy="703.2" r="2.4"/><circle cx="246.9" cy="680.7" r="2.4"/><circle cx="247.2" cy="688.5" r="2.4"/><circle cx="247.5" cy="698.4" r="2.4"/><circle cx="247.8" cy="709.6" r="2.4"/><circle cx="248.2" cy="722.8" r="2.4"/><circle cx="248.5" cy="727.1" r="2.4"/><circle cx="248.8" cy="669.4" r="2.4"/><circle cx="249.1" cy="683" r="2.4"/><circle cx="249.4" cy="690.4" r="2.4"/><circle cx="249.7" cy="708.7" r="2.4"/><circle cx="250" cy="729.9" r="2.4"/><circle cx="250.3" cy="730.4" r="2.4"/><circle cx="250.7" cy="730.9" r="2.4"/><circle cx="251" cy="689.3" r="2.4"/><circle cx="251.3" cy="670.4" r="2.4"/><circle cx="251.6" cy="689.8" r="2.4"/><circle cx="251.9" cy="710.7" r="2.4"/><circle cx="252.2" cy="686.6" r="2.4"/><circle cx="252.5" cy="702.6" r="2.4"/><circle cx="252.9" cy="722" r="2.4"/><circle cx="253.2" cy="723.9" r="2.4"/><circle cx="253.5" cy="712.1" r="2.4"/><circle cx="253.8" cy="658.5" r="2.4"/><circle cx="254.1" cy="681.8" r="2.4"/><circle cx="254.4" cy="701.9" r="2.4"/><circle cx="254.7" cy="681.1" r="2.4"/><circle cx="255" cy="714.8" r="2.4"/><circle cx="255.4" cy="715.4" r="2.4"/><circle cx="255.7" cy="680.1" r="2.4"/><circle cx="256" cy="697.6" r="2.4"/><circle cx="256.3" cy="718.4" r="2.4"/><circle cx="256.6" cy="721.4" r="2.4"/><circle cx="256.9" cy="727.2" r="2.4"/><circle cx="257.2" cy="706.4" r="2.4"/><circle cx="257.6" cy="711.8" r="2.4"/><circle cx="257.9" cy="693.4" r="2.4"/><circle cx="258.2" cy="686.9" r="2.4"/><circle cx="258.5" cy="709.6" r="2.4"/><circle cx="258.8" cy="711.5" r="2.4"/><circle cx="259.1" cy="686.2" r="2.4"/><circle cx="259.4" cy="696" r="2.4"/><circle cx="259.7" cy="681.6" r="2.4"/><circle cx="260.1" cy="698.3" r="2.4"/><circle cx="260.4" cy="720.4" r="2.4"/><circle cx="260.7" cy="733.6" r="2.4"/><circle cx="261" cy="719.7" r="2.4"/><circle cx="261.3" cy="725.3" r="2.4"/><circle cx="261.6" cy="725.4" r="2.4"/><circle cx="261.9" cy="697.1" r="2.4"/><circle cx="262.3" cy="686.7" r="2.4"/><circle cx="262.6" cy="703.6" r="2.4"/><circle cx="262.9" cy="681.2" r="2.4"/><circle cx="263.2" cy="610.5" r="2.4"/><circle cx="263.5" cy="638.3" r="2.4"/><circle cx="263.8" cy="662.6" r="2.4"/><circle cx="264.1" cy="680" r="2.4"/><circle cx="264.4" cy="660.2" r="2.4"/><circle cx="264.8" cy="633.7" r="2.4"/><circle cx="265.1" cy="651.5" r="2.4"/><circle cx="265.4" cy="662.6" r="2.4"/><circle cx="265.7" cy="666.3" r="2.4"/><circle cx="266" cy="686.4" r="2.4"/><circle cx="266.3" cy="702.2" r="2.4"/><circle cx="266.6" cy="673.8" r="2.4"/><circle cx="267" cy="682.2" r="2.4"/><circle cx="267.3" cy="708.5" r="2.4"/><circle cx="267.6" cy="690.6" r="2.4"/><circle cx="267.9" cy="698.9" r="2.4"/><circle cx="268.2" cy="704.8" r="2.4"/><circle cx="268.5" cy="714.7" r="2.4"/><circle cx="268.8" cy="717.5" r="2.4"/><circle cx="269.1" cy="721" r="2.4"/><circle cx="269.5" cy="723.2" r="2.4"/><circle cx="269.8" cy="718.1" r="2.4"/><circle cx="270.1" cy="698.6" r="2.4"/><circle cx="270.4" cy="693.1" r="2.4"/><circle cx="270.7" cy="709.8" r="2.4"/><circle cx="271" cy="713.1" r="2.4"/><circle cx="271.3" cy="710.6" r="2.4"/><circle cx="271.7" cy="708.6" r="2.4"/><circle cx="272" cy="719.4" r="2.4"/><circle cx="272.3" cy="725.5" r="2.4"/><circle cx="272.6" cy="729.7" r="2.4"/><circle cx="272.9" cy="714.7" r="2.4"/><circle cx="273.2" cy="721.1" r="2.4"/><circle cx="273.5" cy="719.1" r="2.4"/><circle cx="273.8" cy="731.6" r="2.4"/><circle cx="274.2" cy="726.1" r="2.4"/><circle cx="274.5" cy="736.4" r="2.4"/><circle cx="274.8" cy="739" r="2.4"/><circle cx="275.1" cy="726.1" r="2.4"/><circle cx="275.4" cy="737.4" r="2.4"/><circle cx="275.7" cy="744.9" r="2.4"/><circle cx="276" cy="734.1" r="2.4"/><circle cx="276.4" cy="741.9" r="2.4"/><circle cx="276.7" cy="746.5" r="2.4"/><circle cx="277" cy="749.6" r="2.4"/><circle cx="277.3" cy="752.6" r="2.4"/><circle cx="277.6" cy="741.2" r="2.4"/><circle cx="277.9" cy="744.7" r="2.4"/><circle cx="278.2" cy="749.4" r="2.4"/><circle cx="278.5" cy="751.4" r="2.4"/><circle cx="278.9" cy="755.6" r="2.4"/><circle cx="279.2" cy="743.6" r="2.4"/><circle cx="279.5" cy="744.8" r="2.4"/><circle cx="279.8" cy="747.8" r="2.4"/><circle cx="280.1" cy="748.1" r="2.4"/><circle cx="280.4" cy="750.9" r="2.4"/><circle cx="280.7" cy="755.1" r="2.4"/><circle cx="281.1" cy="754.5" r="2.4"/><circle cx="281.4" cy="755.7" r="2.4"/><circle cx="281.7" cy="747.8" r="2.4"/><circle cx="282" cy="750.8" r="2.4"/><circle cx="282.3" cy="759.5" r="2.4"/><circle cx="282.6" cy="759.6" r="2.4"/><circle cx="282.9" cy="759.3" r="2.4"/><circle cx="283.2" cy="751.6" r="2.4"/><circle cx="283.6" cy="758.8" r="2.4"/><circle cx="283.9" cy="760.7" r="2.4"/><circle cx="284.2" cy="754.4" r="2.4"/><circle cx="284.5" cy="758.4" r="2.4"/><circle cx="284.8" cy="760.4" r="2.4"/><circle cx="285.1" cy="761.2" r="2.4"/><circle cx="285.4" cy="763" r="2.4"/><circle cx="285.8" cy="762.5" r="2.4"/><circle cx="286.1" cy="763.7" r="2.4"/><circle cx="286.4" cy="763.6" r="2.4"/><circle cx="286.7" cy="763.7" r="2.4"/><circle cx="287" cy="758.3" r="2.4"/><circle cx="287.3" cy="763.7" r="2.4"/><circle cx="287.6" cy="755.5" r="2.4"/><circle cx="287.9" cy="758.8" r="2.4"/><circle cx="288.3" cy="759.3" r="2.4"/><circle cx="288.6" cy="764" r="2.4"/><circle cx="288.9" cy="750.2" r="2.4"/><circle cx="289.2" cy="757.6" r="2.4"/><circle cx="289.5" cy="763" r="2.4"/><circle cx="289.8" cy="759.6" r="2.4"/><circle cx="290.1" cy="761.5" r="2.4"/><circle cx="290.5" cy="763.2" r="2.4"/><circle cx="290.8" cy="764.9" r="2.4"/><circle cx="291.1" cy="762" r="2.4"/><circle cx="291.4" cy="763.9" r="2.4"/><circle cx="291.7" cy="764.9" r="2.4"/><circle cx="292" cy="766.9" r="2.4"/><circle cx="292.3" cy="765.8" r="2.4"/><circle cx="292.6" cy="768" r="2.4"/><circle cx="293" cy="769.3" r="2.4"/><circle cx="293.3" cy="762.6" r="2.4"/><circle cx="293.6" cy="767.7" r="2.4"/><circle cx="293.9" cy="766.3" r="2.4"/><circle cx="294.2" cy="763.6" r="2.4"/><circle cx="294.5" cy="768.5" r="2.4"/><circle cx="294.8" cy="766.9" r="2.4"/><circle cx="295.2" cy="775" r="2.4"/><circle cx="295.5" cy="765.7" r="2.4"/><circle cx="295.8" cy="772.9" r="2.4"/><circle cx="296.1" cy="774" r="2.4"/><circle cx="296.4" cy="775.1" r="2.4"/><circle cx="296.7" cy="776.4" r="2.4"/><circle cx="297" cy="775.7" r="2.4"/><circle cx="297.3" cy="775.5" r="2.4"/><circle cx="297.7" cy="777.1" r="2.4"/><circle cx="298" cy="776.5" r="2.4"/><circle cx="298.3" cy="778.9" r="2.4"/><circle cx="298.6" cy="777.2" r="2.4"/><circle cx="298.9" cy="766" r="2.4"/><circle cx="299.2" cy="770" r="2.4"/><circle cx="299.5" cy="770.4" r="2.4"/><circle cx="299.9" cy="769" r="2.4"/><circle cx="300.2" cy="750.5" r="2.4"/><circle cx="300.5" cy="759" r="2.4"/><circle cx="300.8" cy="743.8" r="2.4"/><circle cx="301.1" cy="751.2" r="2.4"/><circle cx="301.4" cy="757.4" r="2.4"/><circle cx="301.7" cy="757.1" r="2.4"/><circle cx="302" cy="765.3" r="2.4"/><circle cx="302.4" cy="767.8" r="2.4"/><circle cx="302.7" cy="768.5" r="2.4"/><circle cx="303" cy="764.4" r="2.4"/><circle cx="303.3" cy="759" r="2.4"/><circle cx="303.6" cy="768.7" r="2.4"/><circle cx="303.9" cy="771.8" r="2.4"/><circle cx="304.2" cy="767.1" r="2.4"/><circle cx="304.6" cy="772.2" r="2.4"/><circle cx="304.9" cy="772.5" r="2.4"/><circle cx="305.2" cy="774.4" r="2.4"/><circle cx="305.5" cy="774.2" r="2.4"/><circle cx="305.8" cy="773.3" r="2.4"/><circle cx="306.1" cy="772.9" r="2.4"/><circle cx="306.4" cy="769.4" r="2.4"/><circle cx="306.7" cy="773.6" r="2.4"/><circle cx="307.1" cy="773" r="2.4"/><circle cx="307.4" cy="774" r="2.4"/><circle cx="307.7" cy="774.5" r="2.4"/><circle cx="308" cy="773.9" r="2.4"/><circle cx="308.3" cy="774.1" r="2.4"/><circle cx="308.6" cy="775" r="2.4"/><circle cx="308.9" cy="774.1" r="2.4"/><circle cx="309.3" cy="771.4" r="2.4"/><circle cx="309.6" cy="770.7" r="2.4"/><circle cx="309.9" cy="767.6" r="2.4"/><circle cx="310.2" cy="766.5" r="2.4"/><circle cx="310.5" cy="756.4" r="2.4"/><circle cx="310.8" cy="763" r="2.4"/><circle cx="311.1" cy="762.2" r="2.4"/><circle cx="311.4" cy="760.8" r="2.4"/><circle cx="311.8" cy="765.1" r="2.4"/><circle cx="312.1" cy="754.7" r="2.4"/><circle cx="312.4" cy="761.5" r="2.4"/><circle cx="312.7" cy="761" r="2.4"/><circle cx="313" cy="764.1" r="2.4"/><circle cx="313.3" cy="765.3" r="2.4"/><circle cx="313.6" cy="766.5" r="2.4"/><circle cx="314" cy="750.7" r="2.4"/><circle cx="314.3" cy="757.3" r="2.4"/><circle cx="314.6" cy="760.6" r="2.4"/><circle cx="314.9" cy="759" r="2.4"/><circle cx="315.2" cy="742.7" r="2.4"/><circle cx="315.5" cy="744" r="2.4"/><circle cx="315.8" cy="737.5" r="2.4"/><circle cx="316.1" cy="737.4" r="2.4"/><circle cx="316.5" cy="717.8" r="2.4"/><circle cx="316.8" cy="715.9" r="2.4"/><circle cx="317.1" cy="699.4" r="2.4"/><circle cx="317.4" cy="712.1" r="2.4"/><circle cx="317.7" cy="718.2" r="2.4"/><circle cx="318" cy="728" r="2.4"/><circle cx="318.3" cy="735.8" r="2.4"/><circle cx="318.7" cy="730.8" r="2.4"/><circle cx="319" cy="741.8" r="2.4"/><circle cx="319.3" cy="735.6" r="2.4"/><circle cx="319.6" cy="741.7" r="2.4"/><circle cx="319.9" cy="745.4" r="2.4"/><circle cx="320.2" cy="753.1" r="2.4"/><circle cx="320.5" cy="759.1" r="2.4"/><circle cx="320.8" cy="755.6" r="2.4"/><circle cx="321.2" cy="736.3" r="2.4"/><circle cx="321.5" cy="738.9" r="2.4"/><circle cx="321.8" cy="739.9" r="2.4"/><circle cx="322.1" cy="721.1" r="2.4"/><circle cx="322.4" cy="721.1" r="2.4"/><circle cx="322.7" cy="731.2" r="2.4"/><circle cx="323" cy="731.5" r="2.4"/><circle cx="323.4" cy="742.4" r="2.4"/><circle cx="323.7" cy="709.9" r="2.4"/><circle cx="324" cy="712.9" r="2.4"/><circle cx="324.3" cy="711.7" r="2.4"/><circle cx="324.6" cy="742.5" r="2.4"/><circle cx="324.9" cy="746.8" r="2.4"/><circle cx="325.2" cy="745.4" r="2.4"/><circle cx="325.5" cy="743.3" r="2.4"/><circle cx="325.9" cy="715.4" r="2.4"/><circle cx="326.2" cy="682.9" r="2.4"/><circle cx="326.5" cy="688.6" r="2.4"/><circle cx="326.8" cy="712.7" r="2.4"/><circle cx="327.1" cy="719.8" r="2.4"/><circle cx="327.4" cy="704.3" r="2.4"/><circle cx="327.7" cy="642.5" r="2.4"/><circle cx="328.1" cy="668.2" r="2.4"/><circle cx="328.4" cy="689.4" r="2.4"/><circle cx="328.7" cy="697.4" r="2.4"/><circle cx="329" cy="663.9" r="2.4"/><circle cx="329.3" cy="693" r="2.4"/><circle cx="329.6" cy="668.4" r="2.4"/><circle cx="329.9" cy="684.9" r="2.4"/><circle cx="330.3" cy="695.1" r="2.4"/><circle cx="330.6" cy="715.6" r="2.4"/><circle cx="330.9" cy="686.6" r="2.4"/><circle cx="331.2" cy="698.5" r="2.4"/><circle cx="331.5" cy="705.3" r="2.4"/><circle cx="331.8" cy="713.8" r="2.4"/><circle cx="332.1" cy="723.3" r="2.4"/><circle cx="332.4" cy="706" r="2.4"/><circle cx="332.8" cy="701.9" r="2.4"/><circle cx="333.1" cy="714.7" r="2.4"/><circle cx="333.4" cy="714.5" r="2.4"/><circle cx="333.7" cy="689.9" r="2.4"/><circle cx="334" cy="704.3" r="2.4"/><circle cx="334.3" cy="705.9" r="2.4"/><circle cx="334.6" cy="695" r="2.4"/><circle cx="335" cy="712.1" r="2.4"/><circle cx="335.3" cy="721" r="2.4"/><circle cx="335.6" cy="724.4" r="2.4"/><circle cx="335.9" cy="725.2" r="2.4"/><circle cx="336.2" cy="725.6" r="2.4"/><circle cx="336.5" cy="685.3" r="2.4"/><circle cx="336.8" cy="707.2" r="2.4"/><circle cx="337.1" cy="720.4" r="2.4"/><circle cx="337.5" cy="721.2" r="2.4"/><circle cx="337.8" cy="721.2" r="2.4"/><circle cx="338.1" cy="729.9" r="2.4"/><circle cx="338.4" cy="713.1" r="2.4"/><circle cx="338.7" cy="730.6" r="2.4"/><circle cx="339" cy="732.8" r="2.4"/><circle cx="339.3" cy="735.8" r="2.4"/><circle cx="339.7" cy="737.6" r="2.4"/><circle cx="340" cy="738.8" r="2.4"/><circle cx="340.3" cy="731.7" r="2.4"/><circle cx="340.6" cy="732.5" r="2.4"/><circle cx="340.9" cy="733" r="2.4"/><circle cx="341.2" cy="736.3" r="2.4"/><circle cx="341.5" cy="739.2" r="2.4"/><circle cx="341.8" cy="741.2" r="2.4"/><circle cx="342.2" cy="739.4" r="2.4"/><circle cx="342.5" cy="733.5" r="2.4"/><circle cx="342.8" cy="702.2" r="2.4"/><circle cx="343.1" cy="707" r="2.4"/><circle cx="343.4" cy="706.2" r="2.4"/><circle cx="343.7" cy="660.1" r="2.4"/><circle cx="344" cy="650" r="2.4"/><circle cx="344.4" cy="655.5" r="2.4"/><circle cx="344.7" cy="701.1" r="2.4"/><circle cx="345" cy="677.4" r="2.4"/><circle cx="345.3" cy="699.2" r="2.4"/><circle cx="345.6" cy="619.3" r="2.4"/><circle cx="345.9" cy="654.7" r="2.4"/><circle cx="346.2" cy="697.8" r="2.4"/><circle cx="346.5" cy="703.2" r="2.4"/><circle cx="346.9" cy="707.1" r="2.4"/><circle cx="347.2" cy="640.1" r="2.4"/><circle cx="347.5" cy="678.5" r="2.4"/><circle cx="347.8" cy="605.9" r="2.4"/><circle cx="348.1" cy="636.5" r="2.4"/><circle cx="348.4" cy="662.2" r="2.4"/><circle cx="348.7" cy="675.6" r="2.4"/><circle cx="349.1" cy="705.1" r="2.4"/><circle cx="349.4" cy="706.1" r="2.4"/><circle cx="349.7" cy="658.7" r="2.4"/><circle cx="350" cy="676.4" r="2.4"/><circle cx="350.3" cy="682.1" r="2.4"/><circle cx="350.6" cy="631.7" r="2.4"/><circle cx="350.9" cy="644.3" r="2.4"/><circle cx="351.2" cy="628.9" r="2.4"/><circle cx="351.6" cy="632.7" r="2.4"/><circle cx="351.9" cy="647.2" r="2.4"/><circle cx="352.2" cy="656.3" r="2.4"/><circle cx="352.5" cy="655.1" r="2.4"/><circle cx="352.8" cy="674" r="2.4"/><circle cx="353.1" cy="675.3" r="2.4"/><circle cx="353.4" cy="668" r="2.4"/><circle cx="353.8" cy="619.1" r="2.4"/><circle cx="354.1" cy="623.4" r="2.4"/><circle cx="354.4" cy="641.6" r="2.4"/><circle cx="354.7" cy="581.4" r="2.4"/><circle cx="355" cy="612" r="2.4"/><circle cx="355.3" cy="628.1" r="2.4"/><circle cx="355.6" cy="645.6" r="2.4"/><circle cx="355.9" cy="625.2" r="2.4"/><circle cx="356.3" cy="653.3" r="2.4"/><circle cx="356.6" cy="641.7" r="2.4"/><circle cx="356.9" cy="652.4" r="2.4"/><circle cx="357.2" cy="665.4" r="2.4"/><circle cx="357.5" cy="674.2" r="2.4"/><circle cx="357.8" cy="648.5" r="2.4"/><circle cx="358.1" cy="664.1" r="2.4"/><circle cx="358.5" cy="643" r="2.4"/><circle cx="358.8" cy="651.3" r="2.4"/><circle cx="359.1" cy="651.2" r="2.4"/><circle cx="359.4" cy="652.8" r="2.4"/><circle cx="359.7" cy="658.3" r="2.4"/><circle cx="360" cy="668.1" r="2.4"/><circle cx="360.3" cy="684.1" r="2.4"/><circle cx="360.6" cy="689.9" r="2.4"/><circle cx="361" cy="689.6" r="2.4"/><circle cx="361.3" cy="689.7" r="2.4"/><circle cx="361.6" cy="663.4" r="2.4"/><circle cx="361.9" cy="673.8" r="2.4"/><circle cx="362.2" cy="659.3" r="2.4"/><circle cx="362.5" cy="675.7" r="2.4"/><circle cx="362.8" cy="682.9" r="2.4"/><circle cx="363.2" cy="665" r="2.4"/><circle cx="363.5" cy="680" r="2.4"/><circle cx="363.8" cy="692.5" r="2.4"/><circle cx="364.1" cy="683" r="2.4"/><circle cx="364.4" cy="688.8" r="2.4"/><circle cx="364.7" cy="690.9" r="2.4"/><circle cx="365" cy="677.7" r="2.4"/><circle cx="365.3" cy="694.7" r="2.4"/><circle cx="365.7" cy="696.6" r="2.4"/><circle cx="366" cy="690.8" r="2.4"/><circle cx="366.3" cy="698.4" r="2.4"/><circle cx="366.6" cy="699.6" r="2.4"/><circle cx="366.9" cy="707.4" r="2.4"/><circle cx="367.2" cy="708.4" r="2.4"/><circle cx="367.5" cy="689" r="2.4"/><circle cx="367.9" cy="704.8" r="2.4"/><circle cx="368.2" cy="682" r="2.4"/><circle cx="368.5" cy="694.5" r="2.4"/><circle cx="368.8" cy="696.8" r="2.4"/><circle cx="369.1" cy="688.8" r="2.4"/><circle cx="369.4" cy="705.2" r="2.4"/><circle cx="369.7" cy="712.3" r="2.4"/><circle cx="370" cy="713.2" r="2.4"/><circle cx="370.4" cy="693.8" r="2.4"/><circle cx="370.7" cy="697.9" r="2.4"/><circle cx="371" cy="711.1" r="2.4"/><circle cx="371.3" cy="714.9" r="2.4"/><circle cx="371.6" cy="716.3" r="2.4"/><circle cx="371.9" cy="718.5" r="2.4"/><circle cx="372.2" cy="705.5" r="2.4"/><circle cx="372.6" cy="701.8" r="2.4"/><circle cx="372.9" cy="717.3" r="2.4"/><circle cx="373.2" cy="726.2" r="2.4"/><circle cx="373.5" cy="727.8" r="2.4"/><circle cx="373.8" cy="729.4" r="2.4"/><circle cx="374.1" cy="696.4" r="2.4"/><circle cx="374.4" cy="715.5" r="2.4"/><circle cx="374.7" cy="728.1" r="2.4"/><circle cx="375.1" cy="730.8" r="2.4"/><circle cx="375.4" cy="701.3" r="2.4"/><circle cx="375.7" cy="710.9" r="2.4"/><circle cx="376" cy="700.4" r="2.4"/><circle cx="376.3" cy="721.4" r="2.4"/><circle cx="376.6" cy="700.6" r="2.4"/><circle cx="376.9" cy="709.8" r="2.4"/><circle cx="377.3" cy="715.7" r="2.4"/><circle cx="377.6" cy="730.3" r="2.4"/><circle cx="377.9" cy="705.4" r="2.4"/><circle cx="378.2" cy="725.7" r="2.4"/><circle cx="378.5" cy="729.9" r="2.4"/><circle cx="378.8" cy="724.6" r="2.4"/><circle cx="379.1" cy="702.6" r="2.4"/><circle cx="379.4" cy="716.4" r="2.4"/><circle cx="379.8" cy="728" r="2.4"/><circle cx="380.1" cy="740.6" r="2.4"/><circle cx="380.4" cy="715.5" r="2.4"/><circle cx="380.7" cy="720" r="2.4"/><circle cx="381" cy="726.9" r="2.4"/><circle cx="381.3" cy="724.4" r="2.4"/><circle cx="381.6" cy="731.9" r="2.4"/><circle cx="382" cy="744.9" r="2.4"/><circle cx="382.3" cy="754.9" r="2.4"/><circle cx="382.6" cy="741.4" r="2.4"/><circle cx="382.9" cy="750.7" r="2.4"/><circle cx="383.2" cy="752.9" r="2.4"/><circle cx="383.5" cy="742.1" r="2.4"/><circle cx="383.8" cy="748.7" r="2.4"/><circle cx="384.1" cy="757.8" r="2.4"/><circle cx="384.5" cy="752.3" r="2.4"/><circle cx="384.8" cy="755" r="2.4"/><circle cx="385.1" cy="757.4" r="2.4"/><circle cx="385.4" cy="754.3" r="2.4"/><circle cx="385.7" cy="751.2" r="2.4"/><circle cx="386" cy="754.2" r="2.4"/><circle cx="386.3" cy="762.4" r="2.4"/><circle cx="386.7" cy="762.2" r="2.4"/><circle cx="387" cy="762.7" r="2.4"/><circle cx="387.3" cy="749.3" r="2.4"/><circle cx="387.6" cy="751.4" r="2.4"/><circle cx="387.9" cy="762" r="2.4"/><circle cx="388.2" cy="763" r="2.4"/><circle cx="388.5" cy="763.3" r="2.4"/><circle cx="388.8" cy="765.9" r="2.4"/><circle cx="389.2" cy="766.7" r="2.4"/><circle cx="389.5" cy="754.2" r="2.4"/><circle cx="389.8" cy="757.5" r="2.4"/><circle cx="390.1" cy="759.3" r="2.4"/><circle cx="390.4" cy="763.2" r="2.4"/><circle cx="390.7" cy="765.6" r="2.4"/><circle cx="391" cy="767.2" r="2.4"/><circle cx="391.4" cy="769.6" r="2.4"/><circle cx="391.7" cy="766" r="2.4"/><circle cx="392" cy="759" r="2.4"/><circle cx="392.3" cy="764.5" r="2.4"/><circle cx="392.6" cy="771" r="2.4"/><circle cx="392.9" cy="768.8" r="2.4"/><circle cx="393.2" cy="770.4" r="2.4"/><circle cx="393.5" cy="771" r="2.4"/><circle cx="393.9" cy="773.6" r="2.4"/><circle cx="394.2" cy="773.7" r="2.4"/><circle cx="394.5" cy="770.3" r="2.4"/><circle cx="394.8" cy="773.4" r="2.4"/><circle cx="395.1" cy="773.9" r="2.4"/><circle cx="395.4" cy="767.2" r="2.4"/><circle cx="395.7" cy="773.3" r="2.4"/><circle cx="396.1" cy="775.1" r="2.4"/><circle cx="396.4" cy="774" r="2.4"/><circle cx="396.7" cy="770.8" r="2.4"/><circle cx="397" cy="771.2" r="2.4"/><circle cx="397.3" cy="767.1" r="2.4"/><circle cx="397.6" cy="771.1" r="2.4"/><circle cx="397.9" cy="773.2" r="2.4"/><circle cx="398.2" cy="762.5" r="2.4"/><circle cx="398.6" cy="772.7" r="2.4"/><circle cx="398.9" cy="748.2" r="2.4"/><circle cx="399.2" cy="740" r="2.4"/><circle cx="399.5" cy="752.4" r="2.4"/><circle cx="399.8" cy="757.6" r="2.4"/><circle cx="400.1" cy="760.9" r="2.4"/><circle cx="400.4" cy="774" r="2.4"/><circle cx="400.8" cy="775.6" r="2.4"/><circle cx="401.1" cy="775.2" r="2.4"/><circle cx="401.4" cy="776" r="2.4"/><circle cx="401.7" cy="775.4" r="2.4"/><circle cx="402" cy="765.6" r="2.4"/><circle cx="402.3" cy="770" r="2.4"/><circle cx="402.6" cy="772.8" r="2.4"/><circle cx="402.9" cy="774.9" r="2.4"/><circle cx="403.3" cy="776.1" r="2.4"/><circle cx="403.6" cy="766.5" r="2.4"/><circle cx="403.9" cy="761.6" r="2.4"/><circle cx="404.2" cy="769.4" r="2.4"/><circle cx="404.5" cy="772.3" r="2.4"/><circle cx="404.8" cy="774.8" r="2.4"/><circle cx="405.1" cy="758.1" r="2.4"/><circle cx="405.5" cy="764" r="2.4"/><circle cx="405.8" cy="773.8" r="2.4"/><circle cx="406.1" cy="775.4" r="2.4"/><circle cx="406.4" cy="750.3" r="2.4"/><circle cx="406.7" cy="772.3" r="2.4"/><circle cx="407" cy="775.3" r="2.4"/><circle cx="407.3" cy="766" r="2.4"/><circle cx="407.6" cy="768" r="2.4"/><circle cx="408" cy="776.5" r="2.4"/><circle cx="408.3" cy="765.3" r="2.4"/><circle cx="408.6" cy="769.6" r="2.4"/><circle cx="408.9" cy="775.8" r="2.4"/><circle cx="409.2" cy="777" r="2.4"/><circle cx="409.5" cy="776.5" r="2.4"/><circle cx="409.8" cy="777" r="2.4"/><circle cx="410.2" cy="777.4" r="2.4"/><circle cx="410.5" cy="777.7" r="2.4"/><circle cx="410.8" cy="774.1" r="2.4"/><circle cx="411.1" cy="777" r="2.4"/><circle cx="411.4" cy="775.7" r="2.4"/><circle cx="411.7" cy="777" r="2.4"/><circle cx="412" cy="776.9" r="2.4"/><circle cx="412.3" cy="778.1" r="2.4"/><circle cx="412.7" cy="774" r="2.4"/><circle cx="413" cy="777.5" r="2.4"/><circle cx="413.3" cy="777.1" r="2.4"/><circle cx="413.6" cy="778.6" r="2.4"/><circle cx="413.9" cy="778.2" r="2.4"/><circle cx="414.2" cy="778.9" r="2.4"/><circle cx="414.5" cy="779.5" r="2.4"/><circle cx="414.9" cy="779.3" r="2.4"/><circle cx="415.2" cy="780.9" r="2.4"/><circle cx="415.5" cy="779.1" r="2.4"/><circle cx="415.8" cy="776.9" r="2.4"/><circle cx="416.1" cy="775.6" r="2.4"/><circle cx="416.4" cy="779.3" r="2.4"/><circle cx="416.7" cy="781" r="2.4"/><circle cx="417" cy="779.1" r="2.4"/><circle cx="417.4" cy="781.4" r="2.4"/><circle cx="417.7" cy="780.7" r="2.4"/><circle cx="418" cy="780.9" r="2.4"/><circle cx="418.3" cy="780.8" r="2.4"/><circle cx="418.6" cy="780.6" r="2.4"/><circle cx="418.9" cy="781.9" r="2.4"/><circle cx="419.2" cy="780.3" r="2.4"/><circle cx="419.6" cy="774.7" r="2.4"/><circle cx="419.9" cy="779.9" r="2.4"/><circle cx="420.2" cy="777" r="2.4"/><circle cx="420.5" cy="779.6" r="2.4"/><circle cx="420.8" cy="780" r="2.4"/><circle cx="421.1" cy="779.6" r="2.4"/><circle cx="421.4" cy="779.6" r="2.4"/><circle cx="421.7" cy="779.3" r="2.4"/><circle cx="422.1" cy="779.1" r="2.4"/><circle cx="422.4" cy="778" r="2.4"/><circle cx="422.7" cy="779.1" r="2.4"/><circle cx="423" cy="777.3" r="2.4"/><circle cx="423.3" cy="777.3" r="2.4"/><circle cx="423.6" cy="778.4" r="2.4"/><circle cx="423.9" cy="778.6" r="2.4"/><circle cx="424.3" cy="776.3" r="2.4"/><circle cx="424.6" cy="771.2" r="2.4"/><circle cx="424.9" cy="775.8" r="2.4"/><circle cx="425.2" cy="777.9" r="2.4"/><circle cx="425.5" cy="772.2" r="2.4"/><circle cx="425.8" cy="775.8" r="2.4"/><circle cx="426.1" cy="777.9" r="2.4"/><circle cx="426.4" cy="779.1" r="2.4"/><circle cx="426.8" cy="772.3" r="2.4"/><circle cx="427.1" cy="776" r="2.4"/><circle cx="427.4" cy="776.2" r="2.4"/><circle cx="427.7" cy="778.5" r="2.4"/><circle cx="428" cy="777.8" r="2.4"/><circle cx="428.3" cy="778" r="2.4"/><circle cx="428.6" cy="778.1" r="2.4"/><circle cx="429" cy="778.7" r="2.4"/><circle cx="429.3" cy="778.8" r="2.4"/><circle cx="429.6" cy="770.5" r="2.4"/><circle cx="429.9" cy="778.5" r="2.4"/><circle cx="430.2" cy="774.3" r="2.4"/><circle cx="430.5" cy="776.8" r="2.4"/><circle cx="430.8" cy="777.9" r="2.4"/><circle cx="431.1" cy="753.5" r="2.4"/><circle cx="431.5" cy="745.3" r="2.4"/><circle cx="431.8" cy="742" r="2.4"/><circle cx="432.1" cy="774.1" r="2.4"/><circle cx="432.4" cy="779" r="2.4"/><circle cx="432.7" cy="775.9" r="2.4"/><circle cx="433" cy="759.4" r="2.4"/><circle cx="433.3" cy="765" r="2.4"/><circle cx="433.7" cy="764.4" r="2.4"/><circle cx="434" cy="770.6" r="2.4"/><circle cx="434.3" cy="769.9" r="2.4"/><circle cx="434.6" cy="762.1" r="2.4"/><circle cx="434.9" cy="733.2" r="2.4"/><circle cx="435.2" cy="632.3" r="2.4"/><circle cx="435.5" cy="676.2" r="2.4"/><circle cx="435.8" cy="711.1" r="2.4"/><circle cx="436.2" cy="677.3" r="2.4"/><circle cx="436.5" cy="743.6" r="2.4"/><circle cx="436.8" cy="737.3" r="2.4"/><circle cx="437.1" cy="744.1" r="2.4"/><circle cx="437.4" cy="750.3" r="2.4"/><circle cx="437.7" cy="756.8" r="2.4"/><circle cx="438" cy="754" r="2.4"/><circle cx="438.4" cy="755.3" r="2.4"/><circle cx="438.7" cy="751.3" r="2.4"/><circle cx="439" cy="752.4" r="2.4"/><circle cx="439.3" cy="755.5" r="2.4"/><circle cx="439.6" cy="745" r="2.4"/><circle cx="439.9" cy="752" r="2.4"/><circle cx="440.2" cy="755.1" r="2.4"/><circle cx="440.5" cy="729.6" r="2.4"/><circle cx="440.9" cy="738.4" r="2.4"/><circle cx="441.2" cy="756" r="2.4"/><circle cx="441.5" cy="753.5" r="2.4"/><circle cx="441.8" cy="720.6" r="2.4"/><circle cx="442.1" cy="714.2" r="2.4"/><circle cx="442.4" cy="724.6" r="2.4"/><circle cx="442.7" cy="728.2" r="2.4"/><circle cx="443.1" cy="729.9" r="2.4"/><circle cx="443.4" cy="693" r="2.4"/><circle cx="443.7" cy="700.5" r="2.4"/><circle cx="444" cy="700.8" r="2.4"/><circle cx="444.3" cy="713.2" r="2.4"/><circle cx="444.6" cy="657.4" r="2.4"/><circle cx="444.9" cy="704" r="2.4"/><circle cx="445.2" cy="662.5" r="2.4"/><circle cx="445.6" cy="704.5" r="2.4"/><circle cx="445.9" cy="724.7" r="2.4"/><circle cx="446.2" cy="724" r="2.4"/><circle cx="446.5" cy="723.5" r="2.4"/><circle cx="446.8" cy="697.9" r="2.4"/><circle cx="447.1" cy="630.3" r="2.4"/><circle cx="447.4" cy="660.5" r="2.4"/><circle cx="447.8" cy="683.4" r="2.4"/><circle cx="448.1" cy="668.8" r="2.4"/><circle cx="448.4" cy="677.2" r="2.4"/><circle cx="448.7" cy="673.8" r="2.4"/><circle cx="449" cy="692.6" r="2.4"/><circle cx="449.3" cy="696.4" r="2.4"/><circle cx="449.6" cy="705.7" r="2.4"/><circle cx="449.9" cy="700.7" r="2.4"/><circle cx="450.3" cy="719.6" r="2.4"/><circle cx="450.6" cy="716.9" r="2.4"/><circle cx="450.9" cy="720.6" r="2.4"/><circle cx="451.2" cy="697.6" r="2.4"/><circle cx="451.5" cy="686.9" r="2.4"/><circle cx="451.8" cy="689.8" r="2.4"/><circle cx="452.1" cy="710.9" r="2.4"/><circle cx="452.5" cy="718.7" r="2.4"/><circle cx="452.8" cy="704.7" r="2.4"/><circle cx="453.1" cy="705.7" r="2.4"/><circle cx="453.4" cy="709.8" r="2.4"/><circle cx="453.7" cy="686.1" r="2.4"/><circle cx="454" cy="686.7" r="2.4"/><circle cx="454.3" cy="690.5" r="2.4"/><circle cx="454.6" cy="685.4" r="2.4"/><circle cx="455" cy="676.3" r="2.4"/><circle cx="455.3" cy="670.1" r="2.4"/><circle cx="455.6" cy="647" r="2.4"/><circle cx="455.9" cy="655.3" r="2.4"/><circle cx="456.2" cy="606.4" r="2.4"/><circle cx="456.5" cy="617.4" r="2.4"/><circle cx="456.8" cy="638.3" r="2.4"/><circle cx="457.2" cy="646.6" r="2.4"/><circle cx="457.5" cy="650.1" r="2.4"/><circle cx="457.8" cy="663.2" r="2.4"/><circle cx="458.1" cy="649" r="2.4"/><circle cx="458.4" cy="660" r="2.4"/><circle cx="458.7" cy="622.2" r="2.4"/><circle cx="459" cy="653.1" r="2.4"/><circle cx="459.3" cy="660.2" r="2.4"/><circle cx="459.7" cy="671.1" r="2.4"/><circle cx="460" cy="672.8" r="2.4"/><circle cx="460.3" cy="632.8" r="2.4"/><circle cx="460.6" cy="647.5" r="2.4"/><circle cx="460.9" cy="656.9" r="2.4"/><circle cx="461.2" cy="668.9" r="2.4"/><circle cx="461.5" cy="639.7" r="2.4"/><circle cx="461.9" cy="655.3" r="2.4"/><circle cx="462.2" cy="642.2" r="2.4"/><circle cx="462.5" cy="669.8" r="2.4"/><circle cx="462.8" cy="640.8" r="2.4"/><circle cx="463.1" cy="667.9" r="2.4"/><circle cx="463.4" cy="629.6" r="2.4"/><circle cx="463.7" cy="656.9" r="2.4"/><circle cx="464" cy="663.3" r="2.4"/><circle cx="464.4" cy="662.7" r="2.4"/><circle cx="464.7" cy="671.7" r="2.4"/><circle cx="465" cy="661" r="2.4"/><circle cx="465.3" cy="674.5" r="2.4"/><circle cx="465.6" cy="689.3" r="2.4"/><circle cx="465.9" cy="699.8" r="2.4"/><circle cx="466.2" cy="671.5" r="2.4"/><circle cx="466.6" cy="684.7" r="2.4"/><circle cx="466.9" cy="697.5" r="2.4"/><circle cx="467.2" cy="668.3" r="2.4"/><circle cx="467.5" cy="683.9" r="2.4"/><circle cx="467.8" cy="653.2" r="2.4"/><circle cx="468.1" cy="655.9" r="2.4"/><circle cx="468.4" cy="656.9" r="2.4"/><circle cx="468.7" cy="678.5" r="2.4"/><circle cx="469.1" cy="677.4" r="2.4"/><circle cx="469.4" cy="671.8" r="2.4"/><circle cx="469.7" cy="639.3" r="2.4"/><circle cx="470" cy="625.4" r="2.4"/><circle cx="470.3" cy="600.5" r="2.4"/><circle cx="470.6" cy="623.2" r="2.4"/><circle cx="470.9" cy="645.3" r="2.4"/><circle cx="471.3" cy="621" r="2.4"/><circle cx="471.6" cy="637.4" r="2.4"/><circle cx="471.9" cy="644.6" r="2.4"/><circle cx="472.2" cy="663.6" r="2.4"/><circle cx="472.5" cy="672.8" r="2.4"/><circle cx="472.8" cy="665.6" r="2.4"/><circle cx="473.1" cy="679.1" r="2.4"/><circle cx="473.4" cy="688.6" r="2.4"/><circle cx="473.8" cy="664.8" r="2.4"/><circle cx="474.1" cy="673" r="2.4"/><circle cx="474.4" cy="665.4" r="2.4"/><circle cx="474.7" cy="681.7" r="2.4"/><circle cx="475" cy="660" r="2.4"/><circle cx="475.3" cy="671.8" r="2.4"/><circle cx="475.6" cy="651.9" r="2.4"/><circle cx="476" cy="654.3" r="2.4"/><circle cx="476.3" cy="671.3" r="2.4"/><circle cx="476.6" cy="678.6" r="2.4"/><circle cx="476.9" cy="688.7" r="2.4"/><circle cx="477.2" cy="694.2" r="2.4"/><circle cx="477.5" cy="664.4" r="2.4"/><circle cx="477.8" cy="679.4" r="2.4"/><circle cx="478.1" cy="694.3" r="2.4"/><circle cx="478.5" cy="660" r="2.4"/><circle cx="478.8" cy="687.2" r="2.4"/><circle cx="479.1" cy="658.5" r="2.4"/><circle cx="479.4" cy="657.8" r="2.4"/><circle cx="479.7" cy="686.7" r="2.4"/><circle cx="480" cy="691.6" r="2.4"/><circle cx="480.3" cy="701.4" r="2.4"/><circle cx="480.7" cy="663.4" r="2.4"/><circle cx="481" cy="681.1" r="2.4"/><circle cx="481.3" cy="701.4" r="2.4"/><circle cx="481.6" cy="693.7" r="2.4"/><circle cx="481.9" cy="709.6" r="2.4"/><circle cx="482.2" cy="718.7" r="2.4"/><circle cx="482.5" cy="720.7" r="2.4"/><circle cx="482.9" cy="721" r="2.4"/><circle cx="483.2" cy="722.5" r="2.4"/><circle cx="483.5" cy="709.4" r="2.4"/><circle cx="483.8" cy="676.4" r="2.4"/><circle cx="484.1" cy="698" r="2.4"/><circle cx="484.4" cy="709" r="2.4"/><circle cx="484.7" cy="716.2" r="2.4"/><circle cx="485" cy="721" r="2.4"/><circle cx="485.4" cy="731.8" r="2.4"/><circle cx="485.7" cy="734" r="2.4"/><circle cx="486" cy="735.7" r="2.4"/><circle cx="486.3" cy="713.7" r="2.4"/><circle cx="486.6" cy="727.2" r="2.4"/><circle cx="486.9" cy="712.7" r="2.4"/><circle cx="487.2" cy="720.4" r="2.4"/><circle cx="487.6" cy="733.5" r="2.4"/><circle cx="487.9" cy="714.3" r="2.4"/><circle cx="488.2" cy="733" r="2.4"/><circle cx="488.5" cy="739" r="2.4"/><circle cx="488.8" cy="736.1" r="2.4"/><circle cx="489.1" cy="719" r="2.4"/><circle cx="489.4" cy="728.2" r="2.4"/><circle cx="489.7" cy="732.6" r="2.4"/><circle cx="490.1" cy="741.8" r="2.4"/><circle cx="490.4" cy="744.9" r="2.4"/><circle cx="490.7" cy="727.9" r="2.4"/><circle cx="491" cy="723.2" r="2.4"/><circle cx="491.3" cy="724" r="2.4"/><circle cx="491.6" cy="725.6" r="2.4"/><circle cx="491.9" cy="738.7" r="2.4"/><circle cx="492.3" cy="723" r="2.4"/><circle cx="492.6" cy="739.3" r="2.4"/><circle cx="492.9" cy="744.6" r="2.4"/><circle cx="493.2" cy="746.8" r="2.4"/><circle cx="493.5" cy="749.5" r="2.4"/><circle cx="493.8" cy="724.4" r="2.4"/><circle cx="494.1" cy="734.1" r="2.4"/><circle cx="494.4" cy="740.6" r="2.4"/><circle cx="494.8" cy="742.9" r="2.4"/><circle cx="495.1" cy="744.2" r="2.4"/><circle cx="495.4" cy="750.3" r="2.4"/><circle cx="495.7" cy="752" r="2.4"/><circle cx="496" cy="753.1" r="2.4"/><circle cx="496.3" cy="753.9" r="2.4"/><circle cx="496.6" cy="754.3" r="2.4"/><circle cx="497" cy="753.9" r="2.4"/><circle cx="497.3" cy="754.9" r="2.4"/><circle cx="497.6" cy="751" r="2.4"/><circle cx="497.9" cy="754" r="2.4"/><circle cx="498.2" cy="755.8" r="2.4"/><circle cx="498.5" cy="757.5" r="2.4"/><circle cx="498.8" cy="732" r="2.4"/><circle cx="499.1" cy="743.8" r="2.4"/><circle cx="499.5" cy="752" r="2.4"/><circle cx="499.8" cy="754.6" r="2.4"/><circle cx="500.1" cy="744.1" r="2.4"/><circle cx="500.4" cy="751.1" r="2.4"/><circle cx="500.7" cy="757.8" r="2.4"/><circle cx="501" cy="759.7" r="2.4"/><circle cx="501.3" cy="762" r="2.4"/><circle cx="501.7" cy="752.1" r="2.4"/><circle cx="502" cy="747.9" r="2.4"/><circle cx="502.3" cy="754.4" r="2.4"/><circle cx="502.6" cy="758.9" r="2.4"/><circle cx="502.9" cy="760.7" r="2.4"/><circle cx="503.2" cy="747.4" r="2.4"/><circle cx="503.5" cy="758.1" r="2.4"/><circle cx="503.8" cy="749.8" r="2.4"/><circle cx="504.2" cy="756.5" r="2.4"/><circle cx="504.5" cy="746.4" r="2.4"/><circle cx="504.8" cy="738.3" r="2.4"/><circle cx="505.1" cy="753.7" r="2.4"/><circle cx="505.4" cy="735" r="2.4"/><circle cx="505.7" cy="744.2" r="2.4"/><circle cx="506" cy="752.8" r="2.4"/><circle cx="506.4" cy="754.6" r="2.4"/><circle cx="506.7" cy="734.9" r="2.4"/><circle cx="507" cy="750.7" r="2.4"/><circle cx="507.3" cy="736.9" r="2.4"/><circle cx="507.6" cy="744" r="2.4"/><circle cx="507.9" cy="746.8" r="2.4"/><circle cx="508.2" cy="748.2" r="2.4"/><circle cx="508.5" cy="752.9" r="2.4"/><circle cx="508.9" cy="736.5" r="2.4"/><circle cx="509.2" cy="725.7" r="2.4"/><circle cx="509.5" cy="750.5" r="2.4"/><circle cx="509.8" cy="753.4" r="2.4"/><circle cx="510.1" cy="758" r="2.4"/><circle cx="510.4" cy="758.4" r="2.4"/><circle cx="510.7" cy="759" r="2.4"/><circle cx="511.1" cy="760.8" r="2.4"/><circle cx="511.4" cy="761.3" r="2.4"/><circle cx="511.7" cy="757.1" r="2.4"/><circle cx="512" cy="761.4" r="2.4"/><circle cx="512.3" cy="742.6" r="2.4"/><circle cx="512.6" cy="746.4" r="2.4"/><circle cx="512.9" cy="743.8" r="2.4"/><circle cx="513.2" cy="741.2" r="2.4"/><circle cx="513.6" cy="737.5" r="2.4"/><circle cx="513.9" cy="739.2" r="2.4"/><circle cx="514.2" cy="734.6" r="2.4"/><circle cx="514.5" cy="658.2" r="2.4"/><circle cx="514.8" cy="626.6" r="2.4"/><circle cx="515.1" cy="664.4" r="2.4"/><circle cx="515.4" cy="692.1" r="2.4"/><circle cx="515.8" cy="666.6" r="2.4"/><circle cx="516.1" cy="691.3" r="2.4"/><circle cx="516.4" cy="721.3" r="2.4"/><circle cx="516.7" cy="719" r="2.4"/><circle cx="517" cy="700.2" r="2.4"/><circle cx="517.3" cy="716.1" r="2.4"/><circle cx="517.6" cy="719.8" r="2.4"/><circle cx="517.9" cy="733.5" r="2.4"/><circle cx="518.3" cy="734.6" r="2.4"/><circle cx="518.6" cy="731.1" r="2.4"/><circle cx="518.9" cy="743.3" r="2.4"/><circle cx="519.2" cy="749.8" r="2.4"/><circle cx="519.5" cy="736" r="2.4"/><circle cx="519.8" cy="738.8" r="2.4"/><circle cx="520.1" cy="747.3" r="2.4"/><circle cx="520.5" cy="752.3" r="2.4"/><circle cx="520.8" cy="756.8" r="2.4"/><circle cx="521.1" cy="759" r="2.4"/><circle cx="521.4" cy="760" r="2.4"/><circle cx="521.7" cy="760.9" r="2.4"/><circle cx="522" cy="761" r="2.4"/><circle cx="522.3" cy="762" r="2.4"/><circle cx="522.6" cy="756.5" r="2.4"/><circle cx="523" cy="763.2" r="2.4"/><circle cx="523.3" cy="764.7" r="2.4"/><circle cx="523.6" cy="761.7" r="2.4"/><circle cx="523.9" cy="754.6" r="2.4"/><circle cx="524.2" cy="764.5" r="2.4"/><circle cx="524.5" cy="766.5" r="2.4"/><circle cx="524.8" cy="769.3" r="2.4"/><circle cx="525.2" cy="766.8" r="2.4"/><circle cx="525.5" cy="768.5" r="2.4"/><circle cx="525.8" cy="766.2" r="2.4"/><circle cx="526.1" cy="768" r="2.4"/><circle cx="526.4" cy="767.8" r="2.4"/><circle cx="526.7" cy="769.7" r="2.4"/><circle cx="527" cy="769.5" r="2.4"/><circle cx="527.3" cy="767.4" r="2.4"/><circle cx="527.7" cy="765.2" r="2.4"/><circle cx="528" cy="768.1" r="2.4"/><circle cx="528.3" cy="769.1" r="2.4"/><circle cx="528.6" cy="767" r="2.4"/><circle cx="528.9" cy="771.6" r="2.4"/><circle cx="529.2" cy="767.7" r="2.4"/><circle cx="529.5" cy="771.5" r="2.4"/><circle cx="529.9" cy="772.6" r="2.4"/><circle cx="530.2" cy="768.8" r="2.4"/><circle cx="530.5" cy="769.8" r="2.4"/><circle cx="530.8" cy="766.9" r="2.4"/><circle cx="531.1" cy="770.3" r="2.4"/><circle cx="531.4" cy="765.3" r="2.4"/><circle cx="531.7" cy="770.4" r="2.4"/><circle cx="532" cy="772.1" r="2.4"/><circle cx="532.4" cy="771.6" r="2.4"/><circle cx="532.7" cy="763.6" r="2.4"/><circle cx="533" cy="769.8" r="2.4"/><circle cx="533.3" cy="761.6" r="2.4"/><circle cx="533.6" cy="757" r="2.4"/><circle cx="533.9" cy="763.6" r="2.4"/><circle cx="534.2" cy="771" r="2.4"/><circle cx="534.6" cy="764.8" r="2.4"/><circle cx="534.9" cy="758.1" r="2.4"/><circle cx="535.2" cy="767.1" r="2.4"/><circle cx="535.5" cy="760.6" r="2.4"/><circle cx="535.8" cy="746.5" r="2.4"/><circle cx="536.1" cy="755.6" r="2.4"/><circle cx="536.4" cy="762.8" r="2.4"/><circle cx="536.7" cy="754" r="2.4"/><circle cx="537.1" cy="765.4" r="2.4"/><circle cx="537.4" cy="760.9" r="2.4"/><circle cx="537.7" cy="764.6" r="2.4"/><circle cx="538" cy="761.5" r="2.4"/><circle cx="538.3" cy="766" r="2.4"/><circle cx="538.6" cy="773" r="2.4"/><circle cx="538.9" cy="772.7" r="2.4"/><circle cx="539.3" cy="763.5" r="2.4"/><circle cx="539.6" cy="769.9" r="2.4"/><circle cx="539.9" cy="768.3" r="2.4"/><circle cx="540.2" cy="771.7" r="2.4"/><circle cx="540.5" cy="773.3" r="2.4"/><circle cx="540.8" cy="772.5" r="2.4"/><circle cx="541.1" cy="773.1" r="2.4"/><circle cx="541.4" cy="771.8" r="2.4"/><circle cx="541.8" cy="772.5" r="2.4"/><circle cx="542.1" cy="773" r="2.4"/><circle cx="542.4" cy="771.4" r="2.4"/><circle cx="542.7" cy="772.8" r="2.4"/><circle cx="543" cy="768.5" r="2.4"/><circle cx="543.3" cy="771.2" r="2.4"/><circle cx="543.6" cy="771.4" r="2.4"/><circle cx="544" cy="773" r="2.4"/><circle cx="544.3" cy="772.1" r="2.4"/><circle cx="544.6" cy="772" r="2.4"/><circle cx="544.9" cy="771.4" r="2.4"/><circle cx="545.2" cy="771.1" r="2.4"/><circle cx="545.5" cy="770.9" r="2.4"/><circle cx="545.8" cy="765.9" r="2.4"/><circle cx="546.1" cy="770.4" r="2.4"/><circle cx="546.5" cy="762.4" r="2.4"/><circle cx="546.8" cy="752.1" r="2.4"/><circle cx="547.1" cy="752.2" r="2.4"/><circle cx="547.4" cy="763.2" r="2.4"/><circle cx="547.7" cy="760.5" r="2.4"/><circle cx="548" cy="764.6" r="2.4"/><circle cx="548.3" cy="753.5" r="2.4"/><circle cx="548.7" cy="760" r="2.4"/><circle cx="549" cy="763.1" r="2.4"/><circle cx="549.3" cy="760" r="2.4"/><circle cx="549.6" cy="764.1" r="2.4"/><circle cx="549.9" cy="740.1" r="2.4"/><circle cx="550.2" cy="758.6" r="2.4"/><circle cx="550.5" cy="744.7" r="2.4"/><circle cx="550.8" cy="754.3" r="2.4"/><circle cx="551.2" cy="752.1" r="2.4"/><circle cx="551.5" cy="745.4" r="2.4"/><circle cx="551.8" cy="733.9" r="2.4"/><circle cx="552.1" cy="723.9" r="2.4"/><circle cx="552.4" cy="742.9" r="2.4"/><circle cx="552.7" cy="752.9" r="2.4"/><circle cx="553" cy="761.3" r="2.4"/><circle cx="553.4" cy="760.5" r="2.4"/><circle cx="553.7" cy="742.1" r="2.4"/><circle cx="554" cy="758.8" r="2.4"/><circle cx="554.3" cy="753.7" r="2.4"/><circle cx="554.6" cy="761.6" r="2.4"/><circle cx="554.9" cy="763.8" r="2.4"/><circle cx="555.2" cy="766.9" r="2.4"/><circle cx="555.5" cy="768.9" r="2.4"/><circle cx="555.9" cy="764.6" r="2.4"/><circle cx="556.2" cy="762.1" r="2.4"/><circle cx="556.5" cy="771.1" r="2.4"/><circle cx="556.8" cy="771.8" r="2.4"/><circle cx="557.1" cy="772.5" r="2.4"/><circle cx="557.4" cy="769.7" r="2.4"/><circle cx="557.7" cy="765" r="2.4"/><circle cx="558.1" cy="760.2" r="2.4"/><circle cx="558.4" cy="754.6" r="2.4"/><circle cx="558.7" cy="750.8" r="2.4"/><circle cx="559" cy="723.6" r="2.4"/><circle cx="559.3" cy="726.4" r="2.4"/><circle cx="559.6" cy="716.1" r="2.4"/><circle cx="559.9" cy="718.5" r="2.4"/><circle cx="560.2" cy="704.1" r="2.4"/><circle cx="560.6" cy="687" r="2.4"/><circle cx="560.9" cy="708" r="2.4"/><circle cx="561.2" cy="665" r="2.4"/><circle cx="561.5" cy="651.9" r="2.4"/><circle cx="561.8" cy="598.9" r="2.4"/><circle cx="562.1" cy="642.3" r="2.4"/><circle cx="562.4" cy="674.1" r="2.4"/><circle cx="562.8" cy="692.3" r="2.4"/><circle cx="563.1" cy="695.1" r="2.4"/><circle cx="563.4" cy="725.1" r="2.4"/><circle cx="563.7" cy="695.3" r="2.4"/><circle cx="564" cy="682.5" r="2.4"/><circle cx="564.3" cy="685.6" r="2.4"/><circle cx="564.6" cy="694.4" r="2.4"/><circle cx="564.9" cy="668.1" r="2.4"/><circle cx="565.3" cy="680.2" r="2.4"/><circle cx="565.6" cy="705.1" r="2.4"/><circle cx="565.9" cy="672.3" r="2.4"/><circle cx="566.2" cy="688.8" r="2.4"/><circle cx="566.5" cy="693.5" r="2.4"/><circle cx="566.8" cy="696.8" r="2.4"/><circle cx="567.1" cy="676.8" r="2.4"/><circle cx="567.5" cy="696.6" r="2.4"/><circle cx="567.8" cy="675.9" r="2.4"/><circle cx="568.1" cy="699.8" r="2.4"/><circle cx="568.4" cy="708.8" r="2.4"/><circle cx="568.7" cy="715.8" r="2.4"/><circle cx="569" cy="724.1" r="2.4"/><circle cx="569.3" cy="725.6" r="2.4"/><circle cx="569.6" cy="665.4" r="2.4"/><circle cx="570" cy="667" r="2.4"/><circle cx="570.3" cy="697.1" r="2.4"/><circle cx="570.6" cy="703.7" r="2.4"/><circle cx="570.9" cy="702.7" r="2.4"/><circle cx="571.2" cy="687.2" r="2.4"/><circle cx="571.5" cy="696.5" r="2.4"/><circle cx="571.8" cy="722.6" r="2.4"/><circle cx="572.2" cy="700.3" r="2.4"/><circle cx="572.5" cy="625.5" r="2.4"/><circle cx="572.8" cy="658.9" r="2.4"/><circle cx="573.1" cy="684.6" r="2.4"/><circle cx="573.4" cy="698.7" r="2.4"/><circle cx="573.7" cy="678.9" r="2.4"/><circle cx="574" cy="659.3" r="2.4"/><circle cx="574.3" cy="677.4" r="2.4"/><circle cx="574.7" cy="681.6" r="2.4"/><circle cx="575" cy="693.6" r="2.4"/><circle cx="575.3" cy="679.9" r="2.4"/><circle cx="575.6" cy="702.5" r="2.4"/><circle cx="575.9" cy="708.7" r="2.4"/><circle cx="576.2" cy="674.9" r="2.4"/><circle cx="576.5" cy="691.4" r="2.4"/><circle cx="576.9" cy="701.8" r="2.4"/><circle cx="577.2" cy="710" r="2.4"/><circle cx="577.5" cy="711.8" r="2.4"/><circle cx="577.8" cy="711.6" r="2.4"/><circle cx="578.1" cy="711.5" r="2.4"/><circle cx="578.4" cy="709.6" r="2.4"/><circle cx="578.7" cy="692.1" r="2.4"/><circle cx="579" cy="644.7" r="2.4"/><circle cx="579.4" cy="653.6" r="2.4"/><circle cx="579.7" cy="684.4" r="2.4"/><circle cx="580" cy="696.2" r="2.4"/><circle cx="580.3" cy="677.5" r="2.4"/><circle cx="580.6" cy="696.8" r="2.4"/><circle cx="580.9" cy="685.2" r="2.4"/><circle cx="581.2" cy="693.6" r="2.4"/><circle cx="581.6" cy="703.4" r="2.4"/><circle cx="581.9" cy="709.2" r="2.4"/><circle cx="582.2" cy="711.9" r="2.4"/><circle cx="582.5" cy="713.9" r="2.4"/><circle cx="582.8" cy="702.8" r="2.4"/><circle cx="583.1" cy="709.6" r="2.4"/><circle cx="583.4" cy="707.1" r="2.4"/><circle cx="583.7" cy="716.7" r="2.4"/><circle cx="584.1" cy="714.7" r="2.4"/><circle cx="584.4" cy="711.1" r="2.4"/><circle cx="584.7" cy="712.3" r="2.4"/><circle cx="585" cy="718" r="2.4"/><circle cx="585.3" cy="727.9" r="2.4"/><circle cx="585.6" cy="719.4" r="2.4"/><circle cx="585.9" cy="726.1" r="2.4"/><circle cx="586.3" cy="735" r="2.4"/><circle cx="586.6" cy="732.8" r="2.4"/><circle cx="586.9" cy="728.2" r="2.4"/><circle cx="587.2" cy="730.3" r="2.4"/><circle cx="587.5" cy="733.7" r="2.4"/><circle cx="587.8" cy="737.5" r="2.4"/><circle cx="588.1" cy="730.8" r="2.4"/><circle cx="588.4" cy="736.1" r="2.4"/><circle cx="588.8" cy="738.2" r="2.4"/><circle cx="589.1" cy="744.1" r="2.4"/><circle cx="589.4" cy="745.5" r="2.4"/><circle cx="589.7" cy="747.9" r="2.4"/><circle cx="590" cy="747.8" r="2.4"/><circle cx="590.3" cy="742.1" r="2.4"/><circle cx="590.6" cy="744.7" r="2.4"/><circle cx="591" cy="739.7" r="2.4"/><circle cx="591.3" cy="741.2" r="2.4"/><circle cx="591.6" cy="730.4" r="2.4"/><circle cx="591.9" cy="740.1" r="2.4"/><circle cx="592.2" cy="741.5" r="2.4"/><circle cx="592.5" cy="743.8" r="2.4"/><circle cx="592.8" cy="732.4" r="2.4"/><circle cx="593.1" cy="733.1" r="2.4"/><circle cx="593.5" cy="740.4" r="2.4"/><circle cx="593.8" cy="745.6" r="2.4"/><circle cx="594.1" cy="734.9" r="2.4"/><circle cx="594.4" cy="742" r="2.4"/><circle cx="594.7" cy="695" r="2.4"/><circle cx="595" cy="714.5" r="2.4"/><circle cx="595.3" cy="719.4" r="2.4"/><circle cx="595.7" cy="724.4" r="2.4"/><circle cx="596" cy="727.4" r="2.4"/><circle cx="596.3" cy="743.4" r="2.4"/><circle cx="596.6" cy="718.1" r="2.4"/><circle cx="596.9" cy="703.1" r="2.4"/><circle cx="597.2" cy="704.3" r="2.4"/><circle cx="597.5" cy="714.9" r="2.4"/><circle cx="597.8" cy="688" r="2.4"/><circle cx="598.2" cy="708.5" r="2.4"/><circle cx="598.5" cy="726.3" r="2.4"/><circle cx="598.8" cy="710" r="2.4"/><circle cx="599.1" cy="655.4" r="2.4"/><circle cx="599.4" cy="678.9" r="2.4"/><circle cx="599.7" cy="661.3" r="2.4"/><circle cx="600" cy="672.5" r="2.4"/><circle cx="600.4" cy="683.2" r="2.4"/><circle cx="600.7" cy="714.3" r="2.4"/><circle cx="601" cy="661.3" r="2.4"/><circle cx="601.3" cy="690.1" r="2.4"/><circle cx="601.6" cy="668.9" r="2.4"/><circle cx="601.9" cy="678.3" r="2.4"/><circle cx="602.2" cy="662.6" r="2.4"/><circle cx="602.5" cy="684.3" r="2.4"/><circle cx="602.9" cy="724.7" r="2.4"/><circle cx="603.2" cy="728.1" r="2.4"/><circle cx="603.5" cy="715.6" r="2.4"/><circle cx="603.8" cy="655.7" r="2.4"/><circle cx="604.1" cy="682.5" r="2.4"/><circle cx="604.4" cy="701.4" r="2.4"/><circle cx="604.7" cy="715.7" r="2.4"/><circle cx="605.1" cy="738.6" r="2.4"/><circle cx="605.4" cy="703.7" r="2.4"/><circle cx="605.7" cy="696.2" r="2.4"/><circle cx="606" cy="718.6" r="2.4"/><circle cx="606.3" cy="682.2" r="2.4"/><circle cx="606.6" cy="671.6" r="2.4"/><circle cx="606.9" cy="683.3" r="2.4"/><circle cx="607.2" cy="683.6" r="2.4"/><circle cx="607.6" cy="706.9" r="2.4"/><circle cx="607.9" cy="717" r="2.4"/><circle cx="608.2" cy="702.4" r="2.4"/><circle cx="608.5" cy="710.4" r="2.4"/><circle cx="608.8" cy="715.9" r="2.4"/><circle cx="609.1" cy="722.2" r="2.4"/><circle cx="609.4" cy="729.3" r="2.4"/><circle cx="609.8" cy="676.7" r="2.4"/><circle cx="610.1" cy="681" r="2.4"/><circle cx="610.4" cy="696.3" r="2.4"/><circle cx="610.7" cy="695.9" r="2.4"/><circle cx="611" cy="703.5" r="2.4"/><circle cx="611.3" cy="675.8" r="2.4"/><circle cx="611.6" cy="671.1" r="2.4"/><circle cx="611.9" cy="656.5" r="2.4"/><circle cx="612.3" cy="682.5" r="2.4"/><circle cx="612.6" cy="701.8" r="2.4"/><circle cx="612.9" cy="714.1" r="2.4"/><circle cx="613.2" cy="724.7" r="2.4"/><circle cx="613.5" cy="688.9" r="2.4"/><circle cx="613.8" cy="708.2" r="2.4"/><circle cx="614.1" cy="732.5" r="2.4"/><circle cx="614.5" cy="735.1" r="2.4"/><circle cx="614.8" cy="726.2" r="2.4"/><circle cx="615.1" cy="731.8" r="2.4"/><circle cx="615.4" cy="718.2" r="2.4"/><circle cx="615.7" cy="711.4" r="2.4"/><circle cx="616" cy="720" r="2.4"/><circle cx="616.3" cy="734.3" r="2.4"/><circle cx="616.6" cy="738.7" r="2.4"/><circle cx="617" cy="719" r="2.4"/><circle cx="617.3" cy="742.8" r="2.4"/><circle cx="617.6" cy="754.5" r="2.4"/><circle cx="617.9" cy="728.7" r="2.4"/><circle cx="618.2" cy="751.6" r="2.4"/><circle cx="618.5" cy="757.7" r="2.4"/><circle cx="618.8" cy="752" r="2.4"/><circle cx="619.2" cy="746.3" r="2.4"/><circle cx="619.5" cy="761.5" r="2.4"/><circle cx="619.8" cy="763.3" r="2.4"/><circle cx="620.1" cy="763.3" r="2.4"/><circle cx="620.4" cy="764.5" r="2.4"/><circle cx="620.7" cy="765.3" r="2.4"/><circle cx="621" cy="765.9" r="2.4"/><circle cx="621.3" cy="766.9" r="2.4"/><circle cx="621.7" cy="766.7" r="2.4"/><circle cx="622" cy="760.3" r="2.4"/><circle cx="622.3" cy="767.2" r="2.4"/><circle cx="622.6" cy="767.2" r="2.4"/><circle cx="622.9" cy="758.1" r="2.4"/><circle cx="623.2" cy="757.3" r="2.4"/><circle cx="623.5" cy="766.1" r="2.4"/><circle cx="623.9" cy="759.2" r="2.4"/><circle cx="624.2" cy="763" r="2.4"/><circle cx="624.5" cy="770.3" r="2.4"/><circle cx="624.8" cy="770" r="2.4"/><circle cx="625.1" cy="773.9" r="2.4"/><circle cx="625.4" cy="771.6" r="2.4"/><circle cx="625.7" cy="773.9" r="2.4"/><circle cx="626" cy="774.4" r="2.4"/><circle cx="626.4" cy="774.6" r="2.4"/><circle cx="626.7" cy="773.7" r="2.4"/><circle cx="627" cy="768.3" r="2.4"/><circle cx="627.3" cy="773.3" r="2.4"/><circle cx="627.6" cy="776.7" r="2.4"/><circle cx="627.9" cy="778.8" r="2.4"/><circle cx="628.2" cy="779.5" r="2.4"/><circle cx="628.6" cy="781.5" r="2.4"/><circle cx="628.9" cy="780" r="2.4"/><circle cx="629.2" cy="772" r="2.4"/><circle cx="629.5" cy="777" r="2.4"/><circle cx="629.8" cy="778.8" r="2.4"/><circle cx="630.1" cy="779.7" r="2.4"/><circle cx="630.4" cy="780.5" r="2.4"/><circle cx="630.7" cy="781.2" r="2.4"/><circle cx="631.1" cy="781.9" r="2.4"/><circle cx="631.4" cy="781.7" r="2.4"/><circle cx="631.7" cy="782.3" r="2.4"/><circle cx="632" cy="776.5" r="2.4"/><circle cx="632.3" cy="779.8" r="2.4"/><circle cx="632.6" cy="781.4" r="2.4"/><circle cx="632.9" cy="783.5" r="2.4"/><circle cx="633.3" cy="781.5" r="2.4"/><circle cx="633.6" cy="783.4" r="2.4"/><circle cx="633.9" cy="781.9" r="2.4"/><circle cx="634.2" cy="782.4" r="2.4"/><circle cx="634.5" cy="782.9" r="2.4"/><circle cx="634.8" cy="777" r="2.4"/><circle cx="635.1" cy="770.8" r="2.4"/><circle cx="635.5" cy="778.1" r="2.4"/><circle cx="635.8" cy="784.7" r="2.4"/><circle cx="636.1" cy="784.3" r="2.4"/><circle cx="636.4" cy="769.5" r="2.4"/><circle cx="636.7" cy="775.2" r="2.4"/><circle cx="637" cy="778.6" r="2.4"/><circle cx="637.3" cy="786.1" r="2.4"/><circle cx="637.6" cy="782.9" r="2.4"/><circle cx="638" cy="784.2" r="2.4"/><circle cx="638.3" cy="783.4" r="2.4"/><circle cx="638.6" cy="757.7" r="2.4"/><circle cx="638.9" cy="757.4" r="2.4"/><circle cx="639.2" cy="765.8" r="2.4"/><circle cx="639.5" cy="779.3" r="2.4"/><circle cx="639.8" cy="778.7" r="2.4"/><circle cx="640.2" cy="779.3" r="2.4"/><circle cx="640.5" cy="776.8" r="2.4"/><circle cx="640.8" cy="775.5" r="2.4"/><circle cx="641.1" cy="775.5" r="2.4"/><circle cx="641.4" cy="775.1" r="2.4"/><circle cx="641.7" cy="775.6" r="2.4"/><circle cx="642" cy="773.9" r="2.4"/><circle cx="642.3" cy="749.9" r="2.4"/><circle cx="642.7" cy="765.8" r="2.4"/><circle cx="643" cy="770" r="2.4"/><circle cx="643.3" cy="773.3" r="2.4"/><circle cx="643.6" cy="773.3" r="2.4"/><circle cx="643.9" cy="771.1" r="2.4"/><circle cx="644.2" cy="769.1" r="2.4"/><circle cx="644.5" cy="726.7" r="2.4"/><circle cx="644.9" cy="671.6" r="2.4"/><circle cx="645.2" cy="707.7" r="2.4"/><circle cx="645.5" cy="733.9" r="2.4"/><circle cx="645.8" cy="729" r="2.4"/><circle cx="646.1" cy="746.1" r="2.4"/><circle cx="646.4" cy="763.4" r="2.4"/><circle cx="646.7" cy="767.5" r="2.4"/><circle cx="647" cy="763.7" r="2.4"/><circle cx="647.4" cy="766.9" r="2.4"/><circle cx="647.7" cy="768.8" r="2.4"/><circle cx="648" cy="753.1" r="2.4"/><circle cx="648.3" cy="760.8" r="2.4"/><circle cx="648.6" cy="768.6" r="2.4"/><circle cx="648.9" cy="771.4" r="2.4"/><circle cx="649.2" cy="770.4" r="2.4"/><circle cx="649.6" cy="773.1" r="2.4"/><circle cx="649.9" cy="769.7" r="2.4"/><circle cx="650.2" cy="767.5" r="2.4"/><circle cx="650.5" cy="772.7" r="2.4"/><circle cx="650.8" cy="773.2" r="2.4"/><circle cx="651.1" cy="772.6" r="2.4"/><circle cx="651.4" cy="773.1" r="2.4"/><circle cx="651.7" cy="774.9" r="2.4"/><circle cx="652.1" cy="767.5" r="2.4"/><circle cx="652.4" cy="770.4" r="2.4"/><circle cx="652.7" cy="773.7" r="2.4"/><circle cx="653" cy="773.7" r="2.4"/><circle cx="653.3" cy="770.4" r="2.4"/><circle cx="653.6" cy="768.7" r="2.4"/><circle cx="653.9" cy="762.3" r="2.4"/><circle cx="654.3" cy="763.2" r="2.4"/><circle cx="654.6" cy="761.2" r="2.4"/><circle cx="654.9" cy="744.1" r="2.4"/><circle cx="655.2" cy="754" r="2.4"/><circle cx="655.5" cy="745.1" r="2.4"/><circle cx="655.8" cy="748.1" r="2.4"/><circle cx="656.1" cy="748.1" r="2.4"/><circle cx="656.4" cy="748.4" r="2.4"/><circle cx="656.8" cy="737.1" r="2.4"/><circle cx="657.1" cy="731.7" r="2.4"/><circle cx="657.4" cy="740.3" r="2.4"/><circle cx="657.7" cy="750" r="2.4"/><circle cx="658" cy="741.2" r="2.4"/><circle cx="658.3" cy="753.7" r="2.4"/><circle cx="658.6" cy="748.7" r="2.4"/><circle cx="659" cy="753.2" r="2.4"/><circle cx="659.3" cy="731.3" r="2.4"/><circle cx="659.6" cy="740.8" r="2.4"/><circle cx="659.9" cy="746.3" r="2.4"/><circle cx="660.2" cy="754.4" r="2.4"/><circle cx="660.5" cy="758.9" r="2.4"/><circle cx="660.8" cy="759.5" r="2.4"/><circle cx="661.1" cy="764.2" r="2.4"/><circle cx="661.5" cy="762.4" r="2.4"/><circle cx="661.8" cy="761.4" r="2.4"/><circle cx="662.1" cy="762.7" r="2.4"/><circle cx="662.4" cy="733.4" r="2.4"/><circle cx="662.7" cy="750.5" r="2.4"/><circle cx="663" cy="755.8" r="2.4"/><circle cx="663.3" cy="749.4" r="2.4"/><circle cx="663.7" cy="752.3" r="2.4"/><circle cx="664" cy="718.8" r="2.4"/><circle cx="664.3" cy="732.6" r="2.4"/><circle cx="664.6" cy="742.4" r="2.4"/><circle cx="664.9" cy="765.7" r="2.4"/><circle cx="665.2" cy="768.6" r="2.4"/><circle cx="665.5" cy="768.4" r="2.4"/><circle cx="665.8" cy="768.5" r="2.4"/><circle cx="666.2" cy="770.5" r="2.4"/><circle cx="666.5" cy="770.7" r="2.4"/><circle cx="666.8" cy="750.3" r="2.4"/><circle cx="667.1" cy="719.2" r="2.4"/><circle cx="667.4" cy="740.3" r="2.4"/><circle cx="667.7" cy="727.8" r="2.4"/><circle cx="668" cy="710.1" r="2.4"/><circle cx="668.4" cy="756.9" r="2.4"/><circle cx="668.7" cy="749.2" r="2.4"/><circle cx="669" cy="754.5" r="2.4"/><circle cx="669.3" cy="754.6" r="2.4"/><circle cx="669.6" cy="759.2" r="2.4"/><circle cx="669.9" cy="761.4" r="2.4"/><circle cx="670.2" cy="743.8" r="2.4"/><circle cx="670.5" cy="696.5" r="2.4"/><circle cx="670.9" cy="716.2" r="2.4"/><circle cx="671.2" cy="732.1" r="2.4"/><circle cx="671.5" cy="706.7" r="2.4"/><circle cx="671.8" cy="729.8" r="2.4"/><circle cx="672.1" cy="747.9" r="2.4"/><circle cx="672.4" cy="758.2" r="2.4"/><circle cx="672.7" cy="747.9" r="2.4"/><circle cx="673.1" cy="714.2" r="2.4"/><circle cx="673.4" cy="734.9" r="2.4"/><circle cx="673.7" cy="757.5" r="2.4"/><circle cx="674" cy="761.8" r="2.4"/><circle cx="674.3" cy="754.7" r="2.4"/><circle cx="674.6" cy="697.3" r="2.4"/><circle cx="674.9" cy="722.4" r="2.4"/><circle cx="675.2" cy="731.9" r="2.4"/><circle cx="675.6" cy="722.4" r="2.4"/><circle cx="675.9" cy="676.9" r="2.4"/><circle cx="676.2" cy="682.3" r="2.4"/><circle cx="676.5" cy="687.6" r="2.4"/><circle cx="676.8" cy="677.8" r="2.4"/><circle cx="677.1" cy="683.8" r="2.4"/><circle cx="677.4" cy="702.1" r="2.4"/><circle cx="677.8" cy="703.1" r="2.4"/><circle cx="678.1" cy="702.9" r="2.4"/><circle cx="678.4" cy="629.3" r="2.4"/><circle cx="678.7" cy="657.8" r="2.4"/><circle cx="679" cy="666.6" r="2.4"/><circle cx="679.3" cy="627" r="2.4"/><circle cx="679.6" cy="657" r="2.4"/><circle cx="679.9" cy="605.3" r="2.4"/><circle cx="680.3" cy="618.3" r="2.4"/><circle cx="680.6" cy="634.3" r="2.4"/><circle cx="680.9" cy="675" r="2.4"/><circle cx="681.2" cy="655" r="2.4"/><circle cx="681.5" cy="675" r="2.4"/><circle cx="681.8" cy="652.5" r="2.4"/><circle cx="682.1" cy="673.5" r="2.4"/><circle cx="682.5" cy="688.6" r="2.4"/><circle cx="682.8" cy="702.7" r="2.4"/><circle cx="683.1" cy="704.9" r="2.4"/><circle cx="683.4" cy="703.1" r="2.4"/><circle cx="683.7" cy="656.4" r="2.4"/><circle cx="684" cy="685" r="2.4"/><circle cx="684.3" cy="698.7" r="2.4"/><circle cx="684.6" cy="621.4" r="2.4"/><circle cx="685" cy="626.8" r="2.4"/><circle cx="685.3" cy="649.7" r="2.4"/><circle cx="685.6" cy="664.3" r="2.4"/><circle cx="685.9" cy="682" r="2.4"/><circle cx="686.2" cy="696" r="2.4"/><circle cx="686.5" cy="686.7" r="2.4"/><circle cx="686.8" cy="690.4" r="2.4"/><circle cx="687.2" cy="702.6" r="2.4"/><circle cx="687.5" cy="690.8" r="2.4"/><circle cx="687.8" cy="688.7" r="2.4"/><circle cx="688.1" cy="704.8" r="2.4"/><circle cx="688.4" cy="670.8" r="2.4"/><circle cx="688.7" cy="692.2" r="2.4"/><circle cx="689" cy="690.3" r="2.4"/><circle cx="689.3" cy="701" r="2.4"/><circle cx="689.7" cy="698.5" r="2.4"/><circle cx="690" cy="704.5" r="2.4"/><circle cx="690.3" cy="711.9" r="2.4"/><circle cx="690.6" cy="697.7" r="2.4"/><circle cx="690.9" cy="710.4" r="2.4"/><circle cx="691.2" cy="701.5" r="2.4"/><circle cx="691.5" cy="706.3" r="2.4"/><circle cx="691.9" cy="708.5" r="2.4"/><circle cx="692.2" cy="712.9" r="2.4"/><circle cx="692.5" cy="719" r="2.4"/><circle cx="692.8" cy="710.5" r="2.4"/><circle cx="693.1" cy="717.5" r="2.4"/><circle cx="693.4" cy="719.1" r="2.4"/><circle cx="693.7" cy="716.3" r="2.4"/><circle cx="694" cy="714.4" r="2.4"/><circle cx="694.4" cy="696" r="2.4"/><circle cx="694.7" cy="694.5" r="2.4"/><circle cx="695" cy="695.2" r="2.4"/><circle cx="695.3" cy="708.8" r="2.4"/><circle cx="695.6" cy="715.9" r="2.4"/><circle cx="695.9" cy="706.8" r="2.4"/><circle cx="696.2" cy="709.7" r="2.4"/><circle cx="696.6" cy="659.6" r="2.4"/><circle cx="696.9" cy="686.8" r="2.4"/><circle cx="697.2" cy="686.7" r="2.4"/><circle cx="697.5" cy="693.1" r="2.4"/><circle cx="697.8" cy="700.1" r="2.4"/><circle cx="698.1" cy="670.1" r="2.4"/><circle cx="698.4" cy="675" r="2.4"/><circle cx="698.7" cy="641" r="2.4"/><circle cx="699.1" cy="664.7" r="2.4"/><circle cx="699.4" cy="682.1" r="2.4"/><circle cx="699.7" cy="631.2" r="2.4"/><circle cx="700" cy="656" r="2.4"/><circle cx="700.3" cy="674.6" r="2.4"/><circle cx="700.6" cy="649.5" r="2.4"/><circle cx="700.9" cy="666.7" r="2.4"/><circle cx="701.3" cy="676.4" r="2.4"/><circle cx="701.6" cy="693.4" r="2.4"/><circle cx="701.9" cy="672.8" r="2.4"/><circle cx="702.2" cy="677.7" r="2.4"/><circle cx="702.5" cy="693.2" r="2.4"/><circle cx="702.8" cy="700.4" r="2.4"/><circle cx="703.1" cy="701.9" r="2.4"/><circle cx="703.4" cy="704.6" r="2.4"/><circle cx="703.8" cy="706.4" r="2.4"/><circle cx="704.1" cy="707.3" r="2.4"/><circle cx="704.4" cy="708.3" r="2.4"/><circle cx="704.7" cy="709.7" r="2.4"/><circle cx="705" cy="711.2" r="2.4"/><circle cx="705.3" cy="698.6" r="2.4"/><circle cx="705.6" cy="703" r="2.4"/><circle cx="706" cy="706.7" r="2.4"/><circle cx="706.3" cy="710.9" r="2.4"/><circle cx="706.6" cy="713.8" r="2.4"/><circle cx="706.9" cy="711.9" r="2.4"/><circle cx="707.2" cy="713.7" r="2.4"/><circle cx="707.5" cy="713.7" r="2.4"/><circle cx="707.8" cy="704.2" r="2.4"/><circle cx="708.1" cy="709.1" r="2.4"/><circle cx="708.5" cy="711.1" r="2.4"/><circle cx="708.8" cy="716.6" r="2.4"/><circle cx="709.1" cy="719.1" r="2.4"/><circle cx="709.4" cy="709.4" r="2.4"/><circle cx="709.7" cy="715.2" r="2.4"/><circle cx="710" cy="703.9" r="2.4"/><circle cx="710.3" cy="711.4" r="2.4"/><circle cx="710.7" cy="714.5" r="2.4"/><circle cx="711" cy="716.6" r="2.4"/><circle cx="711.3" cy="714.8" r="2.4"/><circle cx="711.6" cy="685.8" r="2.4"/><circle cx="711.9" cy="672.8" r="2.4"/><circle cx="712.2" cy="682.5" r="2.4"/><circle cx="712.5" cy="698.6" r="2.4"/><circle cx="712.8" cy="706.5" r="2.4"/><circle cx="713.2" cy="705.4" r="2.4"/><circle cx="713.5" cy="645.2" r="2.4"/><circle cx="713.8" cy="615.1" r="2.4"/><circle cx="714.1" cy="645.3" r="2.4"/><circle cx="714.4" cy="670.3" r="2.4"/><circle cx="714.7" cy="686.8" r="2.4"/><circle cx="715" cy="666" r="2.4"/><circle cx="715.4" cy="684.8" r="2.4"/><circle cx="715.7" cy="692.2" r="2.4"/><circle cx="716" cy="708.8" r="2.4"/><circle cx="716.3" cy="680.4" r="2.4"/><circle cx="716.6" cy="697.7" r="2.4"/><circle cx="716.9" cy="680.7" r="2.4"/><circle cx="717.2" cy="695.6" r="2.4"/><circle cx="717.5" cy="701.3" r="2.4"/><circle cx="717.9" cy="694.1" r="2.4"/><circle cx="718.2" cy="706" r="2.4"/><circle cx="718.5" cy="717.6" r="2.4"/><circle cx="718.8" cy="722.7" r="2.4"/><circle cx="719.1" cy="724.8" r="2.4"/><circle cx="719.4" cy="732.7" r="2.4"/><circle cx="719.7" cy="733.3" r="2.4"/><circle cx="720.1" cy="711.1" r="2.4"/><circle cx="720.4" cy="717.1" r="2.4"/><circle cx="720.7" cy="731" r="2.4"/><circle cx="721" cy="726.2" r="2.4"/><circle cx="721.3" cy="737.4" r="2.4"/><circle cx="721.6" cy="716.2" r="2.4"/><circle cx="721.9" cy="734.1" r="2.4"/><circle cx="722.2" cy="719.5" r="2.4"/><circle cx="722.6" cy="724.4" r="2.4"/><circle cx="722.9" cy="731.7" r="2.4"/><circle cx="723.2" cy="741.6" r="2.4"/><circle cx="723.5" cy="744.3" r="2.4"/><circle cx="723.8" cy="726.5" r="2.4"/><circle cx="724.1" cy="734.6" r="2.4"/><circle cx="724.4" cy="736.5" r="2.4"/><circle cx="724.8" cy="744.9" r="2.4"/><circle cx="725.1" cy="736" r="2.4"/><circle cx="725.4" cy="742.1" r="2.4"/><circle cx="725.7" cy="731.7" r="2.4"/><circle cx="726" cy="742.2" r="2.4"/><circle cx="726.3" cy="747.7" r="2.4"/><circle cx="726.6" cy="746.4" r="2.4"/><circle cx="726.9" cy="734.7" r="2.4"/><circle cx="727.3" cy="740.8" r="2.4"/><circle cx="727.6" cy="746.2" r="2.4"/><circle cx="727.9" cy="750.5" r="2.4"/><circle cx="728.2" cy="736.6" r="2.4"/><circle cx="728.5" cy="755.2" r="2.4"/><circle cx="728.8" cy="758.9" r="2.4"/><circle cx="729.1" cy="761.9" r="2.4"/><circle cx="729.5" cy="758.5" r="2.4"/><circle cx="729.8" cy="761" r="2.4"/><circle cx="730.1" cy="745.6" r="2.4"/><circle cx="730.4" cy="752.5" r="2.4"/><circle cx="730.7" cy="756.8" r="2.4"/><circle cx="731" cy="763.9" r="2.4"/><circle cx="731.3" cy="766.8" r="2.4"/><circle cx="731.6" cy="760.1" r="2.4"/><circle cx="732" cy="748.5" r="2.4"/><circle cx="732.3" cy="753.4" r="2.4"/><circle cx="732.6" cy="766.1" r="2.4"/><circle cx="732.9" cy="768" r="2.4"/><circle cx="733.2" cy="768.5" r="2.4"/><circle cx="733.5" cy="766.2" r="2.4"/><circle cx="733.8" cy="767.9" r="2.4"/><circle cx="734.2" cy="768.3" r="2.4"/><circle cx="734.5" cy="768.2" r="2.4"/><circle cx="734.8" cy="766.8" r="2.4"/><circle cx="735.1" cy="767.1" r="2.4"/><circle cx="735.4" cy="764.5" r="2.4"/><circle cx="735.7" cy="764.9" r="2.4"/><circle cx="736" cy="766.5" r="2.4"/><circle cx="736.3" cy="766.5" r="2.4"/><circle cx="736.7" cy="766.7" r="2.4"/><circle cx="737" cy="766.8" r="2.4"/><circle cx="737.3" cy="766.9" r="2.4"/><circle cx="737.6" cy="766.8" r="2.4"/><circle cx="737.9" cy="767.7" r="2.4"/><circle cx="738.2" cy="765.9" r="2.4"/><circle cx="738.5" cy="752.6" r="2.4"/><circle cx="738.9" cy="750.5" r="2.4"/><circle cx="739.2" cy="747.2" r="2.4"/><circle cx="739.5" cy="752.7" r="2.4"/><circle cx="739.8" cy="759.3" r="2.4"/><circle cx="740.1" cy="714.5" r="2.4"/><circle cx="740.4" cy="743.7" r="2.4"/><circle cx="740.7" cy="752.4" r="2.4"/><circle cx="741" cy="753.7" r="2.4"/><circle cx="741.4" cy="752.5" r="2.4"/><circle cx="741.7" cy="752.2" r="2.4"/><circle cx="742" cy="749.7" r="2.4"/><circle cx="742.3" cy="696" r="2.4"/><circle cx="742.6" cy="705" r="2.4"/><circle cx="742.9" cy="625.6" r="2.4"/><circle cx="743.2" cy="668.5" r="2.4"/><circle cx="743.6" cy="702.3" r="2.4"/><circle cx="743.9" cy="721.7" r="2.4"/><circle cx="744.2" cy="738.2" r="2.4"/><circle cx="744.5" cy="754.3" r="2.4"/><circle cx="744.8" cy="756.2" r="2.4"/><circle cx="745.1" cy="734.3" r="2.4"/><circle cx="745.4" cy="753.2" r="2.4"/><circle cx="745.7" cy="756.2" r="2.4"/><circle cx="746.1" cy="760.9" r="2.4"/><circle cx="746.4" cy="764" r="2.4"/><circle cx="746.7" cy="756.3" r="2.4"/><circle cx="747" cy="761.2" r="2.4"/><circle cx="747.3" cy="743" r="2.4"/><circle cx="747.6" cy="728.6" r="2.4"/><circle cx="747.9" cy="752.8" r="2.4"/><circle cx="748.3" cy="757.9" r="2.4"/><circle cx="748.6" cy="758.9" r="2.4"/><circle cx="748.9" cy="752" r="2.4"/><circle cx="749.2" cy="757.5" r="2.4"/><circle cx="749.5" cy="761.5" r="2.4"/><circle cx="749.8" cy="753.8" r="2.4"/><circle cx="750.1" cy="764.2" r="2.4"/><circle cx="750.4" cy="765.3" r="2.4"/><circle cx="750.8" cy="766.6" r="2.4"/><circle cx="751.1" cy="747.6" r="2.4"/><circle cx="751.4" cy="730.4" r="2.4"/><circle cx="751.7" cy="759.9" r="2.4"/><circle cx="752" cy="766.7" r="2.4"/><circle cx="752.3" cy="767.9" r="2.4"/><circle cx="752.6" cy="768.5" r="2.4"/><circle cx="753" cy="761.7" r="2.4"/><circle cx="753.3" cy="767.7" r="2.4"/><circle cx="753.6" cy="769.6" r="2.4"/><circle cx="753.9" cy="769.9" r="2.4"/><circle cx="754.2" cy="769.3" r="2.4"/><circle cx="754.5" cy="770.6" r="2.4"/><circle cx="754.8" cy="764.6" r="2.4"/><circle cx="755.1" cy="765.1" r="2.4"/><circle cx="755.5" cy="764.2" r="2.4"/><circle cx="755.8" cy="765.5" r="2.4"/><circle cx="756.1" cy="751.8" r="2.4"/><circle cx="756.4" cy="754.4" r="2.4"/><circle cx="756.7" cy="762.1" r="2.4"/><circle cx="757" cy="763.5" r="2.4"/><circle cx="757.3" cy="763.7" r="2.4"/><circle cx="757.7" cy="740.9" r="2.4"/><circle cx="758" cy="756.1" r="2.4"/><circle cx="758.3" cy="751.6" r="2.4"/><circle cx="758.6" cy="757.7" r="2.4"/><circle cx="758.9" cy="753.6" r="2.4"/><circle cx="759.2" cy="728.5" r="2.4"/><circle cx="759.5" cy="740.1" r="2.4"/><circle cx="759.8" cy="748.1" r="2.4"/><circle cx="760.2" cy="754.7" r="2.4"/><circle cx="760.5" cy="745.4" r="2.4"/><circle cx="760.8" cy="756" r="2.4"/><circle cx="761.1" cy="751.9" r="2.4"/><circle cx="761.4" cy="758.2" r="2.4"/><circle cx="761.7" cy="755.4" r="2.4"/><circle cx="762" cy="759.9" r="2.4"/><circle cx="762.4" cy="764" r="2.4"/><circle cx="762.7" cy="766.6" r="2.4"/><circle cx="763" cy="764.8" r="2.4"/><circle cx="763.3" cy="765.9" r="2.4"/><circle cx="763.6" cy="767.6" r="2.4"/><circle cx="763.9" cy="767.1" r="2.4"/><circle cx="764.2" cy="767.9" r="2.4"/><circle cx="764.5" cy="768.5" r="2.4"/><circle cx="764.9" cy="767.9" r="2.4"/><circle cx="765.2" cy="768.1" r="2.4"/><circle cx="765.5" cy="767.7" r="2.4"/><circle cx="765.8" cy="763.5" r="2.4"/><circle cx="766.1" cy="766" r="2.4"/><circle cx="766.4" cy="767.1" r="2.4"/><circle cx="766.7" cy="767.7" r="2.4"/><circle cx="767.1" cy="769" r="2.4"/><circle cx="767.4" cy="769.7" r="2.4"/><circle cx="767.7" cy="767.7" r="2.4"/><circle cx="768" cy="767.6" r="2.4"/><circle cx="768.3" cy="768" r="2.4"/><circle cx="768.6" cy="749.6" r="2.4"/><circle cx="768.9" cy="758.9" r="2.4"/><circle cx="769.2" cy="766.1" r="2.4"/><circle cx="769.6" cy="736.6" r="2.4"/><circle cx="769.9" cy="643.2" r="2.4"/><circle cx="770.2" cy="683.4" r="2.4"/><circle cx="770.5" cy="708.4" r="2.4"/><circle cx="770.8" cy="724.1" r="2.4"/><circle cx="771.1" cy="668.4" r="2.4"/><circle cx="771.4" cy="693.6" r="2.4"/><circle cx="771.8" cy="700.7" r="2.4"/><circle cx="772.1" cy="733.4" r="2.4"/><circle cx="772.4" cy="740.4" r="2.4"/><circle cx="772.7" cy="737" r="2.4"/><circle cx="773" cy="695.3" r="2.4"/><circle cx="773.3" cy="706.8" r="2.4"/><circle cx="773.6" cy="678.3" r="2.4"/><circle cx="773.9" cy="684" r="2.4"/><circle cx="774.3" cy="692.4" r="2.4"/><circle cx="774.6" cy="699.2" r="2.4"/><circle cx="774.9" cy="701.9" r="2.4"/><circle cx="775.2" cy="710.6" r="2.4"/><circle cx="775.5" cy="710.4" r="2.4"/><circle cx="775.8" cy="710.5" r="2.4"/><circle cx="776.1" cy="710.5" r="2.4"/><circle cx="776.5" cy="709.4" r="2.4"/><circle cx="776.8" cy="707.4" r="2.4"/><circle cx="777.1" cy="707.5" r="2.4"/><circle cx="777.4" cy="693.9" r="2.4"/><circle cx="777.7" cy="679.7" r="2.4"/><circle cx="778" cy="608.3" r="2.4"/><circle cx="778.3" cy="646.1" r="2.4"/><circle cx="778.6" cy="669.9" r="2.4"/><circle cx="779" cy="685" r="2.4"/><circle cx="779.3" cy="695.3" r="2.4"/><circle cx="779.6" cy="709.6" r="2.4"/><circle cx="779.9" cy="682.1" r="2.4"/><circle cx="780.2" cy="677.5" r="2.4"/><circle cx="780.5" cy="694.2" r="2.4"/><circle cx="780.8" cy="704.5" r="2.4"/><circle cx="781.2" cy="708.8" r="2.4"/><circle cx="781.5" cy="714.6" r="2.4"/><circle cx="781.8" cy="716.2" r="2.4"/><circle cx="782.1" cy="717.3" r="2.4"/><circle cx="782.4" cy="719.2" r="2.4"/><circle cx="782.7" cy="721.7" r="2.4"/><circle cx="783" cy="723.4" r="2.4"/><circle cx="783.3" cy="724.9" r="2.4"/><circle cx="783.7" cy="727.6" r="2.4"/><circle cx="784" cy="725.5" r="2.4"/><circle cx="784.3" cy="728.4" r="2.4"/><circle cx="784.6" cy="717.7" r="2.4"/><circle cx="784.9" cy="713.2" r="2.4"/><circle cx="785.2" cy="719" r="2.4"/><circle cx="785.5" cy="709.9" r="2.4"/><circle cx="785.9" cy="718.1" r="2.4"/><circle cx="786.2" cy="718.8" r="2.4"/><circle cx="786.5" cy="720.7" r="2.4"/><circle cx="786.8" cy="722.3" r="2.4"/><circle cx="787.1" cy="722.9" r="2.4"/><circle cx="787.4" cy="727.5" r="2.4"/><circle cx="787.7" cy="716.7" r="2.4"/><circle cx="788.1" cy="718.4" r="2.4"/><circle cx="788.4" cy="714.2" r="2.4"/><circle cx="788.7" cy="725.2" r="2.4"/><circle cx="789" cy="725.9" r="2.4"/><circle cx="789.3" cy="731.2" r="2.4"/><circle cx="789.6" cy="719.3" r="2.4"/><circle cx="789.9" cy="719.7" r="2.4"/><circle cx="790.2" cy="724.2" r="2.4"/><circle cx="790.6" cy="716" r="2.4"/><circle cx="790.9" cy="717.4" r="2.4"/><circle cx="791.2" cy="721.4" r="2.4"/><circle cx="791.5" cy="723.9" r="2.4"/><circle cx="791.8" cy="727" r="2.4"/><circle cx="792.1" cy="725" r="2.4"/><circle cx="792.4" cy="733.6" r="2.4"/><circle cx="792.8" cy="715.7" r="2.4"/><circle cx="793.1" cy="720.8" r="2.4"/><circle cx="793.4" cy="709.1" r="2.4"/><circle cx="793.7" cy="712.3" r="2.4"/><circle cx="794" cy="704.7" r="2.4"/><circle cx="794.3" cy="712.3" r="2.4"/><circle cx="794.6" cy="685.9" r="2.4"/><circle cx="794.9" cy="693.5" r="2.4"/><circle cx="795.3" cy="682.5" r="2.4"/><circle cx="795.6" cy="692.9" r="2.4"/><circle cx="795.9" cy="681.1" r="2.4"/><circle cx="796.2" cy="676.4" r="2.4"/><circle cx="796.5" cy="676.2" r="2.4"/><circle cx="796.8" cy="679.1" r="2.4"/><circle cx="797.1" cy="644.5" r="2.4"/><circle cx="797.5" cy="658.6" r="2.4"/><circle cx="797.8" cy="670.8" r="2.4"/><circle cx="798.1" cy="677.1" r="2.4"/><circle cx="798.4" cy="679" r="2.4"/><circle cx="798.7" cy="681.9" r="2.4"/><circle cx="799" cy="688.3" r="2.4"/><circle cx="799.3" cy="658.4" r="2.4"/><circle cx="799.6" cy="673.3" r="2.4"/><circle cx="800" cy="668.7" r="2.4"/><circle cx="800.3" cy="674.4" r="2.4"/><circle cx="800.6" cy="678.5" r="2.4"/><circle cx="800.9" cy="679.3" r="2.4"/><circle cx="801.2" cy="684.6" r="2.4"/><circle cx="801.5" cy="685.6" r="2.4"/><circle cx="801.8" cy="684.4" r="2.4"/><circle cx="802.2" cy="684.6" r="2.4"/><circle cx="802.5" cy="657.6" r="2.4"/><circle cx="802.8" cy="666.5" r="2.4"/><circle cx="803.1" cy="668.6" r="2.4"/><circle cx="803.4" cy="654.2" r="2.4"/><circle cx="803.7" cy="667.5" r="2.4"/><circle cx="804" cy="644.2" r="2.4"/><circle cx="804.3" cy="654.9" r="2.4"/><circle cx="804.7" cy="659.1" r="2.4"/><circle cx="805" cy="640.7" r="2.4"/><circle cx="805.3" cy="608.3" r="2.4"/><circle cx="805.6" cy="633.5" r="2.4"/><circle cx="805.9" cy="645.6" r="2.4"/><circle cx="806.2" cy="629.3" r="2.4"/><circle cx="806.5" cy="671.5" r="2.4"/><circle cx="806.9" cy="680.8" r="2.4"/><circle cx="807.2" cy="684" r="2.4"/><circle cx="807.5" cy="630.3" r="2.4"/><circle cx="807.8" cy="636.9" r="2.4"/><circle cx="808.1" cy="627.1" r="2.4"/><circle cx="808.4" cy="634.5" r="2.4"/><circle cx="808.7" cy="655.5" r="2.4"/><circle cx="809" cy="675.6" r="2.4"/><circle cx="809.4" cy="671.1" r="2.4"/><circle cx="809.7" cy="674.9" r="2.4"/><circle cx="810" cy="692.7" r="2.4"/><circle cx="810.3" cy="695.1" r="2.4"/><circle cx="810.6" cy="695.7" r="2.4"/><circle cx="810.9" cy="695.8" r="2.4"/><circle cx="811.2" cy="684.5" r="2.4"/><circle cx="811.6" cy="686.4" r="2.4"/><circle cx="811.9" cy="692.4" r="2.4"/><circle cx="812.2" cy="697.1" r="2.4"/><circle cx="812.5" cy="696.5" r="2.4"/><circle cx="812.8" cy="684.7" r="2.4"/><circle cx="813.1" cy="690.6" r="2.4"/><circle cx="813.4" cy="695.1" r="2.4"/><circle cx="813.7" cy="698.5" r="2.4"/><circle cx="814.1" cy="685.7" r="2.4"/><circle cx="814.4" cy="699.3" r="2.4"/><circle cx="814.7" cy="700.8" r="2.4"/><circle cx="815" cy="682.2" r="2.4"/><circle cx="815.3" cy="689.1" r="2.4"/><circle cx="815.6" cy="696.8" r="2.4"/><circle cx="815.9" cy="696.1" r="2.4"/><circle cx="816.3" cy="685.3" r="2.4"/><circle cx="816.6" cy="702.8" r="2.4"/><circle cx="816.9" cy="697.2" r="2.4"/><circle cx="817.2" cy="706.1" r="2.4"/><circle cx="817.5" cy="709.6" r="2.4"/><circle cx="817.8" cy="700.7" r="2.4"/><circle cx="818.1" cy="705.9" r="2.4"/><circle cx="818.4" cy="716.2" r="2.4"/><circle cx="818.8" cy="716.2" r="2.4"/><circle cx="819.1" cy="699.2" r="2.4"/><circle cx="819.4" cy="702.8" r="2.4"/><circle cx="819.7" cy="710.8" r="2.4"/><circle cx="820" cy="710.8" r="2.4"/><circle cx="820.3" cy="716.4" r="2.4"/><circle cx="820.6" cy="717.4" r="2.4"/><circle cx="821" cy="692" r="2.4"/><circle cx="821.3" cy="696.6" r="2.4"/><circle cx="821.6" cy="704.7" r="2.4"/><circle cx="821.9" cy="709.4" r="2.4"/><circle cx="822.2" cy="708.6" r="2.4"/><circle cx="822.5" cy="707.9" r="2.4"/><circle cx="822.8" cy="707.6" r="2.4"/><circle cx="823.1" cy="675.1" r="2.4"/><circle cx="823.5" cy="652.2" r="2.4"/><circle cx="823.8" cy="669.3" r="2.4"/><circle cx="824.1" cy="684.3" r="2.4"/><circle cx="824.4" cy="693.3" r="2.4"/><circle cx="824.7" cy="666.5" r="2.4"/><circle cx="825" cy="668.5" r="2.4"/><circle cx="825.3" cy="683.5" r="2.4"/><circle cx="825.7" cy="689.3" r="2.4"/><circle cx="826" cy="711.6" r="2.4"/><circle cx="826.3" cy="716.7" r="2.4"/><circle cx="826.6" cy="724.4" r="2.4"/><circle cx="826.9" cy="715.2" r="2.4"/><circle cx="827.2" cy="723.9" r="2.4"/><circle cx="827.5" cy="722.3" r="2.4"/><circle cx="827.8" cy="715.6" r="2.4"/><circle cx="828.2" cy="723.2" r="2.4"/><circle cx="828.5" cy="708.9" r="2.4"/><circle cx="828.8" cy="721.7" r="2.4"/><circle cx="829.1" cy="731.3" r="2.4"/><circle cx="829.4" cy="719.4" r="2.4"/><circle cx="829.7" cy="731.6" r="2.4"/><circle cx="830" cy="737.3" r="2.4"/><circle cx="830.4" cy="743" r="2.4"/><circle cx="830.7" cy="745.1" r="2.4"/><circle cx="831" cy="747.2" r="2.4"/><circle cx="831.3" cy="747.8" r="2.4"/><circle cx="831.6" cy="724.5" r="2.4"/><circle cx="831.9" cy="723.8" r="2.4"/><circle cx="832.2" cy="735.8" r="2.4"/><circle cx="832.5" cy="735.5" r="2.4"/><circle cx="832.9" cy="709.2" r="2.4"/><circle cx="833.2" cy="720.7" r="2.4"/><circle cx="833.5" cy="711.6" r="2.4"/><circle cx="833.8" cy="687.1" r="2.4"/><circle cx="834.1" cy="687.9" r="2.4"/><circle cx="834.4" cy="702.1" r="2.4"/><circle cx="834.7" cy="710.8" r="2.4"/><circle cx="835.1" cy="664.3" r="2.4"/><circle cx="835.4" cy="687.9" r="2.4"/><circle cx="835.7" cy="705.5" r="2.4"/><circle cx="836" cy="715.7" r="2.4"/><circle cx="836.3" cy="732.3" r="2.4"/><circle cx="836.6" cy="732.3" r="2.4"/><circle cx="836.9" cy="721.6" r="2.4"/><circle cx="837.2" cy="729.4" r="2.4"/><circle cx="837.6" cy="734.7" r="2.4"/><circle cx="837.9" cy="739.8" r="2.4"/><circle cx="838.2" cy="741.7" r="2.4"/><circle cx="838.5" cy="743.6" r="2.4"/><circle cx="838.8" cy="740.7" r="2.4"/><circle cx="839.1" cy="730.2" r="2.4"/><circle cx="839.4" cy="741.9" r="2.4"/><circle cx="839.8" cy="746.8" r="2.4"/><circle cx="840.1" cy="742.4" r="2.4"/><circle cx="840.4" cy="742.5" r="2.4"/><circle cx="840.7" cy="750.7" r="2.4"/><circle cx="841" cy="753.1" r="2.4"/><circle cx="841.3" cy="753.9" r="2.4"/><circle cx="841.6" cy="752" r="2.4"/><circle cx="841.9" cy="754.2" r="2.4"/><circle cx="842.3" cy="755.9" r="2.4"/><circle cx="842.6" cy="756.8" r="2.4"/><circle cx="842.9" cy="756.5" r="2.4"/><circle cx="843.2" cy="752.6" r="2.4"/><circle cx="843.5" cy="757.5" r="2.4"/><circle cx="843.8" cy="746" r="2.4"/><circle cx="844.1" cy="752.1" r="2.4"/><circle cx="844.5" cy="746.6" r="2.4"/><circle cx="844.8" cy="750.4" r="2.4"/><circle cx="845.1" cy="753.3" r="2.4"/><circle cx="845.4" cy="758.4" r="2.4"/><circle cx="845.7" cy="762" r="2.4"/><circle cx="846" cy="761.1" r="2.4"/><circle cx="846.3" cy="758.8" r="2.4"/><circle cx="846.6" cy="763.4" r="2.4"/><circle cx="847" cy="762.6" r="2.4"/><circle cx="847.3" cy="765.5" r="2.4"/><circle cx="847.6" cy="764.4" r="2.4"/><circle cx="847.9" cy="763.6" r="2.4"/><circle cx="848.2" cy="755.5" r="2.4"/><circle cx="848.5" cy="757.6" r="2.4"/><circle cx="848.8" cy="756" r="2.4"/><circle cx="849.2" cy="765.5" r="2.4"/><circle cx="849.5" cy="749.4" r="2.4"/><circle cx="849.8" cy="766.1" r="2.4"/><circle cx="850.1" cy="764.2" r="2.4"/><circle cx="850.4" cy="759.5" r="2.4"/><circle cx="850.7" cy="765.6" r="2.4"/><circle cx="851" cy="769.1" r="2.4"/><circle cx="851.3" cy="758.4" r="2.4"/><circle cx="851.7" cy="752.8" r="2.4"/><circle cx="852" cy="759.5" r="2.4"/><circle cx="852.3" cy="763.4" r="2.4"/><circle cx="852.6" cy="769.6" r="2.4"/><circle cx="852.9" cy="770.5" r="2.4"/><circle cx="853.2" cy="770.3" r="2.4"/><circle cx="853.5" cy="769.9" r="2.4"/><circle cx="853.9" cy="771.8" r="2.4"/><circle cx="854.2" cy="770.1" r="2.4"/><circle cx="854.5" cy="771.3" r="2.4"/><circle cx="854.8" cy="771.2" r="2.4"/><circle cx="855.1" cy="771.6" r="2.4"/><circle cx="855.4" cy="758.8" r="2.4"/><circle cx="855.7" cy="771.9" r="2.4"/><circle cx="856" cy="774.8" r="2.4"/><circle cx="856.4" cy="776" r="2.4"/><circle cx="856.7" cy="776.6" r="2.4"/><circle cx="857" cy="768.1" r="2.4"/><circle cx="857.3" cy="764.3" r="2.4"/><circle cx="857.6" cy="777.1" r="2.4"/><circle cx="857.9" cy="766.5" r="2.4"/><circle cx="858.2" cy="764.9" r="2.4"/><circle cx="858.6" cy="769.6" r="2.4"/><circle cx="858.9" cy="780.3" r="2.4"/><circle cx="859.2" cy="780.8" r="2.4"/><circle cx="859.5" cy="781.3" r="2.4"/><circle cx="859.8" cy="782.4" r="2.4"/><circle cx="860.1" cy="784.3" r="2.4"/><circle cx="860.4" cy="784.1" r="2.4"/><circle cx="860.7" cy="781.8" r="2.4"/><circle cx="861.1" cy="774" r="2.4"/><circle cx="861.4" cy="778.1" r="2.4"/><circle cx="861.7" cy="783.9" r="2.4"/><circle cx="862" cy="782.6" r="2.4"/><circle cx="862.3" cy="783.8" r="2.4"/><circle cx="862.6" cy="786.5" r="2.4"/><circle cx="862.9" cy="786.1" r="2.4"/><circle cx="863.3" cy="787.2" r="2.4"/><circle cx="863.6" cy="785.2" r="2.4"/><circle cx="863.9" cy="787.7" r="2.4"/><circle cx="864.2" cy="781" r="2.4"/><circle cx="864.5" cy="781.4" r="2.4"/><circle cx="864.8" cy="782.9" r="2.4"/><circle cx="865.1" cy="784.2" r="2.4"/><circle cx="865.4" cy="785.4" r="2.4"/><circle cx="865.8" cy="784.4" r="2.4"/><circle cx="866.1" cy="782.5" r="2.4"/><circle cx="866.4" cy="777.6" r="2.4"/><circle cx="866.7" cy="769.4" r="2.4"/><circle cx="867" cy="779" r="2.4"/><circle cx="867.3" cy="783.3" r="2.4"/><circle cx="867.6" cy="769.6" r="2.4"/><circle cx="868" cy="776.4" r="2.4"/><circle cx="868.3" cy="782" r="2.4"/><circle cx="868.6" cy="784.1" r="2.4"/><circle cx="868.9" cy="779.6" r="2.4"/><circle cx="869.2" cy="765.3" r="2.4"/><circle cx="869.5" cy="779.1" r="2.4"/><circle cx="869.8" cy="782" r="2.4"/><circle cx="870.1" cy="782" r="2.4"/><circle cx="870.5" cy="783.4" r="2.4"/><circle cx="870.8" cy="783.2" r="2.4"/><circle cx="871.1" cy="772.9" r="2.4"/><circle cx="871.4" cy="774.8" r="2.4"/><circle cx="871.7" cy="781.5" r="2.4"/><circle cx="872" cy="776.7" r="2.4"/><circle cx="872.3" cy="779.6" r="2.4"/><circle cx="872.7" cy="780.7" r="2.4"/><circle cx="873" cy="783.2" r="2.4"/><circle cx="873.3" cy="781.8" r="2.4"/><circle cx="873.6" cy="782.6" r="2.4"/><circle cx="873.9" cy="780.2" r="2.4"/><circle cx="874.2" cy="782.9" r="2.4"/><circle cx="874.5" cy="782.1" r="2.4"/><circle cx="874.8" cy="782.2" r="2.4"/><circle cx="875.2" cy="782.6" r="2.4"/><circle cx="875.5" cy="781.9" r="2.4"/><circle cx="875.8" cy="782.7" r="2.4"/><circle cx="876.1" cy="783.2" r="2.4"/><circle cx="876.4" cy="781.6" r="2.4"/><circle cx="876.7" cy="783.1" r="2.4"/><circle cx="877" cy="783.5" r="2.4"/><circle cx="877.4" cy="782.1" r="2.4"/><circle cx="877.7" cy="782.7" r="2.4"/><circle cx="878" cy="782.3" r="2.4"/><circle cx="878.3" cy="780.7" r="2.4"/><circle cx="878.6" cy="781.6" r="2.4"/><circle cx="878.9" cy="773.8" r="2.4"/><circle cx="879.2" cy="773.4" r="2.4"/><circle cx="879.5" cy="777.3" r="2.4"/><circle cx="879.9" cy="778.6" r="2.4"/><circle cx="880.2" cy="780.8" r="2.4"/><circle cx="880.5" cy="773" r="2.4"/><circle cx="880.8" cy="780.1" r="2.4"/><circle cx="881.1" cy="783.5" r="2.4"/><circle cx="881.4" cy="783.1" r="2.4"/><circle cx="881.7" cy="783" r="2.4"/><circle cx="882.1" cy="785.1" r="2.4"/><circle cx="882.4" cy="783.3" r="2.4"/><circle cx="882.7" cy="770.9" r="2.4"/><circle cx="883" cy="785" r="2.4"/><circle cx="883.3" cy="784.2" r="2.4"/><circle cx="883.6" cy="773.9" r="2.4"/><circle cx="883.9" cy="779.9" r="2.4"/><circle cx="884.2" cy="786" r="2.4"/><circle cx="884.6" cy="785.3" r="2.4"/><circle cx="884.9" cy="786.4" r="2.4"/><circle cx="885.2" cy="782.9" r="2.4"/><circle cx="885.5" cy="778.7" r="2.4"/><circle cx="885.8" cy="785.8" r="2.4"/><circle cx="886.1" cy="786" r="2.4"/><circle cx="886.4" cy="781.9" r="2.4"/><circle cx="886.8" cy="785.2" r="2.4"/><circle cx="887.1" cy="780" r="2.4"/><circle cx="887.4" cy="786.4" r="2.4"/><circle cx="887.7" cy="786.4" r="2.4"/><circle cx="888" cy="783.5" r="2.4"/><circle cx="888.3" cy="783.8" r="2.4"/><circle cx="888.6" cy="787.2" r="2.4"/><circle cx="888.9" cy="777.1" r="2.4"/><circle cx="889.3" cy="779.8" r="2.4"/><circle cx="889.6" cy="782.4" r="2.4"/><circle cx="889.9" cy="784.9" r="2.4"/><circle cx="890.2" cy="786.9" r="2.4"/><circle cx="890.5" cy="785.9" r="2.4"/><circle cx="890.8" cy="781.4" r="2.4"/><circle cx="891.1" cy="784.9" r="2.4"/><circle cx="891.5" cy="785.6" r="2.4"/><circle cx="891.8" cy="787.3" r="2.4"/><circle cx="892.1" cy="787.2" r="2.4"/><circle cx="892.4" cy="789.1" r="2.4"/><circle cx="892.7" cy="788.4" r="2.4"/><circle cx="893" cy="781.5" r="2.4"/><circle cx="893.3" cy="785.6" r="2.4"/><circle cx="893.6" cy="787.8" r="2.4"/><circle cx="894" cy="787.1" r="2.4"/><circle cx="894.3" cy="787.5" r="2.4"/><circle cx="894.6" cy="789.4" r="2.4"/><circle cx="894.9" cy="788.2" r="2.4"/><circle cx="895.2" cy="784.3" r="2.4"/><circle cx="895.5" cy="784" r="2.4"/><circle cx="895.8" cy="788.3" r="2.4"/><circle cx="896.2" cy="790.2" r="2.4"/><circle cx="896.5" cy="790.4" r="2.4"/><circle cx="896.8" cy="789.3" r="2.4"/><circle cx="897.1" cy="789.5" r="2.4"/><circle cx="897.4" cy="790.5" r="2.4"/><circle cx="897.7" cy="789.7" r="2.4"/><circle cx="898" cy="790.9" r="2.4"/><circle cx="898.3" cy="790.6" r="2.4"/><circle cx="898.7" cy="786.4" r="2.4"/><circle cx="899" cy="786.8" r="2.4"/><circle cx="899.3" cy="786.2" r="2.4"/><circle cx="899.6" cy="787.9" r="2.4"/><circle cx="899.9" cy="789.3" r="2.4"/><circle cx="900.2" cy="789.3" r="2.4"/><circle cx="900.5" cy="787.8" r="2.4"/><circle cx="900.9" cy="779.3" r="2.4"/><circle cx="901.2" cy="787.6" r="2.4"/><circle cx="901.5" cy="781.2" r="2.4"/><circle cx="901.8" cy="736.7" r="2.4"/><circle cx="902.1" cy="762.4" r="2.4"/><circle cx="902.4" cy="756.9" r="2.4"/><circle cx="902.7" cy="747.2" r="2.4"/><circle cx="903" cy="667.7" r="2.4"/><circle cx="903.4" cy="643.8" r="2.4"/><circle cx="903.7" cy="667.5" r="2.4"/><circle cx="904" cy="677.6" r="2.4"/><circle cx="904.3" cy="705.3" r="2.4"/><circle cx="904.6" cy="714.5" r="2.4"/><circle cx="904.9" cy="696.3" r="2.4"/><circle cx="905.2" cy="679.7" r="2.4"/><circle cx="905.6" cy="666.8" r="2.4"/><circle cx="905.9" cy="687.9" r="2.4"/><circle cx="906.2" cy="702.6" r="2.4"/><circle cx="906.5" cy="707.3" r="2.4"/><circle cx="906.8" cy="685.6" r="2.4"/><circle cx="907.1" cy="697.5" r="2.4"/><circle cx="907.4" cy="703.4" r="2.4"/><circle cx="907.7" cy="691.3" r="2.4"/><circle cx="908.1" cy="678.4" r="2.4"/><circle cx="908.4" cy="682.3" r="2.4"/><circle cx="908.7" cy="695.8" r="2.4"/><circle cx="909" cy="703.6" r="2.4"/><circle cx="909.3" cy="679.9" r="2.4"/><circle cx="909.6" cy="693.3" r="2.4"/><circle cx="909.9" cy="699.9" r="2.4"/><circle cx="910.3" cy="697.5" r="2.4"/><circle cx="910.6" cy="691.1" r="2.4"/><circle cx="910.9" cy="650.3" r="2.4"/><circle cx="911.2" cy="659.5" r="2.4"/><circle cx="911.5" cy="642.7" r="2.4"/><circle cx="911.8" cy="640.8" r="2.4"/><circle cx="912.1" cy="650.1" r="2.4"/><circle cx="912.4" cy="612.4" r="2.4"/><circle cx="912.8" cy="626.2" r="2.4"/><circle cx="913.1" cy="625.9" r="2.4"/><circle cx="913.4" cy="651.2" r="2.4"/><circle cx="913.7" cy="658.2" r="2.4"/><circle cx="914" cy="666.3" r="2.4"/><circle cx="914.3" cy="670" r="2.4"/><circle cx="914.6" cy="676.8" r="2.4"/><circle cx="915" cy="666.7" r="2.4"/><circle cx="915.3" cy="666.1" r="2.4"/><circle cx="915.6" cy="634.7" r="2.4"/><circle cx="915.9" cy="643.7" r="2.4"/><circle cx="916.2" cy="650.1" r="2.4"/><circle cx="916.5" cy="672.1" r="2.4"/><circle cx="916.8" cy="688" r="2.4"/><circle cx="917.1" cy="691.1" r="2.4"/><circle cx="917.5" cy="698.2" r="2.4"/><circle cx="917.8" cy="701" r="2.4"/><circle cx="918.1" cy="701.7" r="2.4"/><circle cx="918.4" cy="650.1" r="2.4"/><circle cx="918.7" cy="670.8" r="2.4"/><circle cx="919" cy="656.1" r="2.4"/><circle cx="919.3" cy="661" r="2.4"/><circle cx="919.7" cy="668.4" r="2.4"/><circle cx="920" cy="678.6" r="2.4"/><circle cx="920.3" cy="692.9" r="2.4"/><circle cx="920.6" cy="698.4" r="2.4"/><circle cx="920.9" cy="709.4" r="2.4"/><circle cx="921.2" cy="700.4" r="2.4"/><circle cx="921.5" cy="717.1" r="2.4"/><circle cx="921.8" cy="698" r="2.4"/><circle cx="922.2" cy="680.2" r="2.4"/><circle cx="922.5" cy="702.5" r="2.4"/><circle cx="922.8" cy="693.9" r="2.4"/><circle cx="923.1" cy="698" r="2.4"/><circle cx="923.4" cy="710.8" r="2.4"/><circle cx="923.7" cy="677.5" r="2.4"/><circle cx="924" cy="688.8" r="2.4"/><circle cx="924.4" cy="654.8" r="2.4"/><circle cx="924.7" cy="667.6" r="2.4"/><circle cx="925" cy="672.5" r="2.4"/><circle cx="925.3" cy="641.9" r="2.4"/><circle cx="925.6" cy="610.9" r="2.4"/><circle cx="925.9" cy="640.1" r="2.4"/><circle cx="926.2" cy="665.7" r="2.4"/><circle cx="926.5" cy="659.7" r="2.4"/><circle cx="926.9" cy="696.3" r="2.4"/><circle cx="927.2" cy="705.4" r="2.4"/><circle cx="927.5" cy="712.1" r="2.4"/><circle cx="927.8" cy="669.8" r="2.4"/><circle cx="928.1" cy="689.6" r="2.4"/><circle cx="928.4" cy="700" r="2.4"/><circle cx="928.7" cy="705.9" r="2.4"/><circle cx="929.1" cy="680.5" r="2.4"/><circle cx="929.4" cy="693.8" r="2.4"/><circle cx="929.7" cy="690.2" r="2.4"/><circle cx="930" cy="673.9" r="2.4"/><circle cx="930.3" cy="699.9" r="2.4"/><circle cx="930.6" cy="699.3" r="2.4"/><circle cx="930.9" cy="703.8" r="2.4"/><circle cx="931.2" cy="713.3" r="2.4"/><circle cx="931.6" cy="715.5" r="2.4"/><circle cx="931.9" cy="723.1" r="2.4"/><circle cx="932.2" cy="722.7" r="2.4"/><circle cx="932.5" cy="715.6" r="2.4"/><circle cx="932.8" cy="719.2" r="2.4"/><circle cx="933.1" cy="671.8" r="2.4"/><circle cx="933.4" cy="670.3" r="2.4"/><circle cx="933.8" cy="670.4" r="2.4"/><circle cx="934.1" cy="670.2" r="2.4"/><circle cx="934.4" cy="663.2" r="2.4"/><circle cx="934.7" cy="663.6" r="2.4"/><circle cx="935" cy="606.2" r="2.4"/><circle cx="935.3" cy="626.9" r="2.4"/><circle cx="935.6" cy="641.4" r="2.4"/><circle cx="935.9" cy="652.5" r="2.4"/><circle cx="936.3" cy="668.2" r="2.4"/><circle cx="936.6" cy="642.9" r="2.4"/><circle cx="936.9" cy="618.4" r="2.4"/><circle cx="937.2" cy="631.7" r="2.4"/><circle cx="937.5" cy="648.8" r="2.4"/><circle cx="937.8" cy="652.4" r="2.4"/><circle cx="938.1" cy="624.5" r="2.4"/><circle cx="938.5" cy="645.1" r="2.4"/><circle cx="938.8" cy="626.6" r="2.4"/><circle cx="939.1" cy="634.4" r="2.4"/><circle cx="939.4" cy="648" r="2.4"/><circle cx="939.7" cy="639.5" r="2.4"/><circle cx="940" cy="645.5" r="2.4"/><circle cx="940.3" cy="633.2" r="2.4"/><circle cx="940.7" cy="633.3" r="2.4"/><circle cx="941" cy="643.8" r="2.4"/><circle cx="941.3" cy="650" r="2.4"/><circle cx="941.6" cy="654.7" r="2.4"/><circle cx="941.9" cy="661" r="2.4"/><circle cx="942.2" cy="665.8" r="2.4"/><circle cx="942.5" cy="643.2" r="2.4"/><circle cx="942.8" cy="647.4" r="2.4"/><circle cx="943.2" cy="650.2" r="2.4"/><circle cx="943.5" cy="663.7" r="2.4"/><circle cx="943.8" cy="670.5" r="2.4"/><circle cx="944.1" cy="693.9" r="2.4"/><circle cx="944.4" cy="700.6" r="2.4"/><circle cx="944.7" cy="702.6" r="2.4"/><circle cx="945" cy="683.3" r="2.4"/><circle cx="945.4" cy="702.6" r="2.4"/><circle cx="945.7" cy="708.1" r="2.4"/><circle cx="946" cy="708" r="2.4"/><circle cx="946.3" cy="694.1" r="2.4"/><circle cx="946.6" cy="699.2" r="2.4"/><circle cx="946.9" cy="667.6" r="2.4"/><circle cx="947.2" cy="676.7" r="2.4"/><circle cx="947.5" cy="697.2" r="2.4"/><circle cx="947.9" cy="703.7" r="2.4"/><circle cx="948.2" cy="712.7" r="2.4"/><circle cx="948.5" cy="714.4" r="2.4"/><circle cx="948.8" cy="716" r="2.4"/><circle cx="949.1" cy="716.1" r="2.4"/><circle cx="949.4" cy="688" r="2.4"/><circle cx="949.7" cy="677.7" r="2.4"/><circle cx="950.1" cy="686.7" r="2.4"/><circle cx="950.4" cy="693.4" r="2.4"/><circle cx="950.7" cy="682.5" r="2.4"/><circle cx="951" cy="696.6" r="2.4"/><circle cx="951.3" cy="707.7" r="2.4"/><circle cx="951.6" cy="713.5" r="2.4"/><circle cx="951.9" cy="692.1" r="2.4"/><circle cx="952.2" cy="695.8" r="2.4"/><circle cx="952.6" cy="704" r="2.4"/><circle cx="952.9" cy="717.9" r="2.4"/><circle cx="953.2" cy="705.5" r="2.4"/><circle cx="953.5" cy="712.7" r="2.4"/><circle cx="953.8" cy="717" r="2.4"/><circle cx="954.1" cy="723.2" r="2.4"/><circle cx="954.4" cy="725.8" r="2.4"/><circle cx="954.8" cy="727.9" r="2.4"/><circle cx="955.1" cy="703.6" r="2.4"/><circle cx="955.4" cy="718.2" r="2.4"/><circle cx="955.7" cy="716.4" r="2.4"/><circle cx="956" cy="732.4" r="2.4"/><circle cx="956.3" cy="724.1" r="2.4"/><circle cx="956.6" cy="732.4" r="2.4"/><circle cx="956.9" cy="728" r="2.4"/><circle cx="957.3" cy="738.1" r="2.4"/><circle cx="957.6" cy="743" r="2.4"/><circle cx="957.9" cy="744.7" r="2.4"/><circle cx="958.2" cy="742.9" r="2.4"/><circle cx="958.5" cy="746.4" r="2.4"/><circle cx="958.8" cy="749.2" r="2.4"/><circle cx="959.1" cy="743.5" r="2.4"/><circle cx="959.5" cy="750" r="2.4"/><circle cx="959.8" cy="753.5" r="2.4"/><circle cx="960.1" cy="743.5" r="2.4"/><circle cx="960.4" cy="739.5" r="2.4"/><circle cx="960.7" cy="753.5" r="2.4"/><circle cx="961" cy="749.7" r="2.4"/><circle cx="961.3" cy="745.9" r="2.4"/><circle cx="961.6" cy="749.3" r="2.4"/><circle cx="962" cy="747.9" r="2.4"/><circle cx="962.3" cy="759.2" r="2.4"/><circle cx="962.6" cy="761.4" r="2.4"/><circle cx="962.9" cy="762.6" r="2.4"/><circle cx="963.2" cy="762.1" r="2.4"/><circle cx="963.5" cy="764.6" r="2.4"/><circle cx="963.8" cy="764.9" r="2.4"/><circle cx="964.2" cy="759.9" r="2.4"/><circle cx="964.5" cy="753.4" r="2.4"/><circle cx="964.8" cy="757.1" r="2.4"/><circle cx="965.1" cy="761.8" r="2.4"/><circle cx="965.4" cy="766.9" r="2.4"/><circle cx="965.7" cy="766.6" r="2.4"/><circle cx="966" cy="768.6" r="2.4"/><circle cx="966.3" cy="767.6" r="2.4"/><circle cx="966.7" cy="768.9" r="2.4"/><circle cx="967" cy="767.2" r="2.4"/><circle cx="967.3" cy="766.2" r="2.4"/><circle cx="967.6" cy="769.5" r="2.4"/><circle cx="967.9" cy="765.1" r="2.4"/><circle cx="968.2" cy="760.6" r="2.4"/><circle cx="968.5" cy="763.4" r="2.4"/><circle cx="968.9" cy="765.8" r="2.4"/><circle cx="969.2" cy="766.8" r="2.4"/><circle cx="969.5" cy="767.9" r="2.4"/><circle cx="969.8" cy="769.3" r="2.4"/><circle cx="970.1" cy="769.3" r="2.4"/><circle cx="970.4" cy="768.8" r="2.4"/><circle cx="970.7" cy="759.8" r="2.4"/><circle cx="971" cy="768.1" r="2.4"/><circle cx="971.4" cy="767.7" r="2.4"/><circle cx="971.7" cy="767.7" r="2.4"/><circle cx="972" cy="768.7" r="2.4"/><circle cx="972.3" cy="769.4" r="2.4"/><circle cx="972.6" cy="762.3" r="2.4"/><circle cx="972.9" cy="762" r="2.4"/><circle cx="973.2" cy="769.3" r="2.4"/><circle cx="973.6" cy="773.1" r="2.4"/><circle cx="973.9" cy="775.2" r="2.4"/><circle cx="974.2" cy="773.6" r="2.4"/><circle cx="974.5" cy="777.2" r="2.4"/><circle cx="974.8" cy="775.3" r="2.4"/><circle cx="975.1" cy="778.9" r="2.4"/><circle cx="975.4" cy="768.3" r="2.4"/><circle cx="975.7" cy="776.4" r="2.4"/><circle cx="976.1" cy="778.8" r="2.4"/><circle cx="976.4" cy="780" r="2.4"/><circle cx="976.7" cy="781" r="2.4"/><circle cx="977" cy="779.3" r="2.4"/><circle cx="977.3" cy="781.4" r="2.4"/><circle cx="977.6" cy="778.6" r="2.4"/><circle cx="977.9" cy="781" r="2.4"/><circle cx="978.3" cy="778" r="2.4"/><circle cx="978.6" cy="780" r="2.4"/><circle cx="978.9" cy="778.2" r="2.4"/><circle cx="979.2" cy="780.6" r="2.4"/><circle cx="979.5" cy="777.8" r="2.4"/><circle cx="979.8" cy="779" r="2.4"/><circle cx="980.1" cy="779.4" r="2.4"/><circle cx="980.4" cy="780.6" r="2.4"/><circle cx="980.8" cy="780.7" r="2.4"/><circle cx="981.1" cy="779.4" r="2.4"/><circle cx="981.4" cy="780.1" r="2.4"/><circle cx="981.7" cy="775.6" r="2.4"/><circle cx="982" cy="770.7" r="2.4"/><circle cx="982.3" cy="778.5" r="2.4"/><circle cx="982.6" cy="772.5" r="2.4"/><circle cx="983" cy="777.8" r="2.4"/><circle cx="983.3" cy="779.6" r="2.4"/><circle cx="983.6" cy="780.5" r="2.4"/><circle cx="983.9" cy="779.5" r="2.4"/><circle cx="984.2" cy="779.6" r="2.4"/><circle cx="984.5" cy="779" r="2.4"/><circle cx="984.8" cy="779.7" r="2.4"/><circle cx="985.1" cy="779.3" r="2.4"/><circle cx="985.5" cy="777.9" r="2.4"/><circle cx="985.8" cy="780" r="2.4"/><circle cx="986.1" cy="779.7" r="2.4"/><circle cx="986.4" cy="778.6" r="2.4"/><circle cx="986.7" cy="778.3" r="2.4"/><circle cx="987" cy="777.6" r="2.4"/><circle cx="987.3" cy="778.4" r="2.4"/><circle cx="987.7" cy="778.2" r="2.4"/><circle cx="988" cy="779.7" r="2.4"/><circle cx="988.3" cy="777.8" r="2.4"/><circle cx="988.6" cy="778.5" r="2.4"/><circle cx="988.9" cy="760.8" r="2.4"/><circle cx="989.2" cy="770.8" r="2.4"/><circle cx="989.5" cy="776.2" r="2.4"/><circle cx="989.8" cy="766.4" r="2.4"/><circle cx="990.2" cy="777.8" r="2.4"/><circle cx="990.5" cy="773.2" r="2.4"/><circle cx="990.8" cy="776.4" r="2.4"/><circle cx="991.1" cy="777.4" r="2.4"/><circle cx="991.4" cy="777.3" r="2.4"/><circle cx="991.7" cy="779.3" r="2.4"/><circle cx="992" cy="774.2" r="2.4"/><circle cx="992.4" cy="780" r="2.4"/><circle cx="992.7" cy="780.4" r="2.4"/><circle cx="993" cy="776.1" r="2.4"/><circle cx="993.3" cy="779.6" r="2.4"/><circle cx="993.6" cy="779.8" r="2.4"/><circle cx="993.9" cy="783" r="2.4"/><circle cx="994.2" cy="777.6" r="2.4"/><circle cx="994.5" cy="780" r="2.4"/><circle cx="994.9" cy="779.7" r="2.4"/><circle cx="995.2" cy="781.5" r="2.4"/><circle cx="995.5" cy="782.4" r="2.4"/><circle cx="995.8" cy="781.9" r="2.4"/><circle cx="996.1" cy="781.6" r="2.4"/><circle cx="996.4" cy="781.4" r="2.4"/><circle cx="996.7" cy="782.8" r="2.4"/><circle cx="997.1" cy="782.2" r="2.4"/><circle cx="997.4" cy="782.1" r="2.4"/><circle cx="997.7" cy="783.8" r="2.4"/><circle cx="998" cy="782.9" r="2.4"/><circle cx="998.3" cy="783.8" r="2.4"/><circle cx="998.6" cy="784.6" r="2.4"/><circle cx="998.9" cy="780.6" r="2.4"/><circle cx="999.2" cy="782.6" r="2.4"/><circle cx="999.6" cy="783.8" r="2.4"/><circle cx="999.9" cy="784.4" r="2.4"/><circle cx="1000.2" cy="784" r="2.4"/><circle cx="1000.5" cy="784.8" r="2.4"/><circle cx="1000.8" cy="784.4" r="2.4"/><circle cx="1001.1" cy="784" r="2.4"/><circle cx="1001.4" cy="787.4" r="2.4"/><circle cx="1001.8" cy="785.2" r="2.4"/><circle cx="1002.1" cy="785.2" r="2.4"/><circle cx="1002.4" cy="786.2" r="2.4"/><circle cx="1002.7" cy="782.1" r="2.4"/><circle cx="1003" cy="787.2" r="2.4"/><circle cx="1003.3" cy="786.4" r="2.4"/><circle cx="1003.6" cy="787.4" r="2.4"/><circle cx="1003.9" cy="786.5" r="2.4"/><circle cx="1004.3" cy="783.6" r="2.4"/><circle cx="1004.6" cy="787" r="2.4"/><circle cx="1004.9" cy="782.1" r="2.4"/><circle cx="1005.2" cy="787.2" r="2.4"/><circle cx="1005.5" cy="788.1" r="2.4"/><circle cx="1005.8" cy="788.1" r="2.4"/><circle cx="1006.1" cy="789.1" r="2.4"/><circle cx="1006.5" cy="787.7" r="2.4"/><circle cx="1006.8" cy="787.3" r="2.4"/><circle cx="1007.1" cy="781" r="2.4"/><circle cx="1007.4" cy="783.1" r="2.4"/><circle cx="1007.7" cy="784.4" r="2.4"/><circle cx="1008" cy="783.8" r="2.4"/><circle cx="1008.3" cy="777.6" r="2.4"/><circle cx="1008.6" cy="771.6" r="2.4"/><circle cx="1009" cy="766.3" r="2.4"/><circle cx="1009.3" cy="753.9" r="2.4"/><circle cx="1009.6" cy="764.8" r="2.4"/><circle cx="1009.9" cy="772.2" r="2.4"/><circle cx="1010.2" cy="776.8" r="2.4"/><circle cx="1010.5" cy="785" r="2.4"/><circle cx="1010.8" cy="784.6" r="2.4"/><circle cx="1011.2" cy="780" r="2.4"/><circle cx="1011.5" cy="782.6" r="2.4"/><circle cx="1011.8" cy="785.8" r="2.4"/><circle cx="1012.1" cy="786.2" r="2.4"/><circle cx="1012.4" cy="784" r="2.4"/><circle cx="1012.7" cy="786.7" r="2.4"/><circle cx="1013" cy="786.5" r="2.4"/><circle cx="1013.3" cy="789" r="2.4"/><circle cx="1013.7" cy="788.3" r="2.4"/><circle cx="1014" cy="787.8" r="2.4"/><circle cx="1014.3" cy="784.7" r="2.4"/><circle cx="102" cy="594" r="2.4"/><circle cx="263.3" cy="544.6" r="2.4"/><circle cx="104.8" cy="635.4" r="2.4"/><circle cx="206" cy="665.2" r="2.4"/><circle cx="206" cy="680.2" r="2.4"/><circle cx="232.2" cy="611.7" r="2.4"/><circle cx="249.2" cy="631.9" r="2.4"/><circle cx="253.9" cy="656" r="2.4"/><circle cx="267.2" cy="635.4" r="2.4"/><circle cx="153.4" cy="700.8" r="2.4"/><circle cx="165.1" cy="709.3" r="2.4"/><circle cx="325.2" cy="640" r="2.4"/><circle cx="331" cy="640" r="2.4"/><circle cx="325.5" cy="640" r="2.4"/><circle cx="330.9" cy="640" r="2.4"/><circle cx="336" cy="656" r="2.4"/><circle cx="347.7" cy="600.9" r="2.4"/><circle cx="345.4" cy="608.9" r="2.4"/><circle cx="447.5" cy="626.2" r="2.4"/><circle cx="445.9" cy="643.4" r="2.4"/><circle cx="451.7" cy="657.2" r="2.4"/><circle cx="456.4" cy="600.9" r="2.4"/><circle cx="470.4" cy="596.3" r="2.4"/><circle cx="514.1" cy="622.7" r="2.4"/><circle cx="560.8" cy="594" r="2.4"/><circle cx="559.2" cy="777.8" r="2.4"/><circle cx="559.2" cy="784.7" r="2.4"/><circle cx="561.1" cy="594" r="2.4"/><circle cx="571.7" cy="620" r="2.4"/><circle cx="571.2" cy="645.7" r="2.4"/><circle cx="573.5" cy="642.2" r="2.4"/><circle cx="599.7" cy="652.6" r="2.4"/><circle cx="604.6" cy="652.6" r="2.4"/><circle cx="644.8" cy="668" r="2.4"/><circle cx="644.8" cy="688.2" r="2.4"/><circle cx="667.5" cy="652.6" r="2.4"/><circle cx="669.3" cy="671" r="2.4"/><circle cx="678" cy="575.6" r="2.4"/><circle cx="777.5" cy="605.5" r="2.4"/><circle cx="559.5" cy="777.8" r="2.4"/><circle cx="559.5" cy="784.7" r="2.4"/><circle cx="665.8" cy="774.4" r="2.4"/><circle cx="674" cy="765.2" r="2.4"/><circle cx="665.8" cy="767.5" r="2.4"/><circle cx="810" cy="630.8" r="2.4"/><circle cx="810.5" cy="650.3" r="2.4"/><circle cx="903.5" cy="633.1" r="2.4"/><circle cx="915.2" cy="611.2" r="2.4"/><circle cx="845.5" cy="738.1" r="2.4"/><circle cx="850.2" cy="741.5" r="2.4"/><circle cx="988.8" cy="750.2" r="2.4"/>
</g>
<path d="M99.0 819.5V451.7H1014.6V819.5" fill="none" stroke="#767676" stroke-width="1.7"/>
<path d="M99.0 782.1h4.9M99.0 760.6h4.9M99.0 745.3h4.9M99.0 733.4h4.9M99.0 723.7h4.9M99.0 715.5h4.9M99.0 708.4h4.9M99.0 702.2h4.9M99.0 659.7h4.9M99.0 638.2h4.9M99.0 622.9h4.9M99.0 611.0h4.9M99.0 601.3h4.9M99.0 593.1h4.9M99.0 586.0h4.9M99.0 579.7h4.9M99.0 537.3h4.9M99.0 515.7h4.9M99.0 500.4h4.9M99.0 488.6h4.9M99.0 478.9h4.9M99.0 470.7h4.9M99.0 463.6h4.9M99.0 457.3h4.9M99.0 696.6h4.9M99.0 574.1h4.9" stroke="#767676" stroke-width="1.4" fill="none"/>
<text x="79.2" y="458.3" font-size="18" text-anchor="end" textLength="40.5" lengthAdjust="spacingAndGlyphs" fill="#595959">1000</text>
<text x="79.2" y="580.7" font-size="18" text-anchor="end" textLength="30.3" lengthAdjust="spacingAndGlyphs" fill="#595959">100</text>
<text x="79.2" y="703.2" font-size="18" text-anchor="end" textLength="20.2" lengthAdjust="spacingAndGlyphs" fill="#595959">10</text>
<text x="79.2" y="825.6" font-size="18" text-anchor="end" textLength="8" lengthAdjust="spacingAndGlyphs" fill="#595959">1</text>
<text x="99.0" y="852.6" font-size="18.5" text-anchor="middle" textLength="56.5" lengthAdjust="spacingAndGlyphs" fill="#595959">Jan/91</text>
<text x="213.4" y="852.6" font-size="18.5" text-anchor="middle" textLength="56.5" lengthAdjust="spacingAndGlyphs" fill="#595959">Jan/92</text>
<text x="327.9" y="852.6" font-size="18.5" text-anchor="middle" textLength="56.5" lengthAdjust="spacingAndGlyphs" fill="#595959">Jan/93</text>
<text x="442.4" y="852.6" font-size="18.5" text-anchor="middle" textLength="56.5" lengthAdjust="spacingAndGlyphs" fill="#595959">Jan/94</text>
<text x="556.8" y="852.6" font-size="18.5" text-anchor="middle" textLength="56.5" lengthAdjust="spacingAndGlyphs" fill="#595959">Jan/95</text>
<text x="671.2" y="852.6" font-size="18.5" text-anchor="middle" textLength="56.5" lengthAdjust="spacingAndGlyphs" fill="#595959">Jan/96</text>
<text x="785.7" y="852.6" font-size="18.5" text-anchor="middle" textLength="56.5" lengthAdjust="spacingAndGlyphs" fill="#595959">Jan/97</text>
<text x="900.1" y="852.6" font-size="18.5" text-anchor="middle" textLength="56.5" lengthAdjust="spacingAndGlyphs" fill="#595959">Jan/98</text>
<g transform="translate(23.6 636.4) rotate(-90)"><text x="0" y="0" font-size="18.5" text-anchor="middle" textLength="157" lengthAdjust="spacingAndGlyphs" fill="#595959">Daily flow (m<tspan font-size="12" dy="-6">3</tspan><tspan dy="6">/s)</tspan></text></g>
<text x="139.9" y="486.3" font-size="23.5" textLength="29.5" lengthAdjust="spacingAndGlyphs" font-weight="bold" fill="#000" stroke="#000" stroke-width="0.5">(b)</text>
<rect x="445.2" y="463.8" width="551.9000000000001" height="43.30000000000001" fill="#fff" stroke="#767676" stroke-width="1.4"/>
<line x1="515.6" x2="560.4" y1="485.4" y2="485.4" stroke="#7f7f7f" stroke-width="1.7"/>
<text x="566.2" y="492.0" font-size="18.5" textLength="165" lengthAdjust="spacingAndGlyphs" fill="#595959">Parameter set #179</text>
<circle cx="825.1" cy="485.7" r="2.4" fill="#7f7f7f"/>
<text x="852.9" y="492.0" font-size="18.5" textLength="80" lengthAdjust="spacingAndGlyphs" fill="#595959">Observed</text>
<path d="M96.2 877.6V1196.2M112.4 877.6V1196.2M128.6 877.6V1196.2M144.8 877.6V1196.2M177.1 877.6V1196.2M193.3 877.6V1196.2M209.5 877.6V1196.2M225.7 877.6V1196.2M258.1 877.6V1196.2M274.3 877.6V1196.2M290.4 877.6V1196.2M306.6 877.6V1196.2M339.0 877.6V1196.2M355.2 877.6V1196.2M371.4 877.6V1196.2M387.6 877.6V1196.2M419.9 877.6V1196.2M436.1 877.6V1196.2M452.3 877.6V1196.2M468.5 877.6V1196.2M80 1164.2H484.7M80 1145.5H484.7M80 1132.3H484.7M80 1122.0H484.7M80 1113.6H484.7M80 1106.5H484.7M80 1100.3H484.7M80 1094.9H484.7M80 1058.0H484.7M80 1039.3H484.7M80 1026.1H484.7M80 1015.8H484.7M80 1007.4H484.7M80 1000.3H484.7M80 994.1H484.7M80 988.7H484.7M80 951.8H484.7M80 933.1H484.7M80 919.9H484.7M80 909.6H484.7M80 901.2H484.7M80 894.1H484.7M80 887.9H484.7M80 882.5H484.7" stroke="#ebebeb" stroke-width="1.5" fill="none"/>
<path d="M160.9 877.6V1196.2M241.9 877.6V1196.2M322.8 877.6V1196.2M403.8 877.6V1196.2M80 1090.0H484.7M80 983.8H484.7" stroke="#c8c8c8" stroke-width="1.5" fill="none"/>
<line x1="80" x2="484.7" y1="1196.2" y2="1196.2" stroke="#bdbdbd" stroke-width="1.5"/>
<line x1="80" x2="80" y1="877.6" y2="1196.2" stroke="#a6a6a6" stroke-width="1.5"/>
<clipPath id="cpc"><rect x="79.2" y="877.6" width="406.5" height="319.40000000000003"/></clipPath>
<polyline clip-path="url(#cpc)" points="80,952.5 80.5,985 81,1005 84,1020 85.5,1024.7 87,1028.7 88.5,1032 90,1035 91.5,1037.7 93,1040.3 94.5,1042.6 96,1044.7 97.5,1046.8 99,1048.7 100.5,1050.6 102,1052.5 103.5,1054.2 105,1055.9 106.5,1057.5 108,1059.1 109.5,1060.5 111,1061.9 112.5,1063.2 114,1064.5 115.5,1065.7 117,1066.9 118.5,1068 120,1069 121.5,1070 123,1070.9 124.5,1071.8 126,1072.7 127.5,1073.5 129,1074.3 130.5,1075.1 132,1075.9 133.5,1076.7 135,1077.4 136.5,1078.2 138,1079 139.5,1079.7 141,1080.5 142.5,1081.3 144,1082.1 145.5,1082.9 147,1083.7 148.5,1084.5 150,1085.2 151.5,1086 153,1086.7 154.5,1087.5 156,1088.2 157.5,1088.9 159,1089.6 160.5,1090.2 162,1090.8 163.5,1091.5 165,1092.1 166.5,1092.7 168,1093.2 169.5,1093.8 171,1094.4 172.5,1094.9 174,1095.4 175.5,1096 177,1096.5 178.5,1097 180,1097.5 181.5,1098 183,1098.5 184.5,1099 186,1099.4 187.5,1099.9 189,1100.3 190.5,1100.8 192,1101.2 193.5,1101.6 195,1102.1 196.5,1102.5 198,1102.9 199.5,1103.4 201,1103.8 202.5,1104.2 204,1104.6 205.5,1105 207,1105.4 208.5,1105.8 210,1106.2 211.5,1106.7 213,1107.1 214.5,1107.5 216,1107.9 217.5,1108.3 219,1108.7 220.5,1109.1 222,1109.6 223.5,1110 225,1110.5 226.5,1110.9 228,1111.4 229.5,1111.8 231,1112.3 232.5,1112.7 234,1113.2 235.5,1113.6 237,1114.1 238.5,1114.5 240,1115 241.5,1115.4 243,1115.9 244.5,1116.3 246,1116.8 247.5,1117.2 249,1117.7 250.5,1118.1 252,1118.6 253.5,1119 255,1119.5 256.5,1119.9 258,1120.4 259.5,1120.8 261,1121.3 262.5,1121.8 264,1122.3 265.5,1122.8 267,1123.3 268.5,1123.8 270,1124.3 271.5,1124.8 273,1125.3 274.5,1125.8 276,1126.3 277.5,1126.7 279,1127.2 280.5,1127.6 282,1128.1 283.5,1128.5 285,1129 286.5,1129.4 288,1129.9 289.5,1130.3 291,1130.7 292.5,1131.2 294,1131.6 295.5,1131.9 297,1132.3 298.5,1132.7 300,1133 301.5,1133.3 303,1133.6 304.5,1133.9 306,1134.2 307.5,1134.4 309,1134.7 310.5,1134.9 312,1135.2 313.5,1135.4 315,1135.7 316.5,1135.9 318,1136.2 319.5,1136.4 321,1136.7 322.5,1136.9 324,1137.2 325.5,1137.4 327,1137.7 328.5,1138 330,1138.2 331.5,1138.5 333,1138.7 334.5,1139 336,1139.3 337.5,1139.5 339,1139.8 340.5,1140.1 342,1140.4 343.5,1140.7 345,1141 346.5,1141.3 348,1141.6 349.5,1141.9 351,1142.2 352.5,1142.5 354,1142.8 355.5,1143.1 357,1143.4 358.5,1143.7 360,1144 361.5,1144.3 363,1144.5 364.5,1144.8 366,1145.1 367.5,1145.3 369,1145.6 370.5,1145.8 372,1146.1 373.5,1146.3 375,1146.6 376.5,1146.9 378,1147.1 379.5,1147.4 381,1147.7 382.5,1148 384,1148.3 385.5,1148.5 387,1148.8 388.5,1149.1 390,1149.4 391.5,1149.7 393,1150 394.5,1150.4 396,1150.7 397.5,1151 399,1151.3 400.5,1151.6 402,1151.9 403.5,1152.3 405,1152.6 406.5,1152.9 408,1153.3 409.5,1153.6 411,1153.9 412.5,1154.3 414,1154.6 415.5,1155 417,1155.3 418.5,1155.7 420,1156 421.5,1156.3 423,1156.7 424.5,1157 426,1157.3 427.5,1157.6 429,1158 430.5,1158.3 432,1158.6 433.5,1159 435,1159.3 436.5,1159.7 438,1160 439.5,1160.4 441,1160.7 442.5,1161.1 444,1161.5 445.5,1161.9 447,1162.3 448.5,1162.7 450,1163.1 451.5,1163.5 453,1163.9 454.5,1164.4 456,1164.8 457.5,1165.3 459,1165.7 460.5,1166.2 462,1166.6 463.5,1167 465,1167.5 466.5,1167.9 468,1168.3 469.5,1168.8 471,1169.4 472.5,1169.9 474,1170.5 475.5,1171.2 477,1172 478.5,1172.9 480,1174 481,1175 481.5,1175.7 483,1178.8 483.5,1180 484.5,1183.1 484.8,1184" fill="none" stroke="#808080" stroke-width="3.6" stroke-linejoin="round" stroke-linecap="round"/>
<polyline clip-path="url(#cpc)" points="80,952.5 80.5,982.5 81,1002.5 85,1020 86.5,1024.5 88,1028.3 89.5,1031.5 91,1034.3 92.5,1036.8 94,1039 95.5,1041.1 97,1043 98.5,1044.8 100,1046.5 101.5,1048.1 103,1049.7 104.5,1051.1 106,1052.5 107.5,1053.9 109,1055.2 110.5,1056.4 112,1057.7 113.5,1058.9 115,1060 116.5,1061.1 118,1062.2 119.5,1063.2 121,1064.1 122.5,1065 124,1065.9 125.5,1066.7 127,1067.5 128.5,1068.3 130,1069.1 131.5,1069.8 133,1070.6 134.5,1071.3 136,1072 137.5,1072.8 139,1073.5 140.5,1074.2 142,1075 143.5,1075.7 145,1076.5 146.5,1077.2 148,1077.9 149.5,1078.7 151,1079.4 152.5,1080.1 154,1080.8 155.5,1081.5 157,1082.2 158.5,1082.8 160,1083.5 161.5,1084.1 163,1084.8 164.5,1085.4 166,1086.1 167.5,1086.7 169,1087.3 170.5,1087.9 172,1088.5 173.5,1089.1 175,1089.7 176.5,1090.3 178,1090.8 179.5,1091.3 181,1091.8 182.5,1092.3 184,1092.8 185.5,1093.3 187,1093.7 188.5,1094.2 190,1094.6 191.5,1095 193,1095.5 194.5,1095.9 196,1096.3 197.5,1096.8 199,1097.2 200.5,1097.7 202,1098.1 203.5,1098.6 205,1099 206.5,1099.5 208,1099.9 209.5,1100.4 211,1100.8 212.5,1101.3 214,1101.7 215.5,1102.2 217,1102.6 218.5,1103.1 220,1103.5 221.5,1103.9 223,1104.3 224.5,1104.7 226,1105 227.5,1105.4 229,1105.7 230.5,1106.1 232,1106.4 233.5,1106.8 235,1107.3 236.5,1107.7 238,1108.2 239.5,1108.8 241,1109.5 242.5,1110.3 244,1111.4 245.5,1112.5 247,1113.6 248.5,1114.6 250,1115.5 251.5,1116.3 253,1117 254.5,1117.7 256,1118.4 257.5,1119 259,1119.6 260.5,1120.2 262,1120.8 263.5,1121.4 265,1121.9 266.5,1122.5 268,1123 269.5,1123.5 271,1124 272.5,1124.5 274,1125 275.5,1125.5 277,1126 278.5,1126.5 280,1127 281.5,1127.5 283,1128 284.5,1128.5 286,1129 287.5,1129.5 289,1129.9 290.5,1130.4 292,1130.9 293.5,1131.3 295,1131.7 296.5,1132.1 298,1132.5 299.5,1132.9 301,1133.2 302.5,1133.5 304,1133.8 305.5,1134.1 307,1134.3 308.5,1134.6 310,1134.8 311.5,1135.1 313,1135.3 314.5,1135.6 316,1135.8 317.5,1136.1 319,1136.3 320.5,1136.6 322,1136.9 323.5,1137.2 325,1137.5 326.5,1137.8 328,1138.1 329.5,1138.4 331,1138.7 332.5,1139 334,1139.3 335.5,1139.6 337,1139.9 338.5,1140.2 340,1140.5 341.5,1140.8 343,1141.1 344.5,1141.4 346,1141.7 347.5,1142 349,1142.3 350.5,1142.6 352,1142.9 353.5,1143.2 355,1143.5 356.5,1143.8 358,1144.1 359.5,1144.4 361,1144.7 362.5,1145 364,1145.2 365.5,1145.5 367,1145.8 368.5,1146 370,1146.3 371.5,1146.5 373,1146.8 374.5,1147.1 376,1147.3 377.5,1147.6 379,1147.8 380.5,1148.1 382,1148.3 383.5,1148.6 385,1148.9 386.5,1149.1 388,1149.4 389.5,1149.7 391,1149.9 392.5,1150.2 394,1150.5 395.5,1150.7 397,1151 398.5,1151.2 400,1151.5 401.5,1151.8 403,1152 404.5,1152.3 406,1152.6 407.5,1152.8 409,1153.1 410.5,1153.4 412,1153.6 413.5,1153.9 415,1154.2 416.5,1154.4 418,1154.7 419.5,1154.9 421,1155.2 422.5,1155.4 424,1155.6 425.5,1155.9 427,1156.1 428.5,1156.3 430,1156.5 431.5,1156.7 433,1157 434.5,1157.2 436,1157.4 437.5,1157.6 439,1157.9 440.5,1158.1 442,1158.3 443.5,1158.5 445,1158.7 446.5,1159 448,1159.2 449.5,1159.4 451,1159.6 452.5,1159.9 454,1160.1 455.5,1160.3 457,1160.5 458.5,1160.8 460,1161 461.5,1161.2 463,1161.5 464.5,1161.7 466,1161.9 467.5,1162.1 469,1162.3 470.5,1162.6 472,1162.9 473.5,1163.2 475,1163.5 476.5,1163.8 478,1164.2 479.5,1164.6 481,1165.2 482.5,1166 484,1167.8 484.8,1169" fill="none" stroke="#000" stroke-width="2.9" stroke-dasharray="6.8 10" stroke-linecap="round" stroke-linejoin="round"/>
<path d="M80 877.6H484.7V1196.8" fill="none" stroke="#808080" stroke-width="1.5"/>
<text x="60.7" y="884.4" font-size="18" text-anchor="end" textLength="39.3" lengthAdjust="spacingAndGlyphs" fill="#595959">1000</text>
<text x="60.7" y="990.6" font-size="18" text-anchor="end" textLength="29.2" lengthAdjust="spacingAndGlyphs" fill="#595959">100</text>
<text x="60.7" y="1096.8" font-size="18" text-anchor="end" textLength="19.4" lengthAdjust="spacingAndGlyphs" fill="#595959">10</text>
<text x="60.7" y="1203.0" font-size="18" text-anchor="end" textLength="7.8" lengthAdjust="spacingAndGlyphs" fill="#595959">1</text>
<text x="80.0" y="1229.1" font-size="19.3" text-anchor="middle" textLength="24.1" lengthAdjust="spacingAndGlyphs" fill="#595959">0%</text>
<text x="160.9" y="1229.1" font-size="19.3" text-anchor="middle" textLength="34.3" lengthAdjust="spacingAndGlyphs" fill="#595959">20%</text>
<text x="241.9" y="1229.1" font-size="19.3" text-anchor="middle" textLength="34.3" lengthAdjust="spacingAndGlyphs" fill="#595959">40%</text>
<text x="322.8" y="1229.1" font-size="19.3" text-anchor="middle" textLength="34.3" lengthAdjust="spacingAndGlyphs" fill="#595959">60%</text>
<text x="403.8" y="1229.1" font-size="19.3" text-anchor="middle" textLength="34.3" lengthAdjust="spacingAndGlyphs" fill="#595959">80%</text>
<text x="484.7" y="1229.1" font-size="19.3" text-anchor="middle" textLength="44.2" lengthAdjust="spacingAndGlyphs" fill="#595959">100%</text>
<text x="307.7" y="1253.5" font-size="19.6" text-anchor="middle" textLength="155.6" lengthAdjust="spacingAndGlyphs" fill="#595959">Flow exceedance</text>
<g transform="translate(23.8 1036.4) rotate(-90)"><text x="0" y="0" font-size="18.5" text-anchor="middle" textLength="150" lengthAdjust="spacingAndGlyphs" fill="#595959">Daily flow (m<tspan font-size="12" dy="-6">3</tspan><tspan dy="6">/s)</tspan></text></g>
<text x="123.8" y="927.2" font-size="23" textLength="24.8" lengthAdjust="spacingAndGlyphs" font-weight="bold" fill="#000" stroke="#000" stroke-width="0.5">(c)</text>
<line x1="227.5" x2="284.5" y1="899.8" y2="899.8" stroke="#808080" stroke-width="3.6" stroke-linecap="round"/>
<text x="291.3" y="906.0" font-size="18" textLength="151" lengthAdjust="spacingAndGlyphs" fill="#595959">Parameter set #40</text>
<line x1="228.0" x2="284.5" y1="929" y2="929" stroke="#000" stroke-width="2.9" stroke-dasharray="6.8 10" stroke-linecap="round"/>
<text x="291.3" y="935.2" font-size="18" textLength="77.4" lengthAdjust="spacingAndGlyphs" fill="#595959">Observed</text>
<path d="M616.8 877.6V1196.6M632.6 877.6V1196.6M648.4 877.6V1196.6M664.2 877.6V1196.6M695.9 877.6V1196.6M711.7 877.6V1196.6M727.5 877.6V1196.6M743.3 877.6V1196.6M774.9 877.6V1196.6M790.7 877.6V1196.6M806.6 877.6V1196.6M822.4 877.6V1196.6M854.0 877.6V1196.6M869.8 877.6V1196.6M885.6 877.6V1196.6M901.4 877.6V1196.6M933.1 877.6V1196.6M948.9 877.6V1196.6M964.7 877.6V1196.6M980.5 877.6V1196.6M601 1164.6H996.3M601 1145.9H996.3M601 1132.6H996.3M601 1122.3H996.3M601 1113.9H996.3M601 1106.7H996.3M601 1100.6H996.3M601 1095.1H996.3M601 1058.3H996.3M601 1039.5H996.3M601 1026.2H996.3M601 1015.9H996.3M601 1007.5H996.3M601 1000.4H996.3M601 994.2H996.3M601 988.8H996.3M601 951.9H996.3M601 933.2H996.3M601 919.9H996.3M601 909.6H996.3M601 901.2H996.3M601 894.1H996.3M601 887.9H996.3M601 882.5H996.3" stroke="#ebebeb" stroke-width="1.5" fill="none"/>
<path d="M680.1 877.6V1196.6M759.1 877.6V1196.6M838.2 877.6V1196.6M917.2 877.6V1196.6M601 1090.3H996.3M601 983.9H996.3" stroke="#c8c8c8" stroke-width="1.5" fill="none"/>
<line x1="601" x2="996.3" y1="1196.6" y2="1196.6" stroke="#bdbdbd" stroke-width="1.5"/>
<line x1="601" x2="601" y1="877.6" y2="1196.6" stroke="#a6a6a6" stroke-width="1.5"/>
<clipPath id="cpd"><rect x="600.2" y="877.6" width="397.09999999999997" height="319.7999999999999"/></clipPath>
<polyline clip-path="url(#cpd)" points="601,952.5 601.5,985 602,1007.5 605,1022.5 606.5,1028.3 608,1032.5 609.5,1034.8 611,1036.6 612.5,1038.8 614,1041.7 615.5,1044.8 617,1047.5 618.5,1049.8 620,1052 621.5,1054 623,1055.8 624.5,1057.5 626,1059 627.5,1060.4 629,1061.6 630.5,1062.8 632,1064 633.5,1065.2 635,1066.3 636.5,1067.4 638,1068.4 639.5,1069.4 641,1070.4 642.5,1071.3 644,1072.2 645.5,1073.1 647,1074 648.5,1074.8 650,1075.6 651.5,1076.4 653,1077.2 654.5,1077.9 656,1078.6 657.5,1079.2 659,1079.8 660.5,1080.4 662,1081 663.5,1081.5 665,1082 666.5,1082.6 668,1083 669.5,1083.5 671,1084 672.5,1084.5 674,1085 675.5,1085.4 677,1085.9 678.5,1086.4 680,1086.8 681.5,1087.3 683,1087.8 684.5,1088.3 686,1088.8 687.5,1089.3 689,1089.8 690.5,1090.3 692,1090.8 693.5,1091.3 695,1091.8 696.5,1092.3 698,1092.7 699.5,1093.2 701,1093.7 702.5,1094.2 704,1094.6 705.5,1095.1 707,1095.6 708.5,1096 710,1096.5 711.5,1096.9 713,1097.4 714.5,1097.9 716,1098.3 717.5,1098.7 719,1099.2 720.5,1099.6 722,1100 723.5,1100.4 725,1100.8 726.5,1101.2 728,1101.6 729.5,1101.9 731,1102.3 732.5,1102.7 734,1103 735.5,1103.4 737,1103.8 738.5,1104.1 740,1104.5 741.5,1104.9 743,1105.2 744.5,1105.6 746,1106 747.5,1106.4 749,1106.7 750.5,1107.1 752,1107.4 753.5,1107.8 755,1108.2 756.5,1108.6 758,1108.9 759.5,1109.3 761,1109.7 762.5,1110.1 764,1110.6 765.5,1111 767,1111.4 768.5,1111.9 770,1112.4 771.5,1112.8 773,1113.3 774.5,1113.8 776,1114.2 777.5,1114.7 779,1115.1 780.5,1115.6 782,1116 783.5,1116.4 785,1116.8 786.5,1117.2 788,1117.6 789.5,1117.9 791,1118.3 792.5,1118.7 794,1119 795.5,1119.4 797,1119.8 798.5,1120.1 800,1120.5 801.5,1120.9 803,1121.2 804.5,1121.6 806,1122 807.5,1122.4 809,1122.7 810.5,1123.1 812,1123.5 813.5,1123.9 815,1124.2 816.5,1124.6 818,1125 819.5,1125.4 821,1125.7 822.5,1126.1 824,1126.5 825.5,1126.9 827,1127.3 828.5,1127.6 830,1128 831.5,1128.4 833,1128.8 834.5,1129.2 836,1129.7 837.5,1130.2 839,1130.7 840.5,1131.2 842,1131.8 843.5,1132.5 845,1133.1 846.5,1133.7 848,1134.4 849.5,1135 851,1135.6 852.5,1136.2 854,1136.8 855.5,1137.3 857,1137.9 858.5,1138.5 860,1139 861.5,1139.6 863,1140.2 864.5,1140.7 866,1141.3 867.5,1141.8 869,1142.4 870.5,1142.9 872,1143.5 873.5,1144.1 875,1144.6 876.5,1145.2 878,1145.8 879.5,1146.4 881,1147 882.5,1147.6 884,1148.2 885.5,1148.7 887,1149.3 888.5,1149.8 890,1150.3 891.5,1150.8 893,1151.3 894.5,1151.8 896,1152.2 897.5,1152.7 899,1153.1 900.5,1153.5 902,1153.9 903.5,1154.3 905,1154.7 906.5,1155.1 908,1155.5 909.5,1155.9 911,1156.3 912.5,1156.6 914,1157 915.5,1157.3 917,1157.6 918.5,1157.9 920,1158.3 921.5,1158.6 923,1158.9 924.5,1159.2 926,1159.5 927.5,1159.9 929,1160.2 930.5,1160.6 932,1161 933.5,1161.4 935,1161.9 936.5,1162.4 938,1162.9 939.5,1163.4 941,1164 942.5,1164.6 944,1165.2 945.5,1165.8 947,1166.5 948.5,1167.2 950,1168.1 951.5,1168.9 953,1169.9 954.5,1170.8 956,1171.8 957.5,1172.8 959,1173.8 960.5,1174.9 962,1175.9 963.5,1177 965,1178.2 966.5,1179.5 968,1181 969.5,1182.7 971,1184.6 972.5,1186.5 974,1188.4 974.5,1189 975.5,1190.2 977,1191.9 978.5,1193.7 980,1195.5 981.5,1197.4 982,1198 983,1199.3 984.5,1201.4 986,1203.5 987,1205" fill="none" stroke="#808080" stroke-width="3.6" stroke-linejoin="round" stroke-linecap="round"/>
<polyline clip-path="url(#cpd)" points="601,952.5 601.5,982.5 602,1005 605,1020 606.5,1025 608,1029.1 609.5,1032.5 611,1035.3 612.5,1037.8 614,1040 615.5,1042 617,1044 618.5,1045.9 620,1047.7 621.5,1049.4 623,1051 624.5,1052.5 626,1053.9 627.5,1055.3 629,1056.6 630.5,1057.8 632,1059 633.5,1060.1 635,1061.2 636.5,1062.3 638,1063.3 639.5,1064.4 641,1065.3 642.5,1066.3 644,1067.3 645.5,1068.3 647,1069.2 648.5,1070.1 650,1071.1 651.5,1072 653,1072.8 654.5,1073.7 656,1074.5 657.5,1075.3 659,1076 660.5,1076.8 662,1077.5 663.5,1078.2 665,1078.9 666.5,1079.6 668,1080.2 669.5,1080.9 671,1081.5 672.5,1082.2 674,1082.8 675.5,1083.4 677,1084 678.5,1084.6 680,1085.2 681.5,1085.8 683,1086.4 684.5,1087 686,1087.5 687.5,1088 689,1088.6 690.5,1089.1 692,1089.6 693.5,1090.1 695,1090.6 696.5,1091.2 698,1091.7 699.5,1092.2 701,1092.7 702.5,1093.2 704,1093.7 705.5,1094.2 707,1094.7 708.5,1095.2 710,1095.7 711.5,1096.2 713,1096.7 714.5,1097.2 716,1097.7 717.5,1098.2 719,1098.6 720.5,1099.1 722,1099.5 723.5,1099.9 725,1100.3 726.5,1100.7 728,1101.1 729.5,1101.4 731,1101.8 732.5,1102.2 734,1102.5 735.5,1102.9 737,1103.2 738.5,1103.6 740,1104 741.5,1104.4 743,1104.8 744.5,1105.1 746,1105.5 747.5,1105.8 749,1106.2 750.5,1106.5 752,1106.9 753.5,1107.2 755,1107.6 756.5,1108.1 758,1108.5 759.5,1109 761,1109.6 762.5,1110.2 764,1111.1 765.5,1112.2 767,1113.4 768.5,1114.6 770,1115.8 771.5,1116.7 773,1117.5 774.5,1118.1 776,1118.8 777.5,1119.3 779,1119.9 780.5,1120.4 782,1120.9 783.5,1121.4 785,1121.8 786.5,1122.3 788,1122.8 789.5,1123.2 791,1123.7 792.5,1124.2 794,1124.6 795.5,1125.1 797,1125.6 798.5,1126.1 800,1126.5 801.5,1127 803,1127.4 804.5,1127.9 806,1128.3 807.5,1128.7 809,1129.2 810.5,1129.6 812,1130 813.5,1130.4 815,1130.8 816.5,1131.2 818,1131.6 819.5,1131.9 821,1132.3 822.5,1132.7 824,1133 825.5,1133.4 827,1133.8 828.5,1134.1 830,1134.5 831.5,1134.9 833,1135.3 834.5,1135.6 836,1136 837.5,1136.4 839,1136.8 840.5,1137.2 842,1137.5 843.5,1137.9 845,1138.3 846.5,1138.7 848,1139 849.5,1139.4 851,1139.8 852.5,1140.1 854,1140.5 855.5,1140.8 857,1141.2 858.5,1141.5 860,1141.9 861.5,1142.2 863,1142.6 864.5,1142.9 866,1143.2 867.5,1143.6 869,1143.9 870.5,1144.2 872,1144.5 873.5,1144.8 875,1145.1 876.5,1145.4 878,1145.6 879.5,1145.9 881,1146.2 882.5,1146.4 884,1146.7 885.5,1146.9 887,1147.2 888.5,1147.4 890,1147.7 891.5,1147.9 893,1148.2 894.5,1148.4 896,1148.6 897.5,1148.9 899,1149.1 900.5,1149.3 902,1149.5 903.5,1149.7 905,1150 906.5,1150.2 908,1150.4 909.5,1150.6 911,1150.9 912.5,1151.1 914,1151.3 915.5,1151.5 917,1151.7 918.5,1152 920,1152.2 921.5,1152.4 923,1152.6 924.5,1152.8 926,1153.1 927.5,1153.3 929,1153.5 930.5,1153.8 932,1154 933.5,1154.2 935,1154.5 936.5,1154.8 938,1155 939.5,1155.3 941,1155.6 942.5,1155.8 944,1156.1 945.5,1156.4 947,1156.7 948.5,1156.9 950,1157.2 951.5,1157.4 953,1157.7 954.5,1157.9 956,1158.1 957.5,1158.3 959,1158.6 960.5,1158.8 962,1159 963.5,1159.2 965,1159.4 966.5,1159.7 968,1159.9 969.5,1160.1 971,1160.3 972.5,1160.6 974,1160.8 975.5,1161 977,1161.2 978.5,1161.4 980,1161.6 981.5,1161.8 983,1162.1 984.5,1162.4 986,1162.7 987,1163 987.5,1163.1 989,1163.7 990.5,1164.4 992,1165.3 993,1166 993.5,1166.4 995,1167.9 996,1169" fill="none" stroke="#000" stroke-width="2.9" stroke-dasharray="6.8 10" stroke-linecap="round" stroke-linejoin="round"/>
<path d="M601 877.6H996.3V1197.1999999999998" fill="none" stroke="#808080" stroke-width="1.5"/>
<text x="581.7" y="884.4" font-size="18" text-anchor="end" textLength="39.3" lengthAdjust="spacingAndGlyphs" fill="#595959">1000</text>
<text x="581.7" y="990.7" font-size="18" text-anchor="end" textLength="29.2" lengthAdjust="spacingAndGlyphs" fill="#595959">100</text>
<text x="581.7" y="1097.1" font-size="18" text-anchor="end" textLength="19.4" lengthAdjust="spacingAndGlyphs" fill="#595959">10</text>
<text x="581.7" y="1203.4" font-size="18" text-anchor="end" textLength="7.8" lengthAdjust="spacingAndGlyphs" fill="#595959">1</text>
<text x="601.0" y="1229.5" font-size="19.3" text-anchor="middle" textLength="24.1" lengthAdjust="spacingAndGlyphs" fill="#595959">0%</text>
<text x="680.1" y="1229.5" font-size="19.3" text-anchor="middle" textLength="34.3" lengthAdjust="spacingAndGlyphs" fill="#595959">20%</text>
<text x="759.1" y="1229.5" font-size="19.3" text-anchor="middle" textLength="34.3" lengthAdjust="spacingAndGlyphs" fill="#595959">40%</text>
<text x="838.2" y="1229.5" font-size="19.3" text-anchor="middle" textLength="34.3" lengthAdjust="spacingAndGlyphs" fill="#595959">60%</text>
<text x="917.2" y="1229.5" font-size="19.3" text-anchor="middle" textLength="34.3" lengthAdjust="spacingAndGlyphs" fill="#595959">80%</text>
<text x="996.3" y="1229.5" font-size="19.3" text-anchor="middle" textLength="44.2" lengthAdjust="spacingAndGlyphs" fill="#595959">100%</text>
<text x="824" y="1253.5" font-size="19.6" text-anchor="middle" textLength="155.6" lengthAdjust="spacingAndGlyphs" fill="#595959">Flow exceedance</text>
<g transform="translate(544.8 1036.6) rotate(-90)"><text x="0" y="0" font-size="18.5" text-anchor="middle" textLength="150" lengthAdjust="spacingAndGlyphs" fill="#595959">Daily flow (m<tspan font-size="12" dy="-6">3</tspan><tspan dy="6">/s)</tspan></text></g>
<text x="639.6" y="927.6" font-size="23" textLength="29.2" lengthAdjust="spacingAndGlyphs" font-weight="bold" fill="#000" stroke="#000" stroke-width="0.5">(d)</text>
<line x1="745" x2="802" y1="900.8" y2="900.8" stroke="#808080" stroke-width="3.6" stroke-linecap="round"/>
<text x="809.2" y="907.0" font-size="18" textLength="160.8" lengthAdjust="spacingAndGlyphs" fill="#595959">Parameter set #179</text>
<line x1="745.5" x2="802" y1="929.5" y2="929.5" stroke="#000" stroke-width="2.9" stroke-dasharray="6.8 10" stroke-linecap="round"/>
<text x="809.2" y="935.7" font-size="18" textLength="77" lengthAdjust="spacingAndGlyphs" fill="#595959">Observed</text>
</svg></body></html>
